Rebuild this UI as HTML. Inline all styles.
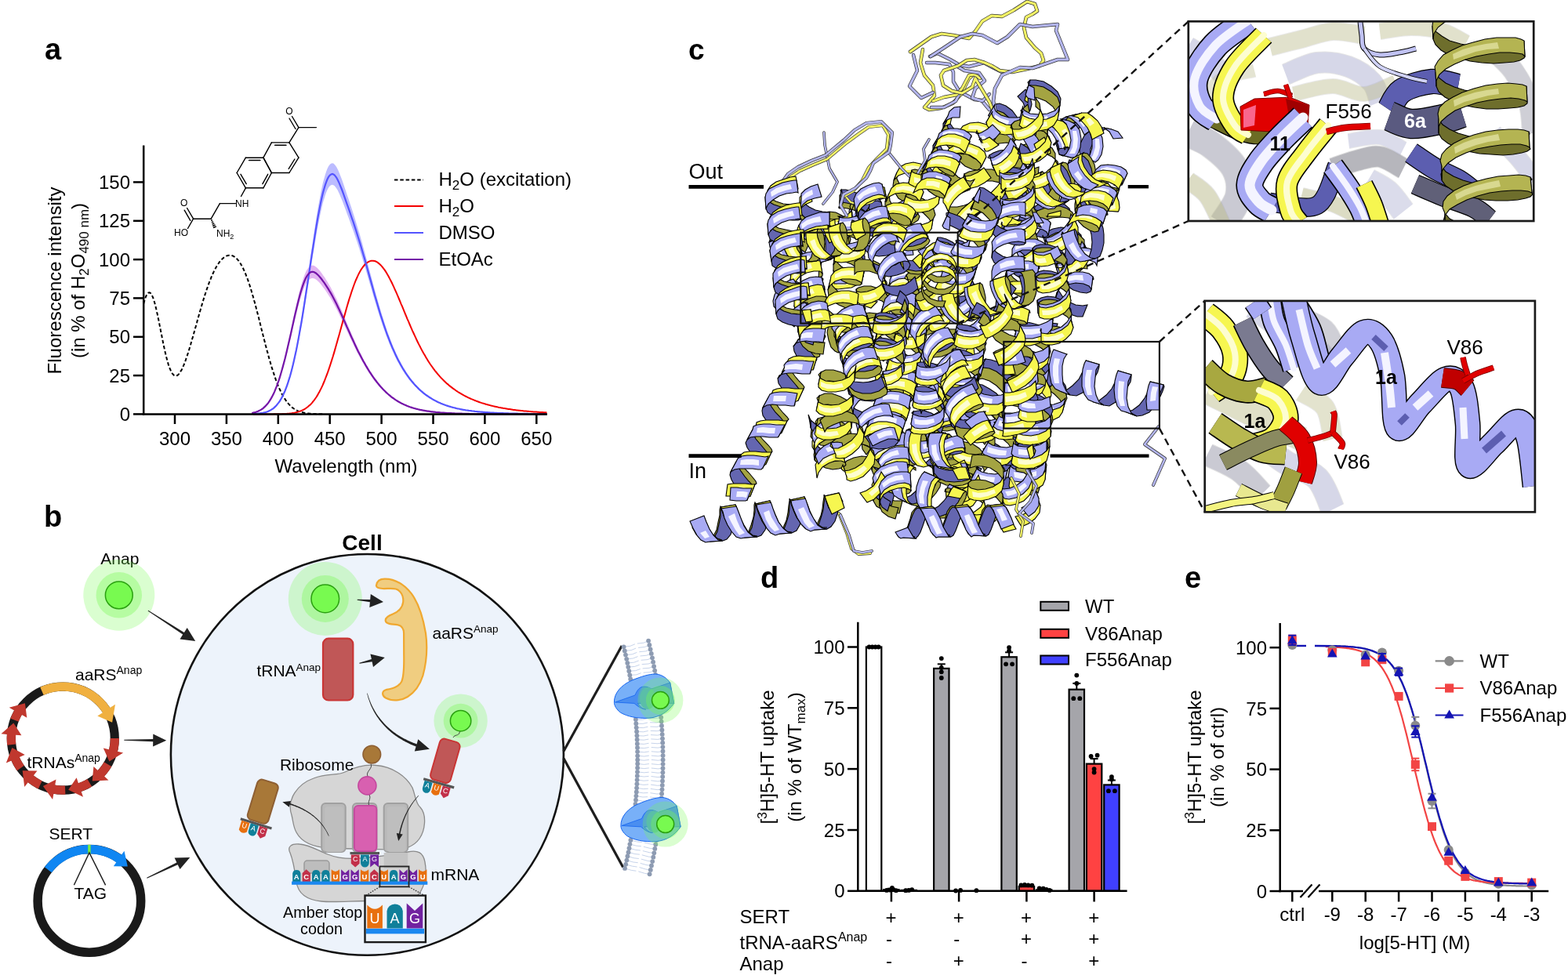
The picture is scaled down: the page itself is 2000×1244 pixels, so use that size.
<!DOCTYPE html>
<html><head><meta charset="utf-8"><title>Figure</title>
<style>
html,body{margin:0;padding:0;background:#fff;}
body{width:2000px;height:1244px;overflow:hidden;}
svg{display:block;font-family:"Liberation Sans",Arial,sans-serif;}
.lf{fill:#a8aaf4;stroke:#000;stroke-width:1.1}.lb{fill:#6466b0;stroke:#000;stroke-width:1.1}.lh{fill:#f4f4ff}.yf{fill:#f6f650;stroke:#000;stroke-width:1.1}.yb{fill:#a4a442;stroke:#000;stroke-width:1.1}.yh{fill:#fdfdd0}.of{fill:#b4b452;stroke:#000;stroke-width:1.1}.ob{fill:#6e6e2c;stroke:#000;stroke-width:1.1}.oh{fill:#d8d890}.df{fill:#7c7ecc;stroke:#000;stroke-width:1.1}.db{fill:#3e3e90;stroke:#000;stroke-width:1.1}.dh{fill:#b0b2ea}.tb{fill:none;stroke-linejoin:round;stroke-linecap:round}
</style></head>
<body>
<svg width="2000" height="1244" viewBox="0 0 2000 1244">
<rect width="2000" height="1244" fill="#fff"/>
<!-- panel_a -->
<text x="57" y="76" font-size="38" font-weight="bold">a</text>
<g stroke="#000" stroke-width="1.4" fill="none" stroke-linecap="round">
<line x1="368.9" y1="181.9" x2="380.9" y2="201.2" stroke="#000" stroke-width="1.4"/>
<line x1="380.9" y1="201.2" x2="368.9" y2="220.5" stroke="#000" stroke-width="1.4"/>
<line x1="368.9" y1="220.5" x2="346.4" y2="220.5" stroke="#000" stroke-width="1.4"/>
<line x1="346.4" y1="220.5" x2="335.9" y2="201.2" stroke="#000" stroke-width="1.4"/>
<line x1="335.9" y1="201.2" x2="346.4" y2="181.9" stroke="#000" stroke-width="1.4"/>
<line x1="346.4" y1="181.9" x2="368.9" y2="181.9" stroke="#000" stroke-width="1.4"/>
<line x1="335.9" y1="201.2" x2="346.4" y2="220.5" stroke="#000" stroke-width="1.4"/>
<line x1="346.4" y1="220.5" x2="335.9" y2="239.8" stroke="#000" stroke-width="1.4"/>
<line x1="335.9" y1="239.8" x2="313.4" y2="239.8" stroke="#000" stroke-width="1.4"/>
<line x1="313.4" y1="239.8" x2="302.1" y2="220.5" stroke="#000" stroke-width="1.4"/>
<line x1="302.1" y1="220.5" x2="313.4" y2="201.2" stroke="#000" stroke-width="1.4"/>
<line x1="313.4" y1="201.2" x2="335.9" y2="201.2" stroke="#000" stroke-width="1.4"/>
<line x1="365" y1="185.2" x2="350.6" y2="185.2" stroke="#000" stroke-width="1.4"/>
<line x1="375.9" y1="203" x2="368.2" y2="215.4" stroke="#000" stroke-width="1.4"/>
<line x1="334.9" y1="234.7" x2="341.7" y2="222.3" stroke="#000" stroke-width="1.4"/>
<line x1="314.2" y1="234.7" x2="307" y2="222.3" stroke="#000" stroke-width="1.4"/>
<line x1="317.5" y1="204.5" x2="331.9" y2="204.5" stroke="#000" stroke-width="1.4"/>
<line x1="368.9" y1="181.9" x2="380.9" y2="162.6" stroke="#000" stroke-width="1.4"/>
<line x1="380.9" y1="162.6" x2="403.4" y2="162.6" stroke="#000" stroke-width="1.4"/>
<line x1="380.9" y1="162.6" x2="372.5" y2="148.5" stroke="#000" stroke-width="1.4"/>
<line x1="377" y1="164.5" x2="369" y2="151" stroke="#000" stroke-width="1.4"/>
<line x1="313.4" y1="239.8" x2="307.5" y2="250.5" stroke="#000" stroke-width="1.4"/>
<line x1="300.5" y1="259.6" x2="280.4" y2="259.6" stroke="#000" stroke-width="1.4"/>
<line x1="280.4" y1="259.6" x2="269.2" y2="279.2" stroke="#000" stroke-width="1.4"/>
<line x1="269.2" y1="279.2" x2="246.6" y2="279.2" stroke="#000" stroke-width="1.4"/>
<line x1="246.6" y1="279.2" x2="238.6" y2="265.5" stroke="#000" stroke-width="1.4"/>
<line x1="242.8" y1="281.3" x2="235.2" y2="268.2" stroke="#000" stroke-width="1.4"/>
<line x1="246.6" y1="279.2" x2="239.5" y2="291.5" stroke="#000" stroke-width="1.4"/>
</g>
<g stroke="#000" stroke-width="1.6">
<line x1="269.2" y1="281.5" x2="270.9" y2="280.8" stroke="#000" stroke-width="1.6"/>
<line x1="269.9" y1="283.7" x2="272.1" y2="282.9" stroke="#000" stroke-width="1.6"/>
<line x1="270.6" y1="286" x2="273.3" y2="284.9" stroke="#000" stroke-width="1.6"/>
<line x1="271.2" y1="288.3" x2="274.6" y2="287" stroke="#000" stroke-width="1.6"/>
<line x1="271.9" y1="290.6" x2="275.8" y2="289.1" stroke="#000" stroke-width="1.6"/>
</g>
<g font-size="12">
<text x="368.9" y="146" font-size="12" text-anchor="middle">O</text>
<text x="300" y="264" font-size="12">NH</text>
<text x="234.6" y="262.5" font-size="12" text-anchor="middle">O</text>
<text x="222" y="301" font-size="12">HO</text>
<text x="276" y="302" font-size="12">NH<tspan font-size="9" dy="3">2</tspan></text>
</g>
<path d="M322.5,527.5 L323.8,527.5 L325.1,527.4 L326.5,527.3 L327.8,527.2 L329.1,527.1 L330.4,527 L331.7,526.8 L333.1,526.6 L334.4,526.4 L335.7,526.1 L337,525.8 L338.3,525.5 L339.6,525.1 L341,524.6 L342.3,524.1 L343.6,523.5 L344.9,522.8 L346.2,522 L347.6,521.2 L348.9,520.2 L350.2,519 L351.5,517.8 L352.8,516.4 L354.1,514.8 L355.5,513 L356.8,511 L358.1,508.8 L359.4,506.4 L360.7,503.8 L362,500.9 L363.4,497.7 L364.7,494.3 L366,490.5 L367.3,486.5 L368.6,482.2 L370,477.6 L371.3,472.6 L372.6,467.4 L373.9,461.8 L375.2,455.9 L376.5,449.6 L377.9,443.1 L379.2,436.2 L380.5,429 L381.8,421.5 L383.1,413.7 L384.5,405.7 L385.8,397.4 L387.1,388.9 L388.4,380.3 L389.7,371.4 L391,362.4 L392.4,353.4 L393.7,344.2 L395,335 L396.3,325.9 L397.6,316.8 L399,307.8 L400.3,298.9 L401.6,290.3 L402.9,281.8 L404.2,273.6 L405.5,265.8 L406.9,258.3 L408.2,251.2 L409.5,244.5 L410.8,238.3 L412.1,232.6 L413.5,227.5 L414.8,222.9 L416.1,218.9 L417.4,215.5 L418.7,212.8 L420,210.7 L421.4,209.2 L422.7,208.4 L424,208.2 L425.3,208.6 L426.6,209.7 L427.9,211.2 L429.3,213.3 L430.6,215.7 L431.9,218.5 L433.2,221.7 L434.5,225 L435.9,228.6 L437.2,232.3 L438.5,236.1 L439.8,239.9 L441.1,243.8 L442.4,247.7 L443.8,251.7 L445.1,255.6 L446.4,259.6 L447.7,263.6 L449,267.6 L450.4,271.7 L451.7,275.8 L453,280 L454.3,284.2 L455.6,288.5 L456.9,292.9 L458.3,297.3 L459.6,301.8 L460.9,306.5 L462.2,311.1 L463.5,315.9 L464.9,320.7 L466.2,325.5 L467.5,330.4 L468.8,335.4 L470.1,340.3 L471.4,345.3 L472.8,350.2 L474.1,355.2 L475.4,360.1 L476.7,365 L478,369.8 L479.4,374.6 L480.7,379.4 L482,384 L483.3,388.6 L484.6,393.1 L485.9,397.6 L487.3,401.9 L488.6,406.1 L489.9,410.3 L491.2,414.3 L492.5,418.2 L493.8,422 L495.2,425.8 L496.5,429.4 L497.8,432.9 L499.1,436.3 L500.4,439.6 L501.8,442.8 L503.1,445.8 L504.4,448.8 L505.7,451.7 L507,454.5 L508.3,457.2 L509.7,459.8 L511,462.3 L512.3,464.8 L513.6,467.1 L514.9,469.4 L516.3,471.6 L517.6,473.7 L518.9,475.7 L520.2,477.7 L521.5,479.6 L522.8,481.4 L524.2,483.2 L525.5,484.9 L526.8,486.5 L528.1,488.1 L529.4,489.7 L530.8,491.1 L532.1,492.5 L533.4,493.9 L534.7,495.2 L536,496.5 L537.3,497.7 L538.7,498.9 L540,500 L541.3,501.1 L542.6,502.2 L543.9,503.2 L545.3,504.2 L546.6,505.1 L547.9,506 L549.2,506.9 L550.5,507.8 L551.8,508.6 L553.2,509.3 L554.5,510.1 L555.8,510.8 L557.1,511.5 L558.4,512.2 L559.7,512.8 L561.1,513.4 L562.4,514 L563.7,514.6 L565,515.1 L566.3,515.6 L567.7,516.1 L569,516.6 L570.3,517 L571.6,517.5 L572.9,517.9 L574.2,518.3 L575.6,518.7 L576.9,519 L578.2,519.4 L579.5,519.7 L580.8,520.1 L582.2,520.4 L583.5,520.7 L584.8,521 L586.1,521.2 L587.4,521.5 L588.7,521.7 L590.1,522 L591.4,522.2 L592.7,522.5 L594,522.7 L595.3,522.9 L596.7,523.1 L598,523.3 L599.3,523.4 L600.6,523.6 L601.9,523.8 L603.2,524 L604.6,524.1 L605.9,524.3 L607.2,524.4 L608.5,524.5 L609.8,524.7 L611.2,524.8 L612.5,524.9 L613.8,525 L615.1,525.1 L616.4,525.3 L617.7,525.4 L619.1,525.5 L620.4,525.5 L621.7,525.6 L623,525.7 L624.3,525.8 L625.6,525.9 L627,526 L628.3,526 L629.6,526.1 L630.9,526.2 L632.2,526.2 L633.6,526.3 L634.9,526.4 L636.2,526.4 L637.5,526.5 L638.8,526.5 L640.1,526.6 L641.5,526.6 L642.8,526.7 L644.1,526.7 L645.4,526.8 L646.7,526.8 L648.1,526.8 L649.4,526.9 L650.7,526.9 L652,527 L653.3,527 L654.6,527 L656,527 L657.3,527.1 L658.6,527.1 L659.9,527.1 L661.2,527.2 L662.6,527.2 L663.9,527.2 L665.2,527.2 L666.5,527.3 L667.8,527.3 L669.1,527.3 L670.5,527.3 L671.8,527.3 L673.1,527.4 L674.4,527.4 L675.7,527.4 L677.1,527.4 L678.4,527.4 L679.7,527.4 L681,527.4 L682.3,527.5 L683.6,527.5 L685,527.5 L686.3,527.5 L687.6,527.5 L688.9,527.5 L690.2,527.5 L691.5,527.5 L692.9,527.6 L694.2,527.6 L695.5,527.6 L696.8,527.6 L696.8,528.4 L695.5,528.4 L694.2,528.4 L692.9,528.4 L691.5,528.4 L690.2,528.4 L688.9,528.4 L687.6,528.4 L686.3,528.4 L685,528.4 L683.6,528.4 L682.3,528.4 L681,528.4 L679.7,528.4 L678.4,528.4 L677.1,528.4 L675.7,528.4 L674.4,528.4 L673.1,528.4 L671.8,528.4 L670.5,528.4 L669.1,528.4 L667.8,528.4 L666.5,528.4 L665.2,528.4 L663.9,528.4 L662.6,528.4 L661.2,528.3 L659.9,528.3 L658.6,528.3 L657.3,528.3 L656,528.2 L654.6,528.2 L653.3,528.2 L652,528.1 L650.7,528.1 L649.4,528.1 L648.1,528 L646.7,528 L645.4,527.9 L644.1,527.9 L642.8,527.9 L641.5,527.8 L640.1,527.8 L638.8,527.7 L637.5,527.7 L636.2,527.6 L634.9,527.5 L633.6,527.5 L632.2,527.4 L630.9,527.4 L629.6,527.3 L628.3,527.2 L627,527.1 L625.6,527.1 L624.3,527 L623,526.9 L621.7,526.8 L620.4,526.7 L619.1,526.6 L617.7,526.5 L616.4,526.4 L615.1,526.3 L613.8,526.2 L612.5,526.1 L611.2,526 L609.8,525.9 L608.5,525.7 L607.2,525.6 L605.9,525.4 L604.6,525.3 L603.2,525.1 L601.9,525 L600.6,524.8 L599.3,524.6 L598,524.5 L596.7,524.3 L595.3,524.1 L594,523.9 L592.7,523.6 L591.4,523.4 L590.1,523.2 L588.7,522.9 L587.4,522.7 L586.1,522.4 L584.8,522.1 L583.5,521.8 L582.2,521.5 L580.8,521.2 L579.5,520.9 L578.2,520.6 L576.9,520.2 L575.6,519.9 L574.2,519.5 L572.9,519.1 L571.6,518.7 L570.3,518.2 L569,517.8 L567.7,517.3 L566.3,516.8 L565,516.3 L563.7,515.8 L562.4,515.3 L561.1,514.7 L559.7,514.2 L558.4,513.6 L557.1,513 L555.8,512.3 L554.5,511.7 L553.2,511 L551.8,510.3 L550.5,509.5 L549.2,508.8 L547.9,508 L546.6,507.1 L545.3,506.3 L543.9,505.4 L542.6,504.4 L541.3,503.5 L540,502.5 L538.7,501.4 L537.3,500.4 L536,499.2 L534.7,498.1 L533.4,496.9 L532.1,495.6 L530.8,494.3 L529.4,493 L528.1,491.6 L526.8,490.1 L525.5,488.6 L524.2,487.1 L522.8,485.5 L521.5,483.8 L520.2,482.1 L518.9,480.3 L517.6,478.4 L516.3,476.5 L514.9,474.5 L513.6,472.4 L512.3,470.3 L511,468 L509.7,465.7 L508.3,463.3 L507,460.9 L505.7,458.3 L504.4,455.7 L503.1,453 L501.8,450.1 L500.4,447.2 L499.1,444.2 L497.8,441.1 L496.5,437.9 L495.2,434.6 L493.8,431.2 L492.5,427.7 L491.2,424.1 L489.9,420.4 L488.6,416.7 L487.3,412.8 L485.9,408.8 L484.6,404.8 L483.3,400.7 L482,396.5 L480.7,392.2 L479.4,387.9 L478,383.5 L476.7,379.1 L475.4,374.6 L474.1,370.1 L472.8,365.6 L471.4,361 L470.1,356.5 L468.8,352 L467.5,347.5 L466.2,343 L464.9,338.6 L463.5,334.2 L462.2,329.8 L460.9,325.6 L459.6,321.4 L458.3,317.2 L456.9,313.1 L455.6,309.1 L454.3,305.2 L453,301.4 L451.7,297.5 L450.4,293.8 L449,290.1 L447.7,286.4 L446.4,282.8 L445.1,279.1 L443.8,275.5 L442.4,271.9 L441.1,268.3 L439.8,264.8 L438.5,261.3 L437.2,257.8 L435.9,254.4 L434.5,251.2 L433.2,248.1 L431.9,245.2 L430.6,242.6 L429.3,240.4 L427.9,238.5 L426.6,237.1 L425.3,236.2 L424,235.8 L422.7,236 L421.4,236.7 L420,238 L418.7,240 L417.4,242.5 L416.1,245.6 L414.8,249.2 L413.5,253.4 L412.1,258.1 L410.8,263.3 L409.5,269 L408.2,275.1 L406.9,281.5 L405.5,288.4 L404.2,295.6 L402.9,303 L401.6,310.8 L400.3,318.7 L399,326.8 L397.6,335 L396.3,343.3 L395,351.7 L393.7,360.1 L392.4,368.4 L391,376.7 L389.7,384.9 L388.4,393 L387.1,401 L385.8,408.7 L384.5,416.3 L383.1,423.6 L381.8,430.7 L380.5,437.5 L379.2,444.1 L377.9,450.4 L376.5,456.4 L375.2,462.1 L373.9,467.5 L372.6,472.6 L371.3,477.5 L370,482 L368.6,486.2 L367.3,490.1 L366,493.8 L364.7,497.2 L363.4,500.3 L362,503.2 L360.7,505.9 L359.4,508.3 L358.1,510.5 L356.8,512.5 L355.5,514.4 L354.1,516 L352.8,517.6 L351.5,519 L350.2,520.2 L348.9,521.4 L347.6,522.3 L346.2,523.2 L344.9,524 L343.6,524.7 L342.3,525.3 L341,525.8 L339.6,526.3 L338.3,526.7 L337,527 L335.7,527.3 L334.4,527.6 L333.1,527.8 L331.7,528 L330.4,528.2 L329.1,528.3 L327.8,528.4 L326.5,528.4 L325.1,528.4 L323.8,528.4 L322.5,528.4Z" fill="#b8b8ff" opacity="0.95"/>
<path d="M321.2,526.4 L322.5,526.2 L323.8,525.9 L325.1,525.5 L326.5,525.1 L327.8,524.6 L329.1,524.1 L330.4,523.5 L331.7,522.8 L333.1,522 L334.4,521.2 L335.7,520.2 L337,519.1 L338.3,517.8 L339.6,516.4 L341,514.9 L342.3,513.1 L343.6,511.2 L344.9,509 L346.2,506.6 L347.6,504.1 L348.9,501.3 L350.2,498.3 L351.5,495 L352.8,491.5 L354.1,487.8 L355.5,483.8 L356.8,479.5 L358.1,475 L359.4,470.3 L360.7,465.4 L362,460.2 L363.4,454.8 L364.7,449.3 L366,443.6 L367.3,437.7 L368.6,431.7 L370,425.6 L371.3,419.5 L372.6,413.3 L373.9,407.1 L375.2,401 L376.5,395 L377.9,389.1 L379.2,383.3 L380.5,377.8 L381.8,372.4 L383.1,367.4 L384.5,362.7 L385.8,358.4 L387.1,354.4 L388.4,350.9 L389.7,347.7 L391,345.1 L392.4,342.9 L393.7,341.2 L395,339.9 L396.3,339.1 L397.6,338.7 L399,338.6 L400.3,338.9 L401.6,339.6 L402.9,340.4 L404.2,341.5 L405.5,342.8 L406.9,344.3 L408.2,345.8 L409.5,347.5 L410.8,349.3 L412.1,351.2 L413.5,353.1 L414.8,355.1 L416.1,357.2 L417.4,359.3 L418.7,361.5 L420,363.8 L421.4,366.1 L422.7,368.5 L424,371 L425.3,373.5 L426.6,376.2 L427.9,378.9 L429.3,381.6 L430.6,384.5 L431.9,387.4 L433.2,390.3 L434.5,393.3 L435.9,396.3 L437.2,399.4 L438.5,402.5 L439.8,405.6 L441.1,408.7 L442.4,411.8 L443.8,415 L445.1,418.1 L446.4,421.2 L447.7,424.2 L449,427.3 L450.4,430.3 L451.7,433.3 L453,436.2 L454.3,439.1 L455.6,442 L456.9,444.8 L458.3,447.5 L459.6,450.2 L460.9,452.8 L462.2,455.4 L463.5,457.9 L464.9,460.4 L466.2,462.8 L467.5,465.2 L468.8,467.5 L470.1,469.7 L471.4,471.9 L472.8,474 L474.1,476.1 L475.4,478.1 L476.7,480.1 L478,482 L479.4,483.8 L480.7,485.6 L482,487.4 L483.3,489 L484.6,490.7 L485.9,492.2 L487.3,493.8 L488.6,495.2 L489.9,496.7 L491.2,498 L492.5,499.3 L493.8,500.6 L495.2,501.9 L496.5,503 L497.8,504.2 L499.1,505.3 L500.4,506.3 L501.8,507.3 L503.1,508.3 L504.4,509.2 L505.7,510.1 L507,511 L508.3,511.8 L509.7,512.6 L511,513.3 L512.3,514.1 L513.6,514.7 L514.9,515.4 L516.3,516 L517.6,516.5 L518.9,517.1 L520.2,517.6 L521.5,518.1 L522.8,518.6 L524.2,519 L525.5,519.5 L526.8,519.9 L528.1,520.3 L529.4,520.7 L530.8,521 L532.1,521.4 L533.4,521.7 L534.7,522 L536,522.3 L537.3,522.6 L538.7,522.8 L540,523.1 L541.3,523.3 L542.6,523.5 L543.9,523.8 L545.3,524 L546.6,524.2 L547.9,524.3 L549.2,524.5 L550.5,524.7 L551.8,524.8 L553.2,525 L554.5,525.1 L555.8,525.3 L557.1,525.4 L558.4,525.5 L559.7,525.6 L561.1,525.8 L562.4,525.9 L563.7,526 L565,526.1 L566.3,526.1 L567.7,526.2 L569,526.3 L570.3,526.4 L571.6,526.5 L572.9,526.5 L574.2,526.6 L575.6,526.7 L576.9,526.7 L578.2,526.8 L579.5,526.8 L580.8,526.9 L582.2,526.9 L583.5,527 L584.8,527 L586.1,527.1 L587.4,527.1 L588.7,527.1 L590.1,527.2 L591.4,527.2 L592.7,527.2 L594,527.3 L595.3,527.3 L596.7,527.3 L598,527.3 L599.3,527.4 L600.6,527.4 L601.9,527.4 L603.2,527.4 L604.6,527.4 L605.9,527.5 L607.2,527.5 L608.5,527.5 L609.8,527.5 L611.2,527.5 L612.5,527.5 L613.8,527.6 L615.1,527.6 L616.4,527.6 L617.7,527.6 L619.1,527.6 L620.4,527.6 L621.7,527.6 L623,527.6 L624.3,527.6 L625.6,527.6 L627,527.7 L628.3,527.7 L629.6,527.7 L630.9,527.7 L632.2,527.7 L633.6,527.7 L634.9,527.7 L636.2,527.7 L637.5,527.7 L638.8,527.7 L640.1,527.7 L641.5,527.7 L642.8,527.7 L644.1,527.7 L645.4,527.7 L646.7,527.7 L648.1,527.7 L649.4,527.7 L650.7,527.7 L652,527.7 L653.3,527.8 L654.6,527.8 L656,527.8 L657.3,527.8 L658.6,527.8 L659.9,527.8 L661.2,527.8 L662.6,527.8 L663.9,527.8 L665.2,527.8 L666.5,527.8 L667.8,527.8 L669.1,527.8 L670.5,527.8 L671.8,527.8 L673.1,527.8 L674.4,527.8 L675.7,527.8 L677.1,527.8 L678.4,527.8 L679.7,527.8 L681,527.8 L682.3,527.8 L683.6,527.8 L685,527.8 L686.3,527.8 L687.6,527.8 L688.9,527.8 L690.2,527.8 L691.5,527.8 L692.9,527.8 L694.2,527.8 L695.5,527.8 L696.8,527.8 L696.8,528.4 L695.5,528.4 L694.2,528.4 L692.9,528.4 L691.5,528.4 L690.2,528.4 L688.9,528.4 L687.6,528.4 L686.3,528.4 L685,528.4 L683.6,528.4 L682.3,528.4 L681,528.4 L679.7,528.4 L678.4,528.4 L677.1,528.4 L675.7,528.4 L674.4,528.4 L673.1,528.4 L671.8,528.4 L670.5,528.4 L669.1,528.4 L667.8,528.4 L666.5,528.4 L665.2,528.4 L663.9,528.4 L662.6,528.4 L661.2,528.4 L659.9,528.4 L658.6,528.4 L657.3,528.4 L656,528.4 L654.6,528.4 L653.3,528.4 L652,528.4 L650.7,528.4 L649.4,528.4 L648.1,528.4 L646.7,528.4 L645.4,528.4 L644.1,528.4 L642.8,528.4 L641.5,528.4 L640.1,528.4 L638.8,528.4 L637.5,528.4 L636.2,528.4 L634.9,528.4 L633.6,528.4 L632.2,528.4 L630.9,528.4 L629.6,528.4 L628.3,528.4 L627,528.4 L625.6,528.4 L624.3,528.4 L623,528.4 L621.7,528.4 L620.4,528.4 L619.1,528.4 L617.7,528.4 L616.4,528.4 L615.1,528.4 L613.8,528.4 L612.5,528.4 L611.2,528.4 L609.8,528.4 L608.5,528.4 L607.2,528.4 L605.9,528.4 L604.6,528.4 L603.2,528.4 L601.9,528.4 L600.6,528.4 L599.3,528.4 L598,528.4 L596.7,528.4 L595.3,528.4 L594,528.4 L592.7,528.4 L591.4,528.4 L590.1,528.3 L588.7,528.3 L587.4,528.3 L586.1,528.2 L584.8,528.2 L583.5,528.2 L582.2,528.1 L580.8,528.1 L579.5,528 L578.2,528 L576.9,527.9 L575.6,527.8 L574.2,527.8 L572.9,527.7 L571.6,527.6 L570.3,527.6 L569,527.5 L567.7,527.4 L566.3,527.3 L565,527.2 L563.7,527.1 L562.4,527 L561.1,526.9 L559.7,526.8 L558.4,526.7 L557.1,526.6 L555.8,526.5 L554.5,526.3 L553.2,526.2 L551.8,526 L550.5,525.9 L549.2,525.7 L547.9,525.5 L546.6,525.3 L545.3,525.1 L543.9,524.9 L542.6,524.7 L541.3,524.5 L540,524.3 L538.7,524 L537.3,523.7 L536,523.5 L534.7,523.2 L533.4,522.9 L532.1,522.5 L530.8,522.2 L529.4,521.8 L528.1,521.5 L526.8,521.1 L525.5,520.7 L524.2,520.2 L522.8,519.8 L521.5,519.3 L520.2,518.8 L518.9,518.3 L517.6,517.7 L516.3,517.1 L514.9,516.5 L513.6,515.9 L512.3,515.3 L511,514.6 L509.7,513.9 L508.3,513.2 L507,512.5 L505.7,511.7 L504.4,510.9 L503.1,510 L501.8,509.1 L500.4,508.2 L499.1,507.3 L497.8,506.3 L496.5,505.2 L495.2,504.1 L493.8,503 L492.5,501.9 L491.2,500.6 L489.9,499.4 L488.6,498.1 L487.3,496.7 L485.9,495.4 L484.6,493.9 L483.3,492.4 L482,490.9 L480.7,489.3 L479.4,487.7 L478,486 L476.7,484.3 L475.4,482.5 L474.1,480.6 L472.8,478.7 L471.4,476.8 L470.1,474.8 L468.8,472.7 L467.5,470.6 L466.2,468.5 L464.9,466.3 L463.5,464 L462.2,461.7 L460.9,459.3 L459.6,456.9 L458.3,454.5 L456.9,452 L455.6,449.4 L454.3,446.8 L453,444.2 L451.7,441.5 L450.4,438.8 L449,436 L447.7,433.2 L446.4,430.4 L445.1,427.6 L443.8,424.7 L442.4,421.9 L441.1,419 L439.8,416.2 L438.5,413.3 L437.2,410.5 L435.9,407.7 L434.5,404.9 L433.2,402.2 L431.9,399.5 L430.6,396.9 L429.3,394.3 L427.9,391.7 L426.6,389.3 L425.3,386.9 L424,384.6 L422.7,382.3 L421.4,380.1 L420,378 L418.7,375.9 L417.4,373.9 L416.1,371.9 L414.8,370 L413.5,368.2 L412.1,366.4 L410.8,364.7 L409.5,363.1 L408.2,361.6 L406.9,360.1 L405.5,358.8 L404.2,357.6 L402.9,356.6 L401.6,355.8 L400.3,355.3 L399,355 L397.6,355 L396.3,355.4 L395,356.2 L393.7,357.3 L392.4,358.9 L391,360.9 L389.7,363.3 L388.4,366.1 L387.1,369.4 L385.8,373 L384.5,377 L383.1,381.3 L381.8,385.9 L380.5,390.7 L379.2,395.8 L377.9,401.1 L376.5,406.5 L375.2,412 L373.9,417.6 L372.6,423.2 L371.3,428.9 L370,434.5 L368.6,440 L367.3,445.5 L366,450.9 L364.7,456.1 L363.4,461.2 L362,466.1 L360.7,470.8 L359.4,475.3 L358.1,479.6 L356.8,483.7 L355.5,487.6 L354.1,491.3 L352.8,494.7 L351.5,497.9 L350.2,500.9 L348.9,503.6 L347.6,506.2 L346.2,508.5 L344.9,510.7 L343.6,512.6 L342.3,514.4 L341,516.1 L339.6,517.6 L338.3,519 L337,520.2 L335.7,521.4 L334.4,522.3 L333.1,523.2 L331.7,524 L330.4,524.7 L329.1,525.3 L327.8,525.8 L326.5,526.3 L325.1,526.7 L323.8,527 L322.5,527.3 L321.2,527.6Z" fill="#e0b0f0" opacity="0.95"/>
<path d="M183.2,387.4 L183.9,385 L184.5,382.8 L185.2,380.8 L185.8,379 L186.5,377.5 L187.2,376.2 L187.8,375.1 L188.5,374.3 L189.1,373.7 L189.8,373.4 L190.4,373.3 L191.1,373.5 L191.8,373.9 L192.4,374.6 L193.1,375.5 L193.7,376.6 L194.4,378 L195.1,379.6 L195.7,381.4 L196.4,383.4 L197,385.6 L197.7,388 L198.4,390.5 L199,393.2 L199.7,396 L200.3,399 L201,402 L201.6,405.1 L202.3,408.3 L203,411.6 L203.6,414.9 L204.3,418.3 L204.9,421.6 L205.6,425 L206.3,428.3 L206.9,431.6 L207.6,434.9 L208.2,438.1 L208.9,441.3 L209.6,444.4 L210.2,447.3 L210.9,450.2 L211.5,453 L212.2,455.7 L212.9,458.2 L213.5,460.6 L214.2,462.9 L214.8,465.1 L215.5,467.1 L216.1,468.9 L216.8,470.6 L217.5,472.2 L218.1,473.6 L218.8,474.9 L219.4,476 L220.1,476.9 L220.8,477.7 L221.4,478.4 L222.1,478.9 L222.7,479.2 L223.4,479.5 L224.1,479.5 L224.7,479.5 L225.4,479.3 L226,479 L226.7,478.6 L227.3,478 L228,477.4 L228.7,476.6 L229.3,475.7 L230,474.7 L230.6,473.6 L231.3,472.4 L232,471.2 L232.6,469.8 L233.3,468.4 L233.9,466.9 L234.6,465.3 L235.3,463.6 L235.9,461.9 L236.6,460.1 L237.2,458.2 L237.9,456.3 L238.6,454.4 L239.2,452.4 L239.9,450.3 L240.5,448.2 L241.2,446.1 L241.8,444 L242.5,441.8 L243.2,439.5 L243.8,437.3 L244.5,435 L245.1,432.7 L245.8,430.4 L246.5,428.1 L247.1,425.7 L247.8,423.4 L248.4,421 L249.1,418.6 L249.8,416.3 L250.4,413.9 L251.1,411.5 L251.7,409.2 L252.4,406.8 L253.1,404.4 L253.7,402.1 L254.4,399.8 L255,397.5 L255.7,395.2 L256.3,392.9 L257,390.6 L257.7,388.4 L258.3,386.2 L259,384 L259.6,381.9 L260.3,379.7 L261,377.6 L261.6,375.6 L262.3,373.5 L262.9,371.5 L263.6,369.6 L264.3,367.7 L264.9,365.8 L265.6,363.9 L266.2,362.1 L266.9,360.4 L267.5,358.6 L268.2,357 L268.9,355.3 L269.5,353.7 L270.2,352.2 L270.8,350.7 L271.5,349.2 L272.2,347.8 L272.8,346.4 L273.5,345.1 L274.1,343.8 L274.8,342.5 L275.5,341.3 L276.1,340.2 L276.8,339.1 L277.4,338 L278.1,337 L278.8,336 L279.4,335.1 L280.1,334.2 L280.7,333.4 L281.4,332.6 L282,331.8 L282.7,331.1 L283.4,330.5 L284,329.9 L284.7,329.3 L285.3,328.7 L286,328.2 L286.7,327.8 L287.3,327.4 L288,327 L288.6,326.7 L289.3,326.4 L290,326.2 L290.6,326 L291.3,325.9 L291.9,325.8 L292.6,325.7 L293.2,325.7 L293.9,325.7 L294.6,325.8 L295.2,325.9 L295.9,326.1 L296.5,326.3 L297.2,326.6 L297.9,326.9 L298.5,327.3 L299.2,327.7 L299.8,328.2 L300.5,328.7 L301.2,329.3 L301.8,329.9 L302.5,330.6 L303.1,331.3 L303.8,332.1 L304.5,332.9 L305.1,333.8 L305.8,334.8 L306.4,335.8 L307.1,336.8 L307.7,337.9 L308.4,339.1 L309.1,340.4 L309.7,341.6 L310.4,343 L311,344.4 L311.7,345.9 L312.4,347.4 L313,349 L313.7,350.6 L314.3,352.3 L315,354 L315.7,355.8 L316.3,357.7 L317,359.6 L317.6,361.5 L318.3,363.5 L319,365.6 L319.6,367.7 L320.3,369.8 L320.9,372 L321.6,374.2 L322.2,376.5 L322.9,378.8 L323.6,381.2 L324.2,383.6 L324.9,386 L325.5,388.4 L326.2,390.9 L326.9,393.4 L327.5,395.9 L328.2,398.5 L328.8,401.1 L329.5,403.6 L330.2,406.2 L330.8,408.9 L331.5,411.5 L332.1,414.1 L332.8,416.7 L333.4,419.4 L334.1,422 L334.8,424.6 L335.4,427.2 L336.1,429.8 L336.7,432.4 L337.4,435 L338.1,437.6 L338.7,440.2 L339.4,442.7 L340,445.2 L340.7,447.7 L341.4,450.1 L342,452.6 L342.7,455 L343.3,457.3 L344,459.7 L344.7,462 L345.3,464.2 L346,466.4 L346.6,468.6 L347.3,470.8 L347.9,472.9 L348.6,474.9 L349.3,476.9 L349.9,478.9 L350.6,480.8 L351.2,482.7 L351.9,484.6 L352.6,486.3 L353.2,488.1 L353.9,489.8 L354.5,491.4 L355.2,493 L355.9,494.6 L356.5,496.1 L357.2,497.5 L357.8,498.9 L358.5,500.3 L359.1,501.6 L359.8,502.9 L360.5,504.1 L361.1,505.3 L361.8,506.5 L362.4,507.6 L363.1,508.6 L363.8,509.6 L364.4,510.6 L365.1,511.6 L365.7,512.5 L366.4,513.3 L367.1,514.1 L367.7,514.9 L368.4,515.7 L369,516.4 L369.7,517.1 L370.4,517.7 L371,518.4 L371.7,518.9 L372.3,519.5 L373,520 L373.6,520.6 L374.3,521 L375,521.5 L375.6,521.9 L376.3,522.3 L376.9,522.7 L377.6,523.1 L378.3,523.4 L378.9,523.8 L379.6,524.1 L380.2,524.4 L380.9,524.6 L381.6,524.9 L382.2,525.1 L382.9,525.4 L383.5,525.6 L384.2,525.8 L384.9,526 L385.5,526.1 L386.2,526.3 L386.8,526.5 L387.5,526.6 L388.1,526.7 L388.8,526.9 L389.5,527 L390.1,527.1 L390.8,527.2 L391.4,527.3 L392.1,527.4 L392.8,527.5 L393.4,527.5 L394.1,527.6 L394.7,527.7 L395.4,527.7 L396.1,527.8 L396.7,527.8 L397.4,527.9 L398,527.9 L398.7,528 L399.3,528 L400,528 L400.7,528.1 L401.3,528.1 L402,528.1 L402.6,528.1 L403.3,528.2 L404,528.2 L404.6,528.2 L405.3,528.2 L405.9,528.2 L406.6,528.3 L407.3,528.3 L407.9,528.3 L408.6,528.3 L409.2,528.3 L409.9,528.3 L410.6,528.3 L411.2,528.3 L411.9,528.3 L412.5,528.3 L413.2,528.3 L413.8,528.4" fill="none" stroke="#000" stroke-width="2" stroke-dasharray="4.5,2.8"/>
<path d="M323.2,528.4 L324.5,528.4 L325.8,528.4 L327.1,528.4 L328.4,528.4 L329.8,528.4 L331.1,528.4 L332.4,528.4 L333.7,528.4 L335,528.4 L336.3,528.4 L337.7,528.4 L339,528.4 L340.3,528.4 L341.6,528.4 L342.9,528.4 L344.3,528.4 L345.6,528.4 L346.9,528.4 L348.2,528.4 L349.5,528.3 L350.8,528.3 L352.2,528.3 L353.5,528.3 L354.8,528.3 L356.1,528.3 L357.4,528.2 L358.8,528.2 L360.1,528.1 L361.4,528.1 L362.7,528 L364,528 L365.3,527.9 L366.7,527.8 L368,527.7 L369.3,527.6 L370.6,527.4 L371.9,527.3 L373.3,527.1 L374.6,526.9 L375.9,526.6 L377.2,526.3 L378.5,526 L379.8,525.6 L381.2,525.2 L382.5,524.8 L383.8,524.3 L385.1,523.7 L386.4,523.1 L387.8,522.4 L389.1,521.6 L390.4,520.7 L391.7,519.8 L393,518.8 L394.3,517.6 L395.7,516.4 L397,515.1 L398.3,513.6 L399.6,512 L400.9,510.3 L402.2,508.5 L403.6,506.5 L404.9,504.4 L406.2,502.1 L407.5,499.7 L408.8,497.1 L410.2,494.4 L411.5,491.6 L412.8,488.5 L414.1,485.4 L415.4,482 L416.7,478.6 L418.1,474.9 L419.4,471.2 L420.7,467.3 L422,463.2 L423.3,459.1 L424.7,454.8 L426,450.4 L427.3,445.9 L428.6,441.3 L429.9,436.7 L431.2,432 L432.6,427.2 L433.9,422.5 L435.2,417.7 L436.5,412.9 L437.8,408.1 L439.2,403.4 L440.5,398.7 L441.8,394 L443.1,389.5 L444.4,385.1 L445.7,380.8 L447.1,376.6 L448.4,372.5 L449.7,368.7 L451,365 L452.3,361.5 L453.6,358.1 L455,355 L456.3,352.1 L457.6,349.4 L458.9,346.9 L460.2,344.6 L461.6,342.5 L462.9,340.6 L464.2,339 L465.5,337.5 L466.8,336.2 L468.1,335.2 L469.5,334.3 L470.8,333.6 L472.1,333.1 L473.4,332.8 L474.7,332.7 L476.1,332.7 L477.4,332.9 L478.7,333.3 L480,333.9 L481.3,334.7 L482.6,335.6 L484,336.7 L485.3,337.9 L486.6,339.3 L487.9,340.9 L489.2,342.6 L490.6,344.4 L491.9,346.4 L493.2,348.5 L494.5,350.8 L495.8,353.1 L497.1,355.6 L498.5,358.2 L499.8,360.8 L501.1,363.6 L502.4,366.4 L503.7,369.3 L505.1,372.3 L506.4,375.3 L507.7,378.4 L509,381.5 L510.3,384.6 L511.6,387.8 L513,390.9 L514.3,394.1 L515.6,397.3 L516.9,400.5 L518.2,403.7 L519.5,406.8 L520.9,409.9 L522.2,413 L523.5,416.1 L524.8,419.1 L526.1,422.1 L527.5,425 L528.8,427.9 L530.1,430.7 L531.4,433.5 L532.7,436.2 L534,438.9 L535.4,441.5 L536.7,444.1 L538,446.6 L539.3,449 L540.6,451.3 L542,453.6 L543.3,455.9 L544.6,458.1 L545.9,460.2 L547.2,462.2 L548.5,464.2 L549.9,466.2 L551.2,468 L552.5,469.9 L553.8,471.6 L555.1,473.3 L556.5,475 L557.8,476.6 L559.1,478.2 L560.4,479.7 L561.7,481.1 L563,482.5 L564.4,483.9 L565.7,485.2 L567,486.5 L568.3,487.8 L569.6,489 L571,490.1 L572.3,491.3 L573.6,492.4 L574.9,493.4 L576.2,494.4 L577.5,495.4 L578.9,496.4 L580.2,497.3 L581.5,498.3 L582.8,499.1 L584.1,500 L585.5,500.8 L586.8,501.6 L588.1,502.4 L589.4,503.2 L590.7,503.9 L592,504.6 L593.4,505.3 L594.7,506 L596,506.6 L597.3,507.3 L598.6,507.9 L599.9,508.5 L601.3,509.1 L602.6,509.6 L603.9,510.2 L605.2,510.7 L606.5,511.2 L607.9,511.8 L609.2,512.2 L610.5,512.7 L611.8,513.2 L613.1,513.6 L614.4,514.1 L615.8,514.5 L617.1,514.9 L618.4,515.3 L619.7,515.7 L621,516.1 L622.4,516.4 L623.7,516.8 L625,517.1 L626.3,517.5 L627.6,517.8 L628.9,518.1 L630.3,518.4 L631.6,518.7 L632.9,519 L634.2,519.3 L635.5,519.6 L636.9,519.9 L638.2,520.1 L639.5,520.4 L640.8,520.6 L642.1,520.9 L643.4,521.1 L644.8,521.3 L646.1,521.5 L647.4,521.7 L648.7,521.9 L650,522.1 L651.4,522.3 L652.7,522.5 L654,522.7 L655.3,522.9 L656.6,523 L657.9,523.2 L659.3,523.4 L660.6,523.5 L661.9,523.7 L663.2,523.8 L664.5,524 L665.8,524.1 L667.2,524.2 L668.5,524.4 L669.8,524.5 L671.1,524.6 L672.4,524.7 L673.8,524.8 L675.1,525 L676.4,525.1 L677.7,525.2 L679,525.3 L680.3,525.4 L681.7,525.5 L683,525.5 L684.3,525.6 L685.6,525.7 L686.9,525.8 L688.3,525.9 L689.6,526 L690.9,526 L692.2,526.1 L693.5,526.2 L694.8,526.3 L696.2,526.3 L697.5,526.4" fill="none" stroke="#f40000" stroke-width="2"/>
<path d="M322.5,528.1 L323.8,528.1 L325.1,528 L326.5,527.9 L327.8,527.8 L329.1,527.7 L330.4,527.6 L331.7,527.4 L333.1,527.2 L334.4,527 L335.7,526.7 L337,526.4 L338.3,526.1 L339.6,525.7 L341,525.2 L342.3,524.7 L343.6,524.1 L344.9,523.4 L346.2,522.6 L347.6,521.8 L348.9,520.8 L350.2,519.6 L351.5,518.4 L352.8,517 L354.1,515.4 L355.5,513.7 L356.8,511.8 L358.1,509.7 L359.4,507.4 L360.7,504.8 L362,502 L363.4,499 L364.7,495.7 L366,492.2 L367.3,488.3 L368.6,484.2 L370,479.8 L371.3,475 L372.6,470 L373.9,464.7 L375.2,459 L376.5,453 L377.9,446.7 L379.2,440.1 L380.5,433.3 L381.8,426.1 L383.1,418.7 L384.5,411 L385.8,403.1 L387.1,395 L388.4,386.6 L389.7,378.2 L391,369.6 L392.4,360.9 L393.7,352.1 L395,343.4 L396.3,334.6 L397.6,325.9 L399,317.3 L400.3,308.8 L401.6,300.5 L402.9,292.4 L404.2,284.6 L405.5,277.1 L406.9,269.9 L408.2,263.1 L409.5,256.7 L410.8,250.8 L412.1,245.4 L413.5,240.5 L414.8,236.1 L416.1,232.3 L417.4,229 L418.7,226.4 L420,224.4 L421.4,223 L422.7,222.2 L424,222 L425.3,222.4 L426.6,223.4 L427.9,224.9 L429.3,226.8 L430.6,229.2 L431.9,231.9 L433.2,234.9 L434.5,238.1 L435.9,241.5 L437.2,245 L438.5,248.7 L439.8,252.4 L441.1,256.1 L442.4,259.8 L443.8,263.6 L445.1,267.4 L446.4,271.2 L447.7,275 L449,278.8 L450.4,282.7 L451.7,286.7 L453,290.7 L454.3,294.7 L455.6,298.8 L456.9,303 L458.3,307.3 L459.6,311.6 L460.9,316 L462.2,320.5 L463.5,325 L464.9,329.6 L466.2,334.3 L467.5,339 L468.8,343.7 L470.1,348.4 L471.4,353.1 L472.8,357.9 L474.1,362.6 L475.4,367.3 L476.7,372 L478,376.7 L479.4,381.3 L480.7,385.8 L482,390.2 L483.3,394.6 L484.6,399 L485.9,403.2 L487.3,407.3 L488.6,411.4 L489.9,415.3 L491.2,419.2 L492.5,423 L493.8,426.6 L495.2,430.2 L496.5,433.6 L497.8,437 L499.1,440.2 L500.4,443.4 L501.8,446.4 L503.1,449.4 L504.4,452.3 L505.7,455 L507,457.7 L508.3,460.3 L509.7,462.8 L511,465.2 L512.3,467.5 L513.6,469.8 L514.9,471.9 L516.3,474 L517.6,476.1 L518.9,478 L520.2,479.9 L521.5,481.7 L522.8,483.5 L524.2,485.1 L525.5,486.8 L526.8,488.3 L528.1,489.9 L529.4,491.3 L530.8,492.7 L532.1,494.1 L533.4,495.4 L534.7,496.7 L536,497.9 L537.3,499 L538.7,500.2 L540,501.3 L541.3,502.3 L542.6,503.3 L543.9,504.3 L545.3,505.2 L546.6,506.1 L547.9,507 L549.2,507.8 L550.5,508.6 L551.8,509.4 L553.2,510.2 L554.5,510.9 L555.8,511.6 L557.1,512.2 L558.4,512.9 L559.7,513.5 L561.1,514.1 L562.4,514.7 L563.7,515.2 L565,515.7 L566.3,516.2 L567.7,516.7 L569,517.2 L570.3,517.6 L571.6,518.1 L572.9,518.5 L574.2,518.9 L575.6,519.3 L576.9,519.6 L578.2,520 L579.5,520.3 L580.8,520.6 L582.2,521 L583.5,521.3 L584.8,521.5 L586.1,521.8 L587.4,522.1 L588.7,522.3 L590.1,522.6 L591.4,522.8 L592.7,523 L594,523.3 L595.3,523.5 L596.7,523.7 L598,523.9 L599.3,524 L600.6,524.2 L601.9,524.4 L603.2,524.5 L604.6,524.7 L605.9,524.9 L607.2,525 L608.5,525.1 L609.8,525.3 L611.2,525.4 L612.5,525.5 L613.8,525.6 L615.1,525.7 L616.4,525.8 L617.7,525.9 L619.1,526 L620.4,526.1 L621.7,526.2 L623,526.3 L624.3,526.4 L625.6,526.5 L627,526.6 L628.3,526.6 L629.6,526.7 L630.9,526.8 L632.2,526.8 L633.6,526.9 L634.9,527 L636.2,527 L637.5,527.1 L638.8,527.1 L640.1,527.2 L641.5,527.2 L642.8,527.3 L644.1,527.3 L645.4,527.4 L646.7,527.4 L648.1,527.4 L649.4,527.5 L650.7,527.5 L652,527.5 L653.3,527.6 L654.6,527.6 L656,527.6 L657.3,527.7 L658.6,527.7 L659.9,527.7 L661.2,527.8 L662.6,527.8 L663.9,527.8 L665.2,527.8 L666.5,527.8 L667.8,527.9 L669.1,527.9 L670.5,527.9 L671.8,527.9 L673.1,527.9 L674.4,528 L675.7,528 L677.1,528 L678.4,528 L679.7,528 L681,528 L682.3,528.1 L683.6,528.1 L685,528.1 L686.3,528.1 L687.6,528.1 L688.9,528.1 L690.2,528.1 L691.5,528.1 L692.9,528.1 L694.2,528.2 L695.5,528.2 L696.8,528.2" fill="none" stroke="#5454ff" stroke-width="2.2"/>
<path d="M321.2,527 L322.5,526.7 L323.8,526.4 L325.1,526.1 L326.5,525.7 L327.8,525.2 L329.1,524.7 L330.4,524.1 L331.7,523.4 L333.1,522.6 L334.4,521.8 L335.7,520.8 L337,519.6 L338.3,518.4 L339.6,517 L341,515.5 L342.3,513.8 L343.6,511.9 L344.9,509.8 L346.2,507.6 L347.6,505.1 L348.9,502.4 L350.2,499.6 L351.5,496.4 L352.8,493.1 L354.1,489.5 L355.5,485.7 L356.8,481.6 L358.1,477.3 L359.4,472.8 L360.7,468.1 L362,463.2 L363.4,458 L364.7,452.7 L366,447.2 L367.3,441.6 L368.6,435.9 L370,430 L371.3,424.2 L372.6,418.3 L373.9,412.4 L375.2,406.5 L376.5,400.7 L377.9,395.1 L379.2,389.6 L380.5,384.2 L381.8,379.2 L383.1,374.4 L384.5,369.8 L385.8,365.7 L387.1,361.9 L388.4,358.5 L389.7,355.5 L391,353 L392.4,350.9 L393.7,349.3 L395,348 L396.3,347.3 L397.6,346.9 L399,346.8 L400.3,347.1 L401.6,347.7 L402.9,348.5 L404.2,349.6 L405.5,350.8 L406.9,352.2 L408.2,353.7 L409.5,355.3 L410.8,357 L412.1,358.8 L413.5,360.7 L414.8,362.6 L416.1,364.6 L417.4,366.6 L418.7,368.7 L420,370.9 L421.4,373.1 L422.7,375.4 L424,377.8 L425.3,380.2 L426.6,382.7 L427.9,385.3 L429.3,388 L430.6,390.7 L431.9,393.4 L433.2,396.3 L434.5,399.1 L435.9,402 L437.2,405 L438.5,407.9 L439.8,410.9 L441.1,413.9 L442.4,416.9 L443.8,419.9 L445.1,422.8 L446.4,425.8 L447.7,428.7 L449,431.6 L450.4,434.5 L451.7,437.4 L453,440.2 L454.3,443 L455.6,445.7 L456.9,448.4 L458.3,451 L459.6,453.6 L460.9,456.1 L462.2,458.6 L463.5,461 L464.9,463.3 L466.2,465.7 L467.5,467.9 L468.8,470.1 L470.1,472.3 L471.4,474.4 L472.8,476.4 L474.1,478.4 L475.4,480.3 L476.7,482.2 L478,484 L479.4,485.8 L480.7,487.5 L482,489.1 L483.3,490.7 L484.6,492.3 L485.9,493.8 L487.3,495.3 L488.6,496.7 L489.9,498 L491.2,499.3 L492.5,500.6 L493.8,501.8 L495.2,503 L496.5,504.1 L497.8,505.2 L499.1,506.3 L500.4,507.3 L501.8,508.2 L503.1,509.2 L504.4,510.1 L505.7,510.9 L507,511.7 L508.3,512.5 L509.7,513.3 L511,514 L512.3,514.7 L513.6,515.3 L514.9,516 L516.3,516.6 L517.6,517.1 L518.9,517.7 L520.2,518.2 L521.5,518.7 L522.8,519.2 L524.2,519.6 L525.5,520.1 L526.8,520.5 L528.1,520.9 L529.4,521.2 L530.8,521.6 L532.1,521.9 L533.4,522.3 L534.7,522.6 L536,522.9 L537.3,523.1 L538.7,523.4 L540,523.7 L541.3,523.9 L542.6,524.1 L543.9,524.3 L545.3,524.6 L546.6,524.7 L547.9,524.9 L549.2,525.1 L550.5,525.3 L551.8,525.4 L553.2,525.6 L554.5,525.7 L555.8,525.9 L557.1,526 L558.4,526.1 L559.7,526.2 L561.1,526.3 L562.4,526.5 L563.7,526.6 L565,526.6 L566.3,526.7 L567.7,526.8 L569,526.9 L570.3,527 L571.6,527.1 L572.9,527.1 L574.2,527.2 L575.6,527.2 L576.9,527.3 L578.2,527.4 L579.5,527.4 L580.8,527.5 L582.2,527.5 L583.5,527.6 L584.8,527.6 L586.1,527.6 L587.4,527.7 L588.7,527.7 L590.1,527.8 L591.4,527.8 L592.7,527.8 L594,527.8 L595.3,527.9 L596.7,527.9 L598,527.9 L599.3,528 L600.6,528 L601.9,528 L603.2,528 L604.6,528 L605.9,528.1 L607.2,528.1 L608.5,528.1 L609.8,528.1 L611.2,528.1 L612.5,528.1 L613.8,528.1 L615.1,528.2 L616.4,528.2 L617.7,528.2 L619.1,528.2 L620.4,528.2 L621.7,528.2 L623,528.2 L624.3,528.2 L625.6,528.2 L627,528.2 L628.3,528.3 L629.6,528.3 L630.9,528.3 L632.2,528.3 L633.6,528.3 L634.9,528.3 L636.2,528.3 L637.5,528.3 L638.8,528.3 L640.1,528.3 L641.5,528.3 L642.8,528.3 L644.1,528.3 L645.4,528.3 L646.7,528.3 L648.1,528.3 L649.4,528.3 L650.7,528.3 L652,528.3 L653.3,528.3 L654.6,528.3 L656,528.3 L657.3,528.4 L658.6,528.4 L659.9,528.4 L661.2,528.4 L662.6,528.4 L663.9,528.4 L665.2,528.4 L666.5,528.4 L667.8,528.4 L669.1,528.4 L670.5,528.4 L671.8,528.4 L673.1,528.4 L674.4,528.4 L675.7,528.4 L677.1,528.4 L678.4,528.4 L679.7,528.4 L681,528.4 L682.3,528.4 L683.6,528.4 L685,528.4 L686.3,528.4 L687.6,528.4 L688.9,528.4 L690.2,528.4 L691.5,528.4 L692.9,528.4 L694.2,528.4 L695.5,528.4 L696.8,528.4" fill="none" stroke="#7414a8" stroke-width="2.2"/>
<line x1="183.2" y1="185.5" x2="183.2" y2="529.6" stroke="#000" stroke-width="2.5"/>
<line x1="182" y1="528.4" x2="698" y2="528.4" stroke="#000" stroke-width="2.5"/>
<line x1="170" y1="528.4" x2="183" y2="528.4" stroke="#000" stroke-width="2.5"/>
<text x="166" y="537" font-size="24" text-anchor="end">0</text>
<line x1="170" y1="479.1" x2="183" y2="479.1" stroke="#000" stroke-width="2.5"/>
<text x="166" y="487.7" font-size="24" text-anchor="end">25</text>
<line x1="170" y1="429.8" x2="183" y2="429.8" stroke="#000" stroke-width="2.5"/>
<text x="166" y="438.4" font-size="24" text-anchor="end">50</text>
<line x1="170" y1="380.4" x2="183" y2="380.4" stroke="#000" stroke-width="2.5"/>
<text x="166" y="389" font-size="24" text-anchor="end">75</text>
<line x1="170" y1="331.1" x2="183" y2="331.1" stroke="#000" stroke-width="2.5"/>
<text x="166" y="339.7" font-size="24" text-anchor="end">100</text>
<line x1="170" y1="281.8" x2="183" y2="281.8" stroke="#000" stroke-width="2.5"/>
<text x="166" y="290.4" font-size="24" text-anchor="end">125</text>
<line x1="170" y1="232.4" x2="183" y2="232.4" stroke="#000" stroke-width="2.5"/>
<text x="166" y="241" font-size="24" text-anchor="end">150</text>
<line x1="223" y1="528" x2="223" y2="541" stroke="#000" stroke-width="2.5"/>
<text x="223" y="568" font-size="24" text-anchor="middle">300</text>
<line x1="288.9" y1="528" x2="288.9" y2="541" stroke="#000" stroke-width="2.5"/>
<text x="288.9" y="568" font-size="24" text-anchor="middle">350</text>
<line x1="354.8" y1="528" x2="354.8" y2="541" stroke="#000" stroke-width="2.5"/>
<text x="354.8" y="568" font-size="24" text-anchor="middle">400</text>
<line x1="420.7" y1="528" x2="420.7" y2="541" stroke="#000" stroke-width="2.5"/>
<text x="420.7" y="568" font-size="24" text-anchor="middle">450</text>
<line x1="486.6" y1="528" x2="486.6" y2="541" stroke="#000" stroke-width="2.5"/>
<text x="486.6" y="568" font-size="24" text-anchor="middle">500</text>
<line x1="552.5" y1="528" x2="552.5" y2="541" stroke="#000" stroke-width="2.5"/>
<text x="552.5" y="568" font-size="24" text-anchor="middle">550</text>
<line x1="618.4" y1="528" x2="618.4" y2="541" stroke="#000" stroke-width="2.5"/>
<text x="618.4" y="568" font-size="24" text-anchor="middle">600</text>
<line x1="684.3" y1="528" x2="684.3" y2="541" stroke="#000" stroke-width="2.5"/>
<text x="684.3" y="568" font-size="24" text-anchor="middle">650</text>
<text x="441.5" y="603" font-size="24" text-anchor="middle">Wavelength (nm)</text>
<g transform="translate(78,358) rotate(-90)"><text x="0" y="0" font-size="24" text-anchor="middle">Fluorescence intensity</text></g>
<g transform="translate(108,358) rotate(-90)"><text x="0" y="0" font-size="24" text-anchor="middle">(in % of H<tspan font-size="17" dy="5">2</tspan><tspan dy="-5">O</tspan><tspan font-size="17" dy="5">490 nm</tspan><tspan dy="-5">)</tspan></text></g>
<line x1="503" y1="229.4" x2="540" y2="229.4" stroke="#000" stroke-width="2" stroke-dasharray="4.5,2.8"/>
<line x1="503" y1="263" x2="540" y2="263" stroke="#f40000" stroke-width="2"/>
<line x1="503" y1="297" x2="540" y2="297" stroke="#5454ff" stroke-width="2"/>
<line x1="503" y1="331" x2="540" y2="331" stroke="#7414a8" stroke-width="2"/>
<text x="559.5" y="237" font-size="24">H<tspan font-size="17" dy="5">2</tspan><tspan dy="-5">O (excitation)</tspan></text>
<text x="559.5" y="270.5" font-size="24">H<tspan font-size="17" dy="5">2</tspan><tspan dy="-5">O</tspan></text>
<text x="559.5" y="305" font-size="24">DMSO</text>
<text x="559.5" y="339" font-size="24">EtOAc</text>
<!-- panel_b -->
<text x="56" y="671.5" font-size="38" font-weight="bold">b</text>
<text x="152.8" y="719.5" font-size="21" text-anchor="middle">Anap</text>
<circle cx="151.8" cy="759.3" r="45.5" fill="#78fa50" fill-opacity="0.27"/><circle cx="151.8" cy="759.3" r="29.2" fill="#78fa50" fill-opacity="0.36"/><circle cx="151.8" cy="759.3" r="17.4" fill="#78fa50" stroke="#2aa010" stroke-width="1.5"/>
<path d="M188.6,779.6 L233.2,809.6 L229.5,815.4 L249.2,818 L238.7,801.1 L234.9,806.9 L189.2,778.8Z" fill="#222"/>
<circle cx="80.3" cy="942.1" r="66.0" fill="none" stroke="#1a1a1a" stroke-width="11.2"/>
<path d="M51.2,876.7 L53.5,875.7 L55.9,874.8 L58.3,874 L60.7,873.2 L63.1,872.6 L65.6,872 L68.1,871.6 L70.6,871.2 L73.1,870.9 L75.6,870.7 L78.1,870.5 L80.7,870.5 L83.2,870.6 L85.7,870.7 L88.3,870.9 L90.8,871.3 L93.3,871.7 L95.7,872.2 L98.2,872.8 L100.6,873.4 L103,874.2 L105.4,875.1 L107.8,876 L110.1,877 L112.4,878.1 L114.6,879.3 L116.8,880.5 L119,881.8 L121.1,883.3 L123.1,884.7 L125.1,886.3 L127.1,887.9 L129,889.6 L130.8,891.3 L132.6,893.2 L134.3,895 L135.9,897 L137.4,899 L138.9,901 L140.3,903.1 L147,898.8 L143.1,921.7 L124.3,913.5 L131,909.2 L129.8,907.4 L128.5,905.7 L127.2,904 L125.8,902.4 L124.4,900.8 L122.9,899.3 L121.4,897.8 L119.8,896.4 L118.1,895 L116.4,893.7 L114.7,892.5 L112.9,891.3 L111.1,890.2 L109.3,889.1 L107.4,888.1 L105.4,887.2 L103.5,886.3 L101.5,885.5 L99.5,884.8 L97.5,884.2 L95.4,883.6 L93.3,883.1 L91.2,882.7 L89.1,882.3 L87,882.1 L84.9,881.9 L82.8,881.7 L80.6,881.7 L78.5,881.7 L76.3,881.8 L74.2,882 L72.1,882.3 L70,882.6 L67.9,883 L65.8,883.5 L63.8,884 L61.7,884.6 L59.7,885.3 L57.7,886.1 L55.7,886.9Z" fill="#f0b040"/>
<path d="M151.9,942.1 L151.9,942.5 L151.9,942.9 L151.9,943.4 L151.9,943.8 L151.9,944.2 L151.9,944.6 L151.8,945.1 L151.8,945.5 L151.8,945.9 L151.8,946.3 L151.7,946.7 L151.7,947.2 L151.7,947.6 L151.7,948 L151.6,948.4 L151.6,948.8 L151.5,949.3 L151.5,949.7 L151.5,950.1 L151.4,950.5 L151.4,950.9 L151.3,951.4 L151.2,951.8 L151.2,952.2 L151.1,952.6 L151.1,953 L151,953.4 L150.9,953.9 L150.9,954.3 L150.8,954.7 L150.7,955.1 L150.6,955.5 L150.6,955.9 L150.5,956.3 L150.4,956.8 L150.3,957.2 L150.2,957.6 L150.1,958 L150,958.4 L149.9,958.8 L157.1,960.5 L139.4,971.5 L131.8,954.5 L139,956.2 L139.1,955.9 L139.2,955.5 L139.3,955.2 L139.3,954.8 L139.4,954.5 L139.5,954.1 L139.6,953.8 L139.6,953.4 L139.7,953.1 L139.8,952.7 L139.8,952.4 L139.9,952 L139.9,951.7 L140,951.3 L140,951 L140.1,950.6 L140.1,950.3 L140.2,949.9 L140.2,949.6 L140.3,949.2 L140.3,948.8 L140.4,948.5 L140.4,948.1 L140.4,947.8 L140.5,947.4 L140.5,947.1 L140.5,946.7 L140.5,946.4 L140.6,946 L140.6,945.7 L140.6,945.3 L140.6,944.9 L140.6,944.6 L140.7,944.2 L140.7,943.9 L140.7,943.5 L140.7,943.2 L140.7,942.8 L140.7,942.5 L140.7,942.1Z" fill="#c0382e"/>
<path d="M142.3,977.9 L142.1,978.2 L141.9,978.6 L141.7,978.9 L141.5,979.2 L141.3,979.6 L141.1,979.9 L140.9,980.2 L140.7,980.6 L140.5,980.9 L140.3,981.2 L140,981.6 L139.8,981.9 L139.6,982.2 L139.4,982.5 L139.2,982.8 L139,983.2 L138.7,983.5 L138.5,983.8 L138.3,984.1 L138,984.4 L137.8,984.8 L137.6,985.1 L137.3,985.4 L137.1,985.7 L136.9,986 L136.6,986.3 L136.4,986.6 L136.1,986.9 L135.9,987.2 L135.6,987.5 L135.4,987.8 L135.1,988.1 L134.9,988.4 L134.6,988.7 L134.4,989 L134.1,989.3 L133.9,989.6 L133.6,989.9 L133.4,990.2 L133.1,990.5 L138.5,995.5 L117.7,996.5 L119.4,977.9 L124.8,982.9 L125.1,982.7 L125.3,982.4 L125.5,982.2 L125.7,981.9 L125.9,981.7 L126.1,981.4 L126.4,981.2 L126.6,980.9 L126.8,980.7 L127,980.4 L127.2,980.2 L127.4,979.9 L127.6,979.6 L127.8,979.4 L128,979.1 L128.2,978.9 L128.4,978.6 L128.6,978.3 L128.8,978.1 L129,977.8 L129.2,977.5 L129.4,977.3 L129.6,977 L129.8,976.7 L130,976.5 L130.2,976.2 L130.3,975.9 L130.5,975.7 L130.7,975.4 L130.9,975.1 L131.1,974.8 L131.2,974.6 L131.4,974.3 L131.6,974 L131.8,973.7 L131.9,973.4 L132.1,973.2 L132.3,972.9 L132.4,972.6 L132.6,972.3Z" fill="#c0382e"/>
<path d="M117.2,1003.5 L116.9,1003.7 L116.5,1003.9 L116.2,1004 L115.9,1004.2 L115.6,1004.4 L115.2,1004.6 L114.9,1004.8 L114.6,1005 L114.2,1005.1 L113.9,1005.3 L113.6,1005.5 L113.3,1005.7 L112.9,1005.8 L112.6,1006 L112.2,1006.2 L111.9,1006.3 L111.6,1006.5 L111.2,1006.7 L110.9,1006.8 L110.6,1007 L110.2,1007.1 L109.9,1007.3 L109.5,1007.5 L109.2,1007.6 L108.9,1007.8 L108.5,1007.9 L108.2,1008.1 L107.8,1008.2 L107.5,1008.3 L107.1,1008.5 L106.8,1008.6 L106.4,1008.8 L106.1,1008.9 L105.7,1009 L105.4,1009.2 L105,1009.3 L104.7,1009.4 L104.3,1009.6 L104,1009.7 L103.6,1009.8 L106,1016.8 L87.2,1007.7 L97.6,992.2 L100,999.2 L100.3,999.1 L100.6,999 L100.9,998.9 L101.2,998.8 L101.5,998.7 L101.7,998.6 L102,998.5 L102.3,998.3 L102.6,998.2 L102.9,998.1 L103.2,998 L103.5,997.9 L103.8,997.7 L104.1,997.6 L104.4,997.5 L104.7,997.4 L105,997.2 L105.3,997.1 L105.5,997 L105.8,996.8 L106.1,996.7 L106.4,996.6 L106.7,996.4 L107,996.3 L107.3,996.2 L107.5,996 L107.8,995.9 L108.1,995.7 L108.4,995.6 L108.7,995.4 L108.9,995.3 L109.2,995.1 L109.5,995 L109.8,994.8 L110,994.7 L110.3,994.5 L110.6,994.4 L110.9,994.2 L111.1,994 L111.4,993.9Z" fill="#c0382e"/>
<path d="M83.4,1013.6 L83,1013.6 L82.7,1013.7 L82.3,1013.7 L81.9,1013.7 L81.5,1013.7 L81.2,1013.7 L80.8,1013.7 L80.4,1013.7 L80,1013.7 L79.6,1013.7 L79.3,1013.7 L78.9,1013.7 L78.5,1013.7 L78.1,1013.7 L77.8,1013.7 L77.4,1013.6 L77,1013.6 L76.6,1013.6 L76.2,1013.6 L75.9,1013.6 L75.5,1013.5 L75.1,1013.5 L74.7,1013.5 L74.4,1013.5 L74,1013.4 L73.6,1013.4 L73.2,1013.4 L72.9,1013.3 L72.5,1013.3 L72.1,1013.2 L71.7,1013.2 L71.4,1013.1 L71,1013.1 L70.6,1013 L70.2,1013 L69.9,1012.9 L69.5,1012.9 L69.1,1012.8 L68.7,1012.8 L68.4,1012.7 L67.1,1020 L54.9,1003 L71.5,994.4 L70.2,1001.7 L70.5,1001.7 L70.9,1001.8 L71.2,1001.8 L71.5,1001.9 L71.8,1001.9 L72.1,1001.9 L72.4,1002 L72.8,1002 L73.1,1002.1 L73.4,1002.1 L73.7,1002.1 L74,1002.2 L74.3,1002.2 L74.7,1002.2 L75,1002.3 L75.3,1002.3 L75.6,1002.3 L75.9,1002.3 L76.2,1002.4 L76.6,1002.4 L76.9,1002.4 L77.2,1002.4 L77.5,1002.4 L77.8,1002.4 L78.2,1002.5 L78.5,1002.5 L78.8,1002.5 L79.1,1002.5 L79.4,1002.5 L79.7,1002.5 L80.1,1002.5 L80.4,1002.5 L80.7,1002.5 L81,1002.5 L81.3,1002.5 L81.7,1002.5 L82,1002.5 L82.3,1002.5 L82.6,1002.5 L82.9,1002.4Z" fill="#c0382e"/>
<path d="M48.8,1006.4 L48.5,1006.2 L48.1,1006.1 L47.8,1005.9 L47.4,1005.7 L47.1,1005.5 L46.7,1005.4 L46.4,1005.2 L46.1,1005 L45.7,1004.8 L45.4,1004.6 L45.1,1004.4 L44.7,1004.2 L44.4,1004 L44.1,1003.9 L43.7,1003.7 L43.4,1003.5 L43.1,1003.3 L42.7,1003.1 L42.4,1002.9 L42.1,1002.7 L41.8,1002.4 L41.4,1002.2 L41.1,1002 L40.8,1001.8 L40.5,1001.6 L40.2,1001.4 L39.8,1001.2 L39.5,1001 L39.2,1000.7 L38.9,1000.5 L38.6,1000.3 L38.3,1000.1 L38,999.8 L37.7,999.6 L37.3,999.4 L37,999.2 L36.7,998.9 L36.4,998.7 L36.1,998.5 L35.8,998.2 L31.2,1004 L28.7,983.3 L47.4,983.6 L42.8,989.4 L43,989.6 L43.3,989.8 L43.5,990 L43.8,990.2 L44.1,990.4 L44.3,990.6 L44.6,990.8 L44.8,991 L45.1,991.2 L45.4,991.4 L45.6,991.6 L45.9,991.8 L46.2,991.9 L46.4,992.1 L46.7,992.3 L47,992.5 L47.3,992.7 L47.5,992.8 L47.8,993 L48.1,993.2 L48.3,993.4 L48.6,993.5 L48.9,993.7 L49.2,993.9 L49.5,994 L49.7,994.2 L50,994.4 L50.3,994.5 L50.6,994.7 L50.9,994.8 L51.1,995 L51.4,995.2 L51.7,995.3 L52,995.5 L52.3,995.6 L52.6,995.8 L52.9,995.9 L53.1,996.1 L53.4,996.2 L53.7,996.3Z" fill="#c0382e"/>
<path d="M21.7,983.3 L21.5,983 L21.3,982.7 L21.1,982.4 L20.9,982.1 L20.7,981.8 L20.5,981.5 L20.3,981.2 L20.1,980.8 L19.9,980.5 L19.7,980.2 L19.5,979.9 L19.3,979.6 L19.1,979.3 L18.9,979 L18.7,978.7 L18.6,978.4 L18.4,978 L18.2,977.7 L18,977.4 L17.8,977.1 L17.7,976.8 L17.5,976.4 L17.3,976.1 L17.1,975.8 L17,975.5 L16.8,975.2 L16.6,974.8 L16.5,974.5 L16.3,974.2 L16.1,973.9 L16,973.5 L15.8,973.2 L15.6,972.9 L15.5,972.5 L15.3,972.2 L15.2,971.9 L15,971.5 L14.9,971.2 L14.7,970.9 L14.6,970.5 L7.8,973.5 L15.4,954 L31.7,963.1 L24.9,966.1 L25,966.4 L25.1,966.7 L25.2,966.9 L25.4,967.2 L25.5,967.5 L25.6,967.8 L25.8,968.1 L25.9,968.3 L26,968.6 L26.2,968.9 L26.3,969.2 L26.4,969.4 L26.6,969.7 L26.7,970 L26.9,970.3 L27,970.5 L27.2,970.8 L27.3,971.1 L27.5,971.3 L27.6,971.6 L27.8,971.9 L27.9,972.1 L28.1,972.4 L28.2,972.7 L28.4,972.9 L28.5,973.2 L28.7,973.5 L28.9,973.7 L29,974 L29.2,974.3 L29.3,974.5 L29.5,974.8 L29.7,975 L29.8,975.3 L30,975.6 L30.2,975.8 L30.4,976.1 L30.5,976.3 L30.7,976.6 L30.9,976.8Z" fill="#c0382e"/>
<path d="M9.2,950.7 L9.2,950.4 L9.1,950 L9.1,949.7 L9.1,949.3 L9,949 L9,948.6 L9,948.3 L8.9,947.9 L8.9,947.6 L8.9,947.3 L8.9,946.9 L8.8,946.6 L8.8,946.2 L8.8,945.9 L8.8,945.5 L8.8,945.2 L8.8,944.8 L8.7,944.5 L8.7,944.1 L8.7,943.8 L8.7,943.4 L8.7,943.1 L8.7,942.7 L8.7,942.4 L8.7,942.1 L8.7,941.7 L8.7,941.4 L8.7,941 L8.7,940.7 L8.7,940.3 L8.7,940 L8.7,939.6 L8.8,939.3 L8.8,938.9 L8.8,938.6 L8.8,938.2 L8.8,937.9 L8.8,937.5 L8.9,937.2 L8.9,936.9 L1.5,936.3 L17.3,922.6 L27.4,938.2 L20.1,937.7 L20,938 L20,938.3 L20,938.6 L20,938.8 L20,939.1 L20,939.4 L19.9,939.7 L19.9,940 L19.9,940.3 L19.9,940.6 L19.9,940.9 L19.9,941.2 L19.9,941.5 L19.9,941.8 L19.9,942.1 L19.9,942.4 L19.9,942.6 L19.9,942.9 L19.9,943.2 L19.9,943.5 L19.9,943.8 L19.9,944.1 L19.9,944.4 L20,944.7 L20,945 L20,945.3 L20,945.6 L20,945.9 L20,946.2 L20.1,946.4 L20.1,946.7 L20.1,947 L20.1,947.3 L20.2,947.6 L20.2,947.9 L20.2,948.2 L20.2,948.5 L20.3,948.8 L20.3,949.1 L20.3,949.4Z" fill="#c0382e"/>
<path d="M13.3,916.8 L13.4,916.5 L13.5,916.3 L13.6,916 L13.7,915.7 L13.8,915.5 L13.9,915.2 L14.1,914.9 L14.2,914.7 L14.3,914.4 L14.4,914.2 L14.5,913.9 L14.6,913.6 L14.7,913.4 L14.8,913.1 L14.9,912.8 L15.1,912.6 L15.2,912.3 L15.3,912.1 L15.4,911.8 L15.5,911.6 L15.7,911.3 L15.8,911 L15.9,910.8 L16,910.5 L16.2,910.3 L16.3,910 L16.4,909.8 L16.5,909.5 L16.7,909.3 L16.8,909 L16.9,908.8 L17.1,908.5 L17.2,908.3 L17.3,908 L17.5,907.8 L17.6,907.5 L17.7,907.3 L17.9,907 L18,906.8 L18.2,906.5 L11.7,902.8 L31.9,897.3 L34.3,915.8 L27.9,912.1 L27.8,912.3 L27.7,912.5 L27.5,912.7 L27.4,912.9 L27.3,913.1 L27.2,913.3 L27.1,913.6 L27,913.8 L26.8,914 L26.7,914.2 L26.6,914.4 L26.5,914.6 L26.4,914.8 L26.3,915 L26.2,915.3 L26.1,915.5 L26,915.7 L25.9,915.9 L25.8,916.1 L25.7,916.3 L25.6,916.6 L25.5,916.8 L25.4,917 L25.3,917.2 L25.2,917.4 L25.1,917.6 L25,917.9 L24.9,918.1 L24.8,918.3 L24.7,918.5 L24.6,918.7 L24.5,919 L24.4,919.2 L24.3,919.4 L24.2,919.6 L24.1,919.9 L24.1,920.1 L24,920.3 L23.9,920.5 L23.8,920.8Z" fill="#c0382e"/>
<text x="96" y="868.3" font-size="21">aaRS<tspan font-size="14" dy="-8">Anap</tspan></text>
<text x="34.5" y="980.3" font-size="21">tRNAs<tspan font-size="14" dy="-8">Anap</tspan></text>
<path d="M158.3,944.8 L195.2,946.2 L195.1,952.6 L212.2,944.8 L195.3,936.6 L195.2,943 L158.3,943.8Z" fill="#222"/>
<circle cx="113.9" cy="1149.4" r="65.8" fill="none" stroke="#1a1a1a" stroke-width="11.5"/>
<path d="M56.8,1106.3 L58.5,1104.2 L60.2,1102.1 L62.1,1100.1 L64,1098.1 L66,1096.2 L68.1,1094.4 L70.2,1092.7 L72.5,1091.1 L74.7,1089.5 L77,1088.1 L79.4,1086.7 L81.9,1085.4 L84.3,1084.2 L86.9,1083.2 L89.4,1082.2 L92,1081.3 L94.7,1080.5 L97.3,1079.8 L100,1079.2 L102.7,1078.7 L105.4,1078.4 L108.2,1078.1 L110.9,1077.9 L113.7,1077.9 L116.4,1077.9 L119.1,1078 L121.9,1078.3 L124.6,1078.7 L127.3,1079.1 L130,1079.7 L132.7,1080.4 L135.3,1081.1 L137.9,1082 L140.5,1083 L143,1084 L145.5,1085.2 L147.9,1086.5 L150.3,1087.8 L152.7,1089.3 L154.9,1090.8 L158.5,1085.7 L162.8,1105.4 L144.8,1105.3 L148.3,1100.2 L146.4,1098.9 L144.5,1097.7 L142.5,1096.6 L140.4,1095.5 L138.3,1094.5 L136.2,1093.6 L134,1092.8 L131.9,1092.1 L129.6,1091.5 L127.4,1090.9 L125.2,1090.4 L122.9,1090 L120.6,1089.7 L118.3,1089.5 L116,1089.4 L113.7,1089.4 L111.4,1089.4 L109.1,1089.5 L106.8,1089.8 L104.5,1090.1 L102.2,1090.5 L100,1091 L97.8,1091.6 L95.5,1092.2 L93.4,1093 L91.2,1093.8 L89.1,1094.7 L87,1095.7 L85,1096.8 L83,1097.9 L81,1099.2 L79.1,1100.5 L77.3,1101.8 L75.5,1103.3 L73.7,1104.8 L72,1106.3 L70.4,1108 L68.9,1109.7 L67.4,1111.4 L65.9,1113.3Z" fill="#0f86f2"/>
<rect x="112.2" y="1077.9" width="3.4" height="11.5" fill="#78f040"/>
<path d="M94.4,1129.3 L113.9,1088 L134.6,1129.3" fill="none" stroke="#222" stroke-width="1.5"/>
<text x="62.5" y="1070.8" font-size="21">SERT</text>
<text x="94.5" y="1146.6" font-size="21">TAG</text>
<path d="M187.6,1120.8 L226.7,1103.3 L229.5,1109.1 L242.3,1094.1 L222.6,1094.6 L225.4,1100.4 L187.2,1119.8Z" fill="#222"/>
<ellipse cx="468.4" cy="962.9" rx="250.5" ry="255.9" fill="#edf3fb" stroke="#111" stroke-width="2.6"/>
<text x="462" y="702.3" font-size="28" font-weight="bold" text-anchor="middle">Cell</text>
<circle cx="414.8" cy="763.9" r="47" fill="#78fa50" fill-opacity="0.27"/><circle cx="414.8" cy="763.9" r="30" fill="#78fa50" fill-opacity="0.36"/><circle cx="414.8" cy="763.9" r="17.8" fill="#78fa50" stroke="#2aa010" stroke-width="1.5"/>
<path d="M455.7,765.7 L471.9,768.2 L471.3,775 L489,768 L472.8,758.1 L472.2,765 L455.7,764.7Z" fill="#222"/>
<path d="M480,746.8 C481,740 486,738.5 491,738.6 C502,738.5 514,744 525,757.6 C534,770 540,790 543,808 C545.5,826 544,845 539.4,862 C535,876 528,884 520,889 C512,894 500,895 492,890.5 C487,887.5 486.5,882 492.6,880 C500,878.5 508,877 512,870 C515,864 515.5,850 515.2,835 L515.1,808 C515,801 512,797.5 505,796.8 C498,796.5 492,795.5 491.7,791.8 C491.5,787.5 496,785.5 501,783.5 C508,781 513.5,775 514.2,768 C515,760 511,753.5 505,751.5 C499,749.8 493,751.5 488,751 C483,750.5 479.5,749.5 480,746.8Z" fill="#f0cd80" stroke="#f0a830" stroke-width="2.2"/>
<text x="551.5" y="815.2" font-size="21">aaRS<tspan font-size="13.5" dy="-8">Anap</tspan></text>
<rect x="412" y="814.7" width="38.3" height="78.8" rx="7" fill="#c05757" stroke="#c93535" stroke-width="2.2"/>
<text x="327.4" y="863.4" font-size="21">tRNA<tspan font-size="13.5" dy="-7">Anap</tspan></text>
<path d="M458.5,846.7 L474.6,844.2 L476,851 L490.8,839 L472.4,834.4 L473.9,841.1 L458.3,845.7Z" fill="#222"/>
<path d="M468.1,884.7 L468.4,885.8 L468.7,887 L469,888.1 L469.3,889.3 L469.6,890.4 L470,891.6 L470.4,892.7 L470.8,893.8 L471.2,895 L471.6,896.1 L472,897.3 L472.5,898.4 L472.9,899.5 L473.4,900.7 L473.9,901.8 L474.5,902.9 L475,904 L475.5,905.1 L476.1,906.3 L476.7,907.4 L477.3,908.5 L477.9,909.6 L478.6,910.7 L479.2,911.7 L479.9,912.8 L480.6,913.9 L481.3,915 L482.1,916.1 L482.8,917.1 L483.6,918.2 L484.4,919.2 L485.2,920.3 L486,921.3 L486.9,922.3 L487.7,923.3 L488.6,924.3 L489.5,925.3 L490.4,926.3 L491.4,927.3 L492.3,928.3 L493.3,929.3 L494.3,930.2 L495.3,931.2 L496.3,932.1 L497.4,933 L498.5,934 L499.6,934.9 L500.7,935.8 L501.8,936.7 L503,937.5 L504.2,938.4 L505.4,939.3 L506.6,940.1 L507.8,940.9 L509.1,941.8 L510.4,942.6 L511.7,943.3 L513,944.1 L514.3,944.9 L515.7,945.6 L517.1,946.4 L518.5,947.1 L519.9,947.8 L521.4,948.5 L522.8,949.2 L524.3,949.9 L525.8,950.5 L527.4,951.2 L528.9,951.8 L530.6,952.4 L528.8,958.6 L547.9,955.8 L533.3,943.2 L531.5,949.4 L530,948.8 L528.5,948.2 L527,947.7 L525.5,947.1 L524,946.4 L522.6,945.8 L521.2,945.2 L519.7,944.5 L518.4,943.8 L517,943.1 L515.6,942.4 L514.3,941.7 L513,941 L511.7,940.3 L510.5,939.5 L509.2,938.7 L508,938 L506.8,937.2 L505.6,936.4 L504.4,935.5 L503.3,934.7 L502.1,933.9 L501,933 L499.9,932.2 L498.9,931.3 L497.8,930.4 L496.8,929.5 L495.7,928.6 L494.7,927.7 L493.8,926.8 L492.8,925.9 L491.9,924.9 L490.9,924 L490,923 L489.1,922.1 L488.3,921.1 L487.4,920.1 L486.6,919.1 L485.7,918.1 L484.9,917.1 L484.2,916.1 L483.4,915.1 L482.6,914.1 L481.9,913 L481.2,912 L480.5,910.9 L479.8,909.9 L479.2,908.8 L478.5,907.8 L477.9,906.7 L477.3,905.6 L476.7,904.5 L476.1,903.5 L475.5,902.4 L475,901.3 L474.4,900.2 L473.9,899.1 L473.4,898 L473,896.9 L472.5,895.8 L472,894.6 L471.6,893.5 L471.2,892.4 L470.8,891.3 L470.4,890.2 L470,889 L469.7,887.9 L469.3,886.8 L469,885.7 L468.7,884.5Z" fill="#222"/>
<path d="M370,1088 C366,1080 372,1076 382,1077 C395,1078 405,1085 418,1090 C435,1097 455,1096 470,1094 C490,1092 505,1090 520,1087 C533,1084 540,1088 542,1100 C545,1115 542,1135 530,1145 C518,1153 500,1152 485,1150 C460,1148 430,1152 410,1150 C390,1148 380,1140 378,1125 C376,1110 374,1098 370,1088Z" fill="#d6d6d6" stroke="#8a8a8a" stroke-width="1.3"/>
<rect x="388" y="1098" width="32" height="16" rx="4" fill="#bdbdbd" stroke="#9a9a9a" stroke-width="1.5"/>
<path d="M372,1040 C365,1020 380,1000 400,993 C418,986 430,990 440,985 C452,979 465,975 480,976.5 C500,978 518,990 526,1005 C530,1015 530,1025 536,1030 C545,1040 542,1060 535,1070 C528,1080 515,1085 500,1084 C470,1083 440,1083 420,1082 C400,1081 385,1075 378,1062 C374,1055 374,1048 372,1040Z" fill="#d6d6d6" stroke="#8a8a8a" stroke-width="1.3"/>
<rect x="410.2" y="1025.1" width="30.5" height="62" rx="5" fill="#b9b9b9" stroke="#a0a0a0" stroke-width="2"/>
<rect x="414.2" y="1029" width="24" height="58" rx="4" fill="#bebebe"/>
<rect x="449.9" y="1025.1" width="30.5" height="62" rx="5" fill="#b9b9b9" stroke="#a0a0a0" stroke-width="2"/>
<rect x="453.9" y="1029" width="24" height="58" rx="4" fill="#bebebe"/>
<rect x="489.7" y="1025.1" width="30.5" height="62" rx="5" fill="#b9b9b9" stroke="#a0a0a0" stroke-width="2"/>
<rect x="493.7" y="1029" width="24" height="58" rx="4" fill="#bebebe"/>
<rect x="489.7" y="1088" width="30.5" height="20" fill="#c4c4c4"/>
<path d="M471,1028 C468,1022 474,1020 471,1014" fill="none" stroke="#444" stroke-width="1"/>
<path d="M469,990.5 C466,984 476,981 473,974.5" fill="none" stroke="#444" stroke-width="1"/>
<circle cx="474.3" cy="962.6" r="11.3" fill="#a87838" stroke="#8e5f33" stroke-width="1.6"/>
<circle cx="468.4" cy="1002.4" r="11.5" fill="#d860b0" stroke="#c4489e" stroke-width="1.6"/>
<rect x="451.8" y="1027.9" width="28.6" height="58.2" rx="5" fill="#d860b0" stroke="#c4489e" stroke-width="1.8"/>
<rect x="446.5" y="1087" width="37.5" height="3.2" fill="#555"/>
<path d="M447.8,1090.5 L458.6,1090.5 L458.6,1101.7 L453.2,1106.5 L447.8,1101.7Z" fill="#c23049"/><text x="453.2" y="1099.3" font-size="9" text-anchor="middle" fill="#fff">C</text>
<path d="M460,1090.5 L470.8,1090.5 L470.8,1101.1 A5.4,5.4 0 0 1 460,1101.1Z" fill="#10809a"/><text x="465.4" y="1099.3" font-size="9" text-anchor="middle" fill="#fff">A</text>
<path d="M472.2,1090.5 L483,1090.5 L483,1106.5 L477.6,1102 L472.2,1106.5Z" fill="#7222a0"/><text x="477.6" y="1099.3" font-size="9" text-anchor="middle" fill="#fff">G</text>
<text x="356.9" y="982.6" font-size="21">Ribosome</text>
<circle cx="587.6" cy="919.7" r="34.2" fill="#78fa50" fill-opacity="0.27"/><circle cx="587.6" cy="919.7" r="21.9" fill="#78fa50" fill-opacity="0.36"/>
<path d="M578,941 C580,937 585,939 586,935 C587,931 588,933 588,928" fill="none" stroke="#444" stroke-width="1"/>
<circle cx="587.6" cy="919.7" r="13.2" fill="#78fa50" stroke="#2aa010" stroke-width="1.5"/>
<g transform="translate(567.8,970.8) rotate(16)">
<rect x="-13.2" y="-27" width="26.5" height="54" rx="6" fill="#c05757" stroke="#c93535" stroke-width="2"/>
<rect x="-20.2" y="28" width="40.5" height="3.2" fill="#555"/>
<path d="M-18.2,31.2 L-7.8,31.2 L-7.8,41 A5.2,5.2 0 0 1 -18.2,41Z" fill="#10809a"/><text x="-13" y="39.5" font-size="9" text-anchor="middle" fill="#fff">A</text>
<path d="M-6.2,31.2 L4.2,31.2 L4.2,43.2 Q-1,48.5 -6.2,43.2Z" fill="#e8700f"/><text x="-1" y="39.5" font-size="9" text-anchor="middle" fill="#fff">U</text>
<path d="M5.8,31.2 L16.2,31.2 L16.2,41.7 L11,46.2 L5.8,41.7Z" fill="#c23049"/><text x="11" y="39.5" font-size="9" text-anchor="middle" fill="#fff">C</text>
</g>
<g transform="translate(335.3,1022.8) rotate(17)">
<rect x="-13.8" y="-26.8" width="27.5" height="53.5" rx="6" fill="#a87838" stroke="#8e5f33" stroke-width="2"/>
<rect x="-20.8" y="27.8" width="41.5" height="3.2" fill="#555"/>
<path d="M-18.8,30.9 L-8.2,30.9 L-8.2,43 Q-13.5,48.2 -18.8,43Z" fill="#e8700f"/><text x="-13.5" y="39.2" font-size="9" text-anchor="middle" fill="#fff">U</text>
<path d="M-6.8,30.9 L3.8,30.9 L3.8,40.7 A5.2,5.2 0 0 1 -6.8,40.7Z" fill="#10809a"/><text x="-1.5" y="39.2" font-size="9" text-anchor="middle" fill="#fff">A</text>
<path d="M5.2,30.9 L15.8,30.9 L15.8,41.5 L10.5,46 L5.2,41.5Z" fill="#c23049"/><text x="10.5" y="39.2" font-size="9" text-anchor="middle" fill="#fff">C</text>
</g>
<path d="M419.7,1066.6 L419.3,1065.8 L419,1065 L418.6,1064.1 L418.2,1063.3 L417.8,1062.6 L417.4,1061.8 L417,1061 L416.6,1060.2 L416.1,1059.4 L415.7,1058.7 L415.2,1057.9 L414.8,1057.2 L414.3,1056.4 L413.8,1055.7 L413.3,1055 L412.8,1054.3 L412.3,1053.5 L411.8,1052.8 L411.3,1052.1 L410.7,1051.4 L410.2,1050.7 L409.6,1050.1 L409,1049.4 L408.4,1048.7 L407.9,1048 L407.3,1047.4 L406.6,1046.7 L406,1046.1 L405.4,1045.5 L404.8,1044.8 L404.1,1044.2 L403.4,1043.6 L402.8,1043 L402.1,1042.4 L401.4,1041.8 L400.7,1041.2 L400,1040.6 L399.3,1040 L398.5,1039.5 L397.8,1038.9 L397.1,1038.4 L396.3,1037.8 L395.5,1037.3 L394.8,1036.7 L394,1036.2 L393.2,1035.7 L392.4,1035.2 L391.6,1034.7 L390.7,1034.2 L389.9,1033.7 L389,1033.2 L388.2,1032.7 L387.3,1032.3 L386.5,1031.8 L385.6,1031.3 L384.7,1030.9 L383.8,1030.5 L382.9,1030 L382,1029.6 L381,1029.2 L380.1,1028.8 L379.1,1028.4 L378.2,1028 L377.2,1027.6 L376.2,1027.2 L375.3,1026.9 L374.3,1026.5 L373.3,1026.1 L372.2,1025.8 L371.2,1025.4 L370.2,1025.1 L371,1022 L360.3,1023.3 L368.9,1029.7 L369.7,1026.6 L370.7,1027 L371.8,1027.3 L372.8,1027.6 L373.8,1027.9 L374.7,1028.3 L375.7,1028.6 L376.7,1029 L377.6,1029.4 L378.6,1029.7 L379.5,1030.1 L380.5,1030.5 L381.4,1030.9 L382.3,1031.3 L383.2,1031.7 L384.1,1032.2 L385,1032.6 L385.8,1033 L386.7,1033.5 L387.6,1033.9 L388.4,1034.4 L389.3,1034.8 L390.1,1035.3 L390.9,1035.8 L391.7,1036.3 L392.5,1036.7 L393.3,1037.2 L394.1,1037.8 L394.9,1038.3 L395.6,1038.8 L396.4,1039.3 L397.1,1039.8 L397.9,1040.4 L398.6,1040.9 L399.3,1041.5 L400,1042.1 L400.7,1042.6 L401.4,1043.2 L402.1,1043.8 L402.7,1044.4 L403.4,1045 L404,1045.6 L404.7,1046.2 L405.3,1046.8 L405.9,1047.4 L406.6,1048.1 L407.2,1048.7 L407.8,1049.3 L408.3,1050 L408.9,1050.6 L409.5,1051.3 L410,1052 L410.6,1052.7 L411.1,1053.3 L411.6,1054 L412.2,1054.7 L412.7,1055.4 L413.2,1056.2 L413.7,1056.9 L414.1,1057.6 L414.6,1058.3 L415.1,1059.1 L415.5,1059.8 L416,1060.6 L416.4,1061.3 L416.8,1062.1 L417.2,1062.9 L417.6,1063.6 L418,1064.4 L418.4,1065.2 L418.8,1066 L419.1,1066.8Z" fill="#222"/>
<path d="M533.8,1014.8 L533.3,1015.4 L532.7,1015.9 L532.2,1016.5 L531.7,1017.1 L531.2,1017.7 L530.7,1018.2 L530.2,1018.8 L529.7,1019.4 L529.2,1020 L528.7,1020.6 L528.2,1021.2 L527.7,1021.8 L527.3,1022.5 L526.8,1023.1 L526.3,1023.7 L525.9,1024.3 L525.4,1025 L525,1025.6 L524.5,1026.3 L524.1,1026.9 L523.6,1027.6 L523.2,1028.2 L522.8,1028.9 L522.4,1029.6 L522,1030.2 L521.6,1030.9 L521.1,1031.6 L520.8,1032.3 L520.4,1032.9 L520,1033.6 L519.6,1034.3 L519.2,1035 L518.8,1035.7 L518.5,1036.4 L518.1,1037.2 L517.7,1037.9 L517.4,1038.6 L517,1039.3 L516.7,1040 L516.4,1040.8 L516,1041.5 L515.7,1042.2 L515.4,1043 L515.1,1043.7 L514.8,1044.5 L514.4,1045.2 L514.1,1046 L513.9,1046.8 L513.6,1047.5 L513.3,1048.3 L513,1049.1 L512.7,1049.9 L512.5,1050.6 L512.2,1051.4 L511.9,1052.2 L511.7,1053 L511.4,1053.8 L511.2,1054.6 L511,1055.4 L510.7,1056.2 L510.5,1057 L510.3,1057.8 L510.1,1058.6 L509.9,1059.5 L509.7,1060.3 L509.5,1061.1 L509.3,1061.9 L509.1,1062.8 L508.9,1063.6 L505.8,1063.1 L508.2,1073.1 L513.7,1064.4 L510.5,1063.9 L510.7,1063.1 L510.8,1062.3 L511,1061.4 L511.2,1060.6 L511.4,1059.8 L511.5,1059 L511.7,1058.2 L511.9,1057.4 L512.2,1056.6 L512.4,1055.8 L512.6,1055 L512.8,1054.2 L513,1053.4 L513.3,1052.6 L513.5,1051.8 L513.8,1051.1 L514,1050.3 L514.3,1049.5 L514.5,1048.7 L514.8,1048 L515.1,1047.2 L515.3,1046.5 L515.6,1045.7 L515.9,1045 L516.2,1044.2 L516.5,1043.5 L516.8,1042.7 L517.1,1042 L517.4,1041.3 L517.8,1040.5 L518.1,1039.8 L518.4,1039.1 L518.8,1038.4 L519.1,1037.6 L519.4,1036.9 L519.8,1036.2 L520.1,1035.5 L520.5,1034.8 L520.9,1034.1 L521.3,1033.4 L521.6,1032.8 L522,1032.1 L522.4,1031.4 L522.8,1030.7 L523.2,1030 L523.6,1029.4 L524,1028.7 L524.4,1028.1 L524.8,1027.4 L525.3,1026.8 L525.7,1026.1 L526.1,1025.5 L526.6,1024.8 L527,1024.2 L527.4,1023.6 L527.9,1022.9 L528.4,1022.3 L528.8,1021.7 L529.3,1021.1 L529.8,1020.5 L530.2,1019.9 L530.7,1019.3 L531.2,1018.7 L531.7,1018.1 L532.2,1017.5 L532.7,1016.9 L533.2,1016.3 L533.7,1015.8 L534.2,1015.2Z" fill="#222"/>
<path d="M373.2,1124.9 L373.2,1114.5 A5.2,5.2 0 0 1 383.5,1114.5 L383.5,1124.9Z" fill="#10809a"/><text x="378.3" y="1121.8" font-size="9.5" text-anchor="middle" fill="#fff" font-weight="bold">A</text>
<path d="M385.6,1124.9 L385.6,1114 L390.7,1109.3 L395.9,1114 L395.9,1124.9Z" fill="#c23049"/><text x="390.7" y="1121.8" font-size="9.5" text-anchor="middle" fill="#fff" font-weight="bold">C</text>
<path d="M398,1124.9 L398,1114.5 A5.2,5.2 0 0 1 408.3,1114.5 L408.3,1124.9Z" fill="#10809a"/><text x="403.1" y="1121.8" font-size="9.5" text-anchor="middle" fill="#fff" font-weight="bold">A</text>
<path d="M410.3,1124.9 L410.3,1114.5 A5.2,5.2 0 0 1 420.6,1114.5 L420.6,1124.9Z" fill="#10809a"/><text x="415.5" y="1121.8" font-size="9.5" text-anchor="middle" fill="#fff" font-weight="bold">A</text>
<path d="M422.7,1124.9 L422.7,1109.3 Q427.9,1114.8 433,1109.3 L433,1124.9Z" fill="#e8700f"/><text x="427.9" y="1121.8" font-size="9.5" text-anchor="middle" fill="#fff" font-weight="bold">U</text>
<path d="M435.1,1124.9 L435.1,1109.3 L440.2,1114 L445.4,1109.3 L445.4,1124.9Z" fill="#7222a0"/><text x="440.2" y="1121.8" font-size="9.5" text-anchor="middle" fill="#fff" font-weight="bold">G</text>
<path d="M447.5,1124.9 L447.5,1109.3 L452.6,1114 L457.8,1109.3 L457.8,1124.9Z" fill="#7222a0"/><text x="452.6" y="1121.8" font-size="9.5" text-anchor="middle" fill="#fff" font-weight="bold">G</text>
<path d="M459.9,1124.9 L459.9,1109.3 Q465,1114.8 470.2,1109.3 L470.2,1124.9Z" fill="#e8700f"/><text x="465" y="1121.8" font-size="9.5" text-anchor="middle" fill="#fff" font-weight="bold">U</text>
<path d="M472.2,1124.9 L472.2,1114 L477.4,1109.3 L482.5,1114 L482.5,1124.9Z" fill="#c23049"/><text x="477.4" y="1121.8" font-size="9.5" text-anchor="middle" fill="#fff" font-weight="bold">C</text>
<path d="M484.6,1124.9 L484.6,1109.3 Q489.8,1114.8 494.9,1109.3 L494.9,1124.9Z" fill="#e8700f"/><text x="489.8" y="1121.8" font-size="9.5" text-anchor="middle" fill="#fff" font-weight="bold">U</text>
<path d="M497,1124.9 L497,1114.5 A5.2,5.2 0 0 1 507.3,1114.5 L507.3,1124.9Z" fill="#10809a"/><text x="502.1" y="1121.8" font-size="9.5" text-anchor="middle" fill="#fff" font-weight="bold">A</text>
<path d="M509.4,1124.9 L509.4,1109.3 L514.5,1114 L519.7,1109.3 L519.7,1124.9Z" fill="#7222a0"/><text x="514.5" y="1121.8" font-size="9.5" text-anchor="middle" fill="#fff" font-weight="bold">G</text>
<path d="M521.8,1124.9 L521.8,1109.3 L526.9,1114 L532.1,1109.3 L532.1,1124.9Z" fill="#7222a0"/><text x="526.9" y="1121.8" font-size="9.5" text-anchor="middle" fill="#fff" font-weight="bold">G</text>
<path d="M534.1,1124.9 L534.1,1109.3 Q539.3,1114.8 544.4,1109.3 L544.4,1124.9Z" fill="#e8700f"/><text x="539.3" y="1121.8" font-size="9.5" text-anchor="middle" fill="#fff" font-weight="bold">U</text>
<rect x="372.1" y="1124.6" width="173.2" height="4.2" fill="#1b88f0"/>
<rect x="484.4" y="1105.5" width="37.1" height="25.9" fill="none" stroke="#222" stroke-width="1.8"/>
<path d="M484.4,1131.4 L467.6,1142 M521.5,1131.4 L540.4,1142" stroke="#333" stroke-width="1.3" stroke-dasharray="1.6,1.6"/>
<text x="549.5" y="1122.7" font-size="21">mRNA</text>
<rect x="465.5" y="1142.6" width="77.4" height="59.5" fill="#edf3fb" stroke="#1a1a1a" stroke-width="2.4"/>
<path d="M468.3,1184.6 L468.3,1154.5 Q478.1,1165 487.9,1154.5 L487.9,1184.6Z" fill="#e8700f"/>
<path d="M493.5,1184.6 L493.5,1162.6 A10.2,10.2 0 0 1 513.8,1162.6 L513.8,1184.6Z" fill="#10809a"/>
<path d="M518.7,1184.6 L518.7,1152.4 L529,1162.1 L539.3,1152.4 L539.3,1184.6Z" fill="#7222a0"/>
<text x="478.1" y="1177.5" font-size="18" text-anchor="middle" fill="#fff">U</text>
<text x="503.6" y="1177.5" font-size="18" text-anchor="middle" fill="#fff">A</text>
<text x="529" y="1177.5" font-size="18" text-anchor="middle" fill="#fff">G</text>
<rect x="466.9" y="1184.8" width="74.2" height="6.6" fill="#1b88f0"/>
<text x="361" y="1171.3" font-size="19.8">Amber stop</text>
<text x="383" y="1191.6" font-size="19.8">codon</text>
<line x1="718.9" y1="958.5" x2="793.1" y2="824.1" stroke="#1e1e1e" stroke-width="3.2"/>
<line x1="718.9" y1="967.6" x2="794.7" y2="1106.6" stroke="#1e1e1e" stroke-width="3.2"/>
<path d="M810.7,818.8 L812.5,826.2 L814.2,833.6 L815.8,841 L817.3,848.4 L818.7,855.8 L820.1,863.2 L821.3,870.6 L822.5,878 L823.5,885.4 L824.5,892.8 L825.4,900.2 L826.2,907.6 L826.9,915 L827.5,922.4 L828.1,929.8 L828.5,937.2 L828.9,944.6 L829.1,952 L829.3,959.4 L829.4,966.8 L829.4,974.1 L829.3,981.5 L829.1,988.9 L828.8,996.3 L828.4,1003.7 L828,1011 L827.4,1018.4 L826.8,1025.8 L826.1,1033.2 L825.3,1040.5 L824.4,1047.9 L823.4,1055.3 L822.3,1062.6 L821.1,1070 L819.9,1077.4 L818.5,1084.8 L817.1,1092.1 L815.5,1099.5 L813.9,1106.8 L812.2,1114.2" fill="none" stroke="#fff" stroke-width="30"/>
<path d="M827.1,817.6 L821.1,820.2 L812.8,821.1 M795.6,825.3 L803.9,824.3 L809.9,821.8 M828.4,823 L822.4,825.5 L814.1,826.4 M796.8,830.4 L805.2,829.6 L811.1,827.1 M829.6,828.5 L823.7,830.9 L815.3,831.7 M798,835.6 L806.4,834.8 L812.4,832.4 M830.8,833.9 L824.8,836.2 L816.5,837 M799.2,840.8 L807.5,840 L813.5,837.6 M832,839.3 L826,841.6 L817.6,842.3 M800.3,845.9 L808.7,845.2 L814.7,842.9 M833.1,844.7 L827.1,847 L818.7,847.6 M801.3,851.1 L809.7,850.4 L815.7,848.2 M834.1,850.2 L828.1,852.3 L819.7,852.9 M802.3,856.2 L810.7,855.7 L816.8,853.5 M835.2,855.6 L829.1,857.7 L820.7,858.2 M803.3,861.4 L811.7,860.9 L817.7,858.7 M836.1,861 L830.1,863.1 L821.6,863.5 M804.2,866.5 L812.6,866.1 L818.7,864 M837,866.4 L831,868.4 L822.5,868.8 M805.1,871.7 L813.5,871.3 L819.6,869.3 M837.9,871.8 L831.8,873.8 L823.4,874.1 M805.9,876.8 L814.4,876.5 L820.4,874.6 M838.7,877.3 L832.7,879.1 L824.2,879.4 M806.7,882 L815.2,881.7 L821.2,879.8 M839.5,882.7 L833.4,884.5 L825,884.7 M807.4,887.1 L815.9,886.9 L822,885.1 M840.2,888.1 L834.2,889.8 L825.7,890 M808.1,892.3 L816.6,892.1 L822.7,890.4 M840.9,893.5 L834.8,895.2 L826.3,895.3 M808.8,897.4 L817.3,897.4 L823.4,895.7 M841.6,898.9 L835.5,900.6 L827,900.6 M809.4,902.6 L817.9,902.6 L824,900.9 M842.2,904.4 L836,905.9 L827.5,905.9 M809.9,907.7 L818.4,907.8 L824.6,906.2 M842.7,909.8 L836.6,911.3 L828.1,911.2 M810.4,912.9 L819,913 L825.1,911.5 M843.2,915.2 L837.1,916.6 L828.6,916.5 M810.9,918 L819.4,918.2 L825.6,916.7 M843.6,920.6 L837.5,922 L829,921.8 M811.3,923.2 L819.9,923.4 L826,922 M844,926 L837.9,927.4 L829.4,927.1 M811.7,928.3 L820.3,928.6 L826.4,927.3 M844.4,931.5 L838.3,932.7 L829.7,932.4 M812.1,933.4 L820.6,933.8 L826.7,932.5 M844.7,936.9 L838.6,938.1 L830,937.6 M812.4,938.6 L820.9,939 L827,937.8 M845,942.3 L838.8,943.4 L830.3,942.9 M812.6,943.7 L821.2,944.2 L827.3,943.1 M845.2,947.7 L839,948.8 L830.5,948.2 M812.8,948.9 L821.4,949.4 L827.5,948.3 M845.4,953.1 L839.2,954.1 L830.7,953.5 M813,954 L821.5,954.6 L827.7,953.6 M845.5,958.5 L839.3,959.5 L830.8,958.8 M813.1,959.1 L821.6,959.8 L827.8,958.9 M845.6,964 L839.4,964.8 L830.9,964.1 M813.2,964.3 L821.7,965 L827.9,964.1 M845.6,969.4 L839.4,970.2 L830.9,969.4 M813.2,969.4 L821.7,970.2 L827.9,969.4 M845.6,974.8 L839.4,975.5 L830.9,974.7 M813.2,974.5 L821.7,975.4 L827.9,974.6 M845.5,980.2 L839.3,980.9 L830.8,980 M813.1,979.7 L821.7,980.6 L827.8,979.9 M845.4,985.6 L839.2,986.2 L830.7,985.2 M813,984.8 L821.5,985.8 L827.7,985.2 M845.2,991 L839.1,991.6 L830.5,990.5 M812.8,989.9 L821.4,991 L827.5,990.4 M845,996.4 L838.9,996.9 L830.3,995.8 M812.6,995.1 L821.2,996.2 L827.3,995.7 M844.8,1001.9 L838.6,1002.3 L830.1,1001.1 M812.4,1000.2 L820.9,1001.4 L827.1,1000.9 M844.5,1007.3 L838.3,1007.6 L829.8,1006.4 M812.1,1005.3 L820.7,1006.6 L826.8,1006.2 M844.1,1012.7 L838,1013 L829.4,1011.7 M811.8,1010.5 L820.3,1011.8 L826.5,1011.5 M843.7,1018.1 L837.6,1018.3 L829.1,1016.9 M811.4,1015.6 L819.9,1017 L826.1,1016.7 M843.3,1023.5 L837.2,1023.7 L828.6,1022.2 M811,1020.7 L819.5,1022.1 L825.6,1022 M842.8,1028.9 L836.7,1029 L828.2,1027.5 M810.5,1025.8 L819,1027.3 L825.2,1027.2 M842.3,1034.3 L836.1,1034.3 L827.6,1032.8 M810,1031 L818.5,1032.5 L824.6,1032.5 M841.7,1039.7 L835.6,1039.7 L827.1,1038.1 M809.5,1036.1 L818,1037.7 L824.1,1037.7 M841,1045.1 L834.9,1045 L826.4,1043.4 M808.9,1041.2 L817.4,1042.9 L823.5,1043 M840.4,1050.5 L834.3,1050.4 L825.8,1048.6 M808.2,1046.4 L816.7,1048.1 L822.8,1048.2 M839.6,1055.9 L833.6,1055.7 L825.1,1053.9 M807.5,1051.5 L816,1053.3 L822.1,1053.5 M838.9,1061.3 L832.8,1061.1 L824.3,1059.2 M806.8,1056.6 L815.3,1058.5 L821.4,1058.7 M838.1,1066.7 L832,1066.4 L823.5,1064.5 M806,1061.7 L814.5,1063.7 L820.6,1064 M837.2,1072.1 L831.1,1071.7 L822.7,1069.7 M805.2,1066.9 L813.7,1068.9 L819.7,1069.2 M836.3,1077.5 L830.2,1077.1 L821.8,1075 M804.4,1072 L812.8,1074 L818.8,1074.5 M835.3,1082.9 L829.3,1082.4 L820.9,1080.3 M803.4,1077.1 L811.9,1079.2 L817.9,1079.7 M834.3,1088.3 L828.3,1087.7 L819.9,1085.6 M802.5,1082.2 L810.9,1084.4 L816.9,1085 M833.3,1093.7 L827.3,1093.1 L818.8,1090.8 M801.5,1087.4 L809.9,1089.6 L815.9,1090.2 M832.2,1099.1 L826.2,1098.4 L817.8,1096.1 M800.4,1092.5 L808.8,1094.8 L814.8,1095.5 M831,1104.5 L825,1103.7 L816.7,1101.4 M799.4,1097.6 L807.7,1100 L813.7,1100.7 M829.8,1109.9 L823.9,1109.1 L815.5,1106.6 M798.2,1102.8 L806.6,1105.2 L812.6,1106 M828.6,1115.3 L822.6,1114.4 L814.3,1111.9 M797,1107.9 L805.4,1110.4 L811.4,1111.2" fill="none" stroke="#b8c8e4" stroke-width="0.8"/>
<g fill="#8d9bb2"><circle cx="827.1" cy="817.6" r="2.9"/><circle cx="795.6" cy="825.3" r="2.9"/><circle cx="828.4" cy="823" r="2.9"/><circle cx="796.8" cy="830.4" r="2.9"/><circle cx="829.6" cy="828.5" r="2.9"/><circle cx="798" cy="835.6" r="2.9"/><circle cx="830.8" cy="833.9" r="2.9"/><circle cx="799.2" cy="840.8" r="2.9"/><circle cx="832" cy="839.3" r="2.9"/><circle cx="800.3" cy="845.9" r="2.9"/><circle cx="833.1" cy="844.7" r="2.9"/><circle cx="801.3" cy="851.1" r="2.9"/><circle cx="834.1" cy="850.2" r="2.9"/><circle cx="802.3" cy="856.2" r="2.9"/><circle cx="835.2" cy="855.6" r="2.9"/><circle cx="803.3" cy="861.4" r="2.9"/><circle cx="836.1" cy="861" r="2.9"/><circle cx="804.2" cy="866.5" r="2.9"/><circle cx="837" cy="866.4" r="2.9"/><circle cx="805.1" cy="871.7" r="2.9"/><circle cx="837.9" cy="871.8" r="2.9"/><circle cx="805.9" cy="876.8" r="2.9"/><circle cx="838.7" cy="877.3" r="2.9"/><circle cx="806.7" cy="882" r="2.9"/><circle cx="839.5" cy="882.7" r="2.9"/><circle cx="807.4" cy="887.1" r="2.9"/><circle cx="840.2" cy="888.1" r="2.9"/><circle cx="808.1" cy="892.3" r="2.9"/><circle cx="840.9" cy="893.5" r="2.9"/><circle cx="808.8" cy="897.4" r="2.9"/><circle cx="841.6" cy="898.9" r="2.9"/><circle cx="809.4" cy="902.6" r="2.9"/><circle cx="842.2" cy="904.4" r="2.9"/><circle cx="809.9" cy="907.7" r="2.9"/><circle cx="842.7" cy="909.8" r="2.9"/><circle cx="810.4" cy="912.9" r="2.9"/><circle cx="843.2" cy="915.2" r="2.9"/><circle cx="810.9" cy="918" r="2.9"/><circle cx="843.6" cy="920.6" r="2.9"/><circle cx="811.3" cy="923.2" r="2.9"/><circle cx="844" cy="926" r="2.9"/><circle cx="811.7" cy="928.3" r="2.9"/><circle cx="844.4" cy="931.5" r="2.9"/><circle cx="812.1" cy="933.4" r="2.9"/><circle cx="844.7" cy="936.9" r="2.9"/><circle cx="812.4" cy="938.6" r="2.9"/><circle cx="845" cy="942.3" r="2.9"/><circle cx="812.6" cy="943.7" r="2.9"/><circle cx="845.2" cy="947.7" r="2.9"/><circle cx="812.8" cy="948.9" r="2.9"/><circle cx="845.4" cy="953.1" r="2.9"/><circle cx="813" cy="954" r="2.9"/><circle cx="845.5" cy="958.5" r="2.9"/><circle cx="813.1" cy="959.1" r="2.9"/><circle cx="845.6" cy="964" r="2.9"/><circle cx="813.2" cy="964.3" r="2.9"/><circle cx="845.6" cy="969.4" r="2.9"/><circle cx="813.2" cy="969.4" r="2.9"/><circle cx="845.6" cy="974.8" r="2.9"/><circle cx="813.2" cy="974.5" r="2.9"/><circle cx="845.5" cy="980.2" r="2.9"/><circle cx="813.1" cy="979.7" r="2.9"/><circle cx="845.4" cy="985.6" r="2.9"/><circle cx="813" cy="984.8" r="2.9"/><circle cx="845.2" cy="991" r="2.9"/><circle cx="812.8" cy="989.9" r="2.9"/><circle cx="845" cy="996.4" r="2.9"/><circle cx="812.6" cy="995.1" r="2.9"/><circle cx="844.8" cy="1001.9" r="2.9"/><circle cx="812.4" cy="1000.2" r="2.9"/><circle cx="844.5" cy="1007.3" r="2.9"/><circle cx="812.1" cy="1005.3" r="2.9"/><circle cx="844.1" cy="1012.7" r="2.9"/><circle cx="811.8" cy="1010.5" r="2.9"/><circle cx="843.7" cy="1018.1" r="2.9"/><circle cx="811.4" cy="1015.6" r="2.9"/><circle cx="843.3" cy="1023.5" r="2.9"/><circle cx="811" cy="1020.7" r="2.9"/><circle cx="842.8" cy="1028.9" r="2.9"/><circle cx="810.5" cy="1025.8" r="2.9"/><circle cx="842.3" cy="1034.3" r="2.9"/><circle cx="810" cy="1031" r="2.9"/><circle cx="841.7" cy="1039.7" r="2.9"/><circle cx="809.5" cy="1036.1" r="2.9"/><circle cx="841" cy="1045.1" r="2.9"/><circle cx="808.9" cy="1041.2" r="2.9"/><circle cx="840.4" cy="1050.5" r="2.9"/><circle cx="808.2" cy="1046.4" r="2.9"/><circle cx="839.6" cy="1055.9" r="2.9"/><circle cx="807.5" cy="1051.5" r="2.9"/><circle cx="838.9" cy="1061.3" r="2.9"/><circle cx="806.8" cy="1056.6" r="2.9"/><circle cx="838.1" cy="1066.7" r="2.9"/><circle cx="806" cy="1061.7" r="2.9"/><circle cx="837.2" cy="1072.1" r="2.9"/><circle cx="805.2" cy="1066.9" r="2.9"/><circle cx="836.3" cy="1077.5" r="2.9"/><circle cx="804.4" cy="1072" r="2.9"/><circle cx="835.3" cy="1082.9" r="2.9"/><circle cx="803.4" cy="1077.1" r="2.9"/><circle cx="834.3" cy="1088.3" r="2.9"/><circle cx="802.5" cy="1082.2" r="2.9"/><circle cx="833.3" cy="1093.7" r="2.9"/><circle cx="801.5" cy="1087.4" r="2.9"/><circle cx="832.2" cy="1099.1" r="2.9"/><circle cx="800.4" cy="1092.5" r="2.9"/><circle cx="831" cy="1104.5" r="2.9"/><circle cx="799.4" cy="1097.6" r="2.9"/><circle cx="829.8" cy="1109.9" r="2.9"/><circle cx="798.2" cy="1102.8" r="2.9"/><circle cx="828.6" cy="1115.3" r="2.9"/><circle cx="797" cy="1107.9" r="2.9"/></g>
<g transform="translate(0,0)"><path d="M783.4,896.3 C783,884 793,874 805,868.5 C818,863 828,860 836,860 C845,860.5 851,866 854.7,871 C856.5,880 858,890 859.7,897.4 C852,908 842,915 827.9,916.2 C812,917 800,914 791.7,909.3 C786,905 783.5,900 783.4,896.3Z" fill="#78b0f8" stroke="#1464f0" stroke-width="1"/><path d="M784.5,896 L810,887 C813,880 816,876 822,876 C826,876 829,878 831,879 L854.7,871 L859.7,897.4 L813.5,897.4 C817,902 820,905 824,905 C818,905 812,900 809,897.4Z" fill="#4a8ef0" stroke="#1464f0" stroke-width="0.8"/><ellipse cx="826" cy="891" rx="10" ry="14" fill="#50a8c8"/></g>
<circle cx="842.4" cy="893.4" r="29" fill="#78fa50" fill-opacity="0.27"/><circle cx="842.4" cy="893.4" r="18.5" fill="#78fa50" fill-opacity="0.36"/><circle cx="842.4" cy="893.4" r="10.9" fill="#78fa50" stroke="#2aa010" stroke-width="1.5"/>
<g transform="translate(8.5,157.5)"><path d="M783.4,896.3 C783,884 793,874 805,868.5 C818,863 828,860 836,860 C845,860.5 851,866 854.7,871 C856.5,880 858,890 859.7,897.4 C852,908 842,915 827.9,916.2 C812,917 800,914 791.7,909.3 C786,905 783.5,900 783.4,896.3Z" fill="#78b0f8" stroke="#1464f0" stroke-width="1"/><path d="M784.5,896 L810,887 C813,880 816,876 822,876 C826,876 829,878 831,879 L854.7,871 L859.7,897.4 L813.5,897.4 C817,902 820,905 824,905 C818,905 812,900 809,897.4Z" fill="#4a8ef0" stroke="#1464f0" stroke-width="0.8"/><ellipse cx="826" cy="891" rx="10" ry="14" fill="#50a8c8"/></g>
<circle cx="848.7" cy="1051.6" r="29" fill="#78fa50" fill-opacity="0.27"/><circle cx="848.7" cy="1051.6" r="18.5" fill="#78fa50" fill-opacity="0.36"/><circle cx="848.7" cy="1051.6" r="11" fill="#78fa50" stroke="#2aa010" stroke-width="1.5"/>
<!-- panel_c -->
<text x="878" y="76" font-size="37" font-weight="bold">c</text>
<path class="yb" d="M1192 432 1195 427 1202 423 1211 420 1220 420 1229 423 1235 428 1237 435 1242 444 1238 438 1231 434 1222 433 1212 434 1205 438 1200 442 1198 446Z"/>
<path class="lb" d="M1344 331 1350 327 1359 324 1370 323 1371 337 1361 339 1353 343 1349 347Z"/>
<path class="yb" d="M1210 595 1215 592 1223 593 1232 596 1242 602 1248 610 1251 619 1249 627 1246 638 1246 629 1242 621 1234 613 1224 608 1215 606 1208 607 1205 610Z"/>
<path class="yb" d="M1348 336 1354 332 1364 329 1375 328 1385 330 1387 343 1376 342 1365 344 1357 348 1353 352Z"/>
<path class="yb" d="M1409 269 1408 264 1408 256 1410 246 1414 238 1428 241 1425 250 1424 259 1424 266 1426 270Z"/>
<path class="lb" d="M1084 262 1094 263 1104 262 1113 258 1118 252 1119 248 1116 245 1124 258 1125 262 1122 267 1115 272 1106 275 1096 276 1086 273Z"/>
<path class="yf" d="M1237 435 1235 443 1230 451 1239 460 1243 452 1242 444Z"/>
<path class="lb" d="M1080 464 1091 467 1102 467 1112 465 1118 461 1121 457 1118 455 1123 470 1124 473 1120 477 1112 480 1101 482 1090 481 1081 477Z"/>
<path class="yb" d="M1140 343 1145 351 1152 357 1160 361 1168 363 1174 362 1176 359 1174 356 1172 371 1172 375 1168 376 1161 376 1152 373 1144 368 1139 360 1136 353Z"/>
<path class="yb" d="M1287 489 1292 488 1301 488 1311 491 1321 496 1316 510 1306 506 1296 504 1288 504 1285 505Z"/>
<path class="yb" d="M1242 606 1248 608 1255 612 1244 624 1238 621 1234 621Z"/>
<path class="yb" d="M1297 287 1302 281 1305 271 1305 260 1302 250 1297 242 1292 238 1288 238 1303 232 1307 233 1312 239 1316 248 1318 258 1318 269 1314 277 1308 282Z"/>
<path class="lb" d="M1136 447 1140 447 1146 448 1154 451 1162 457 1167 464 1169 471 1168 478 1165 489 1165 482 1161 475 1154 469 1146 464 1138 462 1133 462 1131 463Z"/>
<path class="lb" d="M1135 460 1138 468 1145 475 1154 481 1163 484 1170 485 1173 483 1173 479 1169 495 1168 498 1163 499 1155 497 1146 493 1137 487 1132 479 1130 471Z"/>
<path class="lb" d="M1298 285 1301 275 1301 265 1298 254 1293 246 1288 241 1284 241 1282 245 1296 237 1299 235 1303 236 1308 243 1312 252 1314 263 1313 273 1309 281Z"/>
<path class="yb" d="M1136 479 1143 487 1152 492 1160 495 1167 495 1170 493 1169 490 1165 506 1165 509 1160 510 1152 508 1143 504 1135 498 1129 491Z"/>
<path class="lb" d="M1289 480 1294 479 1302 479 1312 482 1307 497 1297 495 1290 495 1287 497Z"/>
<path class="yf" d="M1249 627 1242 634 1233 637 1222 638 1222 651 1232 650 1241 645 1246 638Z"/>
<path class="lb" d="M1142 333 1146 340 1153 347 1161 351 1169 353 1175 353 1178 350 1177 346 1174 362 1174 365 1169 367 1162 366 1153 363 1146 358 1140 350 1138 342Z"/>
<path class="yb" d="M1211 394 1213 390 1220 387 1229 384 1238 384 1247 386 1253 391 1256 398 1261 407 1256 402 1249 398 1239 397 1230 399 1222 402 1217 406 1216 409Z"/>
<path class="yf" d="M1151 323 1144 328 1140 335 1140 343 1136 353 1138 345 1144 339 1152 335Z"/>
<path class="lb" d="M1209 388 1211 384 1218 380 1226 378 1236 377 1244 379 1251 383 1254 390 1259 400 1254 394 1246 391 1237 390 1227 392 1220 396 1216 400 1215 403Z"/>
<path class="lb" d="M1247 596 1252 598 1243 612 1239 611Z"/>
<path class="yb" d="M1135 456 1139 456 1146 457 1154 461 1162 467 1167 474 1169 481 1166 488 1164 499 1164 492 1161 485 1154 478 1146 474 1138 471 1133 471 1130 472Z"/>
<path class="yb" d="M1206 624 1211 622 1220 620 1231 619 1241 621 1250 626 1255 632 1255 639 1258 651 1256 644 1250 639 1240 636 1229 634 1219 635 1212 638 1208 641Z"/>
<path class="yb" d="M1289 604 1294 602 1302 602 1312 605 1321 610 1328 616 1324 629 1316 623 1306 619 1297 617 1290 618 1287 620Z"/>
<path class="lb" d="M1122 583 1128 575 1132 565 1133 556 1132 548 1130 545 1126 546 1143 546 1146 547 1148 552 1148 561 1145 571 1140 580 1134 587Z"/>
<path class="lb" d="M1289 592 1293 590 1301 590 1311 592 1320 597 1315 610 1305 606 1296 605 1289 606 1286 608Z"/>
<path class="lb" d="M1315 507 1320 507 1327 509 1335 513 1326 525 1318 522 1312 521 1309 523Z"/>
<path class="lb" d="M1276 232 1278 229 1283 226 1292 223 1293 239 1287 242 1283 245 1283 247Z"/>
<path class="yb" d="M1180 406 1182 402 1188 397 1197 395 1206 394 1215 396 1221 401 1224 408 1229 417 1225 411 1217 407 1208 407 1198 409 1191 412 1187 417 1186 421Z"/>
<path class="yb" d="M1134 576 1138 566 1139 557 1138 550 1135 547 1132 548 1148 548 1151 549 1153 554 1154 562 1151 572 1147 581Z"/>
<path class="yb" d="M1315 513 1320 513 1328 516 1336 520 1343 527 1335 538 1327 532 1318 529 1312 528 1309 529Z"/>
<path class="yb" d="M1280 241 1283 238 1289 234 1297 232 1306 231 1308 245 1299 247 1292 250 1288 254 1287 256Z"/>
<path class="lf" d="M1163 311 1154 313 1146 318 1142 325 1142 333 1138 342 1141 335 1147 329 1155 326 1165 325Z"/><path class="lh" d="M1154 317 1146 321 1142 328 1141 332 1147 326 1155 322Z"/>
<path class="yb" d="M1223 564 1231 564 1240 566 1249 572 1256 580 1260 589 1259 597 1253 604 1252 615 1255 607 1255 599 1250 590 1241 583 1232 578 1223 577 1217 578Z"/>
<path class="lf" d="M1168 478 1162 483 1162 495 1165 489Z"/>
<path class="lb" d="M1330 300 1334 296 1343 292 1353 290 1364 291 1373 294 1379 300 1380 308 1386 318 1383 311 1375 306 1365 304 1354 305 1345 308 1338 312 1335 315Z"/>
<path class="lb" d="M1069 310 1075 310 1084 313 1092 316 1099 321 1103 327 1103 333 1102 346 1099 340 1094 335 1086 330 1077 328 1070 326 1065 326Z"/>
<path class="lb" d="M1278 283 1283 281 1292 280 1302 281 1311 285 1318 291 1322 299 1320 306 1322 318 1321 310 1316 303 1307 298 1298 295 1288 295 1281 297 1278 299Z"/>
<path class="yb" d="M1372 273 1371 268 1371 260 1373 251 1376 242 1381 235 1388 232 1395 233 1407 231 1400 232 1394 238 1390 246 1387 255 1387 264 1387 270 1389 273Z"/>
<path class="yb" d="M1066 317 1069 316 1076 317 1084 319 1092 323 1099 328 1103 334 1102 340 1101 353 1100 347 1094 342 1086 337 1078 334 1070 333 1065 333 1064 333Z"/>
<path class="yb" d="M1155 274 1163 270 1167 265 1167 261 1163 259 1171 273 1173 276 1171 281 1165 285 1156 288Z"/>
<path class="lb" d="M1141 271 1151 270 1160 266 1164 261 1165 257 1161 255 1169 269 1171 272 1168 276 1162 281 1152 284 1142 285Z"/>
<path class="lb" d="M1329 289 1336 289 1340 287 1340 284 1337 300 1335 302 1329 303 1321 301Z"/>
<path class="yf" d="M1256 398 1255 406 1250 413 1243 420 1235 424 1228 426 1224 425 1232 439 1237 439 1245 436 1253 430 1259 423 1262 415 1261 407Z"/><path class="yh" d="M1252 416 1246 423 1238 428 1242 432 1250 427 1256 420Z"/>
<path class="lf" d="M1260 274 1267 282 1275 289 1284 292 1292 290 1298 285 1309 281 1303 285 1294 285 1285 281 1278 273 1272 264Z"/><path class="lh" d="M1278 287 1287 290 1291 287 1282 283Z"/>
<path class="yb" d="M1016 343 1021 338 1024 329 1025 318 1023 308 1021 299 1019 295 1017 295 1033 290 1035 291 1038 298 1040 307 1040 318 1039 328 1035 336 1029 339Z"/>
<path class="yf" d="M1224 408 1223 416 1219 424 1212 431 1204 435 1197 436 1193 435 1192 432 1198 446 1201 449 1207 449 1214 446 1222 440 1227 433 1230 425 1229 417Z"/><path class="yh" d="M1221 426 1214 433 1207 438 1200 440 1204 445 1211 442 1219 437 1225 430Z"/>
<path class="yb" d="M1334 305 1339 301 1347 297 1358 295 1369 296 1377 300 1383 306 1383 314 1389 325 1387 317 1380 312 1370 310 1359 310 1349 313 1342 317 1339 320Z"/>
<path class="yb" d="M1052 271 1058 270 1066 271 1074 275 1081 281 1085 288 1085 296 1082 303 1083 313 1085 305 1082 297 1076 291 1068 286 1059 284 1052 285 1048 287Z"/>
<path class="yb" d="M1242 252 1247 249 1256 247 1267 246 1276 246 1284 250 1288 255 1287 262 1293 274 1292 268 1287 263 1278 261 1268 261 1258 263 1250 265 1246 268Z"/>
<path class="lb" d="M984 308 982 306 981 309 997 303 998 302 1000 306Z"/>
<path class="lf" d="M1254 390 1253 398 1249 406 1242 413 1235 417 1227 419 1237 432 1244 429 1252 423 1258 415 1260 407 1259 400Z"/><path class="lh" d="M1251 408 1245 415 1249 420 1255 412Z"/>
<path class="lb" d="M1017 341 1020 332 1021 322 1020 311 1018 302 1015 297 1014 297 1030 292 1032 294 1034 301 1036 310 1037 321 1035 331 1031 339Z"/>
<path class="yb" d="M1109 548 1113 555 1121 560 1131 564 1142 565 1150 565 1155 564 1155 562 1156 579 1154 580 1147 581 1138 581 1127 578 1118 574 1112 568 1110 561Z"/>
<path class="yf" d="M1272 280 1280 286 1289 289 1297 287 1308 282 1299 282 1291 278 1283 271Z"/>
<path class="yb" d="M1281 289 1286 287 1295 286 1305 288 1314 292 1321 298 1324 306 1322 314 1324 325 1323 317 1319 310 1310 305 1301 302 1291 301 1284 303 1280 306Z"/>
<path class="yb" d="M1096 402 1101 400 1109 399 1118 400 1127 403 1134 409 1137 416 1137 424 1139 434 1138 427 1132 420 1124 416 1114 414 1106 414 1100 416 1097 419Z"/>
<path class="yf" d="M1166 488 1161 493 1152 496 1153 509 1160 505 1164 499Z"/>
<path class="yb" d="M1173 522 1179 528 1188 533 1199 535 1209 534 1217 532 1221 529 1221 526 1224 542 1223 545 1217 548 1208 550 1197 549 1187 546 1179 541 1176 534Z"/>
<path class="lb" d="M1229 523 1234 522 1242 524 1251 529 1260 536 1251 547 1242 540 1233 537 1226 536 1223 538Z"/>
<path class="yb" d="M1123 501 1128 509 1135 516 1145 521 1153 523 1159 523 1161 520 1156 536 1152 538 1145 537 1136 534 1127 528 1121 521 1117 513Z"/>
<path class="yb" d="M1256 572 1261 574 1268 578 1276 583 1281 590 1284 598 1283 605 1279 610 1276 622 1278 615 1277 608 1272 601 1265 594 1258 590 1252 587 1248 587Z"/>
<path class="lb" d="M1378 200 1377 193 1378 183 1383 173 1391 166 1399 162 1408 163 1418 165 1409 165 1401 171 1395 180 1391 190 1390 199 1393 205Z"/>
<path class="yb" d="M1290 455 1294 453 1302 454 1313 456 1323 460 1331 466 1335 473 1335 480 1334 494 1333 486 1327 480 1317 474 1307 471 1297 469 1291 469 1288 471Z"/>
<path class="lb" d="M1082 491 1090 495 1101 497 1112 497 1121 494 1127 490 1128 487 1124 485 1129 500 1131 503 1129 506 1122 510 1112 512 1100 511 1090 508 1083 503Z"/>
<path class="lb" d="M1261 563 1266 564 1273 568 1280 573 1286 580 1289 588 1289 594 1285 600 1282 612 1283 605 1281 598 1276 591 1269 584 1262 580 1256 578 1253 577Z"/>
<path class="lb" d="M1114 545 1121 551 1131 555 1142 557 1150 556 1156 555 1156 553 1157 570 1154 572 1147 573 1138 572 1127 569 1118 565 1112 558Z"/>
<path class="lb" d="M1089 284 1097 288 1107 289 1117 287 1125 283 1130 278 1131 273 1128 270 1136 283 1137 287 1134 292 1128 297 1119 301 1108 301 1099 299 1092 294Z"/>
<path class="yb" d="M1149 280 1154 280 1147 295 1143 295Z"/>
<path class="lb" d="M1292 446 1296 445 1304 445 1314 447 1324 451 1333 457 1337 464 1338 471 1336 484 1334 477 1328 470 1319 465 1308 462 1299 460 1292 461 1291 463Z"/>
<path class="yf" d="M985 304 985 307 1000 301 1001 299Z"/>
<path class="yf" d="M1082 303 1075 308 1066 312 1058 312 1051 311 1047 308 1046 305 1045 321 1048 324 1054 326 1062 326 1071 324 1078 319 1083 313Z"/><path class="yh" d="M1068 315 1059 316 1051 315 1053 322 1061 322 1069 320Z"/>
<path class="lb" d="M1147 413 1153 414 1161 418 1169 423 1175 429 1178 437 1177 443 1174 455 1173 447 1168 440 1161 434 1153 430 1146 429 1141 429Z"/>
<path class="lb" d="M1126 490 1130 498 1138 505 1147 510 1156 512 1162 512 1164 510 1162 506 1159 522 1159 525 1155 527 1148 526 1139 522 1130 517 1123 509 1121 501Z"/>
<path class="yb" d="M1226 534 1232 534 1240 536 1249 541 1258 548 1263 557 1256 567 1249 559 1240 552 1231 548 1224 548 1220 549Z"/>
<path class="yb" d="M1134 375 1139 382 1146 388 1155 392 1162 393 1167 391 1168 388 1165 404 1161 406 1155 406 1147 404 1138 399 1132 392 1129 384Z"/>
<path class="yb" d="M1324 274 1329 268 1332 259 1331 248 1328 238 1323 230 1318 226 1315 226 1329 219 1333 221 1338 226 1343 235 1345 246 1344 256 1341 265 1334 270Z"/>
<path class="lf" d="M1380 308 1377 317 1370 325 1361 332 1353 336 1346 337 1343 335 1344 331 1349 347 1350 350 1354 350 1362 348 1371 343 1379 336 1384 327 1386 318Z"/><path class="lh" d="M1373 328 1364 335 1355 339 1348 340 1352 346 1359 344 1368 340 1376 333Z"/>
<path class="yb" d="M1160 414 1170 415 1181 413 1190 409 1196 404 1198 399 1195 396 1204 410 1205 413 1201 418 1194 423 1184 427 1173 428 1163 426Z"/>
<path class="lb" d="M1173 517 1178 523 1187 528 1198 530 1208 529 1216 527 1221 524 1221 522 1224 538 1222 541 1216 543 1207 545 1196 544 1186 541 1178 536 1175 528Z"/>
<path class="yb" d="M1276 626 1280 621 1288 617 1298 616 1308 617 1316 621 1322 627 1323 635 1327 645 1324 637 1317 632 1308 629 1297 629 1288 632 1282 636 1280 641Z"/>
<path class="lb" d="M1274 618 1278 613 1285 609 1295 607 1305 608 1314 612 1320 618 1321 626 1325 636 1322 629 1315 623 1305 621 1295 621 1286 624 1280 628 1279 633Z"/>
<path class="lb" d="M1356 338 1360 346 1367 353 1376 357 1385 359 1392 359 1395 356 1394 353 1392 369 1391 372 1386 374 1378 373 1369 370 1360 364 1354 356 1353 348Z"/>
<path class="yf" d="M1253 604 1244 608 1234 609 1223 607 1215 603 1210 599 1210 595 1205 610 1207 614 1213 619 1223 622 1234 622 1244 620 1252 615Z"/><path class="yh" d="M1234 613 1223 611 1214 608 1214 614 1223 617 1234 618Z"/>
<path class="yb" d="M1144 220 1144 228 1148 236 1155 243 1163 247 1171 249 1176 248 1178 245 1172 260 1169 262 1162 262 1154 258 1146 253 1141 245 1139 237 1140 230Z"/>
<path class="lb" d="M1324 272 1327 263 1327 252 1324 242 1320 234 1315 229 1311 229 1309 233 1322 225 1325 222 1330 224 1335 230 1339 239 1341 250 1340 261 1336 269Z"/>
<path class="yf" d="M1395 233 1401 238 1406 246 1410 255 1411 263 1411 269 1410 271 1409 269 1426 270 1427 269 1428 265 1427 257 1424 249 1419 240 1413 234 1407 231Z"/><path class="yh" d="M1410 244 1414 253 1416 262 1416 268 1423 266 1422 259 1420 250 1415 242Z"/>
<path class="yb" d="M1199 591 1204 588 1213 586 1224 586 1235 588 1243 592 1248 598 1248 606 1252 618 1250 611 1243 606 1233 602 1223 601 1212 602 1205 605 1202 607Z"/>
<path class="yf" d="M1383 314 1380 323 1373 331 1364 338 1355 341 1349 342 1347 340 1348 336 1353 352 1353 355 1357 356 1365 354 1374 349 1382 342 1388 333 1389 325Z"/><path class="yh" d="M1375 334 1367 341 1358 345 1351 346 1355 352 1362 350 1371 346 1379 339Z"/>
<path class="lb" d="M1337 474 1346 479 1354 485 1359 492 1361 500 1359 508 1356 518 1356 511 1352 503 1345 496 1336 491 1329 488Z"/>
<path class="yb" d="M1198 366 1201 362 1207 358 1216 356 1226 355 1234 358 1241 363 1243 369 1248 379 1244 373 1236 370 1227 369 1217 370 1210 374 1205 378 1204 381Z"/>
<path class="lb" d="M1149 403 1157 407 1167 409 1177 407 1187 403 1193 397 1195 393 1193 390 1202 403 1202 407 1198 412 1190 417 1180 421 1169 421 1160 419 1154 413Z"/>
<path class="lb" d="M1197 360 1199 356 1205 352 1214 349 1223 349 1232 351 1239 355 1242 362 1247 372 1242 366 1234 363 1224 362 1215 364 1208 367 1203 371 1203 375Z"/>
<path class="yf" d="M1102 340 1098 345 1091 349 1082 351 1073 352 1066 352 1063 351 1063 350 1061 367 1063 368 1069 369 1077 368 1086 367 1094 363 1099 359 1101 353Z"/><path class="yh" d="M1092 353 1083 356 1074 357 1067 357 1068 364 1076 364 1084 362 1093 359Z"/>
<path class="lb" d="M1262 198 1267 195 1275 192 1284 191 1293 192 1300 195 1304 201 1305 208 1312 218 1309 211 1303 207 1295 205 1286 205 1277 208 1271 211 1267 214Z"/>
<path class="yf" d="M1255 639 1251 647 1243 653 1233 658 1240 672 1249 666 1256 659 1258 651Z"/>
<path class="yb" d="M1071 282 1077 283 1086 285 1094 289 1101 293 1105 299 1105 305 1104 318 1102 312 1096 307 1088 303 1079 300 1072 299 1068 299Z"/>
<path class="yb" d="M1143 424 1147 423 1153 424 1161 427 1169 433 1175 439 1177 447 1176 453 1173 465 1172 457 1168 450 1161 444 1153 440 1145 438 1140 438 1139 440Z"/>
<path class="yb" d="M1293 575 1297 573 1305 573 1314 575 1324 579 1331 585 1335 593 1334 600 1333 612 1332 605 1327 598 1318 592 1308 588 1299 587 1293 588 1290 591Z"/>
<path class="lf" d="M1116 245 1110 244 1102 247 1093 252 1087 260 1083 269 1084 277 1089 284 1092 294 1089 286 1090 278 1095 269 1103 262 1111 258 1119 256 1124 258Z"/><path class="lh" d="M1104 250 1096 255 1089 263 1085 271 1088 275 1093 266 1100 259 1108 254Z"/>
<path class="lb" d="M1293 563 1296 561 1304 560 1313 562 1323 566 1330 572 1335 580 1334 587 1333 599 1331 592 1326 585 1317 579 1307 576 1298 575 1292 576 1290 579Z"/>
<path class="yf" d="M1279 610 1272 613 1263 614 1254 613 1246 611 1241 608 1240 606 1242 606 1234 621 1234 622 1238 625 1244 627 1253 629 1262 628 1270 626 1276 622Z"/><path class="yh" d="M1263 618 1253 617 1245 615 1240 613 1239 620 1245 622 1253 624 1262 624Z"/>
<path class="lb" d="M1135 364 1140 372 1147 378 1156 382 1164 383 1169 382 1171 379 1168 376 1167 392 1167 395 1163 397 1156 397 1148 394 1140 389 1134 382 1131 374Z"/>
<path class="lb" d="M1147 590 1154 585 1159 576 1163 566 1164 557 1162 550 1160 547 1156 549 1173 549 1176 549 1178 554 1178 562 1176 572 1172 581 1166 589 1158 592Z"/>
<path class="yf" d="M1174 356 1168 352 1160 351 1150 351 1142 354 1135 360 1132 367 1134 375 1129 384 1130 377 1135 370 1143 366 1152 364 1161 365 1168 368 1172 371Z"/><path class="yh" d="M1160 355 1151 355 1142 357 1135 363 1135 367 1142 362 1152 360 1161 361Z"/>
<path class="lf" d="M1320 306 1315 313 1307 319 1297 322 1303 336 1312 331 1319 325 1322 318Z"/>
<path class="lf" d="M1285 600 1278 603 1269 605 1260 604 1252 602 1247 599 1245 597 1247 596 1239 611 1239 613 1243 615 1250 618 1259 619 1268 619 1276 616 1282 612Z"/><path class="lh" d="M1269 609 1259 608 1251 606 1246 604 1244 610 1251 613 1259 615 1268 615Z"/>
<path class="yb" d="M1153 592 1160 586 1166 577 1169 567 1170 558 1168 552 1165 549 1162 552 1178 552 1181 551 1184 555 1184 563 1183 573 1179 582 1172 590 1165 594Z"/>
<path class="lb" d="M1071 276 1077 276 1085 278 1093 282 1101 286 1105 292 1106 298 1103 303 1103 317 1104 311 1102 305 1095 300 1087 296 1079 293 1072 292 1068 292Z"/>
<path class="lf" d="M1103 333 1099 338 1092 342 1083 345 1074 346 1067 346 1063 345 1064 362 1069 362 1078 362 1087 360 1095 356 1100 352 1102 346Z"/><path class="lh" d="M1093 346 1084 349 1075 350 1077 357 1086 355 1094 352Z"/>
<path class="yb" d="M1346 486 1354 492 1359 500 1361 508 1358 515 1355 526 1356 518 1352 510 1345 503 1337 497Z"/>
<path class="yb" d="M1310 220 1316 216 1325 213 1324 228 1317 231 1313 235Z"/>
<path class="yf" d="M1287 262 1283 269 1275 276 1266 281 1258 284 1252 285 1250 284 1253 282 1257 298 1256 300 1260 300 1267 298 1275 294 1284 288 1290 281 1293 274Z"/><path class="yh" d="M1278 279 1269 285 1261 288 1254 289 1258 296 1264 294 1273 290 1281 284Z"/>
<path class="lf" d="M1401 323 1397 320 1389 317 1380 316 1370 318 1361 323 1356 330 1356 338 1353 348 1355 341 1362 335 1371 331 1381 331 1390 332 1397 335 1399 339Z"/><path class="lh" d="M1390 321 1380 320 1370 322 1362 326 1362 331 1371 327 1381 326 1390 328Z"/>
<path class="yb" d="M1050 332 1055 326 1057 316 1057 305 1055 295 1053 288 1051 285 1049 286 1065 280 1067 281 1069 285 1072 294 1073 305 1072 315 1069 324 1064 329Z"/>
<path class="yb" d="M1230 222 1236 219 1245 217 1255 216 1265 216 1273 219 1277 224 1277 231 1283 243 1281 237 1275 233 1266 231 1256 231 1246 233 1239 236 1235 238Z"/>
<path class="yb" d="M1265 209 1267 207 1272 203 1281 201 1290 200 1299 201 1305 205 1309 211 1314 221 1309 216 1300 214 1291 214 1282 216 1276 219 1272 222 1272 224Z"/>
<path class="lf" d="M1118 455 1111 454 1102 456 1092 461 1083 468 1078 476 1077 484 1082 491 1083 503 1081 496 1083 488 1089 480 1099 474 1109 470 1118 469 1123 470Z"/><path class="lh" d="M1104 460 1094 465 1085 471 1079 479 1081 484 1087 476 1097 470 1107 466Z"/>
<path class="yb" d="M1156 248 1161 248 1169 250 1178 254 1186 260 1191 267 1193 274 1190 280 1188 292 1189 286 1185 279 1178 272 1170 267 1161 264 1154 263 1151 264Z"/>
<path class="lf" d="M1177 443 1172 449 1164 453 1155 454 1146 453 1139 452 1135 449 1136 447 1131 463 1133 465 1139 468 1147 469 1156 468 1165 466 1171 461 1174 455Z"/><path class="lh" d="M1164 456 1155 458 1146 458 1139 456 1139 463 1147 464 1156 464 1165 462Z"/>
<path class="yb" d="M1167 380 1169 376 1174 372 1183 369 1192 368 1201 369 1208 374 1211 381 1216 390 1211 384 1203 381 1194 381 1184 383 1177 387 1174 391 1174 395Z"/>
<path class="yf" d="M1187 216 1182 212 1174 209 1165 207 1155 209 1148 213 1144 220 1140 230 1146 224 1154 221 1164 221 1173 223 1180 227 1183 231Z"/><path class="yh" d="M1174 213 1164 211 1155 212 1155 217 1164 217 1173 219Z"/>
<path class="lf" d="M1173 479 1167 476 1159 473 1148 471 1138 472 1130 476 1126 482 1126 490 1121 501 1122 494 1128 489 1137 486 1148 486 1158 488 1165 491 1169 495Z"/><path class="lh" d="M1158 477 1148 475 1138 476 1130 480 1129 485 1138 482 1148 481 1158 483Z"/>
<path class="lf" d="M1408 163 1415 168 1420 177 1432 176 1426 168 1418 165Z"/>
<path class="lb" d="M1298 296 1301 303 1307 310 1315 315 1323 317 1330 317 1333 315 1333 311 1330 327 1328 330 1323 331 1316 330 1307 326 1300 320 1296 313 1295 306Z"/>
<path class="yf" d="M1322 314 1316 320 1308 326 1298 329 1289 329 1294 344 1303 342 1313 338 1320 332 1324 325Z"/><path class="yh" d="M1318 324 1309 329 1300 332 1302 338 1311 335 1319 329Z"/>
<path class="yf" d="M1169 490 1163 486 1155 483 1144 482 1134 483 1126 487 1123 494 1123 501 1117 513 1119 505 1124 500 1133 497 1143 496 1153 498 1161 502 1165 506Z"/><path class="yh" d="M1154 487 1144 486 1134 487 1126 491 1125 496 1133 493 1144 492 1154 494Z"/>
<path class="yb" d="M1065 326 1067 334 1073 340 1081 345 1090 349 1097 350 1102 349 1102 346 1099 362 1097 364 1091 364 1082 362 1074 358 1067 352 1063 345 1063 338Z"/>
<path class="lf" d="M1177 346 1171 343 1163 341 1154 341 1145 344 1138 350 1135 357 1135 364 1131 374 1132 367 1138 360 1146 356 1155 355 1164 356 1171 359 1174 362Z"/><path class="lh" d="M1163 345 1154 345 1145 348 1138 353 1138 357 1145 353 1155 351 1164 351Z"/>
<path class="yb" d="M1335 276 1334 272 1333 264 1335 255 1338 246 1343 239 1349 235 1356 236 1368 234 1362 236 1356 242 1352 250 1350 259 1349 268 1350 274 1352 276Z"/>
<path class="lb" d="M1046 335 1051 329 1053 319 1053 308 1052 298 1049 291 1047 287 1046 288 1062 283 1064 283 1066 288 1068 297 1069 308 1068 319 1065 327 1060 331Z"/>
<path class="yf" d="M1193 494 1184 499 1176 506 1173 514 1173 522 1176 534 1177 526 1182 518 1191 512 1201 507Z"/><path class="yh" d="M1186 503 1178 510 1174 517 1175 522 1180 514 1189 508Z"/>
<path class="yb" d="M1297 419 1304 419 1314 421 1324 425 1333 430 1338 437 1339 444 1338 457 1335 450 1328 444 1319 439 1308 436 1299 434 1293 435Z"/>
<path class="yf" d="M985 307 986 314 990 323 995 332 1002 340 1009 344 1016 343 1029 339 1022 338 1015 332 1008 324 1004 314 1001 306 1000 301Z"/><path class="yh" d="M994 320 999 330 1006 338 1011 334 1005 326 999 317Z"/>
<path class="lb" d="M1349 190 1347 184 1347 175 1347 166 1350 157 1354 152 1360 149 1372 146 1367 150 1364 158 1362 167 1363 176 1364 183 1366 188Z"/>
<path class="lf" d="M1282 245 1283 253 1287 262 1294 270 1302 277 1311 280 1319 278 1324 272 1336 269 1329 273 1321 273 1312 269 1304 261 1299 252 1296 243 1296 237Z"/><path class="lh" d="M1290 259 1297 268 1305 274 1314 278 1318 275 1309 271 1301 264 1295 255Z"/>
<path class="yf" d="M1243 369 1242 377 1238 385 1231 392 1223 396 1216 398 1211 397 1211 394 1216 409 1219 411 1225 411 1233 408 1240 402 1246 395 1249 387 1248 379Z"/><path class="yh" d="M1240 388 1233 395 1226 399 1218 401 1222 407 1230 404 1237 399 1244 392Z"/>
<path class="lb" d="M1316 268 1319 264 1326 260 1336 258 1347 258 1357 260 1364 266 1366 273 1372 284 1367 277 1359 273 1349 271 1338 273 1329 276 1323 280 1321 284Z"/>
<path class="yf" d="M1288 238 1286 243 1288 250 1292 259 1299 268 1307 274 1316 277 1324 274 1334 270 1326 270 1317 266 1309 259 1303 250 1300 241 1300 235 1303 232Z"/><path class="yh" d="M1291 248 1295 257 1302 265 1310 272 1314 269 1306 262 1300 253 1296 244Z"/>
<path class="yb" d="M1231 535 1238 535 1247 537 1257 542 1265 549 1269 558 1269 567 1264 574 1262 585 1265 577 1263 568 1257 560 1249 553 1239 549 1231 548 1225 550Z"/>
<path class="lb" d="M1327 415 1332 413 1340 412 1349 413 1345 427 1336 427 1330 429 1327 432Z"/>
<path class="yb" d="M1138 303 1147 306 1158 307 1168 304 1176 300 1180 296 1180 292 1176 290 1184 304 1186 307 1184 311 1178 316 1169 319 1158 320 1148 318 1140 313Z"/>
<path class="lf" d="M981 309 982 315 986 324 991 334 998 341 1005 346 1012 346 1017 341 1031 339 1025 342 1018 340 1011 334 1004 325 1000 316 997 308 997 303Z"/><path class="lh" d="M990 322 995 331 1002 339 1009 344 1014 342 1007 336 1000 328 995 318Z"/>
<path class="lf" d="M1242 362 1241 370 1237 377 1230 384 1222 389 1215 391 1210 390 1209 388 1215 403 1218 405 1224 404 1232 400 1240 394 1245 387 1248 379 1247 372Z"/><path class="lh" d="M1239 380 1233 387 1225 392 1218 395 1222 400 1229 397 1237 391 1243 384Z"/>
<path class="yf" d="M1135 525 1124 529 1116 534 1110 541 1109 548 1110 561 1113 554 1120 548 1130 543 1140 540Z"/><path class="yh" d="M1126 533 1117 538 1111 544 1112 550 1119 544 1128 539Z"/>
<path class="yf" d="M1335 480 1330 487 1321 491 1310 494 1300 494 1291 493 1287 491 1287 489 1285 505 1286 507 1292 509 1302 510 1313 509 1323 505 1331 500 1334 494Z"/><path class="yh" d="M1322 495 1311 498 1300 498 1292 497 1292 504 1301 505 1312 504 1323 501Z"/>
<path class="yb" d="M1285 341 1287 348 1293 355 1301 361 1310 365 1318 367 1322 367 1323 365 1319 381 1316 382 1310 382 1302 379 1293 374 1286 367 1282 360 1282 353Z"/>
<path class="yf" d="M1176 453 1170 459 1162 462 1153 463 1144 463 1138 461 1134 458 1135 456 1130 472 1132 475 1137 477 1145 478 1155 478 1163 475 1170 471 1173 465Z"/><path class="yh" d="M1163 466 1154 467 1145 467 1138 465 1137 472 1145 474 1154 474 1163 471Z"/>
<path class="lf" d="M1146 515 1137 516 1126 520 1117 525 1112 531 1110 539 1114 545 1112 558 1111 551 1114 544 1122 538 1131 534 1142 531 1150 531Z"/><path class="lh" d="M1128 524 1118 529 1112 535 1113 540 1120 534 1130 530Z"/>
<path class="yf" d="M1323 635 1319 644 1313 652 1304 657 1295 659 1303 672 1312 668 1320 662 1326 654 1327 645Z"/><path class="yh" d="M1321 647 1315 654 1306 660 1310 665 1318 659 1324 651Z"/>
<path class="lf" d="M1338 471 1333 477 1324 482 1314 485 1303 485 1294 484 1289 482 1289 480 1287 497 1289 499 1295 501 1305 501 1316 500 1326 496 1334 491 1336 484Z"/><path class="lh" d="M1325 486 1314 489 1303 490 1294 489 1295 496 1304 496 1315 495 1326 492Z"/>
<path class="lb" d="M1276 250 1281 248 1289 247 1298 248 1308 251 1316 257 1320 264 1319 272 1321 283 1319 275 1313 269 1304 264 1294 262 1285 262 1279 264 1276 267Z"/>
<path class="yb" d="M1112 587 1117 593 1126 598 1136 601 1146 602 1154 602 1157 600 1156 598 1158 615 1157 617 1152 618 1143 618 1132 616 1122 612 1115 607 1112 600Z"/>
<path class="lf" d="M1321 626 1318 635 1312 643 1303 648 1312 659 1320 653 1325 645 1325 636Z"/>
<path class="lb" d="M1085 516 1091 522 1100 526 1111 528 1122 526 1130 523 1135 520 1134 516 1139 532 1137 536 1131 539 1122 542 1111 542 1100 540 1092 535 1088 528Z"/>
<path class="lb" d="M1269 133 1275 132 1283 135 1291 141 1297 149 1301 159 1299 168 1294 176 1293 167 1288 157 1280 150 1272 146 1265 145 1261 147Z"/>
<path class="yb" d="M1328 419 1333 417 1342 416 1351 417 1360 421 1357 433 1348 431 1338 430 1331 432 1328 435Z"/>
<path class="yf" d="M1273 176 1272 171 1266 185 1265 189Z"/>
<path class="yb" d="M1165 532 1171 531 1179 532 1188 535 1196 540 1201 547 1202 554 1199 561 1200 573 1201 566 1198 559 1191 553 1182 548 1173 546 1166 546 1162 548Z"/>
<path class="lf" d="M1305 208 1301 216 1296 223 1289 229 1282 232 1277 233 1276 232 1283 247 1287 247 1293 245 1300 240 1306 233 1311 225 1312 218Z"/><path class="lh" d="M1299 226 1292 232 1285 236 1289 241 1296 237 1303 230Z"/>
<path class="lb" d="M1298 410 1305 410 1315 412 1326 415 1335 421 1340 428 1341 435 1338 441 1338 455 1340 448 1337 441 1330 434 1320 429 1309 427 1301 426 1295 427Z"/>
<path class="lb" d="M1116 512 1117 520 1123 528 1131 534 1140 539 1148 540 1153 540 1155 537 1150 553 1147 555 1140 554 1132 552 1123 546 1115 539 1112 531 1112 524Z"/>
<path class="lb" d="M1165 525 1171 524 1179 524 1188 527 1196 532 1202 539 1203 546 1200 553 1201 565 1201 558 1198 551 1191 545 1182 541 1173 539 1166 539 1162 541Z"/>
<path class="yb" d="M1357 188 1355 182 1354 173 1355 164 1358 155 1362 150 1368 148 1380 144 1375 148 1372 155 1370 165 1370 174 1372 181 1373 186Z"/>
<path class="lf" d="M1203 486 1194 489 1184 494 1176 501 1172 509 1173 517 1175 528 1177 520 1182 513 1191 506 1201 502 1210 501Z"/><path class="lh" d="M1186 497 1178 504 1181 509 1189 503Z"/>
<path class="yb" d="M1113 524 1114 531 1120 539 1128 545 1137 550 1145 551 1150 550 1151 547 1147 563 1144 565 1138 565 1129 563 1120 557 1113 550 1108 543 1109 535Z"/>
<path class="yb" d="M1319 273 1323 269 1331 266 1341 263 1352 263 1361 266 1368 271 1370 279 1375 290 1371 283 1363 278 1353 277 1342 278 1333 281 1327 285 1325 289Z"/>
<path class="lb" d="M1135 297 1144 301 1154 302 1164 300 1173 296 1177 292 1178 288 1174 285 1182 299 1184 302 1181 307 1175 311 1165 314 1155 315 1145 313 1137 308Z"/>
<path class="yf" d="M1154 591 1152 589 1168 597 1168 600Z"/>
<path class="yb" d="M1270 538 1275 540 1282 543 1289 549 1295 556 1298 563 1298 570 1294 576 1290 587 1292 581 1291 574 1286 566 1279 560 1272 556 1266 553 1262 553Z"/>
<path class="lf" d="M1359 508 1353 513 1344 516 1334 517 1325 515 1318 512 1314 509 1315 507 1309 523 1311 525 1316 528 1325 531 1335 531 1344 529 1352 525 1356 518Z"/><path class="lh" d="M1344 520 1334 521 1325 519 1317 517 1317 524 1325 526 1335 527 1344 525Z"/>
<path class="lf" d="M1126 546 1124 551 1122 560 1123 570 1126 580 1132 587 1139 591 1147 590 1158 592 1151 591 1144 586 1140 577 1137 567 1138 557 1140 550 1143 546Z"/><path class="lh" d="M1127 559 1127 569 1130 579 1135 587 1141 586 1136 578 1133 568 1133 558Z"/>
<path class="yf" d="M1211 381 1211 389 1207 397 1200 403 1193 408 1186 410 1181 409 1180 406 1186 421 1189 423 1195 422 1203 419 1210 413 1215 405 1218 397 1216 390Z"/><path class="yh" d="M1209 399 1203 406 1195 411 1188 413 1192 419 1200 416 1207 410 1213 403Z"/>
<path class="yf" d="M1248 606 1244 613 1236 620 1227 625 1217 628 1209 628 1205 627 1206 624 1208 641 1209 643 1215 644 1224 642 1234 639 1243 633 1249 626 1252 618Z"/><path class="yh" d="M1238 624 1229 629 1219 632 1211 633 1213 639 1222 638 1231 635 1241 629Z"/>
<path class="lf" d="M1340 284 1337 281 1330 278 1321 277 1312 278 1304 282 1299 288 1298 296 1295 306 1298 299 1304 294 1313 291 1322 291 1330 293 1335 296 1337 300Z"/><path class="lh" d="M1330 282 1321 281 1312 282 1304 286 1304 290 1312 287 1322 287 1330 288Z"/>
<path class="lb" d="M1275 529 1280 530 1286 533 1294 539 1300 546 1303 553 1303 560 1299 566 1296 577 1297 571 1295 563 1290 556 1283 550 1276 546 1270 544 1267 544Z"/>
<path class="lb" d="M1245 490 1253 491 1262 496 1271 502 1278 511 1280 520 1278 528 1274 539 1274 530 1270 521 1262 513 1253 507 1244 504 1238 504Z"/>
<path class="yf" d="M1132 548 1129 554 1128 563 1129 573 1133 583 1139 590 1146 593 1153 592 1165 594 1157 594 1151 589 1146 580 1143 570 1143 560 1145 552 1148 548Z"/><path class="yh" d="M1132 562 1133 572 1136 582 1142 590 1147 589 1142 581 1139 571 1139 561Z"/>
<path class="yf" d="M1334 600 1329 606 1321 610 1310 612 1300 612 1293 610 1289 607 1289 604 1287 620 1288 623 1293 626 1302 627 1312 627 1322 624 1330 619 1333 612Z"/><path class="yh" d="M1321 614 1311 616 1301 616 1293 614 1293 621 1302 623 1312 622 1322 620Z"/>
<path class="lb" d="M1112 578 1117 584 1126 589 1136 592 1146 593 1154 593 1158 591 1157 590 1159 606 1157 608 1152 609 1143 609 1132 607 1122 603 1115 597 1112 591Z"/>
<path class="yf" d="M1309 211 1309 218 1305 226 1299 233 1292 238 1286 241 1281 242 1280 241 1287 256 1291 256 1296 254 1303 249 1310 243 1315 235 1316 227 1314 221Z"/><path class="yh" d="M1308 228 1302 236 1295 241 1289 245 1293 250 1300 246 1307 240 1312 232Z"/>
<path class="lb" d="M1036 331 1042 329 1045 326 1044 323 1047 338 1047 342 1042 345 1034 346Z"/>
<path class="yb" d="M1279 256 1283 254 1292 253 1301 254 1311 258 1318 264 1322 271 1321 279 1323 290 1321 282 1316 276 1307 271 1297 268 1288 268 1281 270 1278 273Z"/>
<path class="lf" d="M1334 587 1330 593 1321 598 1311 600 1301 600 1293 598 1289 595 1289 592 1286 608 1288 611 1294 614 1303 615 1313 614 1323 611 1330 606 1333 599Z"/><path class="lh" d="M1322 601 1312 604 1302 604 1293 602 1294 609 1302 611 1313 610 1322 607Z"/>
<path class="yb" d="M1067 320 1065 326 1063 338 1067 332Z"/>
<path class="lf" d="M1103 303 1096 308 1088 310 1079 312 1071 312 1067 311 1066 310 1069 310 1065 326 1064 327 1067 328 1074 328 1082 328 1091 325 1099 322 1103 317Z"/><path class="lh" d="M1089 315 1080 316 1072 316 1067 316 1067 323 1073 323 1081 323 1090 321Z"/>
<path class="lb" d="M1350 370 1355 378 1363 385 1372 389 1381 390 1387 389 1381 404 1374 404 1365 401 1356 396 1349 389 1346 381Z"/>
<path class="yb" d="M1182 559 1189 565 1198 569 1209 570 1219 568 1226 566 1229 563 1226 561 1231 577 1231 579 1227 582 1218 584 1208 585 1197 583 1188 578 1183 571Z"/>
<path class="yf" d="M1163 259 1156 260 1147 264 1139 270 1133 279 1130 288 1132 296 1138 303 1140 313 1136 306 1136 297 1141 288 1148 280 1157 275 1165 273 1171 273Z"/><path class="yh" d="M1150 267 1142 273 1135 281 1132 290 1135 294 1138 285 1145 277 1154 272Z"/>
<path class="yb" d="M1350 262 1356 256 1358 247 1358 236 1355 225 1350 218 1345 214 1341 214 1356 207 1360 208 1365 214 1369 223 1371 233 1371 244 1367 252 1361 257Z"/>
<path class="yf" d="M1105 305 1102 310 1095 314 1087 317 1078 318 1070 318 1066 317 1066 317 1064 333 1067 334 1073 335 1081 334 1090 332 1098 329 1103 324 1104 318Z"/><path class="yh" d="M1096 318 1088 321 1079 323 1071 323 1072 330 1080 329 1089 328 1097 324Z"/>
<path class="lb" d="M1147 595 1148 589 1147 587 1144 589 1160 594 1162 594 1162 598 1159 605Z"/>
<path class="yb" d="M1266 142 1272 141 1280 144 1288 151 1295 159 1298 169 1296 178 1290 184 1287 194 1291 186 1290 176 1285 167 1278 160 1269 155 1262 154 1258 156Z"/>
<path class="yb" d="M1223 168 1222 177 1226 187 1233 196 1242 202 1250 205 1256 204 1258 200 1251 214 1247 217 1240 216 1231 212 1223 205 1217 195 1215 186 1218 177Z"/>
<path class="yb" d="M1092 369 1095 367 1102 365 1111 365 1120 368 1128 372 1133 379 1134 387 1135 397 1132 390 1125 384 1116 381 1107 380 1099 381 1094 383 1094 386Z"/>
<path class="yf" d="M1358 515 1352 520 1343 523 1333 523 1324 521 1317 518 1314 515 1315 513 1309 529 1310 532 1315 535 1324 537 1333 538 1343 536 1351 532 1355 526Z"/><path class="yh" d="M1343 526 1333 527 1324 526 1317 523 1316 530 1324 532 1333 533 1343 532Z"/>
<path class="lb" d="M1283 580 1293 580 1303 583 1309 589 1312 596 1316 606 1311 599 1303 594 1293 593 1283 594Z"/>
<path class="yf" d="M1264 574 1256 578 1245 580 1235 579 1226 576 1220 571 1219 567 1223 564 1217 578 1215 582 1217 586 1224 591 1234 593 1245 593 1255 591 1262 585Z"/><path class="yh" d="M1245 584 1234 583 1225 580 1220 575 1218 582 1225 586 1234 589 1245 589Z"/>
<path class="lb" d="M1351 260 1354 251 1354 240 1351 230 1346 221 1341 217 1337 217 1335 221 1349 213 1352 210 1356 212 1361 218 1365 227 1367 238 1367 248 1363 256Z"/>
<path class="lb" d="M1101 310 1109 314 1119 314 1129 312 1138 308 1142 303 1143 298 1140 295 1147 309 1149 313 1147 318 1140 323 1131 326 1121 327 1111 325 1104 320Z"/>
<path class="yb" d="M1300 543 1307 543 1316 544 1326 548 1334 554 1339 561 1339 569 1337 581 1335 573 1329 567 1320 561 1310 558 1302 558 1296 559Z"/>
<path class="yf" d="M1356 236 1363 240 1368 248 1372 256 1374 265 1374 271 1373 274 1372 273 1389 273 1390 272 1390 267 1389 259 1386 250 1381 242 1375 236 1368 234Z"/><path class="yh" d="M1372 246 1376 255 1378 263 1379 270 1385 268 1384 261 1382 252 1377 244Z"/>
<path class="yb" d="M1074 248 1079 249 1087 251 1095 254 1103 258 1108 264 1109 270 1106 275 1106 289 1107 283 1104 277 1098 272 1089 268 1081 266 1074 265 1070 265Z"/>
<path class="lb" d="M1155 380 1161 381 1168 384 1176 388 1183 395 1186 402 1186 409 1182 415 1181 427 1183 420 1181 413 1175 406 1168 400 1160 397 1153 395 1149 396Z"/>
<path class="yb" d="M1087 254 1089 262 1086 269 1087 279 1087 271 1084 264Z"/>
<path class="lb" d="M1073 242 1079 242 1086 244 1095 247 1102 251 1108 257 1109 263 1106 268 1107 282 1107 276 1104 270 1097 265 1089 261 1080 259 1074 258 1071 259Z"/>
<path class="yb" d="M1296 588 1305 592 1311 597 1314 605 1317 615 1313 608 1306 603 1296 601Z"/>
<path class="lb" d="M1351 197 1349 191 1349 182 1353 172 1359 163 1367 157 1376 156 1384 160 1395 161 1386 159 1378 162 1370 169 1365 178 1362 188 1363 196 1366 201Z"/>
<path class="lb" d="M1181 554 1188 560 1197 564 1208 565 1218 564 1225 562 1228 559 1227 556 1231 572 1231 575 1226 578 1217 580 1206 580 1196 578 1187 573 1183 566Z"/>
<path class="yf" d="M1190 280 1184 284 1175 287 1165 287 1156 286 1149 283 1147 281 1149 280 1143 295 1144 297 1148 300 1156 302 1165 303 1175 301 1183 298 1188 292Z"/><path class="yh" d="M1175 291 1165 291 1156 290 1149 288 1148 295 1156 297 1165 298 1175 297Z"/>
<path class="yb" d="M1045 339 1048 336 1046 333 1049 349 1049 352 1044 355Z"/>
<path class="lf" d="M1366 273 1364 282 1358 290 1350 297 1341 302 1334 304 1330 303 1330 300 1335 315 1337 318 1343 317 1351 314 1360 309 1367 301 1372 292 1372 284Z"/><path class="lh" d="M1361 293 1353 301 1344 306 1336 308 1340 313 1348 311 1357 305 1365 298Z"/>
<path class="lf" d="M1319 272 1315 279 1307 285 1297 288 1288 289 1281 289 1277 286 1278 283 1278 299 1279 302 1285 304 1293 304 1303 302 1312 297 1318 290 1321 283Z"/><path class="lh" d="M1308 288 1299 292 1289 294 1282 293 1284 299 1292 300 1301 298 1310 293Z"/>
<path class="yf" d="M1277 231 1272 238 1265 245 1256 251 1248 254 1242 255 1240 254 1242 252 1246 268 1246 270 1250 270 1257 268 1265 264 1274 258 1280 250 1283 243Z"/><path class="yh" d="M1268 249 1259 254 1251 258 1244 259 1247 266 1254 264 1263 260 1271 254Z"/>
<path class="yf" d="M1086 269 1080 275 1071 279 1062 280 1055 279 1050 277 1049 274 1052 271 1048 287 1048 290 1051 293 1058 294 1067 294 1076 291 1083 286 1087 279Z"/><path class="yh" d="M1073 282 1064 284 1056 283 1050 281 1051 288 1057 290 1065 290 1074 287Z"/>
<path class="lf" d="M1161 255 1154 255 1146 259 1137 265 1131 273 1128 282 1129 291 1135 297 1137 308 1134 300 1134 291 1139 282 1146 275 1155 270 1163 268 1169 269Z"/><path class="lh" d="M1148 262 1140 268 1133 276 1130 285 1132 288 1137 280 1144 272 1152 266Z"/>
<path class="yb" d="M1238 503 1243 501 1251 503 1260 507 1269 514 1275 523 1277 532 1275 540 1271 551 1272 542 1268 533 1260 525 1251 519 1242 516 1235 516 1232 518Z"/>
<path class="yb" d="M1134 247 1135 256 1139 263 1147 270 1155 274 1162 275 1167 273 1168 270 1162 285 1160 287 1154 288 1146 285 1138 280 1132 273 1129 265 1129 257Z"/>
<path class="lb" d="M1299 531 1306 530 1315 532 1325 535 1333 541 1338 548 1339 556 1335 562 1335 575 1337 568 1335 560 1328 554 1319 549 1309 546 1301 545 1295 547Z"/>
<path class="yb" d="M1169 440 1178 443 1188 444 1198 441 1207 436 1212 431 1214 427 1211 425 1219 438 1221 441 1218 446 1211 451 1201 455 1191 456 1181 455 1173 450Z"/>
<path class="yb" d="M1185 594 1192 587 1197 578 1200 568 1200 559 1198 554 1195 552 1211 554 1214 557 1215 564 1214 574 1210 583 1204 592 1197 596Z"/>
<path class="yb" d="M1125 398 1127 406 1133 414 1141 419 1149 422 1156 423 1160 421 1161 418 1158 433 1155 436 1149 437 1141 435 1133 430 1126 424 1122 416 1122 408Z"/>
<path class="yf" d="M1017 295 1017 299 1019 307 1024 316 1030 325 1037 332 1044 334 1050 332 1064 329 1057 329 1050 325 1043 317 1037 308 1034 299 1033 292 1033 290Z"/><path class="yh" d="M1024 305 1028 314 1034 323 1041 330 1046 327 1039 320 1033 310 1030 301Z"/>
<path class="yb" d="M1154 390 1160 390 1168 393 1176 398 1182 405 1185 412 1185 419 1180 425 1179 437 1182 430 1180 423 1175 416 1168 410 1160 406 1153 405 1148 405Z"/>
<path class="lb" d="M1246 167 1251 164 1259 161 1268 160 1277 160 1284 164 1289 169 1289 176 1296 186 1293 180 1287 175 1279 174 1270 174 1261 177 1255 180 1252 183Z"/>
<path class="yb" d="M1152 639 1160 638 1169 634 1176 627 1182 618 1186 611 1186 606 1185 605 1200 612 1200 615 1199 621 1194 629 1187 637 1179 643 1171 646 1163 644Z"/>
<path class="yb" d="M1095 436 1090 432 1086 425 1083 415 1084 405 1087 397 1094 392 1102 390 1110 384 1103 388 1098 395 1096 404 1097 414 1100 423 1105 428 1109 430Z"/>
<path class="yb" d="M1115 626 1121 632 1131 636 1141 639 1151 639 1147 655 1137 654 1127 651 1118 646 1114 639Z"/>
<path class="yb" d="M1186 338 1189 334 1195 330 1204 328 1213 327 1222 329 1228 334 1231 341 1236 351 1231 345 1224 341 1214 341 1205 342 1197 345 1193 349 1192 353Z"/>
<path class="yf" d="M1294 576 1287 579 1278 580 1268 579 1261 577 1256 575 1254 573 1256 572 1248 587 1248 588 1252 591 1259 593 1268 595 1277 594 1285 592 1290 587Z"/><path class="yh" d="M1277 584 1268 584 1260 582 1255 579 1253 586 1259 588 1268 590 1277 590Z"/>
<path class="lb" d="M1431 224 1436 224 1438 221 1431 236 1427 237 1421 236Z"/>
<path class="yf" d="M1134 387 1130 394 1124 400 1115 405 1106 407 1099 407 1096 405 1096 402 1097 419 1099 421 1105 422 1113 421 1122 417 1129 412 1134 405 1135 397Z"/><path class="yh" d="M1125 404 1117 408 1108 411 1101 411 1103 417 1111 417 1120 414 1128 408Z"/>
<path class="lb" d="M1184 331 1187 328 1193 324 1201 321 1211 320 1220 322 1226 327 1229 333 1234 343 1229 338 1221 334 1212 334 1203 336 1195 339 1191 343 1190 346Z"/>
<path class="yb" d="M1163 217 1167 216 1175 218 1184 222 1192 227 1198 234 1201 241 1199 247 1197 260 1196 253 1192 246 1185 240 1176 235 1167 232 1161 232 1159 233Z"/>
<path class="yf" d="M1199 561 1192 566 1183 569 1174 570 1166 569 1161 567 1160 564 1158 581 1161 583 1168 585 1177 585 1186 583 1194 579 1200 573Z"/><path class="yh" d="M1184 573 1175 574 1166 574 1167 580 1176 581 1185 579Z"/>
<path class="yf" d="M1370 279 1367 288 1361 296 1353 303 1344 308 1337 309 1333 308 1334 305 1339 320 1340 323 1346 323 1354 320 1363 315 1370 307 1375 298 1375 290Z"/><path class="yh" d="M1364 299 1356 306 1347 311 1339 313 1343 319 1351 316 1360 311 1368 304Z"/>
<path class="yf" d="M1321 279 1316 286 1308 292 1298 295 1289 296 1282 295 1279 292 1281 289 1280 306 1281 308 1286 310 1294 311 1304 308 1313 304 1320 298 1323 290Z"/><path class="yh" d="M1309 295 1300 299 1291 300 1283 299 1285 306 1293 306 1302 304 1311 300Z"/>
<path class="lf" d="M1160 574 1158 571 1160 587 1160 590Z"/>
<path class="lf" d="M1299 566 1293 569 1284 571 1274 570 1266 568 1261 565 1259 563 1261 563 1253 577 1254 579 1258 582 1265 584 1274 585 1283 585 1291 582 1296 577Z"/><path class="lh" d="M1284 575 1274 574 1266 572 1260 570 1259 577 1265 579 1274 581 1283 581Z"/>
<path class="lb" d="M1179 592 1186 586 1191 577 1194 567 1194 558 1193 552 1190 550 1186 553 1203 552 1206 552 1208 555 1209 563 1208 572 1204 582 1198 590 1190 595Z"/>
<path class="yf" d="M1155 562 1151 561 1143 561 1133 563 1123 567 1115 573 1111 580 1112 587 1112 600 1113 593 1119 586 1128 581 1138 578 1148 577 1154 577 1156 579Z"/><path class="yh" d="M1144 565 1134 567 1124 571 1116 577 1118 582 1126 577 1137 573 1146 572Z"/>
<path class="lf" d="M1014 297 1014 301 1016 308 1020 318 1026 327 1033 334 1040 337 1046 335 1060 331 1053 331 1046 327 1039 319 1034 309 1030 301 1029 294 1030 292Z"/><path class="lh" d="M1020 306 1024 316 1030 325 1037 332 1042 329 1035 321 1029 312 1026 303Z"/>
<path class="lb" d="M1166 432 1174 436 1184 437 1195 435 1204 430 1210 425 1211 421 1209 418 1217 432 1218 435 1215 440 1208 445 1198 449 1187 450 1177 448 1170 443Z"/>
<path class="lb" d="M1127 388 1129 396 1134 404 1142 409 1150 413 1158 413 1162 412 1163 409 1160 424 1157 427 1151 427 1142 425 1134 420 1127 414 1124 406 1124 398Z"/>
<path class="yf" d="M1303 327 1294 330 1288 334 1285 341 1282 353 1286 347 1294 343 1304 342Z"/>
<path class="lb" d="M1204 402 1204 392 1203 384 1200 378 1198 376 1197 379 1212 373 1214 372 1217 376 1219 383 1220 393 1219 403Z"/>
<path class="lf" d="M1182 415 1174 419 1165 421 1156 421 1149 419 1144 416 1144 414 1147 413 1141 429 1140 430 1142 433 1149 435 1157 436 1167 435 1175 432 1181 427Z"/><path class="lh" d="M1166 425 1156 425 1149 423 1144 421 1143 428 1149 430 1157 431 1166 431Z"/>
<path class="yf" d="M1161 520 1159 517 1152 513 1143 510 1132 510 1122 512 1116 517 1113 524 1109 535 1113 529 1121 525 1131 524 1142 526 1150 529 1155 533 1156 536Z"/><path class="yh" d="M1151 517 1142 515 1132 514 1122 516 1122 521 1132 520 1142 521 1151 524Z"/>
<path class="lf" d="M1128 270 1122 270 1113 272 1105 278 1098 286 1095 295 1096 303 1101 310 1104 320 1101 312 1102 304 1107 295 1114 288 1123 283 1130 282 1136 283Z"/><path class="lh" d="M1116 276 1108 281 1101 289 1097 297 1100 301 1104 292 1111 285 1120 280Z"/>
<path class="yb" d="M1120 600 1123 607 1131 612 1140 616 1149 617 1157 615 1161 613 1160 610 1162 626 1160 629 1154 631 1145 631 1136 629 1127 624 1122 618 1120 610Z"/>
<path class="lb" d="M1146 636 1154 636 1162 632 1170 625 1176 617 1180 609 1181 604 1179 602 1195 609 1195 613 1193 619 1188 627 1181 635 1173 641 1164 643 1157 641Z"/>
<path class="lf" d="M1384 160 1390 168 1393 178 1393 189 1390 198 1386 203 1381 204 1378 200 1393 205 1397 207 1401 204 1405 197 1407 187 1406 176 1402 167 1395 161Z"/><path class="lh" d="M1397 177 1397 188 1394 198 1390 204 1397 204 1401 197 1403 188 1402 177Z"/>
<path class="yb" d="M1251 176 1256 172 1264 170 1274 168 1282 169 1289 173 1293 179 1293 186 1301 195 1298 189 1292 184 1284 182 1275 183 1266 185 1260 188 1256 191Z"/>
<path class="lb" d="M1115 617 1121 623 1131 627 1141 630 1137 645 1127 642 1119 636 1114 630Z"/>
<path class="lf" d="M1200 553 1194 558 1185 562 1176 563 1167 562 1162 560 1163 576 1170 578 1179 578 1188 575 1196 571 1201 565Z"/><path class="lh" d="M1186 565 1177 567 1178 573 1187 571Z"/>
<path class="yf" d="M1221 526 1215 525 1207 527 1197 530 1188 536 1182 544 1179 552 1182 559 1183 571 1183 563 1187 555 1195 548 1205 543 1214 541 1221 541 1224 542Z"/><path class="yh" d="M1209 531 1199 534 1190 540 1183 547 1185 552 1193 545 1202 539 1212 537Z"/>
<path class="yf" d="M1272 171 1267 165 1259 159 1248 156 1237 157 1228 161 1223 168 1218 177 1224 171 1234 168 1246 169 1256 173 1263 179 1266 185Z"/><path class="yh" d="M1258 163 1247 160 1236 160 1235 165 1246 165 1257 169Z"/>
<path class="yb" d="M1059 358 1062 365 1069 372 1077 376 1086 379 1092 379 1096 378 1095 375 1093 392 1092 394 1086 394 1079 393 1070 389 1062 384 1057 377 1056 370Z"/>
<path class="lb" d="M1315 201 1313 196 1312 188 1312 179 1314 170 1317 163 1323 159 1329 160 1341 155 1335 157 1331 162 1328 171 1328 180 1329 189 1330 195 1332 198Z"/>
<path class="lf" d="M1162 506 1156 503 1147 500 1136 499 1127 501 1119 506 1116 512 1112 524 1117 518 1125 514 1136 514 1146 515 1154 518 1159 522Z"/><path class="lh" d="M1147 504 1136 503 1126 505 1126 510 1136 509 1146 511Z"/>
<path class="yb" d="M1103 553 1106 561 1113 569 1105 580 1100 573 1099 565Z"/>
<path class="lf" d="M1360 149 1366 151 1373 157 1379 164 1383 172 1396 163 1391 155 1385 149 1378 145 1372 146Z"/><path class="lh" d="M1370 150 1376 154 1382 162 1388 158 1381 151 1375 147Z"/>
<path class="yf" d="M1339 444 1335 451 1327 456 1316 459 1305 460 1296 459 1291 457 1290 455 1288 471 1291 473 1298 475 1308 475 1319 474 1329 470 1336 464 1338 457Z"/><path class="yh" d="M1327 460 1317 463 1306 464 1297 463 1297 470 1307 471 1318 469 1328 466Z"/>
<path class="yf" d="M1168 388 1166 385 1159 382 1151 380 1141 382 1133 385 1127 391 1125 398 1122 408 1126 401 1134 397 1143 395 1152 395 1160 397 1164 401 1165 404Z"/><path class="yh" d="M1160 386 1151 385 1142 385 1133 388 1133 393 1142 391 1152 391 1160 393Z"/>
<path class="lf" d="M1124 485 1116 485 1106 488 1096 493 1089 500 1085 508 1085 516 1088 528 1089 520 1095 512 1103 505 1114 501 1123 499 1129 500Z"/><path class="lh" d="M1108 491 1098 496 1090 503 1093 508 1101 502 1111 497Z"/>
<path class="yf" d="M1178 245 1176 241 1170 237 1162 234 1152 233 1143 235 1137 240 1134 247 1129 257 1134 251 1142 247 1151 246 1161 248 1168 251 1172 256 1172 260Z"/><path class="yh" d="M1169 241 1161 238 1152 237 1143 239 1142 244 1152 242 1161 244 1169 247Z"/>
<path class="yb" d="M1156 351 1161 346 1169 343 1178 341 1187 343 1194 347 1198 353 1203 362 1197 357 1189 354 1179 355 1171 357 1164 361 1161 366Z"/>
<path class="lf" d="M1156 553 1152 552 1145 552 1135 554 1125 558 1117 564 1112 571 1112 578 1112 591 1114 583 1120 577 1130 572 1140 569 1149 568 1155 568 1157 570Z"/><path class="lh" d="M1146 556 1136 558 1126 562 1118 567 1119 573 1128 568 1138 564 1148 563Z"/>
<path class="yf" d="M1314 605 1311 614 1306 622 1297 628 1288 631 1281 632 1276 630 1276 626 1280 641 1282 644 1288 645 1297 643 1306 639 1313 632 1317 623 1317 615Z"/><path class="yh" d="M1308 625 1300 631 1291 635 1283 635 1286 641 1294 640 1303 635 1311 629Z"/>
<path class="yb" d="M1276 374 1279 382 1286 389 1294 394 1303 398 1310 399 1314 399 1313 396 1310 413 1308 414 1303 414 1295 412 1286 407 1278 401 1273 393 1272 386Z"/>
<path class="yf" d="M1431 231 1433 228 1426 243 1423 244Z"/>
<path class="lf" d="M1394 353 1389 349 1381 347 1371 347 1361 350 1353 355 1350 362 1350 370 1346 381 1348 373 1353 367 1362 363 1372 361 1382 362 1389 365 1392 369Z"/><path class="lh" d="M1381 351 1371 351 1361 353 1353 358 1353 363 1362 359 1372 357 1382 358Z"/>
<path class="lf" d="M1278 528 1272 534 1262 537 1251 537 1241 535 1233 531 1229 526 1229 523 1223 538 1224 542 1230 546 1239 550 1250 551 1261 550 1270 546 1274 539Z"/><path class="lh" d="M1262 540 1251 541 1240 539 1232 535 1231 542 1240 545 1251 547 1262 546Z"/>
<path class="lf" d="M1312 596 1310 605 1305 613 1297 619 1288 623 1280 624 1275 622 1274 618 1279 633 1281 636 1287 637 1296 635 1305 630 1312 623 1316 614 1316 606Z"/><path class="lh" d="M1307 616 1299 622 1290 626 1282 627 1285 633 1293 631 1302 627 1310 620Z"/>
<path class="lb" d="M1123 600 1130 606 1139 610 1149 611 1156 610 1161 607 1161 604 1162 621 1160 623 1154 625 1145 625 1135 623 1127 618 1122 612Z"/>
<path class="yb" d="M1189 233 1196 236 1204 236 1213 234 1221 231 1227 228 1230 226 1229 226 1238 240 1237 242 1232 244 1225 247 1216 250 1208 251 1200 249 1196 246Z"/>
<path class="yb" d="M1208 389 1207 381 1204 376 1202 374 1201 377 1216 371 1218 370 1220 373 1223 381 1224 390Z"/>
<path class="lf" d="M1309 233 1310 240 1314 249 1320 258 1329 264 1337 267 1345 266 1351 260 1363 256 1356 261 1348 261 1339 256 1331 249 1325 240 1322 231 1322 225Z"/><path class="lh" d="M1317 247 1323 255 1331 262 1340 265 1345 263 1336 259 1328 252 1322 243Z"/>
<path class="yf" d="M1337 273 1336 277 1335 276 1352 276 1353 274 1353 269Z"/>
<path class="lf" d="M1338 441 1330 447 1320 450 1309 451 1299 450 1293 448 1292 446 1291 463 1294 465 1301 466 1311 466 1322 465 1332 461 1338 455Z"/><path class="lh" d="M1320 454 1309 455 1300 455 1300 461 1310 462 1321 460Z"/>
<path class="yf" d="M1315 226 1313 231 1314 238 1318 247 1325 256 1334 262 1343 264 1350 262 1361 257 1353 258 1344 254 1336 247 1330 238 1327 229 1327 222 1329 219Z"/><path class="yh" d="M1318 236 1322 245 1328 253 1337 260 1341 256 1333 249 1326 241 1323 232Z"/>
<path class="yf" d="M1106 275 1100 280 1091 283 1082 284 1075 284 1070 284 1069 283 1071 282 1068 299 1067 300 1071 301 1077 301 1086 300 1095 298 1102 294 1106 289Z"/><path class="yh" d="M1092 287 1083 289 1075 289 1070 288 1070 295 1076 296 1085 295 1094 293Z"/>
<path class="yb" d="M1300 189 1305 185 1314 182 1324 182 1334 184 1342 189 1346 196 1346 205 1351 214 1349 206 1342 200 1333 196 1323 195 1313 197 1306 201 1303 205Z"/>
<path class="lf" d="M1289 176 1286 184 1281 191 1274 197 1267 201 1262 202 1260 201 1262 198 1267 214 1268 216 1272 216 1278 213 1285 208 1291 201 1295 193 1296 186Z"/><path class="lh" d="M1284 194 1277 200 1270 204 1265 206 1269 212 1275 209 1281 205 1288 198Z"/>
<path class="lb" d="M1107 542 1109 550 1103 561 1102 553Z"/>
<path class="yb" d="M1071 249 1074 248 1070 265 1071 266Z"/>
<path class="lb" d="M1291 325 1295 333 1302 339 1310 343 1318 345 1324 344 1326 342 1325 338 1323 354 1322 357 1317 359 1310 358 1302 355 1294 350 1289 343 1287 335Z"/>
<path class="yf" d="M1368 148 1375 150 1381 156 1387 163 1391 171 1393 178 1408 170 1405 162 1400 154 1393 148 1387 144 1380 144Z"/><path class="yh" d="M1385 153 1390 161 1396 157 1390 150Z"/>
<path class="yf" d="M1195 396 1189 396 1181 400 1173 406 1166 415 1163 424 1164 433 1169 440 1173 450 1170 442 1171 433 1176 424 1183 416 1192 411 1199 409 1204 410Z"/><path class="yh" d="M1184 403 1176 409 1169 418 1165 427 1169 430 1173 421 1180 413 1189 408Z"/>
<path class="yb" d="M1035 547 1041 552 1050 555 1059 555 1067 554 1071 551 1072 547 1069 545 1074 560 1074 563 1071 567 1065 569 1056 569 1047 568 1039 563 1034 557Z"/>
<path class="lf" d="M1221 522 1216 521 1208 522 1198 525 1188 531 1182 538 1179 547 1181 554 1183 566 1183 558 1187 550 1195 543 1205 538 1214 536 1221 536 1224 538Z"/><path class="lh" d="M1209 526 1200 529 1190 534 1183 542 1186 547 1193 540 1203 534 1212 532Z"/>
<path class="yb" d="M1323 199 1321 194 1320 186 1320 177 1322 168 1326 161 1331 158 1337 158 1349 153 1344 155 1339 160 1336 168 1336 178 1336 187 1338 193 1339 196Z"/>
<path class="yb" d="M1208 484 1212 483 1219 483 1212 498 1206 498 1204 500Z"/>
<path class="lb" d="M1186 335 1191 335 1198 337 1206 342 1213 349 1217 356 1217 363 1213 374 1210 366 1204 359 1196 354 1189 350 1182 349 1179 350Z"/>
<path class="lf" d="M1106 268 1101 273 1092 276 1083 278 1075 278 1070 277 1069 276 1071 276 1068 292 1068 293 1071 294 1078 294 1087 293 1096 291 1103 287 1107 282Z"/><path class="lh" d="M1093 280 1084 282 1076 283 1071 282 1071 289 1077 289 1086 289 1095 286Z"/>
<path class="lb" d="M1094 548 1100 554 1110 557 1121 558 1132 556 1139 553 1142 549 1141 546 1146 562 1145 565 1141 569 1132 572 1121 573 1110 571 1101 567 1096 560Z"/>
<path class="yf" d="M1231 341 1230 349 1225 357 1218 363 1210 368 1204 370 1199 369 1198 366 1204 381 1207 383 1213 382 1220 379 1228 374 1234 366 1237 358 1236 351Z"/><path class="yh" d="M1228 359 1221 366 1213 371 1206 373 1210 379 1217 376 1225 371 1231 363Z"/>
<path class="yb" d="M1167 501 1172 500 1180 500 1189 503 1198 508 1203 514 1205 521 1203 528 1203 540 1203 533 1199 526 1192 520 1183 517 1175 515 1168 515 1164 517Z"/>
<path class="lf" d="M1229 333 1229 341 1224 349 1218 356 1210 361 1203 363 1198 362 1197 360 1203 375 1206 376 1212 375 1220 372 1227 366 1233 359 1235 351 1234 343Z"/><path class="lh" d="M1227 352 1220 359 1213 364 1205 366 1209 372 1217 369 1224 363 1230 356Z"/>
<path class="yb" d="M1320 276 1319 273 1325 289 1328 290Z"/>
<path class="yf" d="M1230 587 1220 592 1210 595 1203 595 1199 594 1199 591 1202 607 1203 610 1208 610 1217 609 1227 605 1236 600Z"/><path class="yh" d="M1212 599 1204 599 1207 606 1215 605Z"/>
<path class="lb" d="M1168 494 1173 493 1180 493 1189 496 1198 500 1204 506 1206 513 1204 520 1204 532 1204 525 1200 518 1192 513 1184 509 1175 508 1168 508 1165 510Z"/>
<path class="yf" d="M1180 425 1173 429 1163 430 1154 430 1147 428 1143 426 1143 424 1139 440 1141 442 1147 444 1156 445 1165 445 1173 442 1179 437Z"/><path class="yh" d="M1164 434 1155 434 1147 433 1147 439 1155 441 1164 440Z"/>
<path class="lb" d="M1208 477 1211 476 1206 491 1204 493Z"/>
<path class="yf" d="M1275 540 1268 545 1258 548 1247 548 1237 546 1229 542 1225 537 1226 534 1220 549 1221 553 1226 557 1235 561 1246 562 1257 561 1266 557 1271 551Z"/><path class="yh" d="M1258 552 1247 552 1236 550 1228 546 1227 553 1236 556 1247 558 1258 557Z"/>
<path class="lb" d="M1282 527 1289 527 1298 528 1307 532 1316 536 1321 542 1323 548 1320 554 1322 568 1322 562 1319 555 1312 550 1302 546 1293 544 1285 543 1280 543Z"/>
<path class="yb" d="M1273 519 1278 527 1279 536 1275 544 1273 554 1275 546 1272 537 1265 529Z"/>
<path class="lf" d="M1014 357 1012 356 1021 370 1021 372Z"/>
<path class="yf" d="M1339 569 1335 575 1327 580 1316 582 1306 582 1298 581 1293 578 1293 575 1290 591 1293 594 1299 597 1308 598 1319 597 1328 593 1335 588 1337 581Z"/><path class="yh" d="M1327 584 1317 586 1307 587 1298 585 1299 592 1308 593 1318 592 1328 589Z"/>
<path class="lf" d="M1168 376 1162 373 1154 371 1144 372 1135 375 1129 381 1127 388 1124 398 1129 392 1136 387 1146 385 1155 386 1163 388 1167 392Z"/><path class="lh" d="M1154 375 1145 376 1136 379 1136 383 1145 381 1155 381Z"/>
<path class="yf" d="M1102 390 1111 393 1119 385 1110 384Z"/>
<path class="lb" d="M1009 353 1015 359 1024 363 1034 364 1043 362 1049 360 1050 356 1048 354 1052 369 1052 372 1048 376 1041 378 1032 378 1022 376 1014 371 1009 364Z"/>
<path class="lf" d="M1156 549 1154 555 1153 564 1154 575 1158 584 1164 591 1171 594 1179 592 1190 595 1183 594 1176 590 1171 582 1168 572 1168 562 1170 554 1173 549Z"/><path class="lh" d="M1157 564 1158 574 1162 583 1167 591 1172 590 1167 582 1164 573 1163 562Z"/>
<path class="lb" d="M1275 217 1278 215 1286 213 1295 214 1305 217 1313 222 1318 229 1318 237 1319 248 1317 241 1310 234 1301 230 1291 228 1282 229 1277 231 1275 234Z"/>
<path class="yf" d="M1255 214 1247 220 1238 224 1232 225 1229 225 1230 222 1235 238 1235 240 1239 240 1247 238 1256 233 1264 227Z"/><path class="yh" d="M1241 228 1234 229 1237 236 1244 234Z"/>
<path class="yb" d="M1011 364 1018 370 1027 373 1037 374 1046 373 1051 370 1052 366 1049 364 1054 379 1055 382 1051 386 1044 388 1035 389 1025 386 1017 382 1011 375Z"/>
<path class="lb" d="M1034 536 1040 541 1049 545 1058 545 1066 544 1071 541 1072 538 1070 535 1074 550 1074 554 1071 557 1064 559 1055 559 1046 557 1039 553 1034 546Z"/>
<path class="lf" d="M1322 271 1317 271 1316 268 1321 284 1325 285 1331 284Z"/>
<path class="lb" d="M1031 529 1034 536 1034 546 1033 539Z"/>
<path class="lb" d="M1323 383 1328 380 1336 378 1345 379 1354 383 1362 388 1366 395 1366 403 1367 414 1365 406 1360 399 1351 395 1341 393 1332 393 1326 396 1324 399Z"/>
<path class="yb" d="M1043 534 1050 532 1060 533 1070 536 1079 542 1085 550 1086 558 1082 566 1083 577 1085 569 1082 561 1075 553 1065 548 1055 546 1046 547 1040 550Z"/>
<path class="lf" d="M1193 390 1188 390 1180 393 1171 399 1164 408 1161 417 1161 426 1166 432 1170 443 1168 435 1169 426 1174 416 1182 409 1190 404 1197 402 1202 403Z"/><path class="lh" d="M1183 396 1174 402 1167 410 1163 419 1167 423 1171 414 1179 406 1187 401Z"/>
<path class="tb" d="M1051 169 1052 185 1055 200 1058 215 1068 232 1062 245 1050 260" stroke="#333" stroke-width="3.6"/><path class="tb" d="M1051 169 1052 185 1055 200 1058 215 1068 232 1062 245 1050 260" stroke="#b4b6ee" stroke-width="2.2"/>
<path class="tb" d="M1133 194 1150 215 1160 225 1170 222 1180 205 1178 190 1185 178" stroke="#333" stroke-width="3.6"/><path class="tb" d="M1133 194 1150 215 1160 225 1170 222 1180 205 1178 190 1185 178" stroke="#b4b6ee" stroke-width="2.2"/>
<path class="tb" d="M1076 248 1085 258 1098 262 1112 258 1120 250" stroke="#333" stroke-width="3.6"/><path class="tb" d="M1076 248 1085 258 1098 262 1112 258 1120 250" stroke="#f2f266" stroke-width="2.2"/>
<path class="yf" d="M1162 552 1160 558 1159 567 1160 578 1164 587 1170 594 1178 596 1185 594 1197 596 1189 597 1183 593 1177 585 1174 575 1174 565 1175 556 1178 552Z"/><path class="yh" d="M1163 567 1164 577 1168 586 1174 593 1179 593 1173 586 1170 576 1169 566Z"/>
<path class="lb" d="M1343 392 1345 399 1343 406 1342 419 1343 412 1339 405Z"/>
<path class="yb" d="M1305 141 1312 140 1306 155 1301 157Z"/>
<path class="yf" d="M1152 589 1149 592 1146 598 1143 607 1141 618 1142 628 1146 635 1152 639 1163 644 1158 639 1156 630 1156 620 1158 609 1162 601 1165 597 1168 597Z"/><path class="yh" d="M1150 599 1147 608 1145 618 1146 628 1152 629 1151 619 1153 609 1157 600Z"/>
<path class="lf" d="M1335 562 1327 567 1317 570 1307 570 1298 569 1293 566 1293 563 1290 579 1293 582 1300 584 1309 585 1319 584 1329 580 1335 575Z"/><path class="lh" d="M1318 574 1308 574 1299 573 1299 580 1308 581 1319 580Z"/>
<path class="yf" d="M1157 577 1151 576 1142 576 1133 580 1125 585 1120 592 1120 600 1120 610 1123 603 1130 597 1138 592 1148 590 1155 591 1160 593Z"/><path class="yh" d="M1144 580 1135 583 1126 588 1128 593 1137 589 1146 586Z"/>
<path class="yb" d="M1151 333 1160 337 1171 337 1181 335 1189 331 1193 326 1193 322 1188 321 1196 334 1199 337 1197 342 1191 346 1182 349 1171 350 1161 349 1153 344Z"/>
<path class="tb" d="M1177 63 1174 80 1179 96 1190 109 1192 122 1179 137 1185 140 1200 138 1215 132 1226 120 1236 100 1242 95" stroke="#333" stroke-width="4.4"/><path class="tb" d="M1177 63 1174 80 1179 96 1190 109 1192 122 1179 137 1185 140 1200 138 1215 132 1226 120 1236 100 1242 95" stroke="#f2f266" stroke-width="3.0"/>
<path class="tb" d="M1188 137 1204 137 1219 129 1227 113" stroke="#333" stroke-width="4.4"/><path class="tb" d="M1188 137 1204 137 1219 129 1227 113" stroke="#b4b6ee" stroke-width="3.0"/>
<path class="tb" d="M1165 70 1170 90 1160 110 1175 125 1190 118" stroke="#333" stroke-width="4.4"/><path class="tb" d="M1165 70 1170 90 1160 110 1175 125 1190 118" stroke="#b4b6ee" stroke-width="3.0"/>
<path class="yb" d="M1281 539 1287 539 1296 541 1306 544 1314 549 1320 555 1321 561 1317 567 1319 581 1321 575 1317 568 1310 563 1301 559 1291 557 1283 556 1279 556Z"/>
<path class="yf" d="M1346 205 1342 213 1334 220 1325 225 1317 227 1311 227 1308 224 1310 220 1313 235 1313 239 1318 241 1325 240 1334 237 1342 231 1348 223 1351 214Z"/><path class="yh" d="M1337 223 1328 228 1319 231 1313 231 1315 237 1323 236 1331 233 1340 228Z"/>
<path class="lf" d="M1333 311 1328 308 1321 305 1312 305 1303 307 1295 311 1291 318 1291 325 1287 335 1289 328 1295 323 1304 319 1313 319 1321 320 1327 323 1330 327Z"/><path class="lh" d="M1321 310 1312 309 1303 310 1295 315 1295 319 1303 316 1313 315 1321 316Z"/>
<path class="tb" d="M1186 72 1196 68 1212 76 1224 83 1236 85 1255 80 1266 86 1278 92" stroke="#333" stroke-width="4.4"/><path class="tb" d="M1186 72 1196 68 1212 76 1224 83 1236 85 1255 80 1266 86 1278 92" stroke="#b4b6ee" stroke-width="3.0"/>
<path class="tb" d="M1182 80 1193 80 1211 82 1216 92 1216 104 1224 117 1243 127 1252 128 1262 140" stroke="#333" stroke-width="4.4"/><path class="tb" d="M1182 80 1193 80 1211 82 1216 92 1216 104 1224 117 1243 127 1252 128 1262 140" stroke="#b4b6ee" stroke-width="3.0"/>
<path class="tb" d="M1190 129 1204 124 1220 121 1227 113 1236 96 1243 95 1250 100" stroke="#333" stroke-width="4.4"/><path class="tb" d="M1190 129 1204 124 1220 121 1227 113 1236 96 1243 95 1250 100" stroke="#f2f266" stroke-width="3.0"/>
<path class="tb" d="M1220 84 1230 90 1249 93 1256 103 1244 113 1240 125 1253 129 1262 120" stroke="#333" stroke-width="4.4"/><path class="tb" d="M1220 84 1230 90 1249 93 1256 103 1244 113 1240 125 1253 129 1262 120" stroke="#b4b6ee" stroke-width="3.0"/>
<path class="yb" d="M1377 250 1382 244 1385 234 1384 223 1381 213 1376 205 1372 201 1368 202 1382 195 1387 196 1392 202 1396 210 1398 221 1398 232 1394 240 1388 245Z"/>
<path class="yf" d="M1293 186 1290 194 1284 201 1277 207 1271 210 1266 211 1265 209 1272 224 1275 225 1281 222 1288 217 1295 211 1299 203 1301 195Z"/><path class="yh" d="M1287 204 1280 210 1274 213 1278 218 1285 214 1292 208Z"/>
<path class="lf" d="M1074 244 1072 243 1073 242 1071 259 1071 259 1075 260Z"/>
<path class="yf" d="M1199 247 1193 252 1184 255 1174 256 1165 255 1158 252 1155 250 1156 248 1151 264 1152 266 1157 269 1165 271 1175 271 1185 269 1192 265 1197 260Z"/><path class="yh" d="M1184 259 1175 260 1165 259 1158 257 1157 264 1165 266 1175 266 1185 265Z"/>
<path class="yf" d="M1198 353 1199 361 1195 369 1189 376 1181 381 1174 384 1169 383 1167 380 1174 395 1177 397 1184 396 1191 392 1198 386 1204 378 1205 370 1203 362Z"/><path class="yh" d="M1197 372 1192 379 1184 384 1177 387 1181 392 1188 389 1196 383 1201 375Z"/>
<path class="lb" d="M1122 239 1125 237 1125 235 1129 251 1127 253 1121 255Z"/>
<path class="yf" d="M1102 346 1099 343 1092 341 1082 341 1073 342 1065 346 1060 352 1059 358 1056 370 1059 364 1065 359 1074 356 1084 356 1092 357 1098 360 1099 362Z"/><path class="yh" d="M1092 346 1083 345 1073 346 1065 350 1065 355 1074 352 1083 351 1092 352Z"/>
<path class="tb" d="M1161 66 1188 47 1201 43 1216 45 1236 49 1244 40 1253 27 1265 20 1278 21 1293 13 1310 2 1320 5 1323 14 1317 18 1309 22 1306 35 1309 48 1320 61 1328 68 1331 77 1326 84 1310 88 1291 92 1275 90 1265 84 1256 80 1243 76 1233 77 1222 84 1204 90 1200 96 1203 109 1214 116 1227 119 1240 111 1244 100 1250 110 1262 130 1270 150" stroke="#333" stroke-width="4.6"/><path class="tb" d="M1161 66 1188 47 1201 43 1216 45 1236 49 1244 40 1253 27 1265 20 1278 21 1293 13 1310 2 1320 5 1323 14 1317 18 1309 22 1306 35 1309 48 1320 61 1328 68 1331 77 1326 84 1310 88 1291 92 1275 90 1265 84 1256 80 1243 76 1233 77 1222 84 1204 90 1200 96 1203 109 1214 116 1227 119 1240 111 1244 100 1250 110 1262 130 1270 150" stroke="#f2f266" stroke-width="3.2"/>
<path class="lf" d="M1158 571 1152 570 1143 570 1134 573 1126 579 1121 586 1120 593 1123 600 1122 612 1120 604 1124 597 1130 590 1139 586 1149 585 1156 585 1160 587Z"/><path class="lh" d="M1145 574 1135 577 1127 582 1122 589 1123 593 1129 587 1138 582 1147 580Z"/>
<path class="lb" d="M1308 114 1314 123 1316 133 1314 141 1307 148 1304 157 1309 150 1309 141 1305 131 1298 123Z"/>
<path class="yb" d="M1277 224 1281 221 1288 220 1298 221 1308 224 1316 229 1320 236 1320 244 1321 255 1319 248 1313 241 1304 237 1294 235 1285 235 1279 237 1277 240Z"/>
<path class="lf" d="M1329 160 1336 164 1342 170 1347 178 1350 186 1351 191 1350 192 1349 190 1366 188 1367 188 1366 184 1364 178 1360 170 1354 162 1348 157 1341 155Z"/><path class="lh" d="M1345 168 1350 176 1354 184 1355 189 1362 186 1360 180 1356 172 1351 165Z"/>
<path class="lb" d="M1395 222 1396 230 1400 237 1407 244 1414 248 1420 250 1424 249 1425 246 1419 261 1416 263 1411 262 1404 259 1397 254 1391 247 1388 239 1390 232Z"/>
<path class="lf" d="M1046 288 1047 294 1049 302 1064 294 1062 286 1062 283Z"/>
<path class="yb" d="M1191 596 1199 602 1209 604 1220 605 1229 603 1234 600 1236 597 1232 596 1237 611 1239 613 1236 616 1228 619 1218 620 1207 619 1198 615 1191 609Z"/>
<path class="lb" d="M1378 247 1380 238 1380 228 1377 217 1373 209 1368 205 1364 204 1362 209 1376 200 1378 198 1383 200 1388 205 1392 215 1394 225 1393 236 1389 244Z"/>
<path class="yb" d="M1199 195 1205 201 1208 208 1207 215 1205 227 1204 220 1199 213 1191 207Z"/>
<path class="yb" d="M1325 386 1330 383 1338 382 1347 383 1356 387 1364 393 1367 400 1366 408 1369 418 1367 411 1361 404 1353 399 1343 397 1334 397 1328 399 1325 402Z"/>
<path class="yf" d="M1049 286 1050 292 1053 300 1058 310 1072 302 1067 292 1065 285 1065 280Z"/>
<path class="yb" d="M1390 230 1391 238 1396 245 1402 252 1410 256 1416 257 1420 256 1420 253 1414 268 1412 270 1407 270 1400 267 1392 262 1387 255 1384 247 1385 239Z"/>
<path class="tb" d="M1187 72 1204 61 1225 47 1240 43 1253 45 1272 55 1285 47 1301 31 1317 34 1349 31 1347 39 1362 76 1349 76 1317 87 1301 86 1278 96 1269 113 1267 129 1270 145 1275 161 1290 175" stroke="#333" stroke-width="4.6"/><path class="tb" d="M1187 72 1204 61 1225 47 1240 43 1253 45 1272 55 1285 47 1301 31 1317 34 1349 31 1347 39 1362 76 1349 76 1317 87 1301 86 1278 96 1269 113 1267 129 1270 145 1275 161 1290 175" stroke="#b4b6ee" stroke-width="3.2"/>
<path class="yb" d="M1303 514 1309 513 1318 514 1328 517 1337 523 1342 530 1343 537 1340 544 1340 557 1341 550 1338 542 1332 536 1322 531 1313 528 1304 528 1299 530Z"/>
<path class="yf" d="M1128 241 1128 239 1131 255 1130 258Z"/>
<path class="lb" d="M1257 458 1264 459 1273 462 1282 469 1289 477 1293 486 1292 494 1286 501 1283 512 1287 505 1286 496 1281 487 1273 480 1264 475 1255 472 1249 472Z"/>
<path class="yf" d="M1152 393 1151 391 1154 390 1148 405 1148 407 1151 409Z"/>
<path class="lb" d="M1148 328 1157 332 1167 333 1177 331 1185 327 1190 322 1190 318 1187 316 1194 330 1196 333 1194 337 1188 342 1178 345 1168 346 1158 344 1150 338Z"/>
<path class="tb" d="M997 240 1008 226 1020 218 1038 210 1055 203 1068 192 1080 182 1095 171 1108 162 1126 160 1133 172 1131 190 1118 203 1108 214 1100 230 1088 244 1074 252" stroke="#333" stroke-width="4.2"/><path class="tb" d="M997 240 1008 226 1020 218 1038 210 1055 203 1068 192 1080 182 1095 171 1108 162 1126 160 1133 172 1131 190 1118 203 1108 214 1100 230 1088 244 1074 252" stroke="#f2f266" stroke-width="2.8"/>
<path class="yf" d="M1343 408 1340 415 1340 428 1341 421Z"/>
<path class="lb" d="M1302 502 1308 501 1317 501 1327 505 1336 510 1341 517 1343 524 1340 531 1340 544 1341 536 1338 529 1331 523 1321 518 1311 516 1303 516 1299 518Z"/>
<path class="yb" d="M1006 335 1008 326 1008 316 1007 308 1004 303 1001 301 999 303 1015 298 1017 298 1020 302 1022 309 1023 318 1022 327 1018 335Z"/>
<path class="lb" d="M992 396 1000 399 1010 398 1019 396 1026 392 1030 389 1030 386 1027 386 1037 399 1038 401 1036 404 1030 408 1021 411 1012 412 1003 411 997 407Z"/>
<path class="tb" d="M995 236 1005 222 1018 213 1035 205 1053 198 1065 188 1076 179 1090 166 1105 157 1124 155 1138 169 1136 185 1134 194 1114 208 1110 218 1105 227 1091 240 1076 248 1072 262 1080 275" stroke="#333" stroke-width="4.2"/><path class="tb" d="M995 236 1005 222 1018 213 1035 205 1053 198 1065 188 1076 179 1090 166 1105 157 1124 155 1138 169 1136 185 1134 194 1114 208 1110 218 1105 227 1091 240 1076 248 1072 262 1080 275" stroke="#b4b6ee" stroke-width="2.8"/>
<path class="yb" d="M1207 199 1208 208 1214 218 1222 226 1231 230 1238 231 1243 229 1235 242 1229 243 1221 241 1212 235 1204 226 1201 217 1201 207Z"/>
<path class="lb" d="M1232 409 1236 401 1238 391 1237 381 1235 373 1233 368 1230 367 1247 363 1249 366 1251 372 1253 382 1252 392 1250 401 1245 407Z"/>
<path class="lf" d="M1158 386 1153 384 1152 382 1155 380 1149 396 1148 398 1152 400 1159 402Z"/>
<path class="yb" d="M1118 430 1121 438 1127 445 1135 450 1127 461 1120 455 1115 448 1114 440Z"/>
<path class="lf" d="M1044 323 1039 321 1030 322 1021 325 1013 331 1007 338 1006 346 1009 353 1009 364 1008 356 1012 348 1019 342 1028 337 1037 335 1044 336 1047 338Z"/><path class="lh" d="M1032 326 1023 328 1015 334 1009 341 1011 345 1017 339 1026 334 1035 331Z"/>
<path class="yf" d="M1046 333 1040 332 1032 332 1023 336 1014 342 1009 349 1008 357 1011 364 1011 375 1010 367 1014 360 1020 353 1029 348 1038 346 1046 346 1049 349Z"/><path class="yh" d="M1034 336 1024 339 1016 345 1011 352 1012 357 1019 350 1027 345 1036 342Z"/>
<path class="yb" d="M1090 334 1095 331 1103 331 1113 332 1121 336 1128 342 1130 350 1128 357 1132 368 1131 360 1126 353 1118 349 1109 346 1100 346 1093 347 1090 350Z"/>
<path class="lb" d="M1178 461 1185 466 1195 468 1206 467 1216 464 1223 461 1227 458 1226 456 1233 471 1232 473 1227 477 1218 480 1207 482 1197 482 1188 479 1183 473Z"/>
<path class="yb" d="M1075 593 1080 588 1089 584 1099 582 1110 583 1118 587 1123 594 1124 602 1130 611 1128 603 1121 598 1112 595 1101 596 1091 599 1084 603 1080 608Z"/>
<path class="yf" d="M1203 528 1197 534 1188 537 1179 539 1170 538 1164 536 1163 534 1165 532 1162 548 1161 550 1165 553 1173 554 1182 554 1191 551 1199 546 1203 540Z"/><path class="yh" d="M1189 541 1180 543 1171 543 1165 541 1165 548 1172 549 1181 549 1190 547Z"/>
<path class="lf" d="M1366 403 1361 411 1354 417 1344 421 1336 422 1329 421 1326 419 1327 415 1327 432 1328 435 1333 436 1341 436 1351 434 1359 428 1365 422 1367 414Z"/><path class="lh" d="M1355 420 1346 424 1337 426 1330 425 1332 432 1340 432 1349 430 1357 425Z"/>
<path class="yb" d="M1237 406 1240 398 1242 388 1241 378 1239 370 1236 366 1234 366 1250 361 1253 363 1255 370 1257 379 1257 389 1254 398 1250 405Z"/>
<path class="lf" d="M1144 589 1141 595 1137 604 1136 614 1137 624 1140 632 1146 636 1157 641 1152 635 1150 626 1150 616 1153 606 1157 598 1160 594Z"/><path class="lh" d="M1142 604 1140 615 1140 625 1146 626 1146 615 1148 605Z"/>
<path class="yf" d="M1337 158 1344 163 1350 170 1355 178 1358 185 1359 190 1358 191 1357 188 1373 186 1374 186 1374 183 1372 177 1368 169 1363 161 1356 155 1349 153Z"/><path class="yh" d="M1354 167 1359 175 1362 183 1363 188 1370 185 1368 179 1364 171 1359 164Z"/>
<path class="yf" d="M1323 365 1319 362 1312 360 1302 359 1292 359 1283 362 1278 368 1276 374 1272 386 1275 380 1283 376 1292 374 1302 374 1311 376 1317 379 1319 381Z"/><path class="yh" d="M1312 364 1302 363 1292 364 1283 366 1283 372 1292 370 1302 370 1311 371Z"/>
<path class="yb" d="M1184 473 1191 477 1201 478 1212 477 1222 475 1230 471 1233 468 1231 467 1239 482 1238 484 1233 487 1225 491 1214 493 1203 493 1194 490 1189 485Z"/>
<path class="lf" d="M1204 520 1199 526 1190 530 1181 532 1172 531 1166 529 1163 527 1165 525 1162 541 1163 543 1167 546 1174 547 1184 546 1193 543 1200 539 1204 532Z"/><path class="lh" d="M1191 534 1181 536 1173 536 1166 534 1167 541 1174 542 1183 542 1192 539Z"/>
<path class="lb" d="M1216 445 1222 445 1230 447 1239 451 1247 457 1251 464 1251 471 1247 477 1247 490 1249 483 1246 475 1240 469 1232 463 1223 460 1216 460 1211 461Z"/>
<path class="lb" d="M1114 336 1122 339 1132 340 1142 338 1150 333 1155 328 1155 324 1151 321 1159 334 1161 338 1159 343 1153 348 1144 351 1134 353 1124 351 1117 346Z"/>
<path class="lb" d="M1190 591 1197 597 1208 600 1219 600 1228 598 1234 596 1235 593 1232 591 1237 607 1238 609 1235 612 1227 614 1217 615 1206 614 1197 610 1191 603Z"/>
<path class="yf" d="M1176 290 1169 291 1160 295 1152 301 1146 310 1143 319 1145 327 1151 333 1153 344 1149 337 1149 328 1153 319 1161 311 1169 306 1178 303 1184 304Z"/><path class="yh" d="M1163 298 1154 304 1148 312 1145 321 1147 325 1151 316 1158 308 1167 302Z"/>
<path class="yf" d="M1275 544 1267 549 1257 551 1246 551 1237 548 1230 543 1229 539 1231 535 1225 550 1224 554 1228 558 1236 563 1246 565 1257 564 1266 561 1273 554Z"/><path class="yh" d="M1257 555 1246 555 1236 552 1230 547 1229 554 1236 558 1246 560 1257 560Z"/>
<path class="yf" d="M1293 546 1283 545 1275 543 1270 541 1268 539 1270 538 1262 553 1263 555 1267 557 1274 560 1283 561 1292 560Z"/><path class="yh" d="M1275 548 1269 545 1268 552 1274 555Z"/>
<path class="lb" d="M1209 148 1210 155 1215 162 1221 169 1229 173 1235 175 1239 175 1239 173 1233 188 1231 189 1225 188 1218 185 1211 179 1206 172 1203 165 1203 158Z"/>
<path class="yf" d="M1340 415 1332 420 1322 424 1311 425 1302 424 1295 423 1293 420 1297 419 1293 435 1292 437 1296 439 1303 441 1314 441 1325 438 1334 434 1340 428Z"/><path class="yh" d="M1323 428 1312 429 1302 429 1295 427 1295 434 1303 436 1313 436 1324 434Z"/>
<path class="yb" d="M1186 655 1195 653 1203 648 1210 641 1216 632 1219 625 1219 621 1216 621 1232 627 1233 629 1232 635 1228 643 1221 651 1213 658 1205 661 1197 661Z"/>
<path class="yb" d="M1122 635 1128 641 1137 646 1146 648 1142 662 1133 659 1125 653 1122 646Z"/>
<path class="yb" d="M1254 469 1262 470 1271 474 1280 481 1287 489 1290 498 1288 506 1282 512 1280 524 1284 517 1284 509 1279 500 1271 492 1262 486 1253 483 1247 484Z"/>
<path class="yb" d="M1206 262 1213 264 1221 264 1230 262 1238 259 1244 256 1246 254 1244 254 1254 268 1253 270 1249 272 1242 275 1234 278 1225 279 1217 278 1212 275Z"/>
<path class="yb" d="M1207 156 1209 163 1213 171 1220 177 1227 181 1234 183 1237 182 1237 180 1231 195 1229 197 1224 196 1217 193 1210 188 1204 181 1201 173 1201 167Z"/>
<path class="yf" d="M1156 598 1150 597 1141 598 1131 601 1122 606 1115 612 1112 619 1115 626 1114 639 1114 632 1118 625 1126 619 1136 615 1146 614 1154 614 1158 615Z"/><path class="yh" d="M1143 603 1133 605 1123 610 1116 616 1117 621 1125 615 1135 611 1145 609Z"/>
<path class="lf" d="M1318 237 1315 244 1307 250 1298 254 1288 256 1280 255 1276 253 1276 250 1276 267 1278 269 1284 271 1293 270 1303 268 1312 263 1318 256 1319 248Z"/><path class="lh" d="M1308 254 1299 258 1290 260 1282 260 1283 266 1292 266 1301 264 1310 259Z"/>
<path class="lf" d="M1155 537 1152 533 1144 530 1135 527 1124 527 1115 530 1109 535 1107 542 1102 553 1106 547 1113 543 1123 541 1134 542 1143 545 1148 549 1150 553Z"/><path class="lh" d="M1144 534 1135 532 1124 531 1115 534 1114 539 1124 537 1134 538 1143 541Z"/>
<path class="yb" d="M1267 408 1271 415 1278 422 1287 427 1296 430 1302 431 1305 430 1300 446 1295 446 1288 444 1279 440 1270 434 1265 427 1263 420Z"/>
<path class="yb" d="M1123 275 1125 283 1131 291 1138 296 1146 300 1153 300 1157 298 1157 294 1152 309 1150 312 1145 313 1137 312 1129 307 1123 300 1119 292 1119 284Z"/>
<path class="lf" d="M1343 406 1335 411 1325 415 1314 416 1305 416 1298 414 1296 412 1298 410 1295 427 1294 429 1298 431 1306 432 1317 432 1328 429 1337 425 1342 419Z"/><path class="lh" d="M1326 419 1315 420 1305 420 1298 419 1298 426 1306 427 1316 427 1327 425Z"/>
<path class="yb" d="M1210 599 1217 595 1229 599 1222 600Z"/>
<path class="lf" d="M1307 535 1299 537 1289 536 1281 534 1276 532 1273 529 1275 529 1267 544 1268 545 1272 548 1280 550 1289 551 1298 551 1306 548Z"/><path class="lh" d="M1289 540 1281 539 1275 536 1273 543 1280 545 1289 547Z"/>
<path class="lb" d="M1103 398 1104 393 1101 390 1106 404 1108 408 1105 413Z"/>
<path class="yb" d="M1311 133 1313 142 1310 151 1304 157 1301 167 1306 159 1306 150 1302 141Z"/>
<path class="yf" d="M1151 547 1148 544 1140 540 1131 538 1120 538 1111 541 1105 546 1103 553 1099 565 1102 558 1109 554 1119 552 1130 553 1139 556 1145 559 1147 563Z"/><path class="yh" d="M1140 545 1130 542 1120 542 1111 545 1110 550 1119 548 1130 548 1139 551Z"/>
<path class="yb" d="M1235 616 1239 613 1247 612 1257 613 1267 617 1275 624 1279 631 1279 640 1279 650 1277 642 1271 635 1263 629 1252 627 1243 626 1236 628 1234 632Z"/>
<path class="lf" d="M1134 516 1129 515 1121 516 1111 519 1101 525 1094 533 1092 541 1094 548 1096 560 1096 552 1100 544 1108 537 1118 532 1128 530 1135 530 1139 532Z"/><path class="lh" d="M1123 520 1113 523 1103 528 1096 536 1098 541 1106 534 1116 528 1126 526Z"/>
<path class="yf" d="M1366 408 1362 415 1354 421 1345 425 1336 426 1329 425 1327 422 1328 419 1328 435 1329 438 1334 440 1342 440 1351 438 1359 433 1366 426 1369 418Z"/><path class="yh" d="M1355 425 1346 428 1337 430 1331 429 1332 436 1340 436 1349 434 1358 429Z"/>
<path class="tb" d="M1070 655 1080 680 1086 700 1095 707 1110 706" stroke="#333" stroke-width="3.8"/><path class="tb" d="M1070 655 1080 680 1086 700 1095 707 1110 706" stroke="#f2f266" stroke-width="2.4"/>
<path class="yb" d="M1093 266 1099 271 1107 275 1116 276 1125 275 1131 273 1134 271 1133 269 1137 285 1136 287 1131 290 1123 291 1114 291 1105 288 1098 284 1095 278Z"/>
<path class="lf" d="M1438 221 1436 217 1430 213 1422 211 1413 210 1404 211 1398 216 1395 222 1390 232 1394 226 1402 223 1411 223 1420 225 1427 229 1431 233 1431 236Z"/><path class="lh" d="M1429 218 1421 215 1412 213 1404 215 1403 220 1412 219 1421 221 1428 224Z"/>
<path class="yb" d="M1216 452 1222 452 1231 454 1240 459 1247 465 1251 472 1251 479 1247 485 1246 497 1248 491 1247 483 1241 477 1233 471 1224 468 1216 467 1211 468Z"/>
<path class="lb" d="M1285 355 1289 362 1296 368 1289 379 1283 372 1280 365Z"/>
<path class="yb" d="M1186 469 1195 472 1206 472 1216 469 1224 464 1229 459 1229 455 1226 453 1235 466 1237 469 1235 474 1228 479 1219 483 1208 485 1198 484 1190 479Z"/>
<path class="lf" d="M1307 148 1298 150 1287 150 1277 147 1270 142 1268 137 1269 133 1261 147 1262 151 1267 156 1275 161 1285 163 1296 162 1304 157Z"/><path class="lh" d="M1287 154 1277 151 1269 146 1268 152 1276 156 1286 159Z"/>
<path class="tb" d="M1072 657 1083 683 1089 703 1100 705 1112 703" stroke="#333" stroke-width="3.8"/><path class="tb" d="M1072 657 1083 683 1089 703 1100 705 1112 703" stroke="#b4b6ee" stroke-width="2.4"/>
<path class="yf" d="M1204 203 1197 208 1191 215 1187 222 1186 229 1189 233 1196 246 1194 240 1197 233 1202 226 1208 219 1215 215Z"/><path class="yh" d="M1194 218 1190 225 1194 230 1199 223Z"/>
<path class="yf" d="M1433 228 1430 224 1424 220 1416 218 1407 217 1399 219 1393 223 1390 230 1385 239 1389 234 1396 231 1405 230 1414 232 1422 236 1426 240 1426 243Z"/><path class="yh" d="M1424 225 1416 222 1407 221 1398 222 1397 227 1406 226 1415 228 1422 231Z"/>
<path class="lb" d="M1120 420 1122 428 1128 435 1121 445 1117 438 1117 430Z"/>
<path class="lb" d="M1354 338 1357 331 1359 321 1359 311 1358 302 1356 297 1355 296 1354 299 1370 293 1371 292 1373 295 1375 302 1375 311 1375 322 1372 331 1367 337Z"/>
<path class="tb" d="M1290 610 1300 630 1296 650 1305 665 1302 684" stroke="#333" stroke-width="3.8"/><path class="tb" d="M1290 610 1300 630 1296 650 1305 665 1302 684" stroke="#f2f266" stroke-width="2.4"/>
<path class="lb" d="M1314 102 1321 102 1331 104 1341 110 1349 117 1353 126 1352 134 1349 145 1348 137 1343 128 1334 122 1324 118 1315 116 1309 118Z"/>
<path class="lb" d="M1180 652 1188 651 1197 646 1204 639 1210 631 1213 623 1213 619 1211 618 1227 625 1228 627 1226 633 1222 641 1215 649 1207 656 1199 659 1191 658Z"/>
<path class="lf" d="M1174 285 1167 286 1158 289 1150 296 1144 304 1141 313 1142 321 1148 328 1150 338 1146 331 1147 322 1152 313 1159 306 1168 301 1176 298 1182 299Z"/><path class="lh" d="M1161 292 1152 298 1146 306 1142 315 1145 319 1149 310 1156 303 1165 297Z"/>
<path class="tb" d="M1310 600 1322 620 1314 640 1300 655 1318 668 1316 680" stroke="#333" stroke-width="3.8"/><path class="tb" d="M1310 600 1322 620 1314 640 1300 655 1318 668 1316 680" stroke="#b4b6ee" stroke-width="2.4"/>
<path class="yf" d="M1106 402 1103 398 1108 413 1110 417Z"/>
<path class="lf" d="M1157 590 1152 589 1143 589 1133 592 1123 596 1116 603 1113 610 1115 617 1114 630 1115 622 1120 616 1128 610 1138 606 1148 605 1155 605 1159 606Z"/><path class="lh" d="M1144 594 1134 596 1125 600 1117 606 1119 612 1127 606 1137 602 1147 600Z"/>
<path class="yb" d="M1053 390 1058 397 1065 403 1074 407 1082 409 1088 409 1090 407 1088 404 1086 421 1086 423 1082 424 1075 424 1066 421 1058 415 1052 409 1050 402Z"/>
<path class="yf" d="M1320 244 1316 251 1308 257 1299 261 1289 263 1282 262 1278 259 1279 256 1278 273 1280 275 1286 277 1294 277 1304 274 1313 270 1319 263 1321 255Z"/><path class="yh" d="M1309 261 1300 265 1291 267 1283 266 1284 273 1293 273 1302 270 1311 266Z"/>
<path class="lf" d="M1012 356 1006 358 1000 362 993 368 988 376 986 384 987 391 992 396 997 407 993 401 994 393 998 385 1004 378 1011 373 1017 370 1021 370Z"/><path class="lh" d="M1003 365 996 371 990 379 988 387 991 390 995 382 1001 375 1007 369Z"/>
<path class="lb" d="M1123 629 1128 635 1136 640 1132 652 1125 647 1122 640Z"/>
<path class="yb" d="M1069 450 1065 448 1060 443 1057 434 1055 424 1057 415 1062 408 1070 404 1078 399 1072 405 1069 413 1068 423 1071 433 1075 440 1080 444 1083 443Z"/>
<path class="lb" d="M1282 488 1287 488 1296 489 1306 492 1315 496 1321 501 1324 508 1322 514 1323 527 1323 521 1318 515 1310 510 1300 507 1291 505 1284 504 1281 504Z"/>
<path class="lb" d="M1116 433 1123 431 1131 432 1141 435 1149 440 1154 448 1155 455 1152 463 1153 474 1154 466 1151 458 1144 452 1135 448 1126 446 1118 446 1114 449Z"/>
<path class="tb" d="M1478 544 1460 567 1486 585 1471 619" stroke="#333" stroke-width="4.0"/><path class="tb" d="M1478 544 1460 567 1486 585 1471 619" stroke="#b4b6ee" stroke-width="2.6"/>
<path class="yb" d="M1284 485 1287 482 1294 479 1304 476 1314 475 1324 476 1331 479 1334 485 1340 497 1335 492 1327 490 1317 490 1306 492 1297 495 1292 498 1291 500Z"/>
<path class="yf" d="M1082 566 1074 573 1064 576 1054 577 1045 576 1039 572 1040 588 1047 591 1057 591 1068 589 1077 584 1083 577Z"/><path class="yh" d="M1065 580 1055 581 1056 587 1067 585Z"/>
<path class="yf" d="M1226 561 1220 561 1211 563 1201 567 1193 574 1187 581 1187 589 1191 596 1191 609 1190 601 1192 593 1199 586 1208 580 1218 576 1226 575 1231 577Z"/><path class="yh" d="M1213 566 1203 571 1194 577 1189 585 1191 590 1197 582 1206 576 1216 572Z"/>
<path class="lb" d="M1090 261 1095 266 1103 270 1112 271 1121 271 1128 269 1131 266 1131 264 1134 280 1133 283 1127 285 1119 286 1110 286 1102 283 1095 279 1092 273Z"/>
<path class="yf" d="M1198 339 1191 341 1187 341 1186 338 1192 353 1195 355 1200 354 1208 351Z"/>
<path class="yf" d="M1128 357 1123 364 1115 369 1106 372 1098 373 1093 372 1092 369 1094 386 1097 388 1104 388 1112 386 1121 382 1128 375 1132 368Z"/><path class="yh" d="M1116 373 1108 376 1100 377 1102 383 1110 382 1119 378Z"/>
<path class="lf" d="M1286 501 1277 504 1266 505 1255 503 1246 499 1241 495 1241 492 1245 490 1238 504 1235 507 1237 511 1244 515 1254 518 1265 519 1276 517 1283 512Z"/><path class="lh" d="M1266 509 1255 507 1246 504 1240 499 1239 506 1245 510 1254 514 1265 515Z"/>
<path class="yb" d="M979 248 982 253 990 257 999 260 1009 261 1016 261 1021 260 1021 259 1023 275 1021 276 1015 276 1006 276 996 274 988 271 982 267 980 261Z"/>
<path class="lb" d="M1183 462 1192 465 1202 465 1213 463 1221 458 1226 453 1227 449 1224 446 1233 460 1234 463 1232 468 1225 473 1215 477 1205 478 1195 477 1187 472Z"/>
<path class="lf" d="M1140 295 1133 295 1125 298 1117 304 1110 312 1107 321 1108 329 1114 336 1117 346 1113 338 1114 330 1118 321 1126 314 1134 309 1142 307 1147 309Z"/><path class="lh" d="M1127 301 1119 307 1113 315 1109 323 1112 327 1116 318 1123 311 1131 306Z"/>
<path class="lf" d="M1335 221 1336 228 1340 237 1347 246 1355 252 1364 255 1372 253 1378 247 1389 244 1383 248 1374 248 1365 244 1358 237 1352 228 1349 219 1349 213Z"/><path class="lh" d="M1344 234 1350 243 1358 250 1367 253 1371 250 1362 247 1354 239 1348 231Z"/>
<path class="yb" d="M1181 466 1184 473 1189 485 1188 477Z"/>
<path class="yf" d="M1304 157 1294 160 1283 159 1274 155 1267 150 1265 145 1266 142 1258 156 1259 160 1263 165 1271 170 1282 172 1292 171 1301 167Z"/><path class="yh" d="M1283 163 1273 159 1266 155 1264 161 1272 165 1282 168Z"/>
<path class="lf" d="M1266 159 1259 165 1252 169 1247 171 1245 170 1246 167 1252 183 1253 185 1257 184 1263 181 1270 176 1276 169Z"/><path class="lh" d="M1255 173 1250 174 1254 180 1260 178Z"/>
<path class="yf" d="M1341 214 1339 218 1341 226 1345 235 1352 244 1360 250 1369 252 1377 250 1388 245 1379 245 1371 242 1363 235 1357 226 1353 217 1353 210 1356 207Z"/><path class="yh" d="M1344 223 1348 232 1355 241 1363 247 1368 244 1359 237 1353 228 1350 220Z"/>
<path class="yb" d="M1314 109 1321 109 1331 111 1341 117 1349 124 1352 133 1351 141 1349 152 1348 144 1343 136 1334 129 1324 125 1315 123 1308 124Z"/>
<path class="yf" d="M1340 544 1332 549 1323 552 1312 553 1303 551 1298 549 1297 546 1300 543 1296 559 1295 562 1298 565 1305 567 1314 568 1325 566 1334 563 1340 557Z"/><path class="yh" d="M1323 556 1313 557 1304 556 1298 553 1298 560 1304 562 1314 563 1324 562Z"/>
<path class="yf" d="M1168 270 1164 265 1158 261 1149 259 1139 259 1131 262 1125 268 1123 275 1119 284 1122 278 1130 273 1139 272 1148 273 1156 276 1161 280 1162 285Z"/><path class="yh" d="M1157 266 1149 263 1139 263 1131 265 1130 270 1139 268 1148 269 1157 272Z"/>
<path class="yf" d="M1258 200 1256 194 1249 188 1239 184 1228 183 1218 185 1210 190 1207 199 1201 207 1206 200 1215 196 1226 195 1237 198 1245 203 1251 209 1251 214Z"/><path class="yh" d="M1248 192 1238 188 1227 186 1217 188 1216 192 1226 191 1237 194 1246 198Z"/>
<path class="yf" d="M1262 175 1256 178 1251 179 1249 178 1251 176 1256 191 1257 193 1260 193 1266 190 1274 185Z"/><path class="yh" d="M1259 182 1254 183 1251 182 1254 189 1258 189 1263 187Z"/>
<path class="yb" d="M1069 436 1077 441 1088 442 1099 441 1108 438 1113 433 1114 429 1110 426 1115 440 1118 444 1115 449 1109 453 1099 456 1088 456 1078 453 1070 447Z"/>
<path class="yf" d="M1215 145 1209 150 1207 156 1201 167 1205 161 1212 158Z"/>
<path class="lf" d="M1340 531 1333 537 1323 540 1313 541 1304 539 1298 537 1296 534 1299 531 1295 547 1294 550 1298 553 1305 555 1315 556 1325 554 1334 550 1340 544Z"/><path class="lh" d="M1324 544 1314 545 1304 544 1298 541 1298 548 1305 550 1314 551 1325 550Z"/>
<path class="lf" d="M1353 152 1360 158 1364 168 1366 179 1364 189 1360 196 1356 199 1351 197 1366 201 1371 201 1375 196 1378 188 1379 177 1377 166 1371 158 1363 154Z"/><path class="lh" d="M1368 167 1369 178 1368 188 1364 196 1371 196 1374 188 1375 177 1373 167Z"/>
<path class="yb" d="M1280 500 1286 500 1295 501 1304 504 1313 509 1319 514 1321 521 1319 527 1321 540 1321 534 1316 528 1309 523 1299 519 1290 517 1282 516 1279 517Z"/>
<path class="lb" d="M976 252 980 257 987 261 996 264 1005 265 1013 265 1018 265 1019 264 1021 280 1018 281 1011 281 1003 280 993 279 985 275 979 271 977 266Z"/>
<path class="yb" d="M1169 470 1174 469 1182 469 1191 471 1199 476 1205 482 1208 489 1207 496 1207 508 1206 500 1201 494 1194 488 1185 485 1176 484 1170 484 1167 486Z"/>
<path class="yb" d="M1223 291 1230 293 1239 293 1242 307 1234 307 1229 304Z"/>
<path class="yf" d="M1161 418 1157 414 1150 411 1141 411 1132 412 1124 416 1119 423 1118 430 1114 440 1118 433 1124 428 1133 425 1143 425 1151 427 1156 430 1158 433Z"/><path class="yh" d="M1150 416 1142 414 1132 416 1124 419 1124 424 1133 421 1142 420 1151 422Z"/>
<path class="yb" d="M1115 437 1121 435 1130 436 1140 440 1148 445 1152 452 1153 460 1150 467 1151 479 1152 471 1150 463 1143 457 1134 452 1125 450 1117 450 1112 453Z"/>
<path class="lb" d="M1170 463 1174 462 1182 462 1191 464 1199 468 1206 474 1209 481 1208 488 1208 500 1207 493 1202 486 1194 481 1185 477 1176 476 1170 477 1168 479Z"/>
<path class="lf" d="M1227 556 1220 556 1212 558 1202 562 1193 568 1187 576 1186 584 1190 591 1191 603 1189 596 1192 588 1200 580 1209 575 1219 572 1227 571 1231 572Z"/><path class="lh" d="M1214 562 1204 566 1195 572 1189 579 1191 584 1198 577 1207 571 1217 567Z"/>
<path class="yb" d="M1218 319 1224 321 1231 326 1238 332 1243 340 1244 348 1242 354 1237 365 1237 357 1234 350 1228 342 1221 337 1214 334 1209 333Z"/>
<path class="lf" d="M1205 328 1198 332 1190 334 1186 334 1184 331 1190 346 1194 348 1200 347 1207 344 1215 338Z"/><path class="lh" d="M1200 335 1193 338 1188 338 1191 344 1197 343 1204 340Z"/>
<path class="lb" d="M1196 303 1200 303 1207 305 1215 309 1222 315 1227 323 1229 330 1226 337 1223 348 1223 341 1220 333 1213 326 1206 321 1198 318 1193 318 1190 319Z"/>
<path class="lb" d="M1222 306 1228 308 1235 313 1242 319 1247 327 1248 335 1246 341 1242 352 1241 344 1238 337 1231 330 1224 324 1218 321 1213 321Z"/>
<path class="yf" d="M1070 404 1078 405 1087 410 1094 417 1098 425 1100 432 1098 436 1095 436 1109 430 1112 428 1112 422 1109 415 1103 407 1095 401 1087 398 1078 399Z"/><path class="yh" d="M1089 407 1097 414 1102 422 1103 429 1109 425 1106 418 1101 410 1093 403Z"/>
<path class="lf" d="M1225 136 1217 137 1211 142 1209 148 1203 158 1208 153 1215 150 1224 150Z"/>
<path class="lf" d="M1247 477 1240 482 1231 484 1221 484 1213 483 1208 480 1208 477 1204 493 1207 496 1213 498 1222 499 1232 498 1241 495 1247 490Z"/><path class="lh" d="M1231 488 1221 489 1213 487 1213 494 1222 495 1232 494Z"/>
<path class="yb" d="M1020 258 1023 264 1030 269 1039 272 1047 275 1054 276 1057 275 1056 275 1056 292 1055 292 1050 292 1042 290 1033 287 1025 283 1020 277 1018 271Z"/>
<path class="lf" d="M1177 446 1175 455 1178 461 1183 473 1182 466 1185 457Z"/>
<path class="yf" d="M1207 215 1202 220 1194 223 1184 224 1174 223 1167 221 1163 219 1163 217 1159 233 1160 235 1166 238 1175 239 1185 239 1194 237 1201 233 1205 227Z"/><path class="yh" d="M1194 227 1184 228 1174 228 1166 226 1166 233 1174 234 1184 235 1194 233Z"/>
<path class="lb" d="M1066 426 1074 431 1085 433 1095 433 1104 429 1110 425 1111 420 1108 417 1113 432 1115 435 1112 440 1105 444 1095 447 1084 447 1074 443 1067 438Z"/>
<path class="lb" d="M1302 183 1310 188 1316 195 1317 202 1318 213 1314 206 1307 200 1298 196Z"/>
<path class="lf" d="M1197 379 1197 385 1200 393 1205 402 1212 409 1219 413 1226 413 1232 409 1245 407 1239 410 1231 408 1224 402 1218 394 1214 385 1212 378 1212 373Z"/><path class="lh" d="M1204 391 1209 400 1215 407 1223 412 1228 409 1221 404 1214 396 1210 388Z"/>
<path class="yf" d="M1211 425 1204 425 1196 429 1188 436 1182 445 1179 454 1180 463 1186 469 1190 479 1186 472 1187 463 1191 454 1198 446 1207 440 1214 437 1219 438Z"/><path class="yh" d="M1199 432 1191 439 1184 447 1181 457 1184 460 1188 451 1195 443 1203 437Z"/>
<path class="yf" d="M1195 552 1192 555 1190 562 1190 572 1192 582 1196 591 1202 597 1210 599 1222 600 1214 597 1209 589 1205 580 1204 569 1205 561 1208 555 1211 554Z"/><path class="yh" d="M1194 562 1194 571 1195 582 1200 591 1205 590 1201 580 1200 570 1201 561Z"/>
<path class="yf" d="M1201 377 1202 384 1205 392 1210 401 1217 408 1224 412 1231 411 1237 406 1250 405 1243 408 1236 406 1229 401 1223 393 1218 384 1216 376 1216 371Z"/><path class="yh" d="M1209 390 1214 399 1220 406 1227 410 1232 408 1225 403 1219 395 1214 387Z"/>
<path class="yf" d="M1317 567 1310 572 1314 586 1319 581Z"/>
<path class="lf" d="M1305 177 1310 185 1314 193 1316 199 1316 202 1315 201 1332 198 1332 196 1331 191 1328 184 1323 176 1317 169Z"/><path class="lh" d="M1318 190 1320 197 1326 193 1324 186Z"/>
<path class="yf" d="M1185 605 1181 608 1178 615 1175 625 1174 635 1175 645 1180 652 1186 655 1197 661 1192 656 1188 648 1188 637 1190 627 1193 618 1197 613 1200 612Z"/><path class="yh" d="M1182 616 1179 626 1178 636 1179 646 1185 647 1184 637 1185 626 1189 618Z"/>
<path class="yb" d="M1040 577 1047 582 1056 585 1064 585 1072 583 1076 580 1077 577 1073 574 1078 590 1079 593 1076 596 1070 598 1062 599 1053 597 1045 593 1039 587Z"/>
<path class="lb" d="M1015 387 1023 392 1032 395 1042 395 1050 393 1054 390 1055 387 1057 403 1055 406 1048 409 1039 410 1029 408 1021 404 1015 398Z"/>
<path class="yb" d="M1290 159 1294 155 1303 152 1313 151 1323 152 1331 157 1336 164 1336 172 1341 182 1338 174 1332 168 1322 165 1312 164 1303 167 1296 170 1293 174Z"/>
<path class="yf" d="M1128 239 1123 238 1116 239 1108 242 1100 247 1094 253 1092 260 1093 266 1095 278 1095 271 1099 265 1106 259 1115 255 1123 253 1129 253 1131 255Z"/><path class="yh" d="M1118 243 1110 246 1102 250 1096 256 1098 261 1104 255 1113 251 1121 249Z"/>
<path class="yb" d="M1018 398 1026 403 1035 406 1045 406 1053 404 1057 400 1057 397 1060 413 1057 416 1051 419 1042 420 1032 419 1024 415 1017 409Z"/>
<path class="lf" d="M1163 409 1160 405 1153 402 1144 401 1135 402 1127 406 1121 412 1120 420 1117 430 1120 423 1127 418 1136 415 1146 415 1154 417 1159 421 1160 424Z"/><path class="lh" d="M1153 406 1145 405 1135 406 1127 410 1127 414 1136 411 1145 411 1154 413Z"/>
<path class="yf" d="M1095 375 1091 373 1083 371 1073 371 1064 373 1057 377 1053 383 1053 390 1050 402 1051 395 1057 390 1065 387 1075 386 1084 387 1090 389 1093 392Z"/><path class="yh" d="M1083 375 1074 375 1065 377 1057 381 1057 386 1065 383 1075 381 1084 382Z"/>
<path class="yf" d="M1160 610 1156 608 1148 607 1139 609 1130 614 1124 620 1121 628 1122 635 1122 646 1123 638 1127 631 1135 626 1145 623 1153 622 1159 624 1162 626Z"/><path class="yh" d="M1150 612 1141 613 1132 617 1125 623 1126 628 1134 622 1143 619 1152 618Z"/>
<path class="lf" d="M1186 553 1184 559 1184 569 1185 579 1190 588 1196 595 1203 596 1215 598 1208 594 1202 586 1199 576 1198 566 1200 558 1203 552Z"/><path class="lh" d="M1188 568 1189 579 1193 588 1199 587 1195 577 1194 567Z"/>
<path class="yf" d="M1319 184 1322 192 1324 198 1324 200 1323 199 1339 196 1340 195 1339 190 1336 183 1332 175Z"/><path class="yh" d="M1326 189 1328 196 1328 199 1335 197 1334 192 1332 186Z"/>
<path class="yf" d="M1282 512 1273 516 1262 516 1251 514 1243 510 1238 506 1238 503 1232 518 1234 522 1240 526 1250 529 1261 530 1272 529 1280 524Z"/><path class="yh" d="M1262 520 1251 518 1242 515 1241 521 1250 525 1261 526Z"/>
<path class="yb" d="M1251 471 1254 469 1247 484 1245 486Z"/>
<path class="lb" d="M1384 333 1389 328 1392 319 1393 309 1392 299 1390 292 1389 288 1405 285 1407 291 1408 299 1408 310 1406 319 1403 327 1397 330Z"/>
<path class="yf" d="M1229 226 1225 228 1219 232 1212 238 1206 245 1203 252 1203 258 1206 262 1212 275 1210 269 1212 263 1217 255 1223 249 1230 244 1235 241 1238 240Z"/><path class="yh" d="M1222 235 1215 241 1209 248 1205 255 1209 259 1214 252 1220 245 1227 240Z"/>
<path class="lb" d="M1022 253 1025 259 1032 264 1040 268 1049 270 1056 271 1059 271 1058 271 1058 288 1057 288 1051 288 1043 286 1034 283 1027 278 1022 273 1021 267Z"/>
<path class="yf" d="M1247 485 1239 490 1229 492 1220 491 1212 490 1208 487 1208 484 1204 500 1206 503 1212 506 1221 507 1231 506 1240 503 1246 497Z"/><path class="yh" d="M1230 496 1220 496 1212 494 1212 501 1221 502 1231 502Z"/>
<path class="yf" d="M1124 602 1120 611 1114 620 1105 626 1097 629 1106 641 1115 637 1123 629 1129 621 1130 611Z"/><path class="yh" d="M1123 614 1116 622 1108 629 1112 633 1120 626 1126 618Z"/>
<path class="yf" d="M1186 334 1183 342 1177 349 1170 355 1162 357 1157 357 1154 355 1156 351 1161 366 1161 369 1166 370 1172 369 1180 365 1187 358 1191 350 1193 342Z"/><path class="yh" d="M1180 352 1173 358 1165 361 1159 361 1163 367 1169 366 1177 362 1184 356Z"/>
<path class="lf" d="M1352 134 1346 141 1336 145 1325 146 1314 145 1307 141 1304 138 1305 135 1301 150 1301 154 1306 157 1315 160 1326 160 1337 158 1345 153 1349 145Z"/><path class="lh" d="M1336 148 1325 150 1315 149 1306 146 1306 153 1315 155 1326 156 1337 154Z"/>
<path class="yf" d="M1279 640 1274 647 1266 653 1256 656 1245 657 1238 655 1240 670 1249 671 1259 669 1269 665 1276 658 1279 650Z"/><path class="yh" d="M1267 656 1257 660 1258 665 1268 661Z"/>
<path class="yb" d="M906 689 910 684 914 676 916 666 918 657 918 650 919 646 920 647 938 644 938 646 937 652 936 660 934 670 931 679 927 686 921 689Z"/>
<path class="lf" d="M1209 418 1202 419 1194 422 1186 429 1180 437 1177 447 1178 455 1183 462 1187 472 1184 465 1184 456 1189 446 1197 438 1205 433 1212 431 1217 432Z"/><path class="lh" d="M1197 425 1189 431 1182 440 1179 449 1182 453 1186 444 1193 436 1202 430Z"/>
<path class="yb" d="M1030 334 1035 328 1037 319 1037 309 1035 301 1033 296 1030 294 1028 297 1043 292 1046 291 1049 295 1051 301 1052 310 1051 320 1047 328 1042 333Z"/>
<path class="yb" d="M1045 505 1052 502 1061 502 1072 506 1081 511 1086 519 1088 527 1085 536 1086 546 1087 538 1084 530 1076 523 1067 518 1056 516 1047 517 1042 520Z"/>
<path class="lf" d="M1179 602 1176 605 1172 612 1169 621 1168 632 1170 642 1174 649 1180 652 1191 658 1186 653 1183 644 1183 634 1185 624 1188 615 1192 610 1195 609Z"/><path class="lh" d="M1177 613 1174 622 1172 632 1173 642 1179 643 1178 633 1180 623 1184 614Z"/>
<path class="lf" d="M1325 338 1320 335 1312 333 1303 333 1294 336 1287 341 1284 347 1285 355 1280 365 1282 357 1287 352 1295 348 1304 347 1313 348 1319 351 1323 354Z"/><path class="lh" d="M1312 337 1303 337 1294 339 1287 344 1287 348 1294 344 1303 343 1312 343Z"/>
<path class="lb" d="M1266 279 1270 286 1277 291 1287 295 1296 296 1304 296 1308 295 1307 294 1308 310 1306 312 1300 313 1292 312 1282 309 1273 305 1267 299 1266 292Z"/>
<path class="lb" d="M1039 566 1046 572 1055 574 1064 575 1071 573 1076 570 1077 567 1074 565 1078 580 1079 583 1076 586 1069 588 1061 589 1052 587 1044 583 1039 577Z"/>
<path class="yf" d="M1186 326 1186 334 1193 342 1190 335Z"/>
<path class="lf" d="M1255 464 1253 460 1257 458 1249 472 1248 475 1251 479Z"/>
<path class="yf" d="M1313 396 1309 394 1301 391 1291 391 1281 392 1273 395 1268 401 1267 408 1263 420 1265 413 1272 409 1281 406 1291 406 1300 408 1307 410 1310 413Z"/><path class="yh" d="M1301 396 1291 395 1281 396 1272 399 1272 405 1281 402 1291 401 1301 403Z"/>
<path class="lf" d="M1125 235 1121 233 1114 234 1106 237 1098 241 1092 247 1089 254 1090 261 1092 273 1093 266 1097 259 1104 254 1113 250 1121 248 1126 249 1129 251Z"/><path class="lh" d="M1116 238 1108 240 1100 245 1093 251 1096 256 1102 250 1111 246 1119 244Z"/>
<path class="yf" d="M1069 545 1063 544 1055 546 1047 549 1040 555 1036 563 1036 570 1040 577 1039 587 1038 580 1040 573 1045 566 1053 561 1062 558 1069 558 1074 560Z"/><path class="yh" d="M1057 549 1048 553 1041 558 1037 565 1039 570 1044 563 1051 557 1060 555Z"/>
<path class="lb" d="M1382 250 1384 258 1389 265 1396 271 1404 275 1410 275 1413 274 1412 270 1407 285 1405 288 1401 289 1394 286 1386 281 1380 275 1377 267 1377 259Z"/>
<path class="yf" d="M1103 398 1095 397 1086 400 1076 405 1068 412 1064 420 1064 429 1069 436 1070 447 1067 439 1069 431 1074 423 1083 416 1093 412 1102 411 1108 413Z"/><path class="yh" d="M1088 403 1078 408 1070 415 1065 423 1067 428 1072 419 1081 413 1091 408Z"/>
<path class="lb" d="M1320 350 1324 347 1331 345 1341 346 1350 349 1358 354 1363 361 1363 369 1365 379 1362 372 1356 365 1347 361 1337 360 1328 360 1323 363 1321 366Z"/>
<path class="lb" d="M1126 362 1135 365 1145 365 1155 363 1162 358 1167 353 1171 368 1165 373 1156 377 1146 378 1137 376 1129 372Z"/>
<path class="lb" d="M1261 404 1266 398 1270 390 1271 380 1270 370 1267 362 1265 359 1263 359 1279 354 1281 356 1284 361 1286 370 1286 380 1284 390 1279 397 1273 401Z"/>
<path class="lb" d="M1194 497 1202 501 1212 502 1223 501 1233 498 1239 494 1242 492 1240 490 1248 505 1248 507 1243 510 1235 514 1224 516 1214 516 1204 514 1198 509Z"/>
<path class="lf" d="M1161 604 1157 602 1149 602 1140 603 1131 607 1124 614 1121 621 1123 629 1122 640 1123 632 1128 625 1136 620 1146 617 1154 616 1160 618 1162 621Z"/><path class="lh" d="M1151 606 1142 607 1133 611 1125 617 1127 622 1135 616 1144 613 1153 612Z"/>
<path class="yb" d="M1048 422 1053 429 1047 441 1044 434Z"/>
<path class="yb" d="M1378 258 1380 266 1385 273 1392 279 1399 282 1405 283 1408 281 1407 277 1402 292 1401 295 1396 296 1390 294 1382 289 1376 283 1372 275 1372 267Z"/>
<path class="yb" d="M1313 195 1318 202 1319 209 1320 221 1317 213 1310 207Z"/>
<path class="yb" d="M1266 401 1271 396 1274 387 1275 377 1274 367 1271 360 1269 357 1267 357 1283 352 1285 354 1288 359 1289 367 1290 377 1288 387 1284 395 1278 398Z"/>
<path class="lb" d="M906 691 911 686 915 678 917 669 919 659 919 652 920 648 920 649 939 646 939 648 938 654 937 663 935 673 932 682 927 688 922 690Z"/>
<path class="yb" d="M1200 508 1208 512 1219 513 1230 511 1239 508 1246 505 1248 502 1246 501 1254 516 1254 518 1250 521 1242 524 1231 527 1220 527 1211 525 1205 520Z"/>
<path class="lb" d="M1196 176 1198 183 1202 191 1209 197 1216 201 1222 203 1226 203 1226 200 1220 216 1218 217 1213 216 1206 213 1199 208 1193 201 1190 193 1190 186Z"/>
<path class="yf" d="M1207 496 1201 502 1193 506 1184 508 1175 508 1168 506 1166 503 1167 501 1164 517 1165 520 1170 522 1177 523 1187 522 1196 519 1203 514 1207 508Z"/><path class="yh" d="M1194 510 1185 512 1176 512 1169 510 1169 517 1177 518 1186 518 1195 515Z"/>
<path class="lb" d="M1221 414 1226 414 1234 415 1243 418 1251 424 1256 431 1258 438 1255 445 1254 457 1255 450 1251 442 1244 436 1235 431 1227 429 1220 429 1217 430Z"/>
<path class="yb" d="M982 282 986 287 993 291 1002 293 1012 295 1020 294 1024 294 1025 293 1026 309 1024 310 1018 310 1009 310 1000 308 991 305 985 301 983 295Z"/>
<path class="yf" d="M1351 141 1345 148 1335 152 1324 153 1313 151 1306 148 1303 144 1305 141 1301 157 1300 160 1305 164 1314 167 1325 167 1336 165 1344 160 1349 152Z"/><path class="yh" d="M1335 155 1324 157 1314 156 1306 152 1305 159 1314 162 1325 163 1336 161Z"/>
<path class="yb" d="M1194 184 1196 192 1201 199 1208 205 1215 209 1221 211 1224 210 1224 208 1218 223 1216 225 1212 224 1205 221 1198 216 1192 209 1188 202 1188 195Z"/>
<path class="lf" d="M1322 514 1316 519 1307 524 1297 526 1288 528 1282 528 1280 527 1282 527 1280 543 1280 544 1285 544 1292 544 1302 542 1311 538 1319 533 1323 527Z"/><path class="lh" d="M1308 528 1298 531 1289 532 1283 532 1284 539 1291 539 1301 537 1310 534Z"/>
<path class="yf" d="M1336 172 1333 181 1326 188 1317 194 1308 196 1302 196 1299 193 1300 189 1303 205 1304 208 1309 210 1317 209 1326 205 1334 199 1339 190 1341 182Z"/><path class="yh" d="M1328 191 1319 197 1311 200 1304 200 1307 206 1314 205 1323 202 1331 195Z"/>
<path class="lf" d="M1208 488 1203 494 1195 498 1185 500 1177 500 1170 499 1167 496 1168 494 1165 510 1166 513 1171 515 1179 516 1189 515 1198 511 1204 506 1208 500Z"/><path class="lh" d="M1196 502 1186 504 1177 505 1170 503 1171 510 1178 511 1188 510 1197 507Z"/>
<path class="lf" d="M1226 337 1220 341 1212 344 1202 344 1193 342 1187 339 1184 336 1186 335 1179 350 1180 352 1185 355 1193 358 1202 359 1211 357 1219 354 1223 348Z"/><path class="lh" d="M1212 348 1202 348 1193 347 1186 344 1186 351 1193 353 1202 354 1211 353Z"/>
<path class="yb" d="M1099 296 1105 301 1104 314 1100 308Z"/>
<path class="yb" d="M1019 298 1025 304 1033 308 1027 322 1020 317 1017 311Z"/>
<path class="lf" d="M1152 463 1145 469 1136 472 1126 474 1130 488 1140 485 1148 481 1153 474Z"/>
<path class="yf" d="M1242 354 1236 359 1227 361 1218 361 1209 359 1203 356 1200 353 1201 352 1193 367 1195 369 1200 372 1208 374 1217 375 1226 374 1233 370 1237 365Z"/><path class="yh" d="M1227 365 1218 365 1209 363 1202 360 1201 367 1208 370 1217 371 1227 370Z"/>
<path class="lf" d="M1070 535 1064 534 1056 535 1047 539 1040 545 1036 552 1036 559 1039 566 1039 577 1038 569 1040 562 1046 555 1054 551 1063 548 1070 548 1074 550Z"/><path class="lh" d="M1058 539 1049 542 1042 548 1037 555 1039 559 1044 552 1052 547 1061 544Z"/>
<path class="lf" d="M1101 390 1094 388 1084 390 1074 395 1066 402 1062 410 1061 419 1066 426 1067 438 1065 430 1066 421 1073 413 1082 406 1092 403 1100 402 1106 404Z"/><path class="lh" d="M1086 394 1076 398 1068 405 1063 413 1065 418 1071 410 1079 403 1089 399Z"/>
<path class="yb" d="M1322 353 1326 350 1333 349 1343 350 1352 353 1360 358 1364 366 1364 374 1366 384 1364 376 1357 370 1349 365 1339 364 1330 364 1324 366 1322 369Z"/>
<path class="lb" d="M1282 449 1286 448 1294 449 1304 452 1313 456 1320 461 1324 467 1323 473 1324 487 1322 480 1317 475 1308 470 1298 467 1290 465 1283 465 1281 466Z"/>
<path class="lb" d="M979 286 983 291 990 295 999 298 1009 299 1017 299 1022 299 1022 298 1024 314 1021 314 1015 315 1006 314 996 313 988 309 982 305 980 299Z"/>
<path class="lf" d="M1048 354 1041 353 1033 354 1024 358 1016 364 1012 372 1011 380 1015 387 1015 398 1013 390 1016 382 1022 375 1030 370 1039 367 1047 367 1052 369Z"/><path class="lh" d="M1035 358 1026 361 1018 367 1013 375 1014 379 1020 372 1028 366 1037 363Z"/>
<path class="yf" d="M1049 364 1043 363 1034 365 1025 369 1018 375 1013 383 1013 391 1018 398 1017 409 1015 401 1017 393 1023 386 1032 381 1041 378 1049 378 1054 379Z"/><path class="yh" d="M1036 368 1027 372 1019 378 1015 386 1016 390 1022 383 1030 377 1039 374Z"/>
<path class="yb" d="M1060 565 1066 560 1074 556 1085 553 1095 554 1104 558 1109 565 1110 573 1116 583 1114 575 1107 569 1098 566 1087 567 1077 570 1069 575 1066 580Z"/>
<path class="yf" d="M1319 527 1313 532 1304 536 1294 539 1285 540 1280 540 1278 539 1281 539 1279 556 1278 556 1282 557 1289 556 1299 554 1309 551 1316 546 1321 540Z"/><path class="yh" d="M1305 540 1295 543 1287 545 1280 545 1281 552 1288 551 1297 550 1307 547Z"/>
<path class="yb" d="M1267 450 1270 448 1277 445 1287 442 1297 440 1307 441 1314 445 1318 450 1324 462 1319 457 1310 455 1300 455 1289 458 1280 461 1275 464 1274 466Z"/>
<path class="yb" d="M1221 422 1226 421 1234 422 1243 426 1251 432 1256 439 1257 446 1254 453 1253 465 1254 457 1251 450 1245 444 1236 439 1227 436 1220 436 1217 438Z"/>
<path class="lf" d="M1246 341 1241 346 1232 349 1223 349 1214 347 1208 344 1204 341 1199 357 1205 360 1213 363 1222 363 1231 362 1238 358 1242 352Z"/><path class="lh" d="M1232 352 1223 353 1214 351 1213 358 1223 359 1232 358Z"/>
<path class="yf" d="M1334 485 1333 493 1329 501 1338 512 1341 504 1340 497Z"/>
<path class="yf" d="M1150 467 1142 473 1133 477 1123 478 1116 477 1118 492 1127 492 1137 490 1146 485 1151 479Z"/><path class="yh" d="M1143 477 1134 480 1125 482 1126 488 1136 486 1145 482Z"/>
<path class="lb" d="M1352 499 1360 498 1368 492 1376 484 1381 474 1385 466 1386 461 1385 460 1402 465 1402 468 1400 475 1395 484 1389 493 1381 501 1373 505 1365 504Z"/>
<path class="lf" d="M1425 246 1422 242 1415 238 1407 236 1397 236 1390 238 1384 243 1382 250 1377 259 1380 253 1387 250 1396 248 1405 250 1413 253 1418 257 1419 261Z"/><path class="lh" d="M1415 242 1406 240 1397 239 1389 241 1388 246 1396 245 1406 246 1413 249Z"/>
<path class="yb" d="M1203 498 1213 501 1223 500 1233 497 1241 492 1245 487 1245 483 1253 497 1251 502 1245 507 1236 511 1226 513 1216 513 1207 509Z"/>
<path class="yf" d="M1085 536 1077 542 1067 546 1057 547 1047 546 1041 542 1040 538 1043 534 1040 550 1039 554 1042 558 1050 561 1060 561 1071 559 1080 554 1086 546Z"/><path class="yh" d="M1068 550 1058 551 1048 550 1042 547 1042 553 1049 556 1059 557 1070 555Z"/>
<path class="lf" d="M1363 369 1359 376 1352 383 1343 387 1334 389 1327 388 1323 386 1323 383 1324 399 1326 402 1331 403 1340 403 1349 400 1357 394 1363 387 1365 379Z"/><path class="lh" d="M1354 386 1345 390 1336 393 1328 392 1330 399 1338 398 1347 396 1356 391Z"/>
<path class="lf" d="M1317 202 1314 210 1307 216 1298 221 1288 223 1280 222 1275 220 1275 217 1275 234 1278 236 1284 238 1293 237 1303 234 1311 228 1317 221 1318 213Z"/><path class="lh" d="M1308 220 1299 224 1290 227 1281 227 1283 233 1292 233 1302 230 1310 225Z"/>
<path class="yb" d="M1240 581 1248 580 1258 581 1268 585 1276 591 1280 599 1280 608 1280 618 1278 610 1272 603 1263 597 1253 595 1244 595 1237 597Z"/>
<path class="lf" d="M1141 546 1135 545 1126 547 1116 551 1107 557 1113 569 1123 564 1133 560 1141 560 1146 562Z"/><path class="lh" d="M1137 549 1128 550 1118 554 1121 560 1131 556 1139 555Z"/>
<path class="yf" d="M1420 253 1416 249 1410 245 1401 243 1392 243 1384 246 1379 251 1378 258 1372 267 1375 261 1382 257 1390 256 1399 257 1407 260 1412 264 1414 268Z"/><path class="yh" d="M1409 249 1401 247 1391 246 1383 249 1382 254 1391 252 1400 253 1408 256Z"/>
<path class="yb" d="M1280 461 1285 461 1293 462 1303 464 1312 468 1319 474 1322 480 1321 486 1322 500 1321 493 1315 487 1307 483 1297 479 1288 478 1282 477 1279 478Z"/>
<path class="yf" d="M1032 242 1024 247 1020 252 1020 258 1018 271 1021 266 1027 261 1036 257Z"/>
<path class="lb" d="M1200 491 1209 494 1220 494 1230 491 1238 486 1243 481 1248 495 1242 501 1233 505 1222 507 1212 506 1204 502Z"/>
<path class="yf" d="M1015 225 1008 226 999 229 990 232 983 237 979 243 979 248 980 261 981 256 987 251 996 246 1005 243 1013 241 1018 241Z"/><path class="yh" d="M1001 233 992 236 984 241 986 247 994 242 1003 239Z"/>
<path class="yf" d="M1329 522 1318 523 1309 522 1303 519 1300 516 1303 514 1299 530 1299 533 1303 536 1310 538 1320 538 1331 536Z"/><path class="yh" d="M1309 526 1303 524 1303 531 1310 533Z"/>
<path class="lf" d="M1016 230 1013 230 1007 231 998 233 989 237 981 241 977 247 976 252 977 266 980 260 986 255 994 250 1003 247 1011 246 1016 245 1018 246Z"/><path class="lh" d="M1008 235 999 237 990 240 983 245 984 251 993 246 1002 243 1010 241Z"/>
<path class="yf" d="M999 303 999 309 1000 317 1004 325 1010 332 1017 337 1024 337 1030 334 1042 333 1035 334 1028 332 1022 326 1017 318 1014 309 1013 302 1015 298Z"/><path class="yh" d="M1004 314 1008 323 1013 330 1020 335 1025 333 1018 328 1013 320 1010 311Z"/>
<path class="lb" d="M1021 294 1027 299 1022 313 1019 307Z"/>
<path class="yb" d="M1077 464 1086 468 1096 470 1107 469 1116 465 1121 460 1121 456 1125 471 1123 476 1117 480 1107 483 1096 483 1086 481 1078 475Z"/>
<path class="yb" d="M1025 426 1029 432 1034 439 1039 445 1044 450 1046 453 1045 455 1042 456 1037 472 1038 470 1036 467 1032 462 1026 456 1021 449 1017 443 1016 437Z"/>
<path class="yf" d="M1188 321 1181 321 1172 325 1164 332 1173 342 1182 336 1190 334 1196 334Z"/>
<path class="yf" d="M1244 254 1240 256 1234 261 1227 267 1221 274 1219 281 1219 287 1223 291 1229 304 1226 299 1228 292 1232 285 1238 278 1245 273 1251 269 1254 268Z"/><path class="yh" d="M1237 264 1230 270 1224 277 1221 284 1225 289 1229 282 1235 275 1242 269Z"/>
<path class="yf" d="M1368 202 1366 206 1367 214 1372 223 1379 231 1387 237 1396 240 1403 238 1414 233 1406 233 1397 229 1389 222 1383 213 1380 205 1380 198 1382 195Z"/><path class="yh" d="M1371 211 1375 220 1382 229 1390 235 1394 232 1386 225 1380 216 1376 207Z"/>
<path class="lf" d="M1339 506 1329 510 1319 511 1310 510 1303 507 1300 504 1302 502 1299 518 1299 521 1303 524 1311 526 1321 526 1331 523 1340 519Z"/><path class="lh" d="M1320 515 1310 514 1303 512 1303 519 1311 521 1321 521Z"/>
<path class="yf" d="M1312 115 1310 112 1314 109 1308 124 1307 128 1311 131Z"/>
<path class="yf" d="M1319 209 1315 217 1308 223 1299 227 1289 229 1281 229 1277 226 1277 224 1277 240 1279 243 1285 244 1294 243 1304 240 1313 235 1318 228 1320 221Z"/><path class="yh" d="M1309 226 1300 231 1291 233 1283 233 1284 239 1293 239 1303 237 1311 232Z"/>
<path class="yf" d="M1364 374 1360 381 1352 387 1343 391 1334 393 1327 392 1324 389 1325 386 1325 402 1326 405 1332 407 1340 407 1349 404 1358 399 1364 392 1366 384Z"/><path class="yh" d="M1354 390 1345 395 1336 396 1329 396 1330 402 1338 402 1347 400 1356 395Z"/>
<path class="lf" d="M1211 618 1208 622 1224 627 1227 625Z"/>
<path class="lf" d="M1239 173 1236 170 1230 166 1221 164 1212 164 1204 166 1198 170 1196 176 1190 186 1194 181 1201 178 1210 177 1219 179 1227 182 1232 185 1233 188Z"/><path class="lh" d="M1229 171 1221 168 1211 167 1203 169 1202 174 1211 173 1220 174 1228 177Z"/>
<path class="lf" d="M1255 445 1249 450 1240 453 1230 454 1221 452 1215 450 1214 447 1216 445 1211 461 1211 463 1215 466 1222 468 1232 468 1241 467 1249 463 1254 457Z"/><path class="lh" d="M1240 457 1230 458 1221 457 1215 454 1215 461 1222 463 1231 464 1241 463Z"/>
<path class="lf" d="M1232 591 1225 591 1232 606 1237 607Z"/>
<path class="lf" d="M1187 316 1180 316 1171 320 1180 331 1189 329 1194 330Z"/>
<path class="lf" d="M1027 386 1021 388 1014 393 1007 400 1003 408 1013 417 1018 409 1025 403 1032 400 1037 399Z"/><path class="lh" d="M1024 391 1017 396 1010 402 1015 406 1022 400 1029 396Z"/>
<path class="lb" d="M1210 271 1216 273 1224 276 1232 282 1238 289 1240 297 1238 304 1235 315 1234 307 1230 300 1223 293 1215 289 1208 286 1203 286Z"/>
<path class="yf" d="M1232 596 1224 596 1215 599 1222 612 1231 611 1237 611Z"/>
<path class="lf" d="M1308 259 1305 258 1298 258 1289 259 1279 262 1271 267 1266 273 1266 279 1266 292 1268 286 1274 280 1283 276 1293 274 1301 274 1307 275 1308 276Z"/><path class="lh" d="M1299 262 1290 263 1280 266 1272 270 1273 276 1282 272 1292 269 1300 269Z"/>
<path class="lb" d="M1021 430 1024 437 1029 443 1034 449 1039 455 1042 458 1041 460 1038 461 1033 477 1034 475 1031 472 1027 467 1021 460 1016 454 1013 448 1012 442Z"/>
<path class="yf" d="M1237 180 1233 177 1227 174 1218 171 1209 171 1201 174 1196 178 1194 184 1188 195 1192 189 1199 186 1207 185 1216 186 1224 189 1229 193 1231 195Z"/><path class="yh" d="M1226 178 1218 176 1209 175 1200 177 1199 182 1208 181 1217 182 1225 184Z"/>
<path class="yb" d="M950 684 955 678 958 670 961 660 962 651 962 644 963 641 964 643 982 639 982 641 981 646 980 655 978 664 975 674 971 680 966 684Z"/>
<path class="lf" d="M1319 112 1313 109 1311 105 1314 102 1309 118 1308 121 1311 125 1320 128Z"/>
<path class="lb" d="M1117 401 1122 399 1130 399 1140 401 1149 406 1155 412 1157 420 1155 428 1156 439 1156 431 1151 424 1143 418 1134 414 1125 413 1118 414 1115 417Z"/>
<path class="lf" d="M1043 235 1034 238 1027 242 1022 247 1022 253 1021 267 1024 261 1030 256 1039 253 1048 251Z"/><path class="lh" d="M1036 242 1028 246 1023 251 1023 257 1029 252 1037 248Z"/>
<path class="lf" d="M1230 367 1230 371 1231 378 1234 387 1240 395 1247 402 1254 405 1261 404 1273 401 1266 400 1259 395 1252 387 1248 378 1245 370 1245 365 1247 363Z"/><path class="lh" d="M1235 376 1238 384 1243 393 1250 400 1255 397 1249 390 1244 381 1241 373Z"/>
<path class="yf" d="M1216 621 1213 625 1209 633 1225 636 1229 629 1232 627Z"/>
<path class="lf" d="M1151 321 1145 321 1136 324 1128 330 1122 338 1119 347 1121 355 1126 362 1129 372 1125 364 1126 356 1130 347 1137 340 1146 335 1154 333 1159 334Z"/><path class="lh" d="M1139 327 1131 333 1124 341 1121 350 1124 353 1128 344 1135 337 1143 332Z"/>
<path class="yf" d="M1157 294 1153 290 1146 286 1136 285 1127 285 1119 289 1114 295 1113 303 1108 312 1111 305 1117 300 1126 298 1136 298 1144 301 1150 305 1152 309Z"/><path class="yh" d="M1145 290 1136 288 1127 289 1119 292 1118 297 1126 294 1136 294 1145 297Z"/>
<path class="yf" d="M1110 573 1106 582 1100 591 1091 597 1083 600 1076 601 1073 598 1075 593 1080 608 1080 612 1085 614 1092 612 1101 608 1109 600 1115 592 1116 583Z"/><path class="yh" d="M1102 594 1094 600 1085 604 1079 604 1082 610 1090 609 1098 605 1106 598Z"/>
<path class="yf" d="M1234 366 1234 370 1235 377 1239 386 1245 394 1252 400 1259 403 1266 401 1278 398 1271 398 1263 394 1257 386 1252 377 1249 369 1249 363 1250 361Z"/><path class="yh" d="M1239 375 1243 383 1248 392 1255 398 1260 396 1253 388 1248 380 1245 371Z"/>
<path class="yb" d="M1152 684 1155 678 1158 671 1161 662 1163 654 1167 649 1170 646 1173 648 1189 646 1186 647 1183 652 1180 659 1177 668 1174 676 1171 682 1167 685Z"/>
<path class="yb" d="M1196 682 1200 677 1203 669 1206 661 1208 653 1212 647 1215 645 1218 646 1234 644 1231 646 1228 650 1225 658 1222 666 1219 674 1216 681 1212 683Z"/>
<path class="lf" d="M1362 209 1363 216 1367 225 1374 234 1382 240 1391 243 1401 236 1392 232 1384 224 1378 215 1375 207 1376 200Z"/><path class="lh" d="M1370 222 1377 231 1381 227 1375 218Z"/>
<path class="yb" d="M1241 681 1245 676 1248 668 1251 659 1253 651 1257 646 1260 644 1263 645 1279 643 1276 644 1273 649 1270 656 1267 665 1264 673 1261 679 1257 682Z"/>
<path class="lb" d="M1295 394 1300 387 1303 378 1304 368 1302 359 1300 352 1316 351 1318 359 1319 369 1317 379 1313 387 1308 391Z"/>
<path class="lb" d="M950 686 955 681 959 673 961 663 963 654 963 646 964 643 965 644 983 641 983 643 982 649 981 657 979 667 976 676 971 683 966 685Z"/>
<path class="yf" d="M1133 269 1128 268 1121 269 1113 272 1105 277 1099 283 1097 290 1099 296 1100 308 1100 302 1104 295 1111 289 1120 285 1128 283 1134 283 1137 285Z"/><path class="yh" d="M1123 273 1115 275 1107 280 1101 286 1103 291 1109 285 1117 281 1126 279Z"/>
<path class="yb" d="M985 316 989 321 997 325 1006 327 1015 328 1023 328 1027 328 1028 327 1029 343 1027 344 1021 344 1013 344 1003 342 994 339 988 335 986 329Z"/>
<path class="lf" d="M1226 456 1221 457 1213 460 1204 466 1196 474 1191 482 1190 490 1194 497 1198 509 1197 502 1200 493 1206 485 1214 478 1223 473 1230 471 1233 471Z"/><path class="lh" d="M1216 464 1207 470 1199 477 1194 485 1197 490 1203 482 1211 474 1220 469Z"/>
<path class="yf" d="M1254 453 1248 458 1239 460 1229 461 1220 459 1215 457 1213 454 1216 452 1211 468 1211 470 1214 473 1221 475 1230 476 1240 474 1248 470 1253 465Z"/><path class="yh" d="M1239 464 1229 465 1221 464 1215 461 1214 468 1221 470 1230 471 1240 470Z"/>
<path class="lb" d="M1152 686 1155 681 1158 674 1161 665 1164 657 1167 651 1170 648 1174 649 1190 648 1186 649 1183 654 1180 662 1177 671 1174 679 1171 684 1168 687Z"/>
<path class="lb" d="M1197 685 1200 680 1203 672 1206 664 1209 656 1212 650 1215 647 1219 648 1235 646 1231 648 1228 653 1225 661 1222 669 1219 677 1216 683 1213 685Z"/>
<path class="lb" d="M1242 683 1245 678 1248 671 1251 662 1254 654 1257 648 1260 646 1264 647 1280 645 1276 646 1273 652 1270 659 1267 668 1264 676 1261 682 1258 684Z"/>
<path class="yb" d="M1176 333 1179 343 1186 349 1195 353 1205 353 1213 350 1218 344 1219 336 1220 346 1217 353 1211 359 1202 361 1192 360 1184 355 1178 347 1175 338Z"/>
<path class="yf" d="M1231 467 1226 468 1218 472 1209 478 1202 486 1197 494 1196 502 1200 508 1205 520 1202 513 1205 505 1211 497 1219 489 1228 484 1235 482 1239 482Z"/><path class="yh" d="M1221 475 1212 481 1204 489 1199 497 1202 502 1208 493 1216 486 1225 480Z"/>
<path class="yf" d="M1088 404 1082 402 1074 401 1064 401 1056 404 1049 409 1047 415 1048 422 1044 434 1044 427 1049 421 1057 417 1066 416 1075 416 1083 418 1086 421Z"/><path class="yh" d="M1074 405 1065 405 1056 408 1049 412 1049 417 1056 413 1066 411 1075 411Z"/>
<path class="yb" d="M1019 425 1025 431 1033 435 1043 437 1052 437 1050 452 1040 451 1031 448 1024 442 1020 435Z"/>
<path class="lb" d="M1017 413 1022 420 1030 425 1040 427 1037 440 1028 437 1021 431 1018 424Z"/>
<path class="yb" d="M1232 285 1237 287 1245 291 1252 297 1257 304 1259 312 1257 319 1252 324 1249 336 1252 329 1252 322 1247 314 1241 307 1234 302 1227 300 1224 299Z"/>
<path class="yf" d="M1216 314 1209 310 1200 308 1190 310 1182 316 1177 324 1176 333 1175 338 1178 329 1184 321 1193 316 1203 315 1212 318 1218 324Z"/><path class="yh" d="M1201 310 1191 312 1182 317 1183 319 1192 314 1202 313Z"/>
<path class="yb" d="M1116 405 1121 403 1129 403 1139 406 1147 410 1153 417 1155 425 1153 433 1154 444 1154 436 1150 428 1142 422 1133 419 1124 417 1117 418 1113 421Z"/>
<path class="lf" d="M1354 299 1356 306 1359 315 1365 324 1371 331 1378 334 1384 333 1397 330 1391 329 1384 324 1378 316 1374 307 1371 299 1370 293Z"/><path class="lh" d="M1363 313 1368 322 1375 329 1380 326 1374 319 1369 309Z"/>
<path class="lb" d="M1236 273 1241 274 1248 278 1255 284 1261 292 1263 299 1262 306 1257 312 1254 323 1257 317 1256 309 1251 301 1245 295 1237 290 1231 287 1228 287Z"/>
<path class="yf" d="M1069 434 1072 442 1072 448 1069 450 1083 443 1085 439 1083 432 1079 424Z"/>
<path class="lb" d="M1074 454 1082 459 1093 461 1103 460 1112 457 1118 452 1119 447 1115 444 1120 459 1123 463 1120 467 1113 472 1103 474 1092 474 1082 471 1075 465Z"/>
<path class="yf" d="M883 673 888 682 894 688 900 691 906 689 921 689 915 687 909 682 904 674 900 665Z"/><path class="yh" d="M893 680 898 686 904 690 911 688 905 684 899 676Z"/>
<path class="yb" d="M1004 462 1005 467 1009 473 1014 480 1019 486 1024 491 1026 494 1025 496 1018 511 1016 508 1012 503 1006 497 1001 490 997 484 996 479 998 474Z"/>
<path class="yb" d="M1300 391 1305 385 1307 376 1307 365 1306 356 1304 350 1301 347 1317 344 1320 348 1322 356 1323 366 1321 376 1318 384 1312 389Z"/>
<path class="lb" d="M982 320 986 325 993 329 1002 332 1012 333 1020 333 1025 332 1026 332 1027 348 1024 348 1018 349 1009 348 1000 346 991 343 985 339 984 333Z"/>
<path class="lb" d="M1266 316 1271 322 1279 327 1289 330 1298 331 1305 331 1308 329 1306 328 1307 344 1306 346 1302 347 1294 347 1284 345 1275 341 1268 335 1265 329Z"/>
<path class="yb" d="M1059 327 1064 320 1066 312 1066 302 1064 294 1061 289 1059 288 1057 290 1072 285 1075 284 1078 288 1080 294 1081 303 1080 313 1077 321 1071 326Z"/>
<path class="lf" d="M1131 264 1126 263 1119 264 1111 267 1103 271 1097 278 1094 284 1096 291 1097 303 1098 296 1102 289 1109 284 1118 280 1126 278 1132 278 1134 280Z"/><path class="lh" d="M1121 268 1113 270 1105 275 1098 281 1101 286 1107 280 1116 276 1124 274Z"/>
<path class="yf" d="M1280 608 1276 615 1267 621 1257 624 1247 625 1239 623 1235 620 1235 616 1234 632 1236 636 1242 638 1251 639 1261 637 1271 633 1278 626 1280 618Z"/><path class="yh" d="M1268 624 1258 628 1248 629 1240 627 1241 634 1250 635 1260 633 1270 629Z"/>
<path class="yf" d="M1226 453 1219 454 1211 459 1203 466 1197 475 1195 484 1197 492 1203 498 1207 509 1203 502 1202 493 1206 484 1213 475 1221 469 1229 466 1235 466Z"/><path class="yh" d="M1214 462 1205 469 1199 477 1197 487 1200 490 1203 481 1210 473 1218 466Z"/>
<path class="lf" d="M1323 473 1318 479 1310 484 1300 487 1291 488 1284 489 1281 488 1282 488 1281 504 1282 505 1287 505 1295 504 1305 502 1314 498 1321 493 1324 487Z"/><path class="lh" d="M1311 488 1302 491 1292 493 1285 493 1286 500 1294 500 1304 497 1313 494Z"/>
<path class="lb" d="M1246 386 1255 391 1261 398 1264 405 1263 412 1261 424 1260 416 1255 409 1248 403 1239 399Z"/>
<path class="yf" d="M1021 259 1018 259 1011 260 1002 262 993 266 986 271 982 277 982 282 983 295 985 290 990 284 998 280 1008 277 1016 275 1021 275 1023 275Z"/><path class="yh" d="M1012 264 1004 267 995 270 987 275 989 280 997 276 1006 273 1014 271Z"/>
<path class="lf" d="M1155 428 1150 434 1141 439 1131 441 1122 441 1116 438 1114 435 1116 433 1114 449 1114 452 1118 454 1126 456 1135 455 1145 451 1152 446 1156 439Z"/><path class="lh" d="M1142 442 1132 445 1123 445 1117 443 1118 450 1125 451 1134 451 1144 448Z"/>
<path class="lb" d="M1210 532 1218 535 1229 536 1240 535 1249 532 1255 528 1257 525 1255 525 1263 539 1263 541 1260 544 1252 548 1242 550 1231 551 1221 549 1214 544Z"/>
<path class="lb" d="M1183 204 1185 212 1190 219 1197 225 1204 229 1210 231 1213 230 1213 228 1207 243 1205 245 1200 244 1194 241 1186 236 1180 229 1177 222 1177 215Z"/>
<path class="lf" d="M880 665 884 674 889 683 894 689 900 692 906 691 922 690 916 689 910 683 905 675 901 666 898 658Z"/><path class="lh" d="M893 680 899 687 905 685 900 677Z"/>
<path class="lb" d="M1001 472 1004 478 1009 484 1015 491 1019 496 1022 499 1021 501 1017 502 1013 518 1014 516 1011 513 1007 508 1002 502 997 495 993 489 992 483Z"/>
<path class="yb" d="M1217 543 1225 546 1236 547 1247 545 1256 542 1261 539 1263 536 1260 536 1268 550 1269 552 1266 555 1259 558 1248 561 1237 562 1228 560 1221 556Z"/>
<path class="yf" d="M1056 275 1050 275 1043 276 1033 278 1025 282 1019 287 1017 292 1019 298 1017 311 1017 306 1021 300 1029 296 1038 293 1047 292 1053 292 1056 292Z"/><path class="yh" d="M1044 280 1035 282 1026 286 1020 290 1021 296 1028 292 1037 289 1045 287Z"/>
<path class="yb" d="M1181 213 1183 220 1189 227 1196 233 1203 237 1208 239 1212 238 1211 235 1205 251 1204 253 1199 252 1192 249 1185 244 1179 238 1175 230 1175 223Z"/>
<path class="lf" d="M1019 264 1016 264 1010 265 1001 267 992 270 984 275 980 281 979 286 980 299 983 294 989 289 997 284 1006 281 1014 280 1019 279 1021 280Z"/><path class="lh" d="M1011 269 1002 271 993 274 986 279 987 285 996 280 1005 277 1013 275Z"/>
<path class="yf" d="M1321 486 1315 492 1307 496 1297 499 1288 501 1281 501 1279 500 1280 500 1279 517 1279 517 1284 518 1292 517 1302 515 1311 511 1318 506 1322 500Z"/><path class="yh" d="M1308 500 1298 504 1289 505 1282 506 1283 513 1291 512 1301 510 1310 506Z"/>
<path class="yf" d="M1318 450 1317 458 1312 466 1305 474 1297 480 1289 484 1285 486 1284 485 1291 500 1293 500 1299 497 1308 492 1316 485 1322 477 1325 469 1324 462Z"/><path class="yh" d="M1315 469 1308 477 1300 483 1292 488 1296 493 1304 488 1312 482 1319 474Z"/>
<path class="yb" d="M1250 416 1253 413 1260 410 1270 407 1280 406 1290 407 1297 410 1301 415 1307 427 1302 423 1293 421 1282 421 1272 423 1264 426 1258 429 1257 431Z"/>
<path class="yf" d="M1110 426 1102 425 1092 427 1083 432 1075 440 1071 448 1072 457 1077 464 1078 475 1075 467 1076 459 1081 450 1090 444 1100 440 1109 438 1115 440Z"/><path class="yh" d="M1094 431 1085 436 1077 443 1072 451 1074 456 1079 447 1088 440 1098 436Z"/>
<path class="lf" d="M1344 446 1342 450 1340 457 1338 467 1339 479 1341 489 1346 496 1352 499 1365 504 1360 499 1356 490 1355 478 1355 467 1357 458 1360 453 1361 452Z"/><path class="lh" d="M1345 457 1343 467 1343 479 1345 489 1351 489 1350 478 1350 467 1352 458Z"/>
<path class="yf" d="M1206 470 1198 474 1189 476 1179 477 1172 475 1169 473 1169 470 1167 486 1169 489 1174 491 1182 492 1192 491 1201 487 1207 482Z"/><path class="yh" d="M1189 480 1180 481 1173 480 1174 486 1181 487 1191 486Z"/>
<path class="lf" d="M1224 446 1217 447 1209 452 1201 459 1195 467 1192 477 1194 485 1200 491 1204 502 1200 494 1200 485 1204 476 1211 468 1220 462 1227 459 1233 460Z"/><path class="lh" d="M1212 454 1204 461 1197 470 1195 479 1198 483 1201 474 1208 465 1216 459Z"/>
<path class="lf" d="M1212 455 1207 462 1200 466 1190 469 1181 469 1174 468 1170 466 1170 463 1168 479 1170 482 1176 484 1184 485 1194 483 1202 479 1208 474 1211 467Z"/><path class="lh" d="M1200 470 1191 473 1182 474 1174 473 1175 479 1183 480 1193 479 1202 476Z"/>
<path class="yf" d="M1153 433 1147 439 1138 443 1128 445 1120 445 1114 442 1112 439 1115 437 1112 453 1112 456 1116 458 1123 460 1132 459 1142 456 1150 451 1154 444Z"/><path class="yh" d="M1139 447 1129 449 1121 449 1114 447 1115 453 1122 455 1131 455 1141 452Z"/>
<path class="yf" d="M1252 324 1244 327 1235 327 1226 326 1219 323 1215 320 1215 319 1218 319 1209 333 1208 334 1211 336 1217 339 1225 341 1234 342 1243 340 1249 336Z"/><path class="yh" d="M1235 331 1226 330 1218 328 1214 325 1212 332 1217 334 1225 337 1235 337Z"/>
<path class="yb" d="M1047 475 1053 472 1063 472 1073 475 1082 480 1088 488 1090 496 1087 505 1088 516 1089 507 1085 499 1078 492 1068 487 1058 486 1049 487 1044 490Z"/>
<path class="yb" d="M1321 125 1326 132 1327 140 1331 150 1328 142 1321 136Z"/>
<path class="lf" d="M1238 304 1233 309 1225 312 1215 313 1206 311 1199 308 1196 306 1196 303 1190 319 1192 322 1198 325 1206 327 1216 327 1225 325 1231 321 1235 315Z"/><path class="lh" d="M1225 316 1215 317 1206 315 1199 313 1198 320 1206 322 1216 323 1225 321Z"/>
<path class="yf" d="M1048 414 1040 414 1032 414 1027 417 1025 421 1025 426 1016 437 1018 433 1023 431 1031 430 1039 430 1047 431Z"/><path class="yh" d="M1032 419 1026 421 1025 427 1031 425Z"/>
<path class="lf" d="M1257 312 1249 315 1240 315 1231 314 1224 311 1220 309 1219 307 1222 306 1213 321 1213 322 1215 325 1222 327 1230 329 1240 330 1248 327 1254 323Z"/><path class="lh" d="M1240 319 1231 318 1223 316 1218 313 1217 320 1222 323 1231 325 1240 325Z"/>
<path class="yb" d="M1255 399 1261 405 1264 413 1262 420 1260 431 1260 424 1256 417 1248 411Z"/>
<path class="lf" d="M1058 271 1053 271 1045 271 1036 274 1028 277 1022 282 1019 288 1021 294 1019 307 1019 301 1024 296 1032 292 1041 289 1049 288 1055 287 1058 288Z"/><path class="lh" d="M1046 276 1037 278 1029 281 1022 286 1023 292 1030 287 1039 284 1048 283Z"/>
<path class="yb" d="M984 503 985 508 989 514 994 521 999 527 1004 532 1006 535 1004 537 997 552 996 549 992 544 987 538 981 532 977 525 976 520 977 515Z"/>
<path class="yf" d="M1073 574 1067 574 1059 575 1050 580 1044 586 1040 593 1041 601 1042 610 1044 603 1049 596 1057 591 1065 588 1073 588 1078 590Z"/><path class="yh" d="M1060 579 1052 583 1045 589 1048 593 1055 588 1063 584Z"/>
<path class="yb" d="M994 679 999 673 1003 664 1005 654 1006 645 1007 639 1007 636 1008 638 1026 634 1026 635 1025 641 1025 649 1023 659 1020 668 1015 675 1010 679Z"/>
<path class="lb" d="M1317 317 1320 314 1327 312 1337 312 1346 315 1354 320 1359 326 1360 334 1362 345 1358 337 1352 331 1342 327 1333 326 1325 327 1319 330 1318 333Z"/>
<path class="lb" d="M1395 513 1402 511 1411 504 1418 496 1423 486 1426 478 1427 474 1426 473 1443 478 1443 481 1442 487 1437 496 1431 505 1423 513 1415 518 1408 517Z"/>
<path class="lf" d="M1108 417 1101 416 1091 418 1081 423 1073 430 1069 438 1069 447 1074 454 1075 465 1072 458 1074 449 1080 441 1088 434 1098 430 1107 430 1113 432Z"/><path class="lh" d="M1093 421 1083 426 1075 433 1070 441 1072 446 1078 437 1086 431 1096 427Z"/>
<path class="lf" d="M1053 420 1045 419 1037 419 1029 420 1023 422 1021 425 1021 430 1012 442 1015 438 1020 436 1028 435 1036 436 1044 436 1050 437Z"/><path class="lh" d="M1037 424 1029 424 1022 426 1021 432 1028 431 1036 431Z"/>
<path class="lb" d="M980 507 981 513 984 519 989 526 995 532 999 537 1001 540 1001 542 993 557 992 553 987 549 982 543 977 536 973 530 972 524 973 520Z"/>
<path class="yb" d="M988 350 992 355 1000 359 1009 361 1019 362 1026 362 1030 361 1031 361 1033 377 1030 377 1025 378 1016 378 1006 376 998 373 991 369 989 363Z"/>
<path class="yf" d="M1028 297 1028 302 1029 310 1034 319 1039 326 1046 330 1053 331 1059 327 1071 326 1065 328 1058 325 1051 319 1046 311 1043 303 1042 296 1043 292Z"/><path class="yh" d="M1033 308 1037 317 1043 324 1049 329 1054 327 1048 321 1042 314 1039 305Z"/>
<path class="lb" d="M995 681 1000 675 1003 667 1006 657 1007 648 1007 641 1008 638 1009 639 1027 636 1027 637 1026 643 1025 652 1023 661 1020 670 1016 677 1010 680Z"/>
<path class="yf" d="M1145 683 1148 685 1152 684 1167 685 1164 684 1161 679Z"/>
<path class="lf" d="M1055 387 1051 385 1044 384 1035 386 1026 391 1019 398 1016 406 1017 413 1018 424 1019 416 1025 409 1033 403 1042 399 1050 399 1056 400 1057 403Z"/><path class="lh" d="M1046 388 1037 390 1028 394 1021 401 1023 405 1031 399 1040 395 1048 394Z"/>
<path class="yf" d="M920 647 921 652 924 660 928 669 933 677 939 684 944 686 950 684 966 684 960 683 954 678 949 670 944 661 941 652 939 646 938 644Z"/><path class="yh" d="M929 658 932 667 937 675 943 682 949 679 944 672 939 663 936 655Z"/>
<path class="yf" d="M1057 397 1053 395 1045 395 1036 397 1028 402 1021 409 1018 417 1019 425 1020 435 1021 427 1026 420 1034 414 1043 410 1052 409 1058 410 1060 413Z"/><path class="yh" d="M1047 399 1038 401 1029 405 1022 412 1025 416 1032 410 1041 406 1050 405Z"/>
<path class="yf" d="M1327 140 1324 149 1317 156 1309 162 1300 165 1293 165 1289 163 1290 159 1293 174 1295 178 1300 179 1308 177 1317 173 1325 166 1330 158 1331 150Z"/><path class="yh" d="M1319 159 1311 165 1302 168 1295 169 1298 175 1306 174 1315 170 1323 163Z"/>
<path class="yb" d="M1046 536 1052 531 1060 527 1071 525 1081 525 1090 529 1095 536 1096 544 1102 554 1100 546 1093 540 1083 538 1073 538 1063 542 1055 546 1052 551Z"/>
<path class="lf" d="M1307 294 1303 292 1295 292 1285 294 1276 298 1269 303 1265 309 1266 316 1265 329 1266 322 1272 316 1280 312 1290 309 1299 308 1305 309 1308 310Z"/><path class="lh" d="M1296 297 1287 298 1277 302 1270 307 1271 312 1279 307 1289 304 1298 303Z"/>
<path class="yb" d="M1318 320 1322 317 1329 316 1339 316 1348 319 1356 324 1361 331 1361 339 1363 349 1360 342 1354 336 1345 332 1335 330 1326 331 1321 333 1319 336Z"/>
<path class="yf" d="M1407 277 1402 273 1395 270 1386 268 1377 269 1370 273 1366 279 1361 289 1367 284 1375 281 1384 282 1393 285 1399 288 1402 292Z"/><path class="yh" d="M1394 274 1385 272 1376 273 1376 278 1385 278 1393 280Z"/>
<path class="lb" d="M986 354 989 359 997 363 1006 366 1015 367 1023 367 1028 366 1029 366 1030 381 1028 382 1021 383 1013 382 1003 380 995 377 989 373 987 367Z"/>
<path class="lf" d="M1412 270 1408 266 1400 263 1391 261 1382 262 1375 265 1372 276 1381 274 1390 275 1398 278 1404 282 1407 285Z"/><path class="lh" d="M1400 267 1391 265 1390 271 1399 273Z"/>
<path class="lf" d="M1226 200 1223 197 1216 194 1208 192 1198 191 1191 194 1185 198 1183 204 1177 215 1181 209 1188 206 1197 205 1206 207 1214 209 1219 213 1220 216Z"/><path class="lh" d="M1215 198 1207 196 1198 195 1190 197 1189 202 1197 201 1206 202 1214 205Z"/>
<path class="lf" d="M1074 565 1068 564 1059 565 1051 569 1044 575 1040 582 1044 592 1050 585 1058 581 1066 578 1073 578 1078 580Z"/><path class="lh" d="M1061 569 1053 572 1056 577 1064 574Z"/>
<path class="yf" d="M1224 208 1220 204 1213 201 1205 199 1196 199 1188 202 1183 206 1181 213 1175 223 1179 217 1185 214 1194 213 1203 214 1211 217 1216 220 1218 223Z"/><path class="yh" d="M1213 206 1204 203 1195 203 1187 205 1186 210 1194 209 1203 210 1212 212Z"/>
<path class="lf" d="M920 649 922 653 924 661 928 670 933 678 939 685 945 687 950 686 966 685 960 684 954 679 949 671 945 661 942 653 940 648 939 646Z"/><path class="lh" d="M929 659 933 667 938 676 943 683 950 680 944 673 940 664 937 655Z"/>
<path class="lf" d="M1263 359 1263 364 1265 371 1269 380 1274 388 1282 394 1289 396 1295 394 1308 391 1301 391 1293 387 1287 380 1282 372 1279 363 1278 357 1279 354Z"/><path class="lh" d="M1268 369 1272 378 1278 386 1285 392 1290 389 1283 383 1278 374 1274 365Z"/>
<path class="yf" d="M1025 293 1021 293 1014 294 1005 296 996 300 989 305 985 311 985 316 986 329 988 324 993 318 1001 314 1011 311 1019 309 1024 308 1026 309Z"/><path class="yh" d="M1015 298 1007 300 998 304 990 309 992 314 1000 310 1009 306 1017 304Z"/>
<path class="yf" d="M1087 505 1080 511 1070 516 1060 517 1050 516 1044 513 1042 508 1045 505 1042 520 1041 524 1045 528 1053 531 1063 531 1074 528 1083 523 1088 516Z"/><path class="yh" d="M1071 519 1061 521 1051 520 1044 517 1045 523 1052 526 1062 527 1073 524Z"/>
<path class="lf" d="M1263 412 1257 418 1249 421 1239 423 1230 422 1223 420 1220 417 1221 414 1217 430 1218 433 1223 436 1231 437 1241 437 1250 435 1257 430 1261 424Z"/><path class="lh" d="M1249 425 1239 427 1230 426 1223 424 1223 431 1231 433 1240 433 1250 431Z"/>
<path class="yf" d="M1267 357 1267 362 1269 370 1273 379 1279 387 1286 392 1294 394 1300 391 1312 389 1305 390 1298 386 1291 379 1286 370 1283 362 1282 355 1283 352Z"/><path class="yh" d="M1273 368 1277 376 1283 385 1290 391 1294 388 1288 381 1282 373 1279 364Z"/>
<path class="lf" d="M1360 334 1357 342 1350 349 1342 353 1332 355 1325 355 1320 353 1320 350 1321 366 1324 368 1330 370 1338 369 1348 365 1356 360 1361 353 1362 345Z"/><path class="lh" d="M1352 352 1343 357 1334 359 1326 359 1328 365 1337 365 1346 362 1354 356Z"/>
<path class="yb" d="M1079 485 1085 491 1094 496 1104 497 1115 496 1123 492 1128 488 1128 483 1132 498 1131 503 1124 507 1115 510 1104 511 1094 508 1086 503 1082 495Z"/>
<path class="yb" d="M964 544 965 549 969 556 974 562 980 568 984 573 985 576 984 577 977 592 976 590 972 585 967 579 962 573 957 566 956 561 957 556Z"/>
<path class="lf" d="M1240 490 1235 492 1226 496 1218 502 1210 510 1206 518 1206 526 1210 532 1214 544 1212 537 1214 529 1220 521 1228 514 1237 508 1244 505 1248 505Z"/><path class="lh" d="M1229 499 1220 505 1213 513 1208 521 1211 526 1217 518 1225 510 1234 504Z"/>
<path class="yf" d="M1042 456 1035 455 1027 455 1019 454 1012 455 1006 458 1004 462 998 474 1003 472 1010 471 1018 471 1026 472 1033 472 1037 472Z"/><path class="yh" d="M1027 459 1019 459 1011 460 1010 466 1018 466 1027 466Z"/>
<path class="yf" d="M1291 461 1283 462 1279 462 1280 461 1279 478 1281 478 1286 478 1295 477Z"/>
<path class="lf" d="M1022 298 1019 298 1013 299 1004 301 995 304 987 309 983 315 982 320 984 333 986 328 992 323 1000 318 1009 315 1017 314 1023 313 1024 314Z"/><path class="lh" d="M1014 303 1005 305 996 308 989 313 990 319 999 314 1008 311 1016 309Z"/>
<path class="lf" d="M1142 679 1146 685 1149 687 1152 686 1168 687 1165 685 1162 680 1158 673Z"/>
<path class="lf" d="M1038 461 1032 461 1024 460 1016 460 1008 460 1003 462 1000 466 1001 472 992 483 994 479 999 477 1006 476 1015 476 1023 477 1029 477 1033 477Z"/><path class="lh" d="M1024 465 1015 464 1008 465 1002 466 1000 472 1007 471 1015 471 1023 472Z"/>
<path class="lf" d="M1303 447 1294 449 1286 450 1282 449 1282 449 1281 466 1283 466 1289 466 1298 465 1308 462Z"/><path class="lh" d="M1295 453 1287 454 1282 454 1283 461 1288 461 1297 460Z"/>
<path class="yf" d="M1246 501 1240 503 1231 507 1223 513 1215 521 1212 530 1212 537 1217 543 1221 556 1218 549 1219 541 1225 533 1233 525 1242 519 1249 516 1254 516Z"/><path class="yh" d="M1234 510 1225 517 1218 525 1214 533 1217 538 1222 529 1230 522 1238 516Z"/>
<path class="lf" d="M1212 278 1207 275 1207 272 1210 271 1203 286 1202 288 1204 291 1211 294Z"/>
<path class="lb" d="M1148 371 1155 377 1159 385 1158 393 1158 404 1157 396 1151 389 1143 384Z"/>
<path class="yf" d="M1218 646 1221 651 1225 659 1228 667 1232 675 1235 681 1238 683 1241 681 1257 682 1254 681 1251 677 1247 669 1244 661 1241 653 1237 647 1234 644Z"/><path class="yh" d="M1229 657 1233 666 1236 674 1239 679 1246 678 1243 671 1239 663 1236 655Z"/>
<path class="yf" d="M1173 648 1176 653 1180 660 1183 669 1187 676 1190 682 1193 684 1196 682 1212 683 1209 682 1206 678 1202 671 1199 662 1195 654 1192 648 1189 646Z"/><path class="yh" d="M1184 659 1188 667 1191 675 1194 681 1201 679 1198 672 1194 664 1191 656Z"/>
<path class="yf" d="M1262 420 1256 425 1248 429 1238 430 1229 429 1222 427 1219 424 1221 422 1217 438 1217 440 1222 443 1230 445 1240 445 1249 442 1256 438 1260 431Z"/><path class="yh" d="M1248 433 1238 434 1229 433 1222 431 1222 438 1230 440 1239 440 1249 438Z"/>
<path class="lb" d="M960 548 961 554 964 560 970 567 975 573 979 578 981 581 980 582 973 597 972 594 968 590 962 584 957 577 953 571 951 565 953 561Z"/>
<path class="lb" d="M1081 482 1090 487 1101 488 1111 487 1120 484 1125 479 1126 475 1130 490 1128 494 1121 499 1111 502 1100 502 1090 499 1083 493Z"/>
<path class="yf" d="M1361 339 1358 347 1351 353 1342 357 1333 359 1325 359 1321 356 1322 353 1322 369 1324 372 1330 374 1339 373 1348 370 1356 364 1361 357 1363 349Z"/><path class="yh" d="M1352 356 1343 361 1334 363 1327 363 1329 369 1337 369 1346 366 1354 361Z"/>
<path class="lf" d="M1219 648 1222 653 1225 660 1229 668 1232 676 1236 682 1239 685 1242 683 1258 684 1255 683 1252 678 1248 670 1245 662 1241 654 1238 649 1235 646Z"/><path class="lh" d="M1230 658 1233 667 1237 675 1240 681 1247 679 1243 672 1240 664 1236 656Z"/>
<path class="lf" d="M1174 649 1177 654 1180 661 1184 670 1187 678 1191 683 1194 686 1197 685 1213 685 1210 684 1207 679 1203 672 1200 663 1196 655 1193 650 1190 648Z"/><path class="lh" d="M1185 660 1188 668 1192 676 1195 682 1202 680 1198 673 1195 665 1191 657Z"/>
<path class="yb" d="M1089 320 1093 313 1095 304 1095 295 1093 287 1090 282 1087 281 1086 284 1101 279 1103 278 1106 281 1109 287 1110 296 1109 306 1106 314 1101 319Z"/>
<path class="yf" d="M1096 544 1093 554 1086 562 1077 568 1069 572 1062 572 1059 569 1060 565 1066 580 1066 584 1071 585 1079 584 1087 579 1095 572 1101 563 1102 554Z"/><path class="yh" d="M1089 565 1080 571 1072 575 1065 576 1068 581 1076 580 1084 576 1092 569Z"/>
<path class="yb" d="M1246 251 1251 253 1258 256 1265 262 1271 269 1274 277 1273 284 1269 290 1265 301 1267 294 1266 286 1261 279 1254 272 1247 268 1241 266 1238 266Z"/>
<path class="lb" d="M1250 239 1255 240 1261 244 1268 249 1274 256 1278 264 1277 271 1274 277 1270 288 1272 281 1270 274 1265 266 1258 260 1251 256 1245 254 1242 254Z"/>
<path class="yf" d="M1301 415 1300 423 1296 431 1289 439 1281 445 1273 449 1268 451 1267 450 1274 466 1277 465 1283 463 1291 457 1299 450 1306 442 1308 434 1307 427Z"/><path class="yh" d="M1299 434 1292 442 1284 449 1276 453 1280 459 1288 454 1296 447 1303 439Z"/>
<path class="yb" d="M1039 674 1043 667 1047 658 1049 649 1050 640 1051 634 1051 631 1052 633 1070 629 1070 630 1070 635 1069 643 1067 653 1064 662 1060 670 1055 673Z"/>
<path class="yf" d="M1263 645 1266 650 1270 658 1273 666 1277 674 1280 679 1296 675 1292 668 1289 660 1286 652 1282 646 1279 643Z"/><path class="yh" d="M1274 656 1278 664 1284 662 1281 654Z"/>
<path class="yb" d="M991 384 996 389 1003 393 1013 395 1022 396 1029 396 1034 395 1034 395 1036 410 1034 411 1028 412 1019 411 1010 410 1001 407 995 403 992 397Z"/>
<path class="yf" d="M1025 496 1021 496 1014 496 1006 495 998 495 991 496 986 498 984 503 977 515 982 512 989 511 997 511 1005 512 1012 513 1016 512 1018 511Z"/><path class="yh" d="M1014 501 1006 500 998 500 990 500 989 507 997 506 1006 507 1013 508Z"/>
<path class="lf" d="M1264 647 1267 651 1270 659 1274 667 1277 675 1293 669 1290 661 1286 653 1283 647 1280 645Z"/><path class="lh" d="M1271 650 1275 657 1278 665 1285 663 1281 655 1278 648Z"/>
<path class="yb" d="M1154 382 1157 390 1156 398 1156 408 1155 401 1150 394Z"/>
<path class="lb" d="M1039 676 1044 670 1047 661 1050 651 1051 642 1052 636 1052 633 1053 634 1071 631 1071 632 1070 638 1070 646 1068 656 1065 665 1060 672 1055 675Z"/>
<path class="yf" d="M964 643 965 648 968 656 972 665 977 673 983 679 989 681 994 679 1010 679 1004 678 998 673 993 666 989 657 985 648 983 642 982 639Z"/><path class="yh" d="M973 653 977 662 982 671 987 677 994 675 988 668 984 659 980 650Z"/>
<path class="lf" d="M1385 460 1383 464 1381 471 1380 482 1380 493 1383 503 1388 510 1395 513 1408 517 1402 513 1398 504 1396 493 1397 482 1398 472 1401 467 1402 465Z"/><path class="lh" d="M1386 472 1384 482 1384 493 1387 504 1393 504 1391 493 1391 482 1393 472Z"/>
<path class="yb" d="M943 585 945 590 949 597 955 603 960 609 964 614 965 617 963 618 957 633 956 630 952 626 947 620 942 614 937 608 935 602 936 597Z"/>
<path class="yf" d="M1219 336 1216 330 1209 325 1199 323 1190 326 1181 331 1176 340 1176 349 1175 354 1178 344 1184 337 1193 332 1202 331 1211 333 1217 339 1220 346Z"/><path class="yh" d="M1209 327 1200 325 1190 327 1182 333 1183 335 1192 330 1201 329 1211 331Z"/>
<path class="lb" d="M989 388 993 393 1000 397 1009 400 1019 401 1026 401 1031 400 1032 399 1033 415 1031 416 1025 416 1016 416 1006 414 998 411 992 407 990 401Z"/>
<path class="yb" d="M1176 349 1179 358 1186 365 1196 369 1205 369 1214 365 1219 359 1219 352 1220 361 1217 368 1211 374 1203 376 1193 375 1184 371 1178 363 1175 354Z"/>
<path class="yf" d="M1281 375 1284 381 1290 393 1285 388Z"/>
<path class="lb" d="M939 589 941 595 945 601 950 608 955 614 959 618 961 622 959 623 953 638 951 635 948 631 942 625 937 619 933 612 931 606 932 602Z"/>
<path class="lf" d="M1158 393 1154 400 1146 405 1136 408 1127 408 1120 407 1116 404 1117 401 1115 417 1117 420 1122 422 1130 423 1140 421 1149 417 1156 411 1158 404Z"/><path class="lh" d="M1147 408 1137 412 1128 412 1120 411 1121 417 1129 418 1139 417 1148 414Z"/>
<path class="yf" d="M1028 327 1024 327 1017 328 1008 330 999 334 992 339 988 345 988 350 989 363 991 358 996 352 1004 348 1013 345 1022 343 1027 342 1029 343Z"/><path class="yh" d="M1018 332 1010 334 1001 338 993 343 995 348 1003 344 1012 340 1020 338Z"/>
<path class="yf" d="M1121 456 1117 453 1109 452 1099 455 1090 460 1082 468 1078 476 1079 485 1082 495 1083 487 1088 478 1097 471 1107 467 1116 466 1122 467 1125 471Z"/><path class="yh" d="M1111 456 1101 458 1092 463 1084 471 1086 475 1095 468 1104 463 1114 462Z"/>
<path class="lf" d="M1017 502 1011 501 1003 500 995 500 987 501 982 503 980 507 973 520 978 517 985 516 994 517 1002 517 1009 518 1013 518Z"/><path class="lh" d="M1003 505 994 505 987 505 986 512 994 512 1002 512Z"/>
<path class="lf" d="M965 644 966 649 969 656 973 665 978 674 983 680 989 683 995 681 1010 680 1005 679 999 674 993 666 989 657 986 649 984 643 983 641Z"/><path class="lh" d="M974 654 977 663 982 672 988 678 994 676 989 668 984 660 981 651Z"/>
<path class="yf" d="M1269 290 1261 293 1252 294 1243 293 1235 290 1231 288 1229 285 1232 285 1224 299 1223 301 1227 304 1233 306 1242 308 1252 308 1260 306 1265 301Z"/><path class="yh" d="M1252 298 1243 297 1235 295 1229 292 1228 299 1234 302 1242 304 1252 304Z"/>
<path class="lb" d="M1437 526 1445 523 1453 517 1460 508 1465 498 1468 491 1468 487 1467 487 1484 491 1485 493 1483 499 1479 508 1473 518 1466 526 1457 530 1450 531Z"/>
<path class="lf" d="M1274 277 1266 281 1257 282 1248 281 1240 279 1235 276 1234 273 1236 273 1228 287 1228 289 1232 292 1238 295 1247 296 1257 296 1265 293 1270 288Z"/><path class="lh" d="M1257 286 1248 285 1240 283 1234 280 1233 287 1239 290 1248 292 1257 292Z"/>
<path class="yf" d="M1057 290 1057 296 1059 304 1063 313 1069 320 1076 324 1083 324 1089 320 1101 319 1094 321 1087 319 1080 313 1075 305 1072 297 1071 290 1072 285Z"/><path class="yh" d="M1062 302 1066 311 1072 318 1079 322 1084 320 1077 315 1071 307 1068 299Z"/>
<path class="lf" d="M1026 332 1022 331 1016 332 1007 335 998 338 990 343 986 349 986 354 987 367 989 362 995 357 1003 352 1012 349 1020 347 1026 347 1027 348Z"/><path class="lh" d="M1017 337 1008 339 999 342 992 347 993 353 1001 348 1011 345 1019 343Z"/>
<path class="yf" d="M1156 398 1151 404 1143 409 1133 412 1124 412 1117 410 1114 408 1116 405 1113 421 1114 424 1119 426 1128 427 1137 426 1146 422 1153 416 1156 408Z"/><path class="yh" d="M1144 413 1134 416 1125 416 1118 415 1119 421 1127 423 1136 422 1145 418Z"/>
<path class="lf" d="M1115 444 1107 443 1098 445 1088 450 1080 458 1076 466 1076 475 1081 482 1083 493 1079 485 1081 477 1086 469 1095 462 1105 458 1114 457 1120 459Z"/><path class="lh" d="M1100 449 1090 454 1082 461 1077 469 1079 474 1085 465 1093 458 1103 454Z"/>
<path class="yf" d="M1004 537 1000 537 993 536 985 536 977 536 970 537 965 539 964 544 957 556 961 553 968 552 976 552 984 553 991 553 996 553 997 552Z"/><path class="yh" d="M993 541 985 540 977 540 969 541 968 547 976 547 984 547 992 548Z"/>
<path class="lf" d="M1306 328 1301 327 1292 327 1282 329 1274 333 1267 339 1265 346 1265 358 1270 352 1277 347 1287 344 1296 343 1304 343 1307 344Z"/><path class="lh" d="M1293 332 1284 333 1275 337 1276 343 1286 340 1295 338Z"/>
<path class="lf" d="M1213 228 1210 225 1203 222 1194 219 1185 219 1177 222 1175 234 1183 233 1192 234 1200 237 1205 241 1207 243Z"/><path class="lh" d="M1202 226 1194 224 1193 230 1201 232Z"/>
<path class="yf" d="M1211 235 1207 232 1200 229 1191 227 1182 227 1175 230 1170 235 1165 246 1172 242 1180 241 1189 242 1198 244 1203 248 1205 251Z"/><path class="yh" d="M1199 233 1191 231 1182 231 1181 237 1190 237 1198 240Z"/>
<path class="lf" d="M1001 542 997 542 990 542 982 541 974 541 966 542 961 544 960 548 953 561 957 558 964 557 973 557 981 558 988 558 992 558 993 557Z"/><path class="lh" d="M989 546 982 546 973 545 966 546 965 552 973 552 981 553 988 553Z"/>
<path class="yb" d="M1244 252 1246 251 1238 266 1239 268Z"/>
<path class="yf" d="M1092 466 1090 474 1090 485 1091 476Z"/>
<path class="lf" d="M1255 525 1248 526 1240 531 1231 538 1241 549 1250 543 1258 540 1263 539Z"/>
<path class="yf" d="M1008 638 1009 643 1012 651 1016 660 1022 669 1027 674 1033 676 1039 674 1055 673 1049 673 1043 669 1037 661 1033 652 1030 644 1027 637 1026 634Z"/><path class="yh" d="M1017 649 1021 658 1026 667 1032 673 1038 670 1033 663 1028 655 1024 646Z"/>
<path class="yf" d="M1128 483 1124 480 1130 495 1132 498Z"/>
<path class="yf" d="M1284 381 1284 388 1280 396 1273 404 1264 410 1257 415 1252 416 1250 416 1257 431 1261 431 1267 428 1275 423 1283 415 1289 407 1292 399 1290 393Z"/><path class="yh" d="M1282 399 1276 407 1267 414 1260 418 1264 424 1272 419 1280 412 1286 404Z"/>
<path class="yf" d="M1090 474 1083 481 1074 485 1063 487 1053 486 1047 483 1044 478 1047 475 1044 490 1044 494 1048 498 1056 500 1066 500 1077 498 1085 492 1090 485Z"/><path class="yh" d="M1074 489 1064 491 1054 490 1047 487 1047 493 1055 496 1065 496 1076 494Z"/>
<path class="yf" d="M1031 361 1027 361 1020 362 1011 364 1002 368 995 373 991 379 991 384 992 397 994 392 999 386 1007 382 1016 379 1025 377 1031 376 1033 377Z"/><path class="yh" d="M1021 366 1012 368 1003 372 996 377 998 382 1006 378 1015 374 1023 372Z"/>
<path class="yf" d="M984 577 979 577 972 577 964 576 956 576 949 577 945 580 943 585 936 597 940 594 947 592 955 592 963 593 970 594 975 594 977 592Z"/><path class="yh" d="M972 582 964 581 956 581 948 582 947 588 955 587 963 588 971 589Z"/>
<path class="yf" d="M1260 536 1253 538 1245 542 1236 549 1229 557 1238 568 1246 561 1255 555 1263 551 1268 550Z"/><path class="yh" d="M1256 541 1248 546 1239 552 1243 557 1252 551 1260 547Z"/>
<path class="lf" d="M1009 639 1010 644 1013 652 1017 661 1022 669 1028 675 1034 678 1039 676 1055 675 1049 674 1043 670 1038 662 1033 653 1030 644 1028 638 1027 636Z"/><path class="lh" d="M1018 650 1022 659 1026 667 1032 674 1039 671 1033 664 1029 655 1025 647Z"/>
<path class="lf" d="M1349 314 1340 319 1331 322 1323 322 1318 320 1317 317 1318 333 1321 335 1328 336 1337 335 1346 331 1354 325Z"/><path class="lh" d="M1333 325 1324 326 1327 332 1335 331Z"/>
<path class="lf" d="M980 582 976 583 969 582 961 581 953 581 946 582 941 585 939 589 932 602 937 599 943 598 952 598 960 598 967 599 971 599 973 597Z"/><path class="lh" d="M968 587 961 586 952 586 945 587 944 593 952 593 960 593 968 594Z"/>
<path class="lf" d="M1029 366 1025 365 1018 366 1010 369 1001 372 993 377 989 383 989 388 990 401 992 396 998 391 1006 386 1015 383 1023 381 1029 381 1030 381Z"/><path class="lh" d="M1020 371 1011 373 1002 376 995 381 996 387 1004 382 1014 379 1022 377Z"/>
<path class="lf" d="M1251 243 1249 240 1250 239 1242 254 1243 256 1248 259Z"/>
<path class="yf" d="M1340 323 1331 326 1323 325 1319 323 1318 320 1319 336 1322 339 1328 340 1337 339 1346 336Z"/><path class="yh" d="M1333 329 1325 330 1320 328 1321 334 1327 336 1335 335Z"/>
<path class="lf" d="M1426 473 1424 478 1422 486 1421 497 1422 508 1425 518 1430 524 1437 526 1450 531 1443 527 1439 519 1437 508 1438 497 1439 487 1442 480 1443 478Z"/><path class="lh" d="M1427 486 1426 497 1426 508 1429 518 1435 518 1433 508 1433 497 1434 487Z"/>
<path class="lf" d="M1032 399 1028 399 1032 415 1033 415Z"/>
<path class="yb" d="M1176 365 1179 374 1187 381 1196 384 1206 384 1203 392 1193 391 1184 386 1178 379 1175 370Z"/>
<path class="yf" d="M1034 395 1030 395 1023 396 1028 411 1034 410 1036 410Z"/>
<path class="yf" d="M1086 284 1085 290 1088 298 1092 306 1104 299 1101 291 1100 283 1101 279Z"/>
<path class="yf" d="M963 618 958 618 951 617 943 617 935 617 928 618 926 633 934 633 942 633 949 634 955 634 957 633Z"/><path class="yh" d="M951 622 943 621 942 628 950 629Z"/>
<path class="lf" d="M959 623 955 623 948 623 940 622 932 622 931 638 939 639 946 639 951 639 953 638Z"/><path class="lh" d="M954 628 948 627 940 627 939 634 947 634 952 635Z"/>
<path class="yf" d="M1219 352 1216 345 1208 340 1199 339 1189 341 1181 347 1176 355 1176 365 1175 370 1177 360 1183 352 1192 347 1202 346 1211 349 1217 354 1220 361Z"/><path class="yh" d="M1209 343 1200 341 1190 343 1182 349 1183 351 1191 346 1201 344 1210 346Z"/>
<path class="lf" d="M1053 634 1054 640 1057 648 1075 640 1072 634 1071 631Z"/>
<path class="yf" d="M1052 633 1054 639 1057 647 1061 656 1077 648 1074 639 1072 633 1070 629Z"/>
<path class="lf" d="M1467 487 1465 492 1463 501 1462 512 1463 523 1479 523 1479 511 1480 501 1483 494 1484 491Z"/><path class="lh" d="M1470 493 1468 501 1467 512 1474 511 1475 501 1477 494Z"/>
<line x1="878.5" y1="238.4" x2="974" y2="238.4" stroke="#000" stroke-width="4.6"/>
<line x1="1438.7" y1="238.2" x2="1465" y2="238.2" stroke="#000" stroke-width="4.4"/>
<line x1="878.5" y1="581.6" x2="945.6" y2="581.6" stroke="#000" stroke-width="4.6"/>
<line x1="1339.5" y1="581.6" x2="1465.5" y2="581.6" stroke="#000" stroke-width="4.4"/>
<text x="878.5" y="227.7" font-size="27">Out</text>
<text x="878.5" y="609.6" font-size="27">In</text>
<rect x="1021.3" y="296.7" width="200.4" height="115.9" fill="none" stroke="#111" stroke-width="2.2"/>
<rect x="1280.3" y="436" width="198.6" height="110.6" fill="none" stroke="#111" stroke-width="2.2"/>
<line x1="1221.7" y1="296.7" x2="1515.8" y2="27.3" stroke="#111" stroke-width="2.4" stroke-dasharray="9,6"/>
<line x1="1221.7" y1="412.6" x2="1515.8" y2="282" stroke="#111" stroke-width="2.4" stroke-dasharray="9,6"/>
<line x1="1478.9" y1="436" x2="1536.7" y2="383.9" stroke="#111" stroke-width="2.4" stroke-dasharray="9,6"/>
<line x1="1478.9" y1="546.6" x2="1536.7" y2="653.3" stroke="#111" stroke-width="2.4" stroke-dasharray="9,6"/>
<!-- insets -->
<clipPath id="ci1"><rect x="1515.8" y="27.3" width="440.4" height="254.7"/></clipPath>
<g clip-path="url(#ci1)">
<rect x="1515.8" y="27.3" width="440.4" height="254.7" fill="#fff"/>
<path d="M1515,170 C1520,172.5 1535,177.5 1545,185 C1555,192.5 1569.2,204.2 1575,215 C1580.8,225.8 1582.5,238.3 1580,250 C1577.5,261.7 1563.3,279.2 1560,285" fill="none" stroke="#aaa" stroke-width="36" stroke-linecap="butt" stroke-linejoin="round" opacity="0.3375"/><path d="M1515,170 C1520,172.5 1535,177.5 1545,185 C1555,192.5 1569.2,204.2 1575,215 C1580.8,225.8 1582.5,238.3 1580,250 C1577.5,261.7 1563.3,279.2 1560,285" fill="none" stroke="#9a9ab4" stroke-width="34" stroke-linecap="butt" stroke-linejoin="round" opacity="0.3375"/>
<path d="M1515,60 C1519.2,62.5 1532.5,69.2 1540,75 C1547.5,80.8 1556.7,91.7 1560,95" fill="none" stroke="#aaa" stroke-width="28" stroke-linecap="butt" stroke-linejoin="round" opacity="0.30000000000000004"/><path d="M1515,60 C1519.2,62.5 1532.5,69.2 1540,75 C1547.5,80.8 1556.7,91.7 1560,95" fill="none" stroke="#b4b6ee" stroke-width="26" stroke-linecap="butt" stroke-linejoin="round" opacity="0.30000000000000004"/>
<path d="M1515,230 C1519.2,233.3 1532.5,240 1540,250 C1547.5,260 1556.7,283.3 1560,290" fill="none" stroke="#aaa" stroke-width="24" stroke-linecap="butt" stroke-linejoin="round" opacity="0.30000000000000004"/><path d="M1515,230 C1519.2,233.3 1532.5,240 1540,250 C1547.5,260 1556.7,283.3 1560,290" fill="none" stroke="#c8c878" stroke-width="22" stroke-linecap="butt" stroke-linejoin="round" opacity="0.30000000000000004"/>
<path d="M1620,60 C1626.7,58.3 1646.7,53.3 1660,50 C1673.3,46.7 1686.7,40.8 1700,40 C1713.3,39.2 1733.3,44.2 1740,45" fill="none" stroke="#aaa" stroke-width="24" stroke-linecap="butt" stroke-linejoin="round" opacity="0.26249999999999996"/><path d="M1620,60 C1626.7,58.3 1646.7,53.3 1660,50 C1673.3,46.7 1686.7,40.8 1700,40 C1713.3,39.2 1733.3,44.2 1740,45" fill="none" stroke="#c8c878" stroke-width="22" stroke-linecap="butt" stroke-linejoin="round" opacity="0.26249999999999996"/>
<path d="M1640,95 C1646.7,92.5 1666.7,81.7 1680,80 C1693.3,78.3 1708.3,80.8 1720,85 C1731.7,89.2 1743.3,97.5 1750,105 C1756.7,112.5 1758.3,125.8 1760,130" fill="none" stroke="#aaa" stroke-width="28" stroke-linecap="butt" stroke-linejoin="round" opacity="0.30000000000000004"/><path d="M1640,95 C1646.7,92.5 1666.7,81.7 1680,80 C1693.3,78.3 1708.3,80.8 1720,85 C1731.7,89.2 1743.3,97.5 1750,105 C1756.7,112.5 1758.3,125.8 1760,130" fill="none" stroke="#b4b6ee" stroke-width="26" stroke-linecap="butt" stroke-linejoin="round" opacity="0.30000000000000004"/>
<path d="M1650,120 C1658.3,118.3 1685,110 1700,110 C1715,110 1726.7,120.8 1740,120 C1753.3,119.2 1773.3,107.5 1780,105" fill="none" stroke="#aaa" stroke-width="20" stroke-linecap="butt" stroke-linejoin="round" opacity="0.26249999999999996"/><path d="M1650,120 C1658.3,118.3 1685,110 1700,110 C1715,110 1726.7,120.8 1740,120 C1753.3,119.2 1773.3,107.5 1780,105" fill="none" stroke="#c8c878" stroke-width="18" stroke-linecap="butt" stroke-linejoin="round" opacity="0.26249999999999996"/>
<path d="M1700,215 C1705,213.3 1720,207.5 1730,205 C1740,202.5 1750,198.3 1760,200 C1770,201.7 1785,212.5 1790,215" fill="none" stroke="#aaa" stroke-width="28" stroke-linecap="butt" stroke-linejoin="round" opacity="0.41250000000000003"/><path d="M1700,215 C1705,213.3 1720,207.5 1730,205 C1740,202.5 1750,198.3 1760,200 C1770,201.7 1785,212.5 1790,215" fill="none" stroke="#808090" stroke-width="26" stroke-linecap="butt" stroke-linejoin="round" opacity="0.41250000000000003"/>
<path d="M1720,180 C1726.7,179.2 1748.3,173.3 1760,175 C1771.7,176.7 1785,187.5 1790,190" fill="none" stroke="#aaa" stroke-width="20" stroke-linecap="butt" stroke-linejoin="round" opacity="0.26249999999999996"/><path d="M1720,180 C1726.7,179.2 1748.3,173.3 1760,175 C1771.7,176.7 1785,187.5 1790,190" fill="none" stroke="#b4b6ee" stroke-width="18" stroke-linecap="butt" stroke-linejoin="round" opacity="0.26249999999999996"/>
<path d="M1745,230 C1749.2,232.5 1762.5,238.3 1770,245 C1777.5,251.7 1786.7,265.8 1790,270" fill="none" stroke="#aaa" stroke-width="32" stroke-linecap="butt" stroke-linejoin="round" opacity="0.26249999999999996"/><path d="M1745,230 C1749.2,232.5 1762.5,238.3 1770,245 C1777.5,251.7 1786.7,265.8 1790,270" fill="none" stroke="#b4b6ee" stroke-width="30" stroke-linecap="butt" stroke-linejoin="round" opacity="0.26249999999999996"/>
<path d="M1760,40 C1766.7,39.2 1786.7,35 1800,35 C1813.3,35 1828.3,36.7 1840,40 C1851.7,43.3 1865,52.5 1870,55" fill="none" stroke="#aaa" stroke-width="22" stroke-linecap="butt" stroke-linejoin="round" opacity="0.26249999999999996"/><path d="M1760,40 C1766.7,39.2 1786.7,35 1800,35 C1813.3,35 1828.3,36.7 1840,40 C1851.7,43.3 1865,52.5 1870,55" fill="none" stroke="#c8c878" stroke-width="20" stroke-linecap="butt" stroke-linejoin="round" opacity="0.26249999999999996"/>
<path d="M1900,60 C1905,65 1921.7,78.3 1930,90 C1938.3,101.7 1945.8,116.7 1950,130 C1954.2,143.3 1954.2,163.3 1955,170" fill="none" stroke="#aaa" stroke-width="28" stroke-linecap="butt" stroke-linejoin="round" opacity="0.30000000000000004"/><path d="M1900,60 C1905,65 1921.7,78.3 1930,90 C1938.3,101.7 1945.8,116.7 1950,130 C1954.2,143.3 1954.2,163.3 1955,170" fill="none" stroke="#9a9ab4" stroke-width="26" stroke-linecap="butt" stroke-linejoin="round" opacity="0.30000000000000004"/>
<path d="M1905,170 C1910,175 1926.2,190 1935,200 C1943.8,210 1954.2,225 1958,230" fill="none" stroke="#aaa" stroke-width="24" stroke-linecap="butt" stroke-linejoin="round" opacity="0.30000000000000004"/><path d="M1905,170 C1910,175 1926.2,190 1935,200 C1943.8,210 1954.2,225 1958,230" fill="none" stroke="#b4b6ee" stroke-width="22" stroke-linecap="butt" stroke-linejoin="round" opacity="0.30000000000000004"/>
<path d="M1660,250 C1666.7,251.7 1686.7,255 1700,260 C1713.3,265 1733.3,276.7 1740,280" fill="none" stroke="#aaa" stroke-width="22" stroke-linecap="butt" stroke-linejoin="round" opacity="0.30000000000000004"/><path d="M1660,250 C1666.7,251.7 1686.7,255 1700,260 C1713.3,265 1733.3,276.7 1740,280" fill="none" stroke="#c8c878" stroke-width="20" stroke-linecap="butt" stroke-linejoin="round" opacity="0.30000000000000004"/>
<path d="M1540,120 C1543.3,116.7 1550,105 1560,100 C1570,95 1593.3,91.7 1600,90" fill="none" stroke="#aaa" stroke-width="18" stroke-linecap="butt" stroke-linejoin="round" opacity="0.22499999999999998"/><path d="M1540,120 C1543.3,116.7 1550,105 1560,100 C1570,95 1593.3,91.7 1600,90" fill="none" stroke="#c8c878" stroke-width="16" stroke-linecap="butt" stroke-linejoin="round" opacity="0.22499999999999998"/>
<path d="M1772,140 C1774.7,136 1779,122 1788,116 C1797,110 1814,105 1826,104 C1838,103 1854.3,109 1860,110" fill="none" stroke="#000" stroke-width="32.4" stroke-linecap="butt" stroke-linejoin="round"/><path d="M1772,140 C1774.7,136 1779,122 1788,116 C1797,110 1814,105 1826,104 C1838,103 1854.3,109 1860,110" fill="none" stroke="#5c5eb0" stroke-width="30" stroke-linecap="butt" stroke-linejoin="round"/>
<path d="M1772,148 C1776.7,149.7 1788.7,157.3 1800,158 C1811.3,158.7 1829.2,154.3 1840,152 C1850.8,149.7 1860.8,145.3 1865,144" fill="none" stroke="#000" stroke-width="38.4" stroke-linecap="butt" stroke-linejoin="round"/><path d="M1772,148 C1776.7,149.7 1788.7,157.3 1800,158 C1811.3,158.7 1829.2,154.3 1840,152 C1850.8,149.7 1860.8,145.3 1865,144" fill="none" stroke="#5a5a80" stroke-width="36" stroke-linecap="butt" stroke-linejoin="round"/>
<path d="M1800,195 C1805,198.3 1820,209.2 1830,215 C1840,220.8 1851.7,225 1860,230 C1868.3,235 1876.7,242.5 1880,245" fill="none" stroke="#000" stroke-width="28.4" stroke-linecap="butt" stroke-linejoin="round"/><path d="M1800,195 C1805,198.3 1820,209.2 1830,215 C1840,220.8 1851.7,225 1860,230 C1868.3,235 1876.7,242.5 1880,245" fill="none" stroke="#5c5eb0" stroke-width="26" stroke-linecap="butt" stroke-linejoin="round"/>
<path d="M1805,235 C1810.8,237.5 1827.5,245 1840,250 C1852.5,255 1870,260 1880,265 C1890,270 1896.7,277.5 1900,280" fill="none" stroke="#000" stroke-width="26.4" stroke-linecap="butt" stroke-linejoin="round"/><path d="M1805,235 C1810.8,237.5 1827.5,245 1840,250 C1852.5,255 1870,260 1880,265 C1890,270 1896.7,277.5 1900,280" fill="none" stroke="#606078" stroke-width="24" stroke-linecap="butt" stroke-linejoin="round"/>
<path d="M1735,28 C1735.3,30.8 1736.2,39.3 1737,45 C1737.8,50.7 1736.2,57.8 1740,62 C1743.8,66.2 1751.7,69.3 1760,70 C1768.3,70.7 1782.3,67.3 1790,66 C1797.7,64.7 1803.3,62.7 1806,62" fill="none" stroke="#000" stroke-width="7" stroke-linecap="butt" stroke-linejoin="round"/><path d="M1735,28 C1735.3,30.8 1736.2,39.3 1737,45 C1737.8,50.7 1736.2,57.8 1740,62 C1743.8,66.2 1751.7,69.3 1760,70 C1768.3,70.7 1782.3,67.3 1790,66 C1797.7,64.7 1803.3,62.7 1806,62" fill="none" stroke="#c0c2f2" stroke-width="5" stroke-linecap="butt" stroke-linejoin="round"/>
<path d="M1740,62 C1743.3,65.8 1750.8,79 1760,85 C1769.2,91 1785,94.8 1795,98 C1805,101.2 1815.8,103 1820,104" fill="none" stroke="#000" stroke-width="5.6" stroke-linecap="butt" stroke-linejoin="round"/><path d="M1740,62 C1743.3,65.8 1750.8,79 1760,85 C1769.2,91 1785,94.8 1795,98 C1805,101.2 1815.8,103 1820,104" fill="none" stroke="#d0d2f6" stroke-width="4" stroke-linecap="butt" stroke-linejoin="round"/>
<path class="ob" d="M1827 33 1831 40 1839 46 1849 52 1863 56 1877 59 1893 61 1908 61 1921 61 1932 59 1940 57 1944 54 1944 52 1945 72 1944 74 1939 77 1931 79 1919 80 1905 81 1890 80 1875 78 1861 74 1848 70 1838 64 1831 57 1828 50Z"/><path class="ob" d="M1831 92 1835 99 1844 106 1855 111 1868 115 1883 118 1899 120 1913 120 1926 119 1937 117 1944 115 1947 112 1947 110 1948 130 1948 132 1944 135 1936 137 1925 138 1911 139 1896 139 1881 137 1866 134 1853 129 1843 124 1835 117 1832 110Z"/><path class="ob" d="M1835 152 1840 159 1849 165 1860 170 1874 174 1889 177 1905 178 1919 178 1932 177 1942 176 1948 173 1951 171 1950 168 1951 188 1952 190 1948 193 1941 195 1930 197 1917 198 1902 197 1887 196 1872 193 1859 189 1847 183 1839 177 1835 170Z"/><path class="of" d="M1938 -8 1931 -10 1921 -11 1908 -10 1894 -9 1879 -6 1864 -1 1851 4 1840 11 1832 18 1828 25 1827 33 1828 50 1829 43 1834 35 1843 28 1854 22 1868 17 1883 13 1898 10 1912 9 1924 8 1934 9 1940 11Z"/><path class="oh" d="M1895 -3 1880 0 1865 4 1852 9 1853 17 1867 11 1882 7 1897 4Z"/><path class="ob" d="M1839 212 1844 219 1854 225 1866 230 1880 234 1895 236 1911 237 1925 237 1937 236 1946 234 1952 231 1954 229 1952 226 1954 246 1955 248 1952 251 1946 253 1936 255 1923 256 1908 256 1893 255 1878 252 1864 248 1853 243 1844 237 1839 230Z"/><path class="of" d="M1944 52 1940 50 1933 48 1922 48 1909 48 1894 50 1879 54 1865 58 1852 64 1841 70 1834 78 1830 85 1831 92 1832 110 1832 103 1836 95 1844 88 1855 82 1869 76 1883 72 1899 69 1913 67 1926 67 1936 68 1942 69 1945 72Z"/><path class="oh" d="M1910 54 1895 56 1880 59 1866 63 1853 69 1854 76 1868 71 1882 66 1897 63 1912 62Z"/><path class="ob" d="M1843 272 1849 279 1859 284 1872 289 1886 293 1901 295 1917 296 1931 295 1942 294 1951 292 1956 289 1957 287 1958 306 1956 309 1950 311 1941 313 1929 314 1914 315 1899 314 1884 311 1870 307 1858 302 1848 296 1843 290Z"/><path class="of" d="M1947 110 1942 108 1934 107 1923 106 1910 107 1895 109 1880 113 1865 118 1853 124 1843 130 1836 137 1834 145 1835 152 1835 170 1835 162 1838 155 1846 148 1856 141 1869 136 1884 131 1899 128 1914 126 1927 125 1937 126 1945 128 1948 130Z"/><path class="oh" d="M1911 113 1896 115 1881 118 1866 123 1854 128 1855 136 1868 130 1883 126 1898 122 1912 120Z"/><path class="of" d="M1950 168 1944 166 1936 165 1924 165 1910 166 1895 168 1880 172 1866 177 1854 183 1845 190 1839 197 1837 205 1839 212 1839 230 1838 222 1841 215 1847 208 1857 201 1870 195 1884 190 1900 187 1914 185 1928 184 1939 184 1947 186 1951 188Z"/><path class="oh" d="M1911 171 1896 174 1881 177 1867 182 1855 188 1856 196 1869 190 1883 185 1898 181 1913 179Z"/><path class="of" d="M1952 226 1946 224 1937 223 1925 224 1911 225 1896 228 1881 232 1867 237 1855 243 1846 250 1841 257 1840 265 1843 272 1843 290 1841 282 1843 275 1849 267 1859 261 1871 255 1885 250 1900 246 1915 244 1929 243 1940 243 1949 244 1954 246Z"/><path class="oh" d="M1912 230 1897 233 1882 237 1868 242 1856 248 1858 255 1870 249 1884 244 1899 241 1914 238Z"/>
<path d="M1545,150 C1554.2,153.7 1580.8,170.3 1600,172 C1619.2,173.7 1650,162 1660,160" fill="none" stroke="#000" stroke-width="24.4" stroke-linecap="butt" stroke-linejoin="round"/><path d="M1545,150 C1554.2,153.7 1580.8,170.3 1600,172 C1619.2,173.7 1650,162 1660,160" fill="none" stroke="#6c6c24" stroke-width="22" stroke-linecap="butt" stroke-linejoin="round"/>
<path d="M1620,258 C1630,258.7 1665.8,269.7 1680,262 C1694.2,254.3 1700.8,220.3 1705,212" fill="none" stroke="#000" stroke-width="24.4" stroke-linecap="butt" stroke-linejoin="round"/><path d="M1620,258 C1630,258.7 1665.8,269.7 1680,262 C1694.2,254.3 1700.8,220.3 1705,212" fill="none" stroke="#5c5eb0" stroke-width="22" stroke-linecap="butt" stroke-linejoin="round"/>
<path d="M1592,26 C1585,31.3 1561.3,45.7 1550,58 C1538.7,70.3 1527.3,87.2 1524,100 C1520.7,112.8 1525.3,126.3 1530,135 C1534.7,143.7 1548.3,149.2 1552,152" fill="none" stroke="#000" stroke-width="35.2" stroke-linecap="butt" stroke-linejoin="round"/><path d="M1592,26 C1585,31.3 1561.3,45.7 1550,58 C1538.7,70.3 1527.3,87.2 1524,100 C1520.7,112.8 1525.3,126.3 1530,135 C1534.7,143.7 1548.3,149.2 1552,152" fill="none" stroke="#a8aaf4" stroke-width="32" stroke-linecap="butt" stroke-linejoin="round"/><path d="M1592,26 C1585,31.3 1561.3,45.7 1550,58 C1538.7,70.3 1527.3,87.2 1524,100 C1520.7,112.8 1525.3,126.3 1530,135 C1534.7,143.7 1548.3,149.2 1552,152" fill="none" stroke="#f4f4ff" stroke-width="11" stroke-linecap="round" stroke-linejoin="round"/>
<path d="M1612,45 C1605.8,51.7 1583.7,71.7 1575,85 C1566.3,98.3 1560,112.5 1560,125 C1560,137.5 1569.7,152.2 1575,160 C1580.3,167.8 1589.2,170 1592,172" fill="none" stroke="#000" stroke-width="28.2" stroke-linecap="butt" stroke-linejoin="round"/><path d="M1612,45 C1605.8,51.7 1583.7,71.7 1575,85 C1566.3,98.3 1560,112.5 1560,125 C1560,137.5 1569.7,152.2 1575,160 C1580.3,167.8 1589.2,170 1592,172" fill="none" stroke="#f6f650" stroke-width="25" stroke-linecap="butt" stroke-linejoin="round"/><path d="M1612,45 C1605.8,51.7 1583.7,71.7 1575,85 C1566.3,98.3 1560,112.5 1560,125 C1560,137.5 1569.7,152.2 1575,160 C1580.3,167.8 1589.2,170 1592,172" fill="none" stroke="#fdfdd0" stroke-width="8" stroke-linecap="round" stroke-linejoin="round"/>
<path d="M1582,136 L1600,126 L1645,124 L1670,134 L1668,160 L1624,168 L1583,166Z" fill="#e00000" stroke="#700" stroke-width="1"/>
<path d="M1640,126 L1670,134 L1668,160 L1645,154Z" fill="#a00000"/>
<path d="M1586,140 L1602,134 L1600,160 L1586,163Z" fill="#ff80b0" opacity="0.8"/>
<path d="M1612,120 C1615,119.3 1624,115.7 1630,116 C1636,116.3 1645,121 1648,122" fill="none" stroke="#700" stroke-width="6.6" stroke-linecap="butt" stroke-linejoin="round"/><path d="M1612,120 C1615,119.3 1624,115.7 1630,116 C1636,116.3 1645,121 1648,122" fill="none" stroke="#e00000" stroke-width="5" stroke-linecap="butt" stroke-linejoin="round"/>
<path d="M1640,108 L1646,125" fill="none" stroke="#700" stroke-width="6.6" stroke-linecap="butt" stroke-linejoin="round"/><path d="M1640,108 L1646,125" fill="none" stroke="#e00000" stroke-width="5" stroke-linecap="butt" stroke-linejoin="round"/>
<path d="M1662,150 C1657.3,154.5 1643,167.5 1634,177 C1625,186.5 1614.7,197.2 1608,207 C1601.3,216.8 1594.3,227.5 1594,236 C1593.7,244.5 1601.3,252.7 1606,258 C1610.7,263.3 1619.3,266.3 1622,268" fill="none" stroke="#000" stroke-width="35.2" stroke-linecap="butt" stroke-linejoin="round"/><path d="M1662,150 C1657.3,154.5 1643,167.5 1634,177 C1625,186.5 1614.7,197.2 1608,207 C1601.3,216.8 1594.3,227.5 1594,236 C1593.7,244.5 1601.3,252.7 1606,258 C1610.7,263.3 1619.3,266.3 1622,268" fill="none" stroke="#a8aaf4" stroke-width="32" stroke-linecap="butt" stroke-linejoin="round"/><path d="M1662,150 C1657.3,154.5 1643,167.5 1634,177 C1625,186.5 1614.7,197.2 1608,207 C1601.3,216.8 1594.3,227.5 1594,236 C1593.7,244.5 1601.3,252.7 1606,258 C1610.7,263.3 1619.3,266.3 1622,268" fill="none" stroke="#f4f4ff" stroke-width="13" stroke-linecap="round" stroke-linejoin="round"/>
<path d="M1694,160 C1689.3,165.8 1674.7,183 1666,195 C1657.3,207 1645.3,219.8 1642,232 C1638.7,244.2 1643.7,259.3 1646,268 C1648.3,276.7 1654.3,281.3 1656,284" fill="none" stroke="#000" stroke-width="28.2" stroke-linecap="butt" stroke-linejoin="round"/><path d="M1694,160 C1689.3,165.8 1674.7,183 1666,195 C1657.3,207 1645.3,219.8 1642,232 C1638.7,244.2 1643.7,259.3 1646,268 C1648.3,276.7 1654.3,281.3 1656,284" fill="none" stroke="#f6f650" stroke-width="25" stroke-linecap="butt" stroke-linejoin="round"/><path d="M1694,160 C1689.3,165.8 1674.7,183 1666,195 C1657.3,207 1645.3,219.8 1642,232 C1638.7,244.2 1643.7,259.3 1646,268 C1648.3,276.7 1654.3,281.3 1656,284" fill="none" stroke="#fdfdd0" stroke-width="8" stroke-linecap="round" stroke-linejoin="round"/>
<path d="M1700,212 C1703.3,216.7 1714.2,231.2 1720,240 C1725.8,248.8 1730.8,256.7 1735,265 C1739.2,273.3 1743.3,285.8 1745,290" fill="none" stroke="#000" stroke-width="29.2" stroke-linecap="butt" stroke-linejoin="round"/><path d="M1700,212 C1703.3,216.7 1714.2,231.2 1720,240 C1725.8,248.8 1730.8,256.7 1735,265 C1739.2,273.3 1743.3,285.8 1745,290" fill="none" stroke="#a8aaf4" stroke-width="26" stroke-linecap="butt" stroke-linejoin="round"/><path d="M1700,212 C1703.3,216.7 1714.2,231.2 1720,240 C1725.8,248.8 1730.8,256.7 1735,265 C1739.2,273.3 1743.3,285.8 1745,290" fill="none" stroke="#f4f4ff" stroke-width="8" stroke-linecap="round" stroke-linejoin="round"/>
<path d="M1740,235 C1742,239.2 1748.3,250.8 1752,260 C1755.7,269.2 1760.3,285 1762,290" fill="none" stroke="#000" stroke-width="23.2" stroke-linecap="butt" stroke-linejoin="round"/><path d="M1740,235 C1742,239.2 1748.3,250.8 1752,260 C1755.7,269.2 1760.3,285 1762,290" fill="none" stroke="#f6f650" stroke-width="20" stroke-linecap="butt" stroke-linejoin="round"/>
<path d="M1692,168 C1695.8,167.2 1705.7,164.2 1715,163 C1724.3,161.8 1742.5,161.3 1748,161" fill="none" stroke="#700" stroke-width="8.6" stroke-linecap="butt" stroke-linejoin="round"/><path d="M1692,168 C1695.8,167.2 1705.7,164.2 1715,163 C1724.3,161.8 1742.5,161.3 1748,161" fill="none" stroke="#e00000" stroke-width="7" stroke-linecap="butt" stroke-linejoin="round"/>
</g>
<rect x="1515.8" y="27.3" width="440.4" height="254.7" fill="none" stroke="#1a1a1a" stroke-width="2.7"/>
<text x="1690.5" y="151.2" font-size="26">F556</text>
<text x="1619.5" y="191.6" font-size="25" font-weight="bold">11</text>
<text x="1791" y="163.2" font-size="25" font-weight="bold" fill="#fff">6a</text>
<clipPath id="ci2"><rect x="1536.7" y="383.9" width="421.2" height="269.4"/></clipPath>
<g clip-path="url(#ci2)">
<rect x="1536.7" y="383.9" width="421.2" height="269.4" fill="#fff"/>
<path d="M1600,390 C1606.7,395 1626.7,410 1640,420 C1653.3,430 1670,440 1680,450 C1690,460 1696.7,475 1700,480" fill="none" stroke="#aaa" stroke-width="36" stroke-linecap="butt" stroke-linejoin="round" opacity="0.30000000000000004"/><path d="M1600,390 C1606.7,395 1626.7,410 1640,420 C1653.3,430 1670,440 1680,450 C1690,460 1696.7,475 1700,480" fill="none" stroke="#b4b6ee" stroke-width="34" stroke-linecap="butt" stroke-linejoin="round" opacity="0.30000000000000004"/>
<path d="M1540,500 C1546.7,503.3 1566.7,513.3 1580,520 C1593.3,526.7 1606.7,533.3 1620,540 C1633.3,546.7 1653.3,556.7 1660,560" fill="none" stroke="#aaa" stroke-width="32" stroke-linecap="butt" stroke-linejoin="round" opacity="0.30000000000000004"/><path d="M1540,500 C1546.7,503.3 1566.7,513.3 1580,520 C1593.3,526.7 1606.7,533.3 1620,540 C1633.3,546.7 1653.3,556.7 1660,560" fill="none" stroke="#d0d080" stroke-width="30" stroke-linecap="butt" stroke-linejoin="round" opacity="0.30000000000000004"/>
<path d="M1600,560 C1606.7,565 1626.7,581.7 1640,590 C1653.3,598.3 1670,600 1680,610 C1690,620 1696.7,643.3 1700,650" fill="none" stroke="#aaa" stroke-width="32" stroke-linecap="butt" stroke-linejoin="round" opacity="0.30000000000000004"/><path d="M1600,560 C1606.7,565 1626.7,581.7 1640,590 C1653.3,598.3 1670,600 1680,610 C1690,620 1696.7,643.3 1700,650" fill="none" stroke="#b4b6ee" stroke-width="30" stroke-linecap="butt" stroke-linejoin="round" opacity="0.30000000000000004"/>
<path d="M1540,580 C1546.7,583.3 1568.3,591.7 1580,600 C1591.7,608.3 1605,625 1610,630" fill="none" stroke="#aaa" stroke-width="30" stroke-linecap="butt" stroke-linejoin="round" opacity="0.3375"/><path d="M1540,580 C1546.7,583.3 1568.3,591.7 1580,600 C1591.7,608.3 1605,625 1610,630" fill="none" stroke="#9a9ab4" stroke-width="28" stroke-linecap="butt" stroke-linejoin="round" opacity="0.3375"/>
<path d="M1650,400 C1656.7,403.3 1680.8,411.7 1690,420 C1699.2,428.3 1702.5,445 1705,450" fill="none" stroke="#aaa" stroke-width="26" stroke-linecap="butt" stroke-linejoin="round" opacity="0.30000000000000004"/><path d="M1650,400 C1656.7,403.3 1680.8,411.7 1690,420 C1699.2,428.3 1702.5,445 1705,450" fill="none" stroke="#9a9ab4" stroke-width="24" stroke-linecap="butt" stroke-linejoin="round" opacity="0.30000000000000004"/>
<path d="M1660,500 C1665,503.3 1683.3,510 1690,520 C1696.7,530 1698.3,553.3 1700,560" fill="none" stroke="#aaa" stroke-width="26" stroke-linecap="butt" stroke-linejoin="round" opacity="0.26249999999999996"/><path d="M1660,500 C1665,503.3 1683.3,510 1690,520 C1696.7,530 1698.3,553.3 1700,560" fill="none" stroke="#d0d080" stroke-width="24" stroke-linecap="butt" stroke-linejoin="round" opacity="0.26249999999999996"/>
<path d="M1537,400 C1540.8,403.3 1553.7,411.7 1560,420 C1566.3,428.3 1573.3,440 1575,450 C1576.7,460 1575,471.7 1570,480 C1565,488.3 1549.2,496.7 1545,500" fill="none" stroke="#000" stroke-width="33.2" stroke-linecap="butt" stroke-linejoin="round"/><path d="M1537,400 C1540.8,403.3 1553.7,411.7 1560,420 C1566.3,428.3 1573.3,440 1575,450 C1576.7,460 1575,471.7 1570,480 C1565,488.3 1549.2,496.7 1545,500" fill="none" stroke="#f6f650" stroke-width="30" stroke-linecap="butt" stroke-linejoin="round"/><path d="M1537,400 C1540.8,403.3 1553.7,411.7 1560,420 C1566.3,428.3 1573.3,440 1575,450 C1576.7,460 1575,471.7 1570,480 C1565,488.3 1549.2,496.7 1545,500" fill="none" stroke="#fdfdd0" stroke-width="8" stroke-linecap="round" stroke-linejoin="round"/>
<path d="M1537,470 C1540.8,473.3 1551.2,485 1560,490 C1568.8,495 1580.3,499.2 1590,500 C1599.7,500.8 1613.3,495.8 1618,495" fill="none" stroke="#000" stroke-width="29.2" stroke-linecap="butt" stroke-linejoin="round"/><path d="M1537,470 C1540.8,473.3 1551.2,485 1560,490 C1568.8,495 1580.3,499.2 1590,500 C1599.7,500.8 1613.3,495.8 1618,495" fill="none" stroke="#a8a840" stroke-width="26" stroke-linecap="butt" stroke-linejoin="round"/>
<path d="M1585,410 C1587.5,415 1594.2,430 1600,440 C1605.8,450 1613.3,461.7 1620,470 C1626.7,478.3 1636.7,486.7 1640,490" fill="none" stroke="#000" stroke-width="27.2" stroke-linecap="butt" stroke-linejoin="round"/><path d="M1585,410 C1587.5,415 1594.2,430 1600,440 C1605.8,450 1613.3,461.7 1620,470 C1626.7,478.3 1636.7,486.7 1640,490" fill="none" stroke="#7a7a90" stroke-width="24" stroke-linecap="butt" stroke-linejoin="round"/>
<path d="M1606,498 C1610,500 1624.3,503.8 1630,510 C1635.7,516.2 1640.8,526.7 1640,535 C1639.2,543.3 1632,554.2 1625,560 C1618,565.8 1602.5,568.3 1598,570" fill="none" stroke="#000" stroke-width="33.2" stroke-linecap="butt" stroke-linejoin="round"/><path d="M1606,498 C1610,500 1624.3,503.8 1630,510 C1635.7,516.2 1640.8,526.7 1640,535 C1639.2,543.3 1632,554.2 1625,560 C1618,565.8 1602.5,568.3 1598,570" fill="none" stroke="#f6f650" stroke-width="30" stroke-linecap="butt" stroke-linejoin="round"/><path d="M1606,498 C1610,500 1624.3,503.8 1630,510 C1635.7,516.2 1640.8,526.7 1640,535 C1639.2,543.3 1632,554.2 1625,560 C1618,565.8 1602.5,568.3 1598,570" fill="none" stroke="#fdfdd0" stroke-width="8" stroke-linecap="round" stroke-linejoin="round"/>
<path d="M1550,540 C1555,543.3 1570,554.2 1580,560 C1590,565.8 1600,572 1610,575 C1620,578 1635,577.5 1640,578" fill="none" stroke="#000" stroke-width="31.2" stroke-linecap="butt" stroke-linejoin="round"/><path d="M1550,540 C1555,543.3 1570,554.2 1580,560 C1590,565.8 1600,572 1610,575 C1620,578 1635,577.5 1640,578" fill="none" stroke="#b8b850" stroke-width="28" stroke-linecap="butt" stroke-linejoin="round"/>
<path d="M1560,590 C1565,587.5 1579.2,580 1590,575 C1600.8,570 1615,563.3 1625,560 C1635,556.7 1645.8,555.8 1650,555" fill="none" stroke="#000" stroke-width="22" stroke-linecap="butt" stroke-linejoin="round"/><path d="M1560,590 C1565,587.5 1579.2,580 1590,575 C1600.8,570 1615,563.3 1625,560 C1635,556.7 1645.8,555.8 1650,555" fill="none" stroke="#8a8a60" stroke-width="20" stroke-linecap="butt" stroke-linejoin="round"/>
<path d="M1620,384 C1620.8,388.3 1621.7,400.7 1625,410 C1628.3,419.3 1635.8,430 1640,440 C1644.2,450 1648.3,465 1650,470" fill="none" stroke="#000" stroke-width="29.2" stroke-linecap="butt" stroke-linejoin="round"/><path d="M1620,384 C1620.8,388.3 1621.7,400.7 1625,410 C1628.3,419.3 1635.8,430 1640,440 C1644.2,450 1648.3,465 1650,470" fill="none" stroke="#a8aaf4" stroke-width="26" stroke-linecap="butt" stroke-linejoin="round"/><path d="M1620,384 C1620.8,388.3 1621.7,400.7 1625,410 C1628.3,419.3 1635.8,430 1640,440 C1644.2,450 1648.3,465 1650,470" fill="none" stroke="#f4f4ff" stroke-width="8" stroke-linecap="round" stroke-linejoin="round"/>
<path d="M1650,386 C1653.3,391.7 1665,408.5 1670,420 C1675,431.5 1676.7,443.3 1680,455 C1683.3,466.7 1688.3,484.2 1690,490" fill="none" stroke="#000" stroke-width="31.2" stroke-linecap="butt" stroke-linejoin="round"/><path d="M1650,386 C1653.3,391.7 1665,408.5 1670,420 C1675,431.5 1676.7,443.3 1680,455 C1683.3,466.7 1688.3,484.2 1690,490" fill="none" stroke="#a8aaf4" stroke-width="28" stroke-linecap="butt" stroke-linejoin="round"/><path d="M1650,386 C1653.3,391.7 1665,408.5 1670,420 C1675,431.5 1676.7,443.3 1680,455 C1683.3,466.7 1688.3,484.2 1690,490" fill="none" stroke="#f4f4ff" stroke-width="9" stroke-linecap="round" stroke-linejoin="round"/>
<path d="M1600,385 L1610,400" fill="none" stroke="#000" stroke-width="29.2" stroke-linecap="butt" stroke-linejoin="round"/><path d="M1600,385 L1610,400" fill="none" stroke="#a8aaf4" stroke-width="26" stroke-linecap="butt" stroke-linejoin="round"/>
<path d="M1640,540 C1643.3,543.3 1655.3,551.7 1660,560 C1664.7,568.3 1667.7,580.8 1668,590 C1668.3,599.2 1663,610.8 1662,615" fill="none" stroke="#500" stroke-width="24" stroke-linecap="butt" stroke-linejoin="round"/><path d="M1640,540 C1643.3,543.3 1655.3,551.7 1660,560 C1664.7,568.3 1667.7,580.8 1668,590 C1668.3,599.2 1663,610.8 1662,615" fill="none" stroke="#e00000" stroke-width="22" stroke-linecap="butt" stroke-linejoin="round"/>
<path d="M1650,600 C1648.3,604.2 1643.3,617.5 1640,625 C1636.7,632.5 1631.7,641.7 1630,645" fill="none" stroke="#000" stroke-width="24" stroke-linecap="butt" stroke-linejoin="round"/><path d="M1650,600 C1648.3,604.2 1643.3,617.5 1640,625 C1636.7,632.5 1631.7,641.7 1630,645" fill="none" stroke="#a0a040" stroke-width="22" stroke-linecap="butt" stroke-linejoin="round"/>
<path d="M1580,625 C1585,627.5 1600,635.8 1610,640 C1620,644.2 1635,648.3 1640,650" fill="none" stroke="#000" stroke-width="18" stroke-linecap="butt" stroke-linejoin="round"/><path d="M1580,625 C1585,627.5 1600,635.8 1610,640 C1620,644.2 1635,648.3 1640,650" fill="none" stroke="#e8e890" stroke-width="16" stroke-linecap="butt" stroke-linejoin="round"/>
<path d="M1537,650 C1542.5,648.7 1559.5,644 1570,642 C1580.5,640 1590.8,639.7 1600,638 C1609.2,636.3 1620.8,633 1625,632" fill="none" stroke="#000" stroke-width="10" stroke-linecap="butt" stroke-linejoin="round"/><path d="M1537,650 C1542.5,648.7 1559.5,644 1570,642 C1580.5,640 1590.8,639.7 1600,638 C1609.2,636.3 1620.8,633 1625,632" fill="none" stroke="#f4f480" stroke-width="8" stroke-linecap="butt" stroke-linejoin="round"/>
<path d="M1668,562 C1671.7,561 1684.7,557.7 1690,556 C1695.3,554.3 1698.3,552.7 1700,552" fill="none" stroke="#700" stroke-width="7.6" stroke-linecap="butt" stroke-linejoin="round"/><path d="M1668,562 C1671.7,561 1684.7,557.7 1690,556 C1695.3,554.3 1698.3,552.7 1700,552" fill="none" stroke="#e00000" stroke-width="6" stroke-linecap="butt" stroke-linejoin="round"/>
<path d="M1700,552 C1700.3,548.3 1702,534.5 1702,530 C1702,525.5 1700.3,525.8 1700,525" fill="none" stroke="#700" stroke-width="7.6" stroke-linecap="butt" stroke-linejoin="round"/><path d="M1700,552 C1700.3,548.3 1702,534.5 1702,530 C1702,525.5 1700.3,525.8 1700,525" fill="none" stroke="#e00000" stroke-width="6" stroke-linecap="butt" stroke-linejoin="round"/>
<path d="M1700,552 C1702,554.2 1710.3,561.5 1712,565 C1713.7,568.5 1710.3,571.7 1710,573" fill="none" stroke="#700" stroke-width="7.6" stroke-linecap="butt" stroke-linejoin="round"/><path d="M1700,552 C1702,554.2 1710.3,561.5 1712,565 C1713.7,568.5 1710.3,571.7 1710,573" fill="none" stroke="#e00000" stroke-width="6" stroke-linecap="butt" stroke-linejoin="round"/>
<path d="M1650,380 C1652,388.3 1656.3,412 1662,430 C1667.7,448 1675.7,483.8 1684,488 C1692.3,492.2 1702.7,465.7 1712,455 C1721.3,444.3 1731.7,427.2 1740,424 C1748.3,420.8 1756,426.7 1762,436 C1768,445.3 1772.5,461.7 1776,480 C1779.5,498.3 1777,540.2 1783,546 C1789,551.8 1801.8,525.3 1812,515 C1822.2,504.7 1835.3,487.5 1844,484 C1852.7,480.5 1859.3,484.7 1864,494 C1868.7,503.3 1870.3,523.3 1872,540 C1873.7,556.7 1868.5,589.7 1874,594 C1879.5,598.3 1894.8,575.3 1905,566 C1915.2,556.7 1927.5,539 1935,538 C1942.5,537 1946.2,546.3 1950,560 C1953.8,573.7 1956.7,610 1958,620" fill="none" stroke="#000" stroke-width="32.8" stroke-linecap="butt" stroke-linejoin="round"/><path d="M1650,380 C1652,388.3 1656.3,412 1662,430 C1667.7,448 1675.7,483.8 1684,488 C1692.3,492.2 1702.7,465.7 1712,455 C1721.3,444.3 1731.7,427.2 1740,424 C1748.3,420.8 1756,426.7 1762,436 C1768,445.3 1772.5,461.7 1776,480 C1779.5,498.3 1777,540.2 1783,546 C1789,551.8 1801.8,525.3 1812,515 C1822.2,504.7 1835.3,487.5 1844,484 C1852.7,480.5 1859.3,484.7 1864,494 C1868.7,503.3 1870.3,523.3 1872,540 C1873.7,556.7 1868.5,589.7 1874,594 C1879.5,598.3 1894.8,575.3 1905,566 C1915.2,556.7 1927.5,539 1935,538 C1942.5,537 1946.2,546.3 1950,560 C1953.8,573.7 1956.7,610 1958,620" fill="none" stroke="#a8aaf4" stroke-width="30" stroke-linecap="butt" stroke-linejoin="round"/>
<path d="M1657,395 C1658.8,402.5 1664.2,427.5 1668,440 C1671.8,452.5 1678,465 1680,470" fill="none" stroke="#f4f4ff" stroke-width="9" stroke-linecap="butt" stroke-linejoin="round"/>
<path d="M1700,465 L1720,447" fill="none" stroke="#f4f4ff" stroke-width="10" stroke-linecap="butt" stroke-linejoin="round"/>
<path d="M1766,450 C1767,456.7 1770.5,478.3 1772,490 C1773.5,501.7 1774.5,515 1775,520" fill="none" stroke="#f4f4ff" stroke-width="10" stroke-linecap="butt" stroke-linejoin="round"/>
<path d="M1805,520 L1825,502" fill="none" stroke="#f4f4ff" stroke-width="10" stroke-linecap="butt" stroke-linejoin="round"/>
<path d="M1866,520 L1868,560" fill="none" stroke="#f4f4ff" stroke-width="9" stroke-linecap="butt" stroke-linejoin="round"/>
<path d="M1893,575 L1918,553" fill="none" stroke="#5c5eb0" stroke-width="9" stroke-linecap="butt" stroke-linejoin="round"/>
<path d="M1752,430 L1768,445" fill="none" stroke="#5c5eb0" stroke-width="8" stroke-linecap="butt" stroke-linejoin="round"/>
<path d="M1785,540 L1795,530" fill="none" stroke="#5c5eb0" stroke-width="8" stroke-linecap="butt" stroke-linejoin="round"/>
<path d="M1840,482 C1843.3,482.5 1854.7,482.8 1860,485 C1865.3,487.2 1870,493.3 1872,495" fill="none" stroke="#400" stroke-width="26" stroke-linecap="butt" stroke-linejoin="round"/><path d="M1840,482 C1843.3,482.5 1854.7,482.8 1860,485 C1865.3,487.2 1870,493.3 1872,495" fill="none" stroke="#c00000" stroke-width="24" stroke-linecap="butt" stroke-linejoin="round"/>
<path d="M1866,486 C1869.2,484.3 1878.5,478.8 1885,476 C1891.5,473.2 1901.7,470.2 1905,469" fill="none" stroke="#700" stroke-width="7.6" stroke-linecap="butt" stroke-linejoin="round"/><path d="M1866,486 C1869.2,484.3 1878.5,478.8 1885,476 C1891.5,473.2 1901.7,470.2 1905,469" fill="none" stroke="#e00000" stroke-width="6" stroke-linecap="butt" stroke-linejoin="round"/>
<path d="M1872,478 C1871.3,475.8 1869,468.7 1868,465 C1867,461.3 1866.3,457.5 1866,456" fill="none" stroke="#700" stroke-width="7.6" stroke-linecap="butt" stroke-linejoin="round"/><path d="M1872,478 C1871.3,475.8 1869,468.7 1868,465 C1867,461.3 1866.3,457.5 1866,456" fill="none" stroke="#e00000" stroke-width="6" stroke-linecap="butt" stroke-linejoin="round"/>
</g>
<rect x="1536.7" y="383.9" width="421.2" height="269.4" fill="none" stroke="#1a1a1a" stroke-width="2.7"/>
<text x="1845.5" y="451.5" font-size="26">V86</text>
<text x="1701.5" y="597.9" font-size="26">V86</text>
<text x="1754" y="490" font-size="25" font-weight="bold">1a</text>
<text x="1586.5" y="545.9" font-size="25" font-weight="bold">1a</text>
<!-- panel_d -->
<text x="970" y="749.5" font-size="38" font-weight="bold">d</text>
<rect x="1104.9" y="825.5" width="19.4" height="311.3" fill="#fff" stroke="#000" stroke-width="2.2"/>
<circle cx="1108.6" cy="825.5" r="2.9" fill="#000"/>
<circle cx="1112.6" cy="825.5" r="2.9" fill="#000"/>
<circle cx="1116.6" cy="825.5" r="2.9" fill="#000"/>
<circle cx="1120.6" cy="825.5" r="2.9" fill="#000"/>
<rect x="1127.2" y="1135.2" width="19.4" height="1.6" fill="#ff4242" stroke="#000" stroke-width="2.2"/>
<line x1="1136.9" y1="1135.2" x2="1136.9" y2="1133.7" stroke="#000" stroke-width="2"/>
<line x1="1131.9" y1="1133.7" x2="1141.9" y2="1133.7" stroke="#000" stroke-width="2"/>
<circle cx="1130.9" cy="1135.9" r="2.9" fill="#000"/>
<circle cx="1134.9" cy="1135.6" r="2.9" fill="#000"/>
<circle cx="1137.9" cy="1132.8" r="2.9" fill="#000"/>
<circle cx="1142.9" cy="1136.2" r="2.9" fill="#000"/>
<rect x="1149.5" y="1135.9" width="19.4" height="0.9" fill="#4040ff" stroke="#000" stroke-width="2.2"/>
<line x1="1159.2" y1="1135.9" x2="1159.2" y2="1134.9" stroke="#000" stroke-width="2"/>
<line x1="1154.2" y1="1134.9" x2="1164.2" y2="1134.9" stroke="#000" stroke-width="2"/>
<circle cx="1155.2" cy="1136.2" r="2.9" fill="#000"/>
<circle cx="1159.2" cy="1135.9" r="2.9" fill="#000"/>
<circle cx="1163.2" cy="1135.2" r="2.9" fill="#000"/>
<rect x="1191.1" y="852.9" width="19.4" height="283.9" fill="#a5a5aa" stroke="#000" stroke-width="2.2"/>
<line x1="1200.8" y1="852.9" x2="1200.8" y2="847.3" stroke="#000" stroke-width="2"/>
<line x1="1195.8" y1="847.3" x2="1205.8" y2="847.3" stroke="#000" stroke-width="2"/>
<circle cx="1200.8" cy="840.1" r="2.9" fill="#000"/>
<circle cx="1200.8" cy="852" r="2.9" fill="#000"/>
<circle cx="1200.8" cy="857.3" r="2.9" fill="#000"/>
<circle cx="1200.8" cy="865" r="2.9" fill="#000"/>
<circle cx="1219.1" cy="1136.5" r="2.9" fill="#000"/>
<circle cx="1225.1" cy="1135.9" r="2.9" fill="#000"/>
<circle cx="1245.4" cy="1136.2" r="2.9" fill="#000"/>
<rect x="1277.4" y="838.3" width="19.4" height="298.5" fill="#a5a5aa" stroke="#000" stroke-width="2.2"/>
<line x1="1287.1" y1="838.3" x2="1287.1" y2="832.3" stroke="#000" stroke-width="2"/>
<line x1="1282.1" y1="832.3" x2="1292.1" y2="832.3" stroke="#000" stroke-width="2"/>
<circle cx="1287.1" cy="826.1" r="2.9" fill="#000"/>
<circle cx="1287.1" cy="830.5" r="2.9" fill="#000"/>
<circle cx="1283.1" cy="847.3" r="2.9" fill="#000"/>
<circle cx="1291.1" cy="847.3" r="2.9" fill="#000"/>
<rect x="1299.7" y="1131.2" width="19.4" height="5.6" fill="#ff4242" stroke="#000" stroke-width="2.2"/>
<line x1="1309.4" y1="1131.2" x2="1309.4" y2="1130" stroke="#000" stroke-width="2"/>
<line x1="1304.4" y1="1130" x2="1314.4" y2="1130" stroke="#000" stroke-width="2"/>
<circle cx="1302.4" cy="1129.3" r="2.9" fill="#000"/>
<circle cx="1306.9" cy="1129" r="2.9" fill="#000"/>
<circle cx="1311.4" cy="1129.3" r="2.9" fill="#000"/>
<circle cx="1316.4" cy="1129.6" r="2.9" fill="#000"/>
<rect x="1322" y="1135.4" width="19.4" height="1.4" fill="#4040ff" stroke="#000" stroke-width="2.2"/>
<line x1="1331.7" y1="1135.4" x2="1331.7" y2="1134" stroke="#000" stroke-width="2"/>
<line x1="1326.7" y1="1134" x2="1336.7" y2="1134" stroke="#000" stroke-width="2"/>
<circle cx="1325.7" cy="1133.4" r="2.9" fill="#000"/>
<circle cx="1330.7" cy="1133.7" r="2.9" fill="#000"/>
<circle cx="1334.7" cy="1134.9" r="2.9" fill="#000"/>
<circle cx="1338.7" cy="1135.9" r="2.9" fill="#000"/>
<rect x="1363.6" y="879.7" width="19.4" height="257.1" fill="#a5a5aa" stroke="#000" stroke-width="2.2"/>
<line x1="1373.3" y1="879.7" x2="1373.3" y2="871.9" stroke="#000" stroke-width="2"/>
<line x1="1368.3" y1="871.9" x2="1378.3" y2="871.9" stroke="#000" stroke-width="2"/>
<circle cx="1373.3" cy="861.6" r="2.9" fill="#000"/>
<circle cx="1373.3" cy="871.9" r="2.9" fill="#000"/>
<circle cx="1369.3" cy="891.2" r="2.9" fill="#000"/>
<circle cx="1377.3" cy="891.2" r="2.9" fill="#000"/>
<rect x="1385.9" y="974.6" width="19.4" height="162.2" fill="#ff4242" stroke="#000" stroke-width="2.2"/>
<line x1="1395.6" y1="974.6" x2="1395.6" y2="968.1" stroke="#000" stroke-width="2"/>
<line x1="1390.6" y1="968.1" x2="1400.6" y2="968.1" stroke="#000" stroke-width="2"/>
<circle cx="1391.6" cy="965" r="2.9" fill="#000"/>
<circle cx="1399.6" cy="963.7" r="2.9" fill="#000"/>
<circle cx="1395.6" cy="981.1" r="2.9" fill="#000"/>
<circle cx="1395.6" cy="985.5" r="2.9" fill="#000"/>
<rect x="1408.2" y="1001.4" width="19.4" height="135.4" fill="#4040ff" stroke="#000" stroke-width="2.2"/>
<line x1="1417.9" y1="1001.4" x2="1417.9" y2="995.5" stroke="#000" stroke-width="2"/>
<line x1="1412.9" y1="995.5" x2="1422.9" y2="995.5" stroke="#000" stroke-width="2"/>
<circle cx="1417.9" cy="991.1" r="2.9" fill="#000"/>
<circle cx="1417.9" cy="994.2" r="2.9" fill="#000"/>
<circle cx="1413.9" cy="1009.2" r="2.9" fill="#000"/>
<circle cx="1421.9" cy="1009.2" r="2.9" fill="#000"/>
<line x1="1094.3" y1="793.7" x2="1094.3" y2="1138" stroke="#000" stroke-width="2.5"/>
<line x1="1093" y1="1136.8" x2="1437.6" y2="1136.8" stroke="#000" stroke-width="2.5"/>
<line x1="1081" y1="1136.8" x2="1094" y2="1136.8" stroke="#000" stroke-width="2.5"/>
<text x="1077.5" y="1145.4" font-size="24" text-anchor="end">0</text>
<line x1="1081" y1="1059" x2="1094" y2="1059" stroke="#000" stroke-width="2.5"/>
<text x="1077.5" y="1067.6" font-size="24" text-anchor="end">25</text>
<line x1="1081" y1="981.1" x2="1094" y2="981.1" stroke="#000" stroke-width="2.5"/>
<text x="1077.5" y="989.8" font-size="24" text-anchor="end">50</text>
<line x1="1081" y1="903.3" x2="1094" y2="903.3" stroke="#000" stroke-width="2.5"/>
<text x="1077.5" y="911.9" font-size="24" text-anchor="end">75</text>
<line x1="1081" y1="825.5" x2="1094" y2="825.5" stroke="#000" stroke-width="2.5"/>
<text x="1077.5" y="834.1" font-size="24" text-anchor="end">100</text>
<line x1="1136.9" y1="1136.8" x2="1136.9" y2="1150.5" stroke="#000" stroke-width="2.5"/>
<line x1="1223.1" y1="1136.8" x2="1223.1" y2="1150.5" stroke="#000" stroke-width="2.5"/>
<line x1="1309.4" y1="1136.8" x2="1309.4" y2="1150.5" stroke="#000" stroke-width="2.5"/>
<line x1="1395.6" y1="1136.8" x2="1395.6" y2="1150.5" stroke="#000" stroke-width="2.5"/>
<rect x="1327.3" y="767.8" width="35.7" height="11" fill="#a5a5aa" stroke="#000" stroke-width="2"/>
<text x="1384" y="781.5" font-size="24">WT</text>
<rect x="1327.3" y="802.8" width="35.7" height="11" fill="#ff4242" stroke="#000" stroke-width="2"/>
<text x="1384" y="816.5" font-size="24">V86Anap</text>
<rect x="1327.3" y="836.5" width="35.7" height="11" fill="#4040ff" stroke="#000" stroke-width="2"/>
<text x="1384" y="850.2" font-size="24">F556Anap</text>
<g transform="translate(987,966) rotate(-90)"><text x="0" y="0" font-size="24" text-anchor="middle">[<tspan font-size="16" dy="-9">3</tspan><tspan dy="9">H]5-HT uptake</tspan></text></g>
<g transform="translate(1022,966) rotate(-90)"><text x="0" y="0" font-size="24" text-anchor="middle">(in % of WT<tspan font-size="17" dy="5">max</tspan><tspan dy="-5">)</tspan></text></g>
<text x="943.5" y="1178" font-size="24">SERT</text>
<text x="943.5" y="1211" font-size="24">tRNA-aaRS<tspan font-size="16" dy="-10.5">Anap</tspan></text>
<text x="943.5" y="1237.5" font-size="24">Anap</text>
<text x="1136.6" y="1178.5" font-size="24" text-anchor="middle">+</text>
<text x="1222.8" y="1178.5" font-size="24" text-anchor="middle">+</text>
<text x="1309.1" y="1178.5" font-size="24" text-anchor="middle">+</text>
<text x="1395.3" y="1178.5" font-size="24" text-anchor="middle">+</text>
<text x="1134.1" y="1206.3" font-size="24" text-anchor="middle">-</text>
<text x="1220.3" y="1206.3" font-size="24" text-anchor="middle">-</text>
<text x="1309.1" y="1206.3" font-size="24" text-anchor="middle">+</text>
<text x="1395.3" y="1206.3" font-size="24" text-anchor="middle">+</text>
<text x="1134.1" y="1233.5" font-size="24" text-anchor="middle">-</text>
<text x="1222.8" y="1233.5" font-size="24" text-anchor="middle">+</text>
<text x="1306.6" y="1233.5" font-size="24" text-anchor="middle">-</text>
<text x="1395.3" y="1233.5" font-size="24" text-anchor="middle">+</text>
<!-- panel_e -->
<text x="1511" y="749.5" font-size="38" font-weight="bold">e</text>
<line x1="1632.7" y1="795" x2="1632.7" y2="1138.2" stroke="#000" stroke-width="2.5"/>
<line x1="1631.5" y1="1137" x2="1975.2" y2="1137" stroke="#000" stroke-width="2.5"/>
<line x1="1619.5" y1="1137" x2="1632.5" y2="1137" stroke="#000" stroke-width="2.5"/>
<text x="1616" y="1145.6" font-size="24" text-anchor="end">0</text>
<line x1="1619.5" y1="1059.3" x2="1632.5" y2="1059.3" stroke="#000" stroke-width="2.5"/>
<text x="1616" y="1067.9" font-size="24" text-anchor="end">25</text>
<line x1="1619.5" y1="981.6" x2="1632.5" y2="981.6" stroke="#000" stroke-width="2.5"/>
<text x="1616" y="990.2" font-size="24" text-anchor="end">50</text>
<line x1="1619.5" y1="903.9" x2="1632.5" y2="903.9" stroke="#000" stroke-width="2.5"/>
<text x="1616" y="912.5" font-size="24" text-anchor="end">75</text>
<line x1="1619.5" y1="826.2" x2="1632.5" y2="826.2" stroke="#000" stroke-width="2.5"/>
<text x="1616" y="834.8" font-size="24" text-anchor="end">100</text>
<line x1="1648.3" y1="1137" x2="1648.3" y2="1150.5" stroke="#000" stroke-width="2.5"/>
<text x="1648.3" y="1175" font-size="24" text-anchor="middle">ctrl</text>
<line x1="1699.3" y1="1137" x2="1699.3" y2="1150.5" stroke="#000" stroke-width="2.5"/>
<text x="1699.3" y="1175" font-size="24" text-anchor="middle">-9</text>
<line x1="1741.7" y1="1137" x2="1741.7" y2="1150.5" stroke="#000" stroke-width="2.5"/>
<text x="1741.7" y="1175" font-size="24" text-anchor="middle">-8</text>
<line x1="1784.1" y1="1137" x2="1784.1" y2="1150.5" stroke="#000" stroke-width="2.5"/>
<text x="1784.1" y="1175" font-size="24" text-anchor="middle">-7</text>
<line x1="1826.5" y1="1137" x2="1826.5" y2="1150.5" stroke="#000" stroke-width="2.5"/>
<text x="1826.5" y="1175" font-size="24" text-anchor="middle">-6</text>
<line x1="1868.9" y1="1137" x2="1868.9" y2="1150.5" stroke="#000" stroke-width="2.5"/>
<text x="1868.9" y="1175" font-size="24" text-anchor="middle">-5</text>
<line x1="1911.3" y1="1137" x2="1911.3" y2="1150.5" stroke="#000" stroke-width="2.5"/>
<text x="1911.3" y="1175" font-size="24" text-anchor="middle">-4</text>
<line x1="1953.7" y1="1137" x2="1953.7" y2="1150.5" stroke="#000" stroke-width="2.5"/>
<text x="1953.7" y="1175" font-size="24" text-anchor="middle">-3</text>
<rect x="1662" y="1126" width="20" height="14" fill="#fff"/>
<line x1="1658.5" y1="1145" x2="1673.5" y2="1128.5" stroke="#000" stroke-width="2.2"/>
<line x1="1668.5" y1="1145" x2="1683.5" y2="1128.5" stroke="#000" stroke-width="2.2"/>
<text x="1804.5" y="1210.7" font-size="24" text-anchor="middle">log[5-HT] (M)</text>
<g transform="translate(1532,966) rotate(-90)"><text x="0" y="0" font-size="24" text-anchor="middle">[<tspan font-size="16" dy="-9">3</tspan><tspan dy="9">H]5-HT uptake</tspan></text></g>
<g transform="translate(1561,966) rotate(-90)"><text x="0" y="0" font-size="24" text-anchor="middle">(in % of ctrl)</text></g>
<path d="M1690.8,824 L1692.1,824 L1693.5,824 L1694.8,824 L1696.1,824.1 L1697.4,824.1 L1698.7,824.1 L1700.1,824.1 L1701.4,824.2 L1702.7,824.2 L1704,824.2 L1705.4,824.3 L1706.7,824.3 L1708,824.4 L1709.3,824.4 L1710.6,824.5 L1712,824.5 L1713.3,824.6 L1714.6,824.7 L1715.9,824.7 L1717.2,824.8 L1718.6,824.9 L1719.9,825 L1721.2,825.1 L1722.5,825.2 L1723.8,825.3 L1725.2,825.4 L1726.5,825.5 L1727.8,825.7 L1729.1,825.8 L1730.5,826 L1731.8,826.2 L1733.1,826.3 L1734.4,826.5 L1735.7,826.8 L1737.1,827 L1738.4,827.2 L1739.7,827.5 L1741,827.8 L1742.3,828.1 L1743.7,828.4 L1745,828.8 L1746.3,829.1 L1747.6,829.5 L1748.9,830 L1750.3,830.4 L1751.6,830.9 L1752.9,831.5 L1754.2,832 L1755.5,832.7 L1756.9,833.3 L1758.2,834 L1759.5,834.8 L1760.8,835.6 L1762.2,836.4 L1763.5,837.4 L1764.8,838.3 L1766.1,839.4 L1767.4,840.5 L1768.8,841.7 L1770.1,843 L1771.4,844.4 L1772.7,845.8 L1774,847.4 L1775.4,849 L1776.7,850.8 L1778,852.6 L1779.3,854.6 L1780.6,856.7 L1782,858.9 L1783.3,861.3 L1784.6,863.8 L1785.9,866.4 L1787.3,869.1 L1788.6,872 L1789.9,875.1 L1791.2,878.3 L1792.5,881.7 L1793.9,885.2 L1795.2,888.9 L1796.5,892.7 L1797.8,896.7 L1799.1,900.8 L1800.5,905.1 L1801.8,909.6 L1803.1,914.2 L1804.4,918.9 L1805.7,923.8 L1807.1,928.8 L1808.4,933.9 L1809.7,939.1 L1811,944.4 L1812.4,949.8 L1813.7,955.3 L1815,960.8 L1816.3,966.4 L1817.6,972 L1819,977.6 L1820.3,983.2 L1821.6,988.8 L1822.9,994.4 L1824.2,999.9 L1825.6,1005.4 L1826.9,1010.8 L1828.2,1016.1 L1829.5,1021.3 L1830.8,1026.4 L1832.2,1031.4 L1833.5,1036.2 L1834.8,1041 L1836.1,1045.5 L1837.5,1050 L1838.8,1054.2 L1840.1,1058.4 L1841.4,1062.3 L1842.7,1066.2 L1844.1,1069.8 L1845.4,1073.3 L1846.7,1076.6 L1848,1079.8 L1849.3,1082.9 L1850.7,1085.8 L1852,1088.5 L1853.3,1091.1 L1854.6,1093.6 L1855.9,1095.9 L1857.3,1098.1 L1858.6,1100.2 L1859.9,1102.1 L1861.2,1104 L1862.6,1105.7 L1863.9,1107.3 L1865.2,1108.9 L1866.5,1110.3 L1867.8,1111.7 L1869.2,1112.9 L1870.5,1114.1 L1871.8,1115.2 L1873.1,1116.3 L1874.4,1117.3 L1875.8,1118.2 L1877.1,1119 L1878.4,1119.8 L1879.7,1120.6 L1881,1121.3 L1882.4,1121.9 L1883.7,1122.5 L1885,1123.1 L1886.3,1123.6 L1887.6,1124.1 L1889,1124.6 L1890.3,1125 L1891.6,1125.4 L1892.9,1125.8 L1894.3,1126.1 L1895.6,1126.5 L1896.9,1126.8 L1898.2,1127 L1899.5,1127.3 L1900.9,1127.5 L1902.2,1127.8 L1903.5,1128 L1904.8,1128.2 L1906.1,1128.4 L1907.5,1128.5 L1908.8,1128.7 L1910.1,1128.8 L1911.4,1129 L1912.7,1129.1 L1914.1,1129.2 L1915.4,1129.3 L1916.7,1129.4 L1918,1129.5 L1919.4,1129.6 L1920.7,1129.7 L1922,1129.8 L1923.3,1129.8 L1924.6,1129.9 L1926,1130 L1927.3,1130 L1928.6,1130.1 L1929.9,1130.1 L1931.2,1130.2 L1932.6,1130.2 L1933.9,1130.3 L1935.2,1130.3 L1936.5,1130.3 L1937.8,1130.4 L1939.2,1130.4 L1940.5,1130.4 L1941.8,1130.4 L1943.1,1130.5 L1944.5,1130.5 L1945.8,1130.5 L1947.1,1130.5 L1948.4,1130.5 L1949.7,1130.6 L1951.1,1130.6 L1952.4,1130.6 L1953.7,1130.6" fill="none" stroke="#8a8a8a" stroke-width="2.2"/>
<path d="M1690.8,825.1 L1692.1,825.2 L1693.5,825.2 L1694.8,825.3 L1696.1,825.3 L1697.4,825.4 L1698.7,825.4 L1700.1,825.5 L1701.4,825.6 L1702.7,825.6 L1704,825.7 L1705.4,825.8 L1706.7,825.9 L1708,826 L1709.3,826.1 L1710.6,826.2 L1712,826.3 L1713.3,826.4 L1714.6,826.6 L1715.9,826.7 L1717.2,826.9 L1718.6,827.1 L1719.9,827.2 L1721.2,827.4 L1722.5,827.7 L1723.8,827.9 L1725.2,828.1 L1726.5,828.4 L1727.8,828.7 L1729.1,829 L1730.5,829.4 L1731.8,829.7 L1733.1,830.1 L1734.4,830.5 L1735.7,831 L1737.1,831.5 L1738.4,832 L1739.7,832.5 L1741,833.1 L1742.3,833.8 L1743.7,834.5 L1745,835.2 L1746.3,836 L1747.6,836.9 L1748.9,837.8 L1750.3,838.8 L1751.6,839.8 L1752.9,840.9 L1754.2,842.1 L1755.5,843.4 L1756.9,844.8 L1758.2,846.2 L1759.5,847.8 L1760.8,849.5 L1762.2,851.2 L1763.5,853.1 L1764.8,855.1 L1766.1,857.2 L1767.4,859.5 L1768.8,861.9 L1770.1,864.4 L1771.4,867.1 L1772.7,869.9 L1774,872.9 L1775.4,876 L1776.7,879.3 L1778,882.8 L1779.3,886.4 L1780.6,890.2 L1782,894.1 L1783.3,898.3 L1784.6,902.5 L1785.9,907 L1787.3,911.6 L1788.6,916.3 L1789.9,921.2 L1791.2,926.2 L1792.5,931.3 L1793.9,936.6 L1795.2,941.9 L1796.5,947.4 L1797.8,952.9 L1799.1,958.5 L1800.5,964.2 L1801.8,969.8 L1803.1,975.5 L1804.4,981.2 L1805.7,986.9 L1807.1,992.5 L1808.4,998.1 L1809.7,1003.7 L1811,1009.1 L1812.4,1014.5 L1813.7,1019.8 L1815,1024.9 L1816.3,1030 L1817.6,1034.9 L1819,1039.6 L1820.3,1044.2 L1821.6,1048.7 L1822.9,1053 L1824.2,1057.1 L1825.6,1061.1 L1826.9,1064.9 L1828.2,1068.5 L1829.5,1072 L1830.8,1075.3 L1832.2,1078.5 L1833.5,1081.4 L1834.8,1084.3 L1836.1,1087 L1837.5,1089.5 L1838.8,1091.9 L1840.1,1094.2 L1841.4,1096.3 L1842.7,1098.4 L1844.1,1100.3 L1845.4,1102 L1846.7,1103.7 L1848,1105.3 L1849.3,1106.8 L1850.7,1108.1 L1852,1109.4 L1853.3,1110.6 L1854.6,1111.8 L1855.9,1112.8 L1857.3,1113.8 L1858.6,1114.7 L1859.9,1115.6 L1861.2,1116.4 L1862.6,1117.1 L1863.9,1117.8 L1865.2,1118.5 L1866.5,1119.1 L1867.8,1119.7 L1869.2,1120.2 L1870.5,1120.7 L1871.8,1121.1 L1873.1,1121.6 L1874.4,1121.9 L1875.8,1122.3 L1877.1,1122.6 L1878.4,1123 L1879.7,1123.3 L1881,1123.5 L1882.4,1123.8 L1883.7,1124 L1885,1124.2 L1886.3,1124.4 L1887.6,1124.6 L1889,1124.8 L1890.3,1125 L1891.6,1125.1 L1892.9,1125.3 L1894.3,1125.4 L1895.6,1125.5 L1896.9,1125.6 L1898.2,1125.7 L1899.5,1125.8 L1900.9,1125.9 L1902.2,1126 L1903.5,1126.1 L1904.8,1126.1 L1906.1,1126.2 L1907.5,1126.3 L1908.8,1126.3 L1910.1,1126.4 L1911.4,1126.4 L1912.7,1126.5 L1914.1,1126.5 L1915.4,1126.6 L1916.7,1126.6 L1918,1126.6 L1919.4,1126.7 L1920.7,1126.7 L1922,1126.7 L1923.3,1126.7 L1924.6,1126.8 L1926,1126.8 L1927.3,1126.8 L1928.6,1126.8 L1929.9,1126.8 L1931.2,1126.9 L1932.6,1126.9 L1933.9,1126.9 L1935.2,1126.9 L1936.5,1126.9 L1937.8,1126.9 L1939.2,1126.9 L1940.5,1126.9 L1941.8,1126.9 L1943.1,1127 L1944.5,1127 L1945.8,1127 L1947.1,1127 L1948.4,1127 L1949.7,1127 L1951.1,1127 L1952.4,1127 L1953.7,1127" fill="none" stroke="#f24444" stroke-width="2.2"/>
<path d="M1690.8,824 L1692.1,824 L1693.5,824 L1694.8,824 L1696.1,824.1 L1697.4,824.1 L1698.7,824.1 L1700.1,824.1 L1701.4,824.2 L1702.7,824.2 L1704,824.2 L1705.4,824.3 L1706.7,824.3 L1708,824.4 L1709.3,824.4 L1710.6,824.5 L1712,824.5 L1713.3,824.6 L1714.6,824.7 L1715.9,824.7 L1717.2,824.8 L1718.6,824.9 L1719.9,825 L1721.2,825.1 L1722.5,825.2 L1723.8,825.3 L1725.2,825.4 L1726.5,825.5 L1727.8,825.7 L1729.1,825.8 L1730.5,826 L1731.8,826.1 L1733.1,826.3 L1734.4,826.5 L1735.7,826.7 L1737.1,826.9 L1738.4,827.2 L1739.7,827.5 L1741,827.7 L1742.3,828 L1743.7,828.4 L1745,828.7 L1746.3,829.1 L1747.6,829.5 L1748.9,829.9 L1750.3,830.4 L1751.6,830.9 L1752.9,831.4 L1754.2,832 L1755.5,832.6 L1756.9,833.2 L1758.2,833.9 L1759.5,834.7 L1760.8,835.5 L1762.2,836.3 L1763.5,837.2 L1764.8,838.2 L1766.1,839.2 L1767.4,840.4 L1768.8,841.5 L1770.1,842.8 L1771.4,844.2 L1772.7,845.6 L1774,847.1 L1775.4,848.8 L1776.7,850.5 L1778,852.3 L1779.3,854.3 L1780.6,856.4 L1782,858.6 L1783.3,860.9 L1784.6,863.3 L1785.9,865.9 L1787.3,868.7 L1788.6,871.5 L1789.9,874.6 L1791.2,877.7 L1792.5,881.1 L1793.9,884.6 L1795.2,888.2 L1796.5,892 L1797.8,895.9 L1799.1,900 L1800.5,904.3 L1801.8,908.7 L1803.1,913.3 L1804.4,918 L1805.7,922.8 L1807.1,927.7 L1808.4,932.8 L1809.7,938 L1811,943.2 L1812.4,948.6 L1813.7,954 L1815,959.5 L1816.3,965 L1817.6,970.5 L1819,976.1 L1820.3,981.6 L1821.6,987.2 L1822.9,992.7 L1824.2,998.1 L1825.6,1003.6 L1826.9,1008.9 L1828.2,1014.1 L1829.5,1019.3 L1830.8,1024.3 L1832.2,1029.3 L1833.5,1034.1 L1834.8,1038.8 L1836.1,1043.3 L1837.5,1047.7 L1838.8,1051.9 L1840.1,1056 L1841.4,1059.9 L1842.7,1063.7 L1844.1,1067.3 L1845.4,1070.8 L1846.7,1074.1 L1848,1077.2 L1849.3,1080.2 L1850.7,1083.1 L1852,1085.8 L1853.3,1088.4 L1854.6,1090.8 L1855.9,1093.1 L1857.3,1095.3 L1858.6,1097.4 L1859.9,1099.3 L1861.2,1101.1 L1862.6,1102.8 L1863.9,1104.5 L1865.2,1106 L1866.5,1107.4 L1867.8,1108.8 L1869.2,1110 L1870.5,1111.2 L1871.8,1112.3 L1873.1,1113.3 L1874.4,1114.3 L1875.8,1115.2 L1877.1,1116 L1878.4,1116.8 L1879.7,1117.6 L1881,1118.3 L1882.4,1118.9 L1883.7,1119.5 L1885,1120.1 L1886.3,1120.6 L1887.6,1121.1 L1889,1121.5 L1890.3,1122 L1891.6,1122.4 L1892.9,1122.7 L1894.3,1123.1 L1895.6,1123.4 L1896.9,1123.7 L1898.2,1124 L1899.5,1124.2 L1900.9,1124.5 L1902.2,1124.7 L1903.5,1124.9 L1904.8,1125.1 L1906.1,1125.3 L1907.5,1125.4 L1908.8,1125.6 L1910.1,1125.7 L1911.4,1125.9 L1912.7,1126 L1914.1,1126.1 L1915.4,1126.2 L1916.7,1126.3 L1918,1126.4 L1919.4,1126.5 L1920.7,1126.6 L1922,1126.7 L1923.3,1126.7 L1924.6,1126.8 L1926,1126.9 L1927.3,1126.9 L1928.6,1127 L1929.9,1127 L1931.2,1127.1 L1932.6,1127.1 L1933.9,1127.2 L1935.2,1127.2 L1936.5,1127.2 L1937.8,1127.3 L1939.2,1127.3 L1940.5,1127.3 L1941.8,1127.3 L1943.1,1127.4 L1944.5,1127.4 L1945.8,1127.4 L1947.1,1127.4 L1948.4,1127.4 L1949.7,1127.5 L1951.1,1127.5 L1952.4,1127.5 L1953.7,1127.5" fill="none" stroke="#1414b4" stroke-width="2.2"/>
<line x1="1648.3" y1="824" x2="1666" y2="824" stroke="#1414b4" stroke-width="2.4"/>
<line x1="1677" y1="824" x2="1699.3" y2="824.3" stroke="#1414b4" stroke-width="2.4"/>
<circle cx="1648.3" cy="823.1" r="6" fill="#8a8a8a"/>
<circle cx="1699.3" cy="829.3" r="6" fill="#8a8a8a"/>
<circle cx="1741.7" cy="835.5" r="6" fill="#8a8a8a"/>
<circle cx="1762.9" cy="832.4" r="6" fill="#8a8a8a"/>
<circle cx="1784.1" cy="855.7" r="6" fill="#8a8a8a"/>
<line x1="1805.3" y1="936.5" x2="1805.3" y2="914.8" stroke="#8a8a8a" stroke-width="2"/>
<line x1="1800.3" y1="914.8" x2="1810.3" y2="914.8" stroke="#8a8a8a" stroke-width="2"/>
<line x1="1800.3" y1="936.5" x2="1810.3" y2="936.5" stroke="#8a8a8a" stroke-width="2"/>
<circle cx="1805.3" cy="925.7" r="6" fill="#8a8a8a"/>
<line x1="1826.5" y1="1031.3" x2="1826.5" y2="1012.7" stroke="#8a8a8a" stroke-width="2"/>
<line x1="1821.5" y1="1012.7" x2="1831.5" y2="1012.7" stroke="#8a8a8a" stroke-width="2"/>
<line x1="1821.5" y1="1031.3" x2="1831.5" y2="1031.3" stroke="#8a8a8a" stroke-width="2"/>
<circle cx="1826.5" cy="1022" r="6" fill="#8a8a8a"/>
<circle cx="1847.7" cy="1084.2" r="6" fill="#8a8a8a"/>
<circle cx="1868.9" cy="1113.7" r="6" fill="#8a8a8a"/>
<circle cx="1911.3" cy="1127.7" r="6" fill="#8a8a8a"/>
<circle cx="1953.7" cy="1129.2" r="6" fill="#8a8a8a"/>
<line x1="1648.3" y1="823.1" x2="1648.3" y2="810.7" stroke="#f24444" stroke-width="2"/>
<line x1="1643.3" y1="810.7" x2="1653.3" y2="810.7" stroke="#f24444" stroke-width="2"/>
<line x1="1643.3" y1="823.1" x2="1653.3" y2="823.1" stroke="#f24444" stroke-width="2"/>
<rect x="1642.8" y="811.4" width="11" height="11" fill="#f24444"/>
<rect x="1693.8" y="826.9" width="11" height="11" fill="#f24444"/>
<rect x="1736.2" y="839.3" width="11" height="11" fill="#f24444"/>
<rect x="1757.4" y="836.2" width="11" height="11" fill="#f24444"/>
<rect x="1778.6" y="882.9" width="11" height="11" fill="#f24444"/>
<line x1="1805.3" y1="983.2" x2="1805.3" y2="967.6" stroke="#f24444" stroke-width="2"/>
<line x1="1800.3" y1="967.6" x2="1810.3" y2="967.6" stroke="#f24444" stroke-width="2"/>
<line x1="1800.3" y1="983.2" x2="1810.3" y2="983.2" stroke="#f24444" stroke-width="2"/>
<rect x="1799.8" y="969.9" width="11" height="11" fill="#f24444"/>
<rect x="1821" y="1049.1" width="11" height="11" fill="#f24444"/>
<rect x="1842.2" y="1092.7" width="11" height="11" fill="#f24444"/>
<rect x="1863.4" y="1112.9" width="11" height="11" fill="#f24444"/>
<rect x="1905.8" y="1119.1" width="11" height="11" fill="#f24444"/>
<rect x="1948.2" y="1120.6" width="11" height="11" fill="#f24444"/>
<line x1="1648.3" y1="823.1" x2="1648.3" y2="810.7" stroke="#1414b4" stroke-width="2"/>
<line x1="1643.3" y1="810.7" x2="1653.3" y2="810.7" stroke="#1414b4" stroke-width="2"/>
<line x1="1643.3" y1="823.1" x2="1653.3" y2="823.1" stroke="#1414b4" stroke-width="2"/>
<path d="M1648.3,810.4 L1654.6,821.4 L1642,821.4Z" fill="#1414b4"/>
<path d="M1699.3,827.5 L1705.6,838.5 L1693,838.5Z" fill="#1414b4"/>
<path d="M1741.7,830.6 L1748,841.6 L1735.4,841.6Z" fill="#1414b4"/>
<line x1="1762.9" y1="843.3" x2="1762.9" y2="834" stroke="#1414b4" stroke-width="2"/>
<line x1="1757.9" y1="834" x2="1767.9" y2="834" stroke="#1414b4" stroke-width="2"/>
<line x1="1757.9" y1="843.3" x2="1767.9" y2="843.3" stroke="#1414b4" stroke-width="2"/>
<path d="M1762.9,832.1 L1769.2,843.1 L1756.6,843.1Z" fill="#1414b4"/>
<line x1="1784.1" y1="861.9" x2="1784.1" y2="852.6" stroke="#1414b4" stroke-width="2"/>
<line x1="1779.1" y1="852.6" x2="1789.1" y2="852.6" stroke="#1414b4" stroke-width="2"/>
<line x1="1779.1" y1="861.9" x2="1789.1" y2="861.9" stroke="#1414b4" stroke-width="2"/>
<path d="M1784.1,850.8 L1790.4,861.8 L1777.8,861.8Z" fill="#1414b4"/>
<line x1="1805.3" y1="940.6" x2="1805.3" y2="926.3" stroke="#1414b4" stroke-width="2"/>
<line x1="1800.3" y1="926.3" x2="1810.3" y2="926.3" stroke="#1414b4" stroke-width="2"/>
<line x1="1800.3" y1="940.6" x2="1810.3" y2="940.6" stroke="#1414b4" stroke-width="2"/>
<path d="M1805.3,926.9 L1811.6,937.9 L1799,937.9Z" fill="#1414b4"/>
<path d="M1826.5,1010.8 L1832.8,1021.8 L1820.2,1021.8Z" fill="#1414b4"/>
<path d="M1847.7,1080.8 L1854,1091.8 L1841.4,1091.8Z" fill="#1414b4"/>
<path d="M1868.9,1104.1 L1875.2,1115.1 L1862.6,1115.1Z" fill="#1414b4"/>
<path d="M1911.3,1119.6 L1917.6,1130.6 L1905,1130.6Z" fill="#1414b4"/>
<path d="M1953.7,1119.6 L1960,1130.6 L1947.4,1130.6Z" fill="#1414b4"/>
<line x1="1830.7" y1="843.4" x2="1866.5" y2="843.4" stroke="#8a8a8a" stroke-width="2.2"/>
<circle cx="1848.6" cy="843.4" r="6.3" fill="#8a8a8a"/>
<line x1="1830.7" y1="878" x2="1866.5" y2="878" stroke="#f24444" stroke-width="2.2"/>
<rect x="1843" y="872.4" width="11.2" height="11.2" fill="#f24444"/>
<line x1="1830.7" y1="912.5" x2="1866.5" y2="912.5" stroke="#1414b4" stroke-width="2.2"/>
<path d="M1848.6,905.5 L1855,916.5 L1842.2,916.5Z" fill="#1414b4"/>
<text x="1887.5" y="851.6" font-size="24">WT</text>
<text x="1887.5" y="886" font-size="24">V86Anap</text>
<text x="1887.5" y="920.5" font-size="24">F556Anap</text>
</svg>
</body></html>
